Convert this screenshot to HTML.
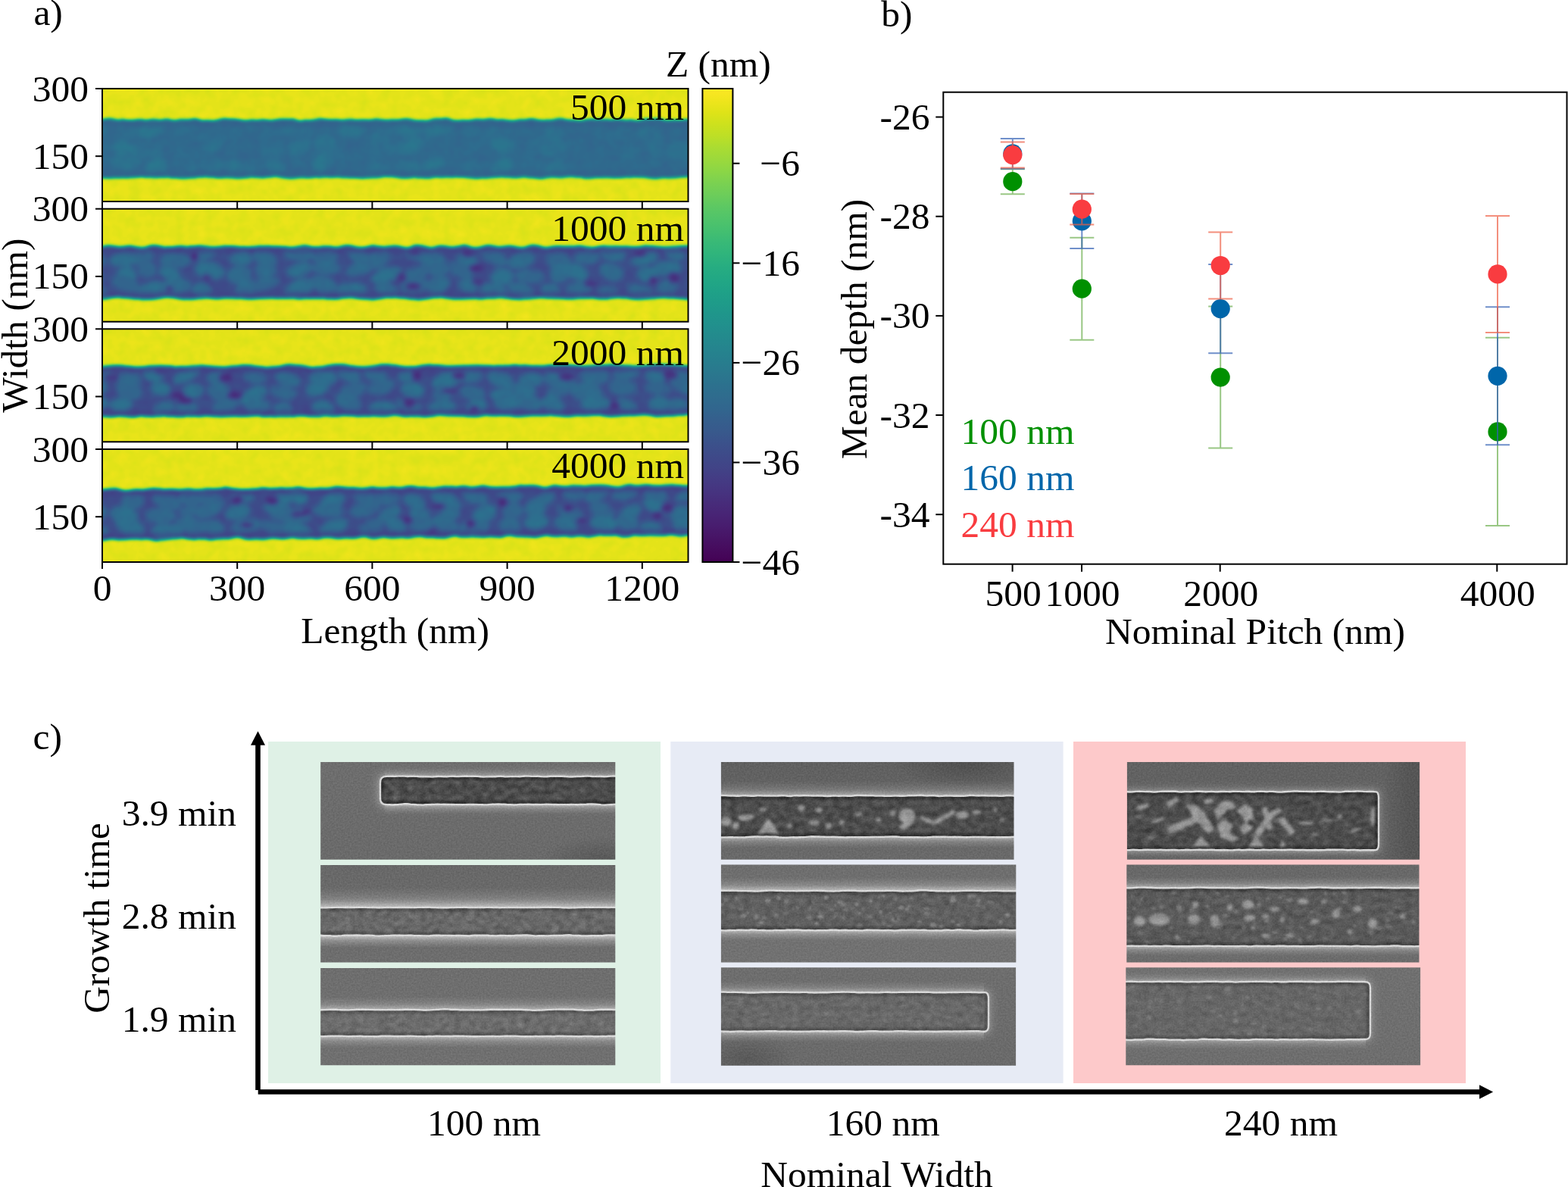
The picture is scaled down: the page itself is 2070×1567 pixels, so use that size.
<!DOCTYPE html>
<html><head><meta charset="utf-8"><title>Figure</title><style>
html,body{margin:0;padding:0;background:#fff;}
body{width:2070px;height:1567px;overflow:hidden;}
svg{display:block;}
text{font-family:"Liberation Serif","Times New Roman",serif;fill:#000;}
</style></head><body>
<svg width="2070" height="1567" viewBox="0 0 2070 1567">
<defs><filter id="virf" x="0" y="0" width="1" height="1" filterUnits="objectBoundingBox" color-interpolation-filters="sRGB">
<feTurbulence type="fractalNoise" baseFrequency="0.07" numOctaves="2" seed="11" result="n"/>
<feColorMatrix in="n" type="matrix" values="1 0 0 0 0 1 0 0 0 0 1 0 0 0 0 0 0 0 0 1" result="ng"/>
<feComposite in="SourceGraphic" in2="ng" operator="arithmetic" k1="0" k2="1" k3="0.045" k4="-0.0225" result="h"/>
<feComponentTransfer in="h"><feFuncR type="table" tableValues="0.267 0.273 0.277 0.280 0.282 0.283 0.283 0.281 0.279 0.275 0.271 0.265 0.259 0.252 0.245 0.237 0.228 0.220 0.212 0.205 0.198 0.191 0.184 0.177 0.171 0.165 0.159 0.153 0.148 0.142 0.136 0.131 0.125 0.122 0.120 0.120 0.122 0.128 0.137 0.150 0.166 0.186 0.208 0.233 0.260 0.289 0.320 0.352 0.395 0.431 0.468 0.506 0.546 0.586 0.627 0.668 0.710 0.752 0.794 0.835 0.876 0.916 0.955 0.993"/><feFuncG type="table" tableValues="0.005 0.026 0.050 0.073 0.095 0.116 0.136 0.156 0.175 0.195 0.214 0.233 0.252 0.270 0.288 0.305 0.327 0.343 0.360 0.376 0.392 0.407 0.422 0.438 0.453 0.467 0.482 0.497 0.512 0.526 0.541 0.556 0.574 0.589 0.604 0.618 0.633 0.648 0.662 0.677 0.691 0.705 0.719 0.732 0.745 0.758 0.771 0.783 0.797 0.808 0.819 0.829 0.838 0.847 0.855 0.862 0.869 0.875 0.881 0.886 0.891 0.896 0.901 0.906"/><feFuncB type="table" tableValues="0.329 0.353 0.376 0.397 0.417 0.436 0.453 0.469 0.483 0.496 0.507 0.517 0.525 0.532 0.537 0.542 0.547 0.549 0.552 0.554 0.555 0.556 0.557 0.558 0.558 0.558 0.558 0.558 0.557 0.556 0.554 0.552 0.549 0.546 0.541 0.536 0.530 0.523 0.516 0.507 0.497 0.485 0.473 0.459 0.444 0.428 0.411 0.393 0.368 0.346 0.324 0.300 0.276 0.250 0.223 0.196 0.169 0.143 0.120 0.103 0.095 0.101 0.118 0.144"/><feFuncA type="identity"/></feComponentTransfer>
</filter>
<filter id="bl2" x="-20%" y="-50%" width="140%" height="200%" color-interpolation-filters="sRGB"><feGaussianBlur stdDeviation="2.2"/></filter>
<filter id="bl3" x="-10%" y="-50%" width="120%" height="200%" color-interpolation-filters="sRGB"><feGaussianBlur stdDeviation="2.6"/></filter>
<filter id="bl4" x="-20%" y="-50%" width="140%" height="200%" color-interpolation-filters="sRGB"><feGaussianBlur stdDeviation="4"/></filter>
<filter id="bl18" x="-10%" y="-50%" width="120%" height="200%" color-interpolation-filters="sRGB"><feGaussianBlur stdDeviation="1.8"/></filter>
<filter id="bl07" x="-10%" y="-50%" width="120%" height="200%" color-interpolation-filters="sRGB"><feGaussianBlur stdDeviation="0.75"/></filter>
<filter id="bl05" x="-10%" y="-50%" width="120%" height="200%" color-interpolation-filters="sRGB"><feGaussianBlur stdDeviation="0.6"/></filter>
<filter id="bl1" x="-10%" y="-50%" width="120%" height="200%" color-interpolation-filters="sRGB"><feGaussianBlur stdDeviation="1.3"/></filter>
<clipPath id="cpa0"><rect x="135.0" y="117.0" width="773.5" height="149.0"/></clipPath>
<clipPath id="cpt0"><path d="M127.0 159.0 L132.0 158.1 L137.0 157.5 L142.0 156.5 L147.0 156.4 L152.0 157.7 L157.0 158.5 L162.0 157.6 L167.0 158.5 L172.0 158.7 L177.0 158.5 L182.0 157.8 L187.0 157.8 L192.0 158.8 L197.0 157.9 L202.0 157.4 L207.0 158.1 L212.0 158.4 L217.0 157.5 L222.0 157.3 L227.0 158.7 L232.0 158.9 L237.0 157.7 L242.0 157.7 L247.0 158.0 L252.0 157.5 L257.0 156.5 L262.0 157.8 L267.0 159.3 L272.0 159.1 L277.0 159.2 L282.0 159.6 L287.0 158.6 L292.0 156.9 L297.0 156.6 L302.0 157.0 L307.0 157.0 L312.0 157.5 L317.0 158.2 L322.0 159.1 L327.0 158.9 L332.0 158.3 L337.0 158.7 L342.0 158.6 L347.0 157.7 L352.0 158.2 L357.0 158.9 L362.0 158.4 L367.0 157.4 L372.0 156.9 L377.0 157.3 L382.0 157.3 L387.0 157.1 L392.0 158.7 L397.0 159.8 L402.0 158.8 L407.0 158.7 L412.0 158.6 L417.0 157.7 L422.0 156.6 L427.0 157.1 L432.0 157.7 L437.0 157.9 L442.0 157.7 L447.0 158.1 L452.0 158.5 L457.0 157.9 L462.0 157.4 L467.0 158.0 L472.0 158.6 L477.0 158.1 L482.0 158.1 L487.0 158.5 L492.0 157.7 L497.0 157.0 L502.0 157.8 L507.0 158.3 L512.0 158.6 L517.0 158.1 L522.0 158.3 L527.0 158.1 L532.0 157.1 L537.0 156.8 L542.0 157.4 L547.0 158.8 L552.0 159.0 L557.0 158.9 L562.0 159.6 L567.0 158.7 L572.0 157.0 L577.0 156.4 L582.0 156.8 L587.0 156.1 L592.0 156.4 L597.0 158.5 L602.0 159.2 L607.0 159.0 L612.0 158.8 L617.0 159.0 L622.0 158.6 L627.0 157.4 L632.0 157.6 L637.0 157.8 L642.0 157.2 L647.0 156.6 L652.0 157.2 L657.0 158.2 L662.0 157.8 L667.0 158.4 L672.0 159.0 L677.0 159.2 L682.0 158.7 L687.0 157.7 L692.0 158.3 L697.0 157.3 L702.0 156.6 L707.0 157.4 L712.0 158.5 L717.0 159.0 L722.0 158.6 L727.0 158.4 L732.0 157.8 L737.0 156.6 L742.0 156.4 L747.0 157.7 L752.0 158.6 L757.0 158.6 L762.0 159.2 L767.0 159.6 L772.0 158.3 L777.0 157.4 L782.0 157.2 L787.0 157.8 L792.0 157.1 L797.0 157.7 L802.0 157.8 L807.0 158.5 L812.0 157.6 L817.0 157.8 L822.0 158.1 L827.0 158.9 L832.0 158.0 L837.0 159.0 L842.0 159.4 L847.0 158.3 L852.0 156.8 L857.0 156.9 L862.0 157.1 L867.0 156.6 L872.0 157.0 L877.0 158.8 L882.0 159.1 L887.0 158.4 L892.0 158.6 L897.0 158.9 L902.0 158.0 L907.0 157.7 L912.0 158.0 L917.0 158.0 L917.0 234.6 L912.0 233.4 L907.0 233.3 L902.0 233.5 L897.0 234.1 L892.0 234.8 L887.0 234.7 L882.0 234.9 L877.0 234.5 L872.0 235.1 L867.0 235.7 L862.0 235.5 L857.0 235.1 L852.0 234.3 L847.0 234.1 L842.0 233.9 L837.0 233.4 L832.0 234.2 L827.0 234.0 L822.0 234.4 L817.0 234.8 L812.0 234.9 L807.0 234.7 L802.0 234.3 L797.0 234.5 L792.0 234.5 L787.0 234.6 L782.0 235.2 L777.0 235.6 L772.0 235.5 L767.0 234.1 L762.0 234.1 L757.0 233.3 L752.0 233.3 L747.0 233.8 L742.0 234.4 L737.0 234.2 L732.0 234.1 L727.0 234.0 L722.0 234.5 L717.0 235.7 L712.0 236.0 L707.0 235.3 L702.0 234.8 L697.0 234.4 L692.0 233.6 L687.0 234.3 L682.0 234.8 L677.0 234.4 L672.0 234.1 L667.0 233.9 L662.0 233.4 L657.0 233.9 L652.0 234.2 L647.0 234.6 L642.0 235.2 L637.0 235.0 L632.0 235.7 L627.0 235.6 L622.0 235.0 L617.0 234.4 L612.0 233.9 L607.0 234.1 L602.0 233.6 L597.0 234.1 L592.0 233.8 L587.0 234.1 L582.0 234.3 L577.0 233.7 L572.0 234.3 L567.0 235.3 L562.0 235.2 L557.0 234.7 L552.0 234.8 L547.0 234.1 L542.0 234.7 L537.0 235.2 L532.0 235.3 L527.0 234.8 L522.0 233.7 L517.0 233.2 L512.0 233.3 L507.0 233.1 L502.0 233.9 L497.0 234.5 L492.0 234.5 L487.0 234.9 L482.0 235.2 L477.0 235.4 L472.0 234.9 L467.0 234.8 L462.0 234.8 L457.0 234.3 L452.0 234.5 L447.0 233.8 L442.0 234.1 L437.0 234.2 L432.0 233.7 L427.0 233.7 L422.0 234.4 L417.0 234.0 L412.0 234.6 L407.0 234.9 L402.0 234.7 L397.0 234.6 L392.0 235.0 L387.0 235.6 L382.0 235.7 L377.0 235.1 L372.0 234.4 L367.0 233.2 L362.0 233.0 L357.0 233.8 L352.0 234.0 L347.0 234.7 L342.0 234.3 L337.0 234.2 L332.0 233.8 L327.0 234.7 L322.0 235.1 L317.0 235.6 L312.0 235.4 L307.0 235.0 L302.0 234.4 L297.0 234.6 L292.0 235.0 L287.0 234.9 L282.0 234.0 L277.0 234.1 L272.0 233.2 L267.0 233.8 L262.0 233.8 L257.0 234.8 L252.0 235.1 L247.0 235.3 L242.0 235.4 L237.0 235.6 L232.0 235.0 L227.0 234.9 L222.0 234.1 L217.0 234.3 L212.0 234.3 L207.0 234.5 L202.0 234.3 L197.0 234.0 L192.0 234.2 L187.0 233.5 L182.0 234.0 L177.0 234.3 L172.0 234.6 L167.0 234.9 L162.0 234.8 L157.0 235.0 L152.0 234.8 L147.0 235.2 L142.0 235.3 L137.0 234.9 L132.0 234.4 L127.0 233.8Z"/></clipPath>
<clipPath id="cpa1"><rect x="135.0" y="275.7" width="773.5" height="149.0"/></clipPath>
<clipPath id="cpt1"><path d="M127.0 327.5 L132.0 326.6 L137.0 325.3 L142.0 324.2 L147.0 324.6 L152.0 325.3 L157.0 325.9 L162.0 325.8 L167.0 325.0 L172.0 324.5 L177.0 325.6 L182.0 326.5 L187.0 327.0 L192.0 326.5 L197.0 324.8 L202.0 324.0 L207.0 324.2 L212.0 325.3 L217.0 326.4 L222.0 326.1 L227.0 325.9 L232.0 325.4 L237.0 325.1 L242.0 325.2 L247.0 325.9 L252.0 325.1 L257.0 325.0 L262.0 324.4 L267.0 324.7 L272.0 325.5 L277.0 326.0 L282.0 326.2 L287.0 326.1 L292.0 325.5 L297.0 324.8 L302.0 325.0 L307.0 325.0 L312.0 325.4 L317.0 325.9 L322.0 325.7 L327.0 326.2 L332.0 326.0 L337.0 325.8 L342.0 325.1 L347.0 325.0 L352.0 324.8 L357.0 325.0 L362.0 325.4 L367.0 325.4 L372.0 325.8 L377.0 325.8 L382.0 326.7 L387.0 326.5 L392.0 325.7 L397.0 324.9 L402.0 324.1 L407.0 324.7 L412.0 326.0 L417.0 326.3 L422.0 326.2 L427.0 325.3 L432.0 325.6 L437.0 325.4 L442.0 326.6 L447.0 326.4 L452.0 325.0 L457.0 323.9 L462.0 324.2 L467.0 325.3 L472.0 326.5 L477.0 326.8 L482.0 326.2 L487.0 325.3 L492.0 324.0 L497.0 325.1 L502.0 325.5 L507.0 326.0 L512.0 325.4 L517.0 325.1 L522.0 324.8 L527.0 325.3 L532.0 326.4 L537.0 327.3 L542.0 326.5 L547.0 324.1 L552.0 323.7 L557.0 324.4 L562.0 325.7 L567.0 327.0 L572.0 326.9 L577.0 325.3 L582.0 324.4 L587.0 325.1 L592.0 326.0 L597.0 326.6 L602.0 325.8 L607.0 324.9 L612.0 323.6 L617.0 324.6 L622.0 326.5 L627.0 327.3 L632.0 326.7 L637.0 325.4 L642.0 323.9 L647.0 323.9 L652.0 324.9 L657.0 326.1 L662.0 326.1 L667.0 325.3 L672.0 324.8 L677.0 325.1 L682.0 326.3 L687.0 326.9 L692.0 326.7 L697.0 325.2 L702.0 323.7 L707.0 324.0 L712.0 325.0 L717.0 326.5 L722.0 326.9 L727.0 325.9 L732.0 325.2 L737.0 324.9 L742.0 325.3 L747.0 325.6 L752.0 325.4 L757.0 325.4 L762.0 324.7 L767.0 324.7 L772.0 325.8 L777.0 326.4 L782.0 326.9 L787.0 326.3 L792.0 325.3 L797.0 324.6 L802.0 325.2 L807.0 325.7 L812.0 325.3 L817.0 325.5 L822.0 325.4 L827.0 325.5 L832.0 326.1 L837.0 325.9 L842.0 326.0 L847.0 325.5 L852.0 324.4 L857.0 324.9 L862.0 325.0 L867.0 325.7 L872.0 326.1 L877.0 326.4 L882.0 326.2 L887.0 325.7 L892.0 325.8 L897.0 325.0 L902.0 325.1 L907.0 324.7 L912.0 324.9 L917.0 325.4 L917.0 395.3 L912.0 395.2 L907.0 395.1 L902.0 394.3 L897.0 394.0 L892.0 393.4 L887.0 393.3 L882.0 393.3 L877.0 392.8 L872.0 393.1 L867.0 393.3 L862.0 393.7 L857.0 394.3 L852.0 394.6 L847.0 395.0 L842.0 395.2 L837.0 394.9 L832.0 394.2 L827.0 393.3 L822.0 393.3 L817.0 392.8 L812.0 393.2 L807.0 393.6 L802.0 394.5 L797.0 394.6 L792.0 394.5 L787.0 394.0 L782.0 393.2 L777.0 393.5 L772.0 393.4 L767.0 393.5 L762.0 393.8 L757.0 394.4 L752.0 394.4 L747.0 394.6 L742.0 394.0 L737.0 393.7 L732.0 393.7 L727.0 393.6 L722.0 393.6 L717.0 393.1 L712.0 393.1 L707.0 393.5 L702.0 394.1 L697.0 394.6 L692.0 394.4 L687.0 395.3 L682.0 394.9 L677.0 394.8 L672.0 394.1 L667.0 393.5 L662.0 392.8 L657.0 393.1 L652.0 393.6 L647.0 393.4 L642.0 393.7 L637.0 394.4 L632.0 394.4 L627.0 394.0 L622.0 394.3 L617.0 394.3 L612.0 394.4 L607.0 394.7 L602.0 394.7 L597.0 394.4 L592.0 393.7 L587.0 393.3 L582.0 392.2 L577.0 393.0 L572.0 392.9 L567.0 394.0 L562.0 394.7 L557.0 395.3 L552.0 395.7 L547.0 395.0 L542.0 395.0 L537.0 394.0 L532.0 393.5 L527.0 393.3 L522.0 392.6 L517.0 392.9 L512.0 392.7 L507.0 393.2 L502.0 394.3 L497.0 394.9 L492.0 395.6 L487.0 395.1 L482.0 394.8 L477.0 394.5 L472.0 394.1 L467.0 393.0 L462.0 392.6 L457.0 393.3 L452.0 393.3 L447.0 394.5 L442.0 394.8 L437.0 394.4 L432.0 394.5 L427.0 393.8 L422.0 394.0 L417.0 393.7 L412.0 394.0 L407.0 394.0 L402.0 394.0 L397.0 394.4 L392.0 394.4 L387.0 393.6 L382.0 394.1 L377.0 393.9 L372.0 393.7 L367.0 394.1 L362.0 393.7 L357.0 393.4 L352.0 393.8 L347.0 393.9 L342.0 394.2 L337.0 394.4 L332.0 394.8 L327.0 394.7 L322.0 394.2 L317.0 393.9 L312.0 393.9 L307.0 393.4 L302.0 393.6 L297.0 393.6 L292.0 394.0 L287.0 394.4 L282.0 394.2 L277.0 393.7 L272.0 393.2 L267.0 394.0 L262.0 394.0 L257.0 394.7 L252.0 395.0 L247.0 394.9 L242.0 395.2 L237.0 394.5 L232.0 393.4 L227.0 392.8 L222.0 392.2 L217.0 392.5 L212.0 393.4 L207.0 394.2 L202.0 394.9 L197.0 395.2 L192.0 395.2 L187.0 395.3 L182.0 394.6 L177.0 394.5 L172.0 393.4 L167.0 393.3 L162.0 392.9 L157.0 392.3 L152.0 392.5 L147.0 393.1 L142.0 394.0 L137.0 394.7 L132.0 395.6 L127.0 395.2Z"/></clipPath>
<clipPath id="cpa2"><rect x="135.0" y="434.3" width="773.5" height="149.0"/></clipPath>
<clipPath id="cpt2"><path d="M127.0 484.7 L132.0 484.1 L137.0 484.0 L142.0 483.2 L147.0 482.7 L152.0 482.4 L157.0 482.6 L162.0 482.8 L167.0 483.6 L172.0 483.8 L177.0 484.6 L182.0 484.7 L187.0 484.6 L192.0 483.9 L197.0 483.2 L202.0 483.0 L207.0 482.9 L212.0 482.7 L217.0 483.1 L222.0 483.2 L227.0 483.6 L232.0 484.4 L237.0 484.0 L242.0 484.0 L247.0 484.0 L252.0 483.6 L257.0 483.0 L262.0 482.7 L267.0 482.6 L272.0 482.9 L277.0 483.5 L282.0 483.9 L287.0 484.2 L292.0 484.4 L297.0 484.7 L302.0 484.0 L307.0 483.6 L312.0 483.2 L317.0 482.5 L322.0 482.0 L327.0 482.3 L332.0 482.5 L337.0 483.4 L342.0 483.9 L347.0 484.5 L352.0 485.2 L357.0 484.8 L362.0 484.2 L367.0 483.9 L372.0 483.1 L377.0 481.7 L382.0 481.2 L387.0 481.8 L392.0 482.2 L397.0 482.5 L402.0 483.3 L407.0 484.5 L412.0 485.2 L417.0 484.8 L422.0 484.6 L427.0 484.0 L432.0 482.8 L437.0 482.0 L442.0 481.2 L447.0 481.2 L452.0 481.2 L457.0 481.8 L462.0 482.9 L467.0 483.6 L472.0 484.2 L477.0 484.5 L482.0 484.6 L487.0 484.0 L492.0 483.5 L497.0 482.4 L502.0 481.6 L507.0 481.2 L512.0 481.3 L517.0 482.0 L522.0 482.2 L527.0 483.2 L532.0 484.0 L537.0 484.4 L542.0 484.2 L547.0 484.2 L552.0 483.5 L557.0 482.6 L562.0 481.9 L567.0 481.6 L572.0 482.0 L577.0 481.9 L582.0 482.6 L587.0 483.2 L592.0 483.5 L597.0 483.4 L602.0 483.1 L607.0 483.1 L612.0 482.8 L617.0 482.8 L622.0 482.6 L627.0 482.6 L632.0 482.5 L637.0 482.8 L642.0 482.7 L647.0 482.8 L652.0 483.2 L657.0 482.7 L662.0 483.1 L667.0 482.8 L672.0 482.8 L677.0 482.0 L682.0 482.1 L687.0 482.7 L692.0 482.2 L697.0 482.7 L702.0 483.0 L707.0 483.0 L712.0 483.3 L717.0 483.2 L722.0 482.5 L727.0 482.0 L732.0 482.4 L737.0 481.9 L742.0 481.7 L747.0 481.8 L752.0 481.9 L757.0 482.6 L762.0 482.7 L767.0 483.1 L772.0 483.4 L777.0 483.0 L782.0 483.1 L787.0 482.1 L792.0 482.3 L797.0 482.0 L802.0 482.0 L807.0 481.3 L812.0 481.8 L817.0 482.1 L822.0 482.5 L827.0 482.7 L832.0 482.8 L837.0 483.4 L842.0 483.3 L847.0 483.0 L852.0 482.9 L857.0 482.2 L862.0 481.5 L867.0 481.7 L872.0 481.1 L877.0 481.6 L882.0 481.8 L887.0 481.7 L892.0 482.1 L897.0 482.4 L902.0 482.7 L907.0 483.5 L912.0 482.8 L917.0 483.0 L917.0 547.6 L912.0 547.4 L907.0 546.8 L902.0 548.0 L897.0 548.1 L892.0 548.4 L887.0 548.9 L882.0 548.9 L877.0 549.3 L872.0 549.6 L867.0 550.1 L862.0 549.0 L857.0 548.1 L852.0 547.4 L847.0 547.6 L842.0 548.0 L837.0 548.6 L832.0 548.2 L827.0 548.4 L822.0 548.6 L817.0 549.2 L812.0 549.4 L807.0 550.0 L802.0 549.6 L797.0 548.9 L792.0 547.8 L787.0 547.9 L782.0 548.1 L777.0 548.4 L772.0 548.8 L767.0 548.7 L762.0 548.5 L757.0 549.1 L752.0 549.7 L747.0 549.8 L742.0 549.5 L737.0 549.1 L732.0 548.7 L727.0 548.0 L722.0 548.4 L717.0 548.5 L712.0 548.5 L707.0 548.6 L702.0 548.4 L697.0 548.9 L692.0 549.3 L687.0 549.8 L682.0 549.9 L677.0 549.4 L672.0 548.8 L667.0 548.7 L662.0 548.4 L657.0 548.7 L652.0 548.7 L647.0 548.5 L642.0 548.1 L637.0 548.7 L632.0 549.7 L627.0 550.0 L622.0 549.8 L617.0 549.8 L612.0 549.1 L607.0 549.1 L602.0 549.0 L597.0 548.7 L592.0 548.8 L587.0 548.2 L582.0 548.1 L577.0 548.0 L572.0 549.2 L567.0 549.7 L562.0 550.2 L557.0 549.9 L552.0 549.2 L547.0 549.4 L542.0 549.3 L537.0 549.9 L532.0 549.4 L527.0 548.4 L522.0 547.8 L517.0 548.2 L512.0 549.2 L507.0 549.6 L502.0 549.4 L497.0 549.2 L492.0 549.1 L487.0 549.5 L482.0 549.4 L477.0 549.6 L472.0 549.8 L467.0 549.1 L462.0 548.7 L457.0 548.4 L452.0 548.6 L447.0 549.2 L442.0 549.5 L437.0 549.6 L432.0 549.1 L427.0 549.1 L422.0 550.1 L417.0 550.1 L412.0 549.7 L407.0 549.7 L402.0 548.9 L397.0 549.0 L392.0 548.9 L387.0 550.0 L382.0 549.6 L377.0 550.1 L372.0 549.4 L367.0 549.9 L362.0 550.2 L357.0 549.8 L352.0 550.1 L347.0 549.9 L342.0 548.8 L337.0 548.7 L332.0 549.2 L327.0 549.4 L322.0 549.7 L317.0 549.8 L312.0 549.5 L307.0 549.5 L302.0 549.8 L297.0 550.1 L292.0 550.3 L287.0 549.7 L282.0 549.7 L277.0 549.3 L272.0 549.1 L267.0 549.4 L262.0 549.9 L257.0 549.5 L252.0 549.8 L247.0 549.3 L242.0 550.2 L237.0 550.3 L232.0 550.3 L227.0 549.8 L222.0 549.9 L217.0 549.1 L212.0 549.4 L207.0 549.6 L202.0 550.3 L197.0 550.1 L192.0 549.7 L187.0 549.1 L182.0 549.7 L177.0 550.7 L172.0 550.5 L167.0 550.0 L162.0 549.5 L157.0 549.2 L152.0 550.0 L147.0 550.4 L142.0 550.3 L137.0 549.8 L132.0 549.6 L127.0 549.9Z"/></clipPath>
<clipPath id="cpa3"><rect x="135.0" y="593.0" width="773.5" height="149.0"/></clipPath>
<clipPath id="cpt3"><path d="M127.0 646.0 L132.0 646.2 L137.0 646.2 L142.0 645.8 L147.0 645.3 L152.0 644.8 L157.0 645.9 L162.0 647.6 L167.0 648.1 L172.0 647.3 L177.0 646.6 L182.0 646.3 L187.0 646.8 L192.0 646.2 L197.0 645.4 L202.0 644.7 L207.0 645.1 L212.0 645.6 L217.0 646.0 L222.0 645.8 L227.0 645.8 L232.0 645.9 L237.0 646.5 L242.0 645.9 L247.0 645.4 L252.0 645.4 L257.0 646.4 L262.0 646.6 L267.0 646.2 L272.0 645.1 L277.0 645.0 L282.0 645.2 L287.0 645.1 L292.0 644.8 L297.0 643.3 L302.0 644.0 L307.0 645.0 L312.0 645.5 L317.0 646.0 L322.0 646.1 L327.0 646.1 L332.0 645.8 L337.0 645.6 L342.0 644.8 L347.0 644.0 L352.0 644.5 L357.0 645.0 L362.0 644.7 L367.0 644.5 L372.0 644.1 L377.0 644.8 L382.0 644.5 L387.0 644.3 L392.0 643.1 L397.0 643.6 L402.0 644.8 L407.0 645.5 L412.0 645.6 L417.0 645.1 L422.0 644.5 L427.0 644.7 L432.0 644.7 L437.0 643.9 L442.0 642.8 L447.0 642.8 L452.0 643.1 L457.0 643.8 L462.0 643.9 L467.0 643.8 L472.0 644.5 L477.0 645.0 L482.0 644.4 L487.0 643.9 L492.0 643.0 L497.0 644.0 L502.0 644.2 L507.0 644.2 L512.0 643.9 L517.0 642.9 L522.0 643.6 L527.0 644.1 L532.0 643.6 L537.0 642.3 L542.0 641.7 L547.0 642.2 L552.0 643.4 L557.0 643.4 L562.0 643.5 L567.0 644.3 L572.0 644.4 L577.0 643.7 L582.0 643.1 L587.0 642.3 L592.0 642.7 L597.0 642.6 L602.0 642.9 L607.0 642.3 L612.0 641.8 L617.0 642.4 L622.0 643.4 L627.0 643.1 L632.0 642.3 L637.0 641.3 L642.0 642.1 L647.0 642.9 L652.0 643.2 L657.0 643.5 L662.0 643.3 L667.0 643.1 L672.0 642.9 L677.0 642.6 L682.0 641.9 L687.0 640.8 L692.0 641.3 L697.0 641.1 L702.0 641.1 L707.0 641.2 L712.0 642.2 L717.0 643.5 L722.0 643.7 L727.0 642.1 L732.0 640.8 L737.0 641.6 L742.0 642.3 L747.0 642.6 L752.0 641.8 L757.0 641.0 L762.0 641.6 L767.0 641.6 L772.0 641.9 L777.0 641.4 L782.0 640.8 L787.0 640.8 L792.0 640.6 L797.0 640.7 L802.0 641.1 L807.0 642.2 L812.0 643.1 L817.0 643.2 L822.0 641.9 L827.0 640.4 L832.0 639.8 L837.0 640.9 L842.0 641.3 L847.0 640.7 L852.0 640.0 L857.0 640.2 L862.0 641.1 L867.0 641.2 L872.0 641.3 L877.0 640.8 L882.0 640.4 L887.0 640.1 L892.0 640.8 L897.0 640.7 L902.0 641.4 L907.0 641.4 L912.0 641.5 L917.0 640.3 L917.0 706.2 L912.0 706.4 L907.0 706.3 L902.0 707.2 L897.0 707.5 L892.0 706.5 L887.0 705.7 L882.0 705.9 L877.0 706.9 L872.0 707.1 L867.0 706.8 L862.0 706.8 L857.0 706.6 L852.0 707.0 L847.0 707.1 L842.0 706.7 L837.0 706.3 L832.0 707.9 L827.0 708.8 L822.0 708.7 L817.0 707.3 L812.0 706.3 L807.0 706.7 L802.0 706.7 L797.0 706.7 L792.0 706.0 L787.0 706.9 L782.0 707.9 L777.0 708.7 L772.0 707.9 L767.0 707.2 L762.0 707.4 L757.0 708.4 L752.0 708.4 L747.0 707.6 L742.0 707.4 L737.0 707.9 L732.0 708.0 L727.0 707.6 L722.0 706.6 L717.0 707.3 L712.0 708.4 L707.0 709.4 L702.0 709.0 L697.0 708.4 L692.0 708.4 L687.0 708.2 L682.0 708.2 L677.0 707.3 L672.0 706.8 L667.0 707.4 L662.0 709.3 L657.0 709.1 L652.0 708.8 L647.0 708.3 L642.0 708.9 L637.0 709.3 L632.0 708.7 L627.0 708.4 L622.0 708.2 L617.0 709.1 L612.0 708.9 L607.0 708.7 L602.0 707.3 L597.0 707.8 L592.0 709.0 L587.0 710.2 L582.0 710.0 L577.0 710.0 L572.0 709.3 L567.0 709.3 L562.0 709.2 L557.0 708.1 L552.0 708.0 L547.0 708.5 L542.0 709.8 L537.0 710.3 L532.0 709.2 L527.0 709.4 L522.0 710.0 L517.0 710.2 L512.0 709.7 L507.0 709.1 L502.0 709.6 L497.0 710.6 L492.0 710.7 L487.0 709.8 L482.0 708.3 L477.0 708.5 L472.0 709.7 L467.0 710.5 L462.0 710.3 L457.0 710.0 L452.0 710.4 L447.0 710.9 L442.0 710.6 L437.0 709.5 L432.0 709.2 L427.0 709.5 L422.0 710.9 L417.0 711.3 L412.0 710.2 L407.0 710.4 L402.0 711.1 L397.0 710.7 L392.0 710.4 L387.0 709.6 L382.0 710.1 L377.0 711.1 L372.0 711.3 L367.0 710.8 L362.0 710.2 L357.0 710.6 L352.0 711.5 L347.0 712.0 L342.0 711.7 L337.0 711.5 L332.0 712.0 L327.0 712.1 L322.0 710.9 L317.0 709.3 L312.0 708.8 L307.0 710.0 L302.0 711.2 L297.0 711.1 L292.0 711.2 L287.0 711.6 L282.0 712.2 L277.0 712.8 L272.0 711.5 L267.0 711.5 L262.0 711.2 L257.0 712.3 L252.0 711.7 L247.0 711.2 L242.0 710.0 L237.0 710.3 L232.0 711.1 L227.0 711.3 L222.0 711.9 L217.0 712.4 L212.0 713.1 L207.0 714.1 L202.0 713.0 L197.0 711.8 L192.0 711.2 L187.0 711.9 L182.0 711.6 L177.0 711.5 L172.0 711.4 L167.0 712.1 L162.0 712.3 L157.0 712.4 L152.0 712.0 L147.0 711.4 L142.0 712.3 L137.0 713.2 L132.0 713.4 L127.0 713.2Z"/></clipPath>
<linearGradient id="cbg" x1="0" y1="0" x2="0" y2="1"><stop offset="0.000" stop-color="#fde725"/><stop offset="0.025" stop-color="#efe51c"/><stop offset="0.050" stop-color="#dfe318"/><stop offset="0.075" stop-color="#cde11d"/><stop offset="0.100" stop-color="#bddf26"/><stop offset="0.125" stop-color="#aadc32"/><stop offset="0.150" stop-color="#9bd93c"/><stop offset="0.175" stop-color="#8bd646"/><stop offset="0.200" stop-color="#7ad151"/><stop offset="0.225" stop-color="#6ccd5a"/><stop offset="0.250" stop-color="#5cc863"/><stop offset="0.275" stop-color="#50c46a"/><stop offset="0.300" stop-color="#44bf70"/><stop offset="0.325" stop-color="#38b977"/><stop offset="0.350" stop-color="#2fb47c"/><stop offset="0.375" stop-color="#27ad81"/><stop offset="0.400" stop-color="#22a884"/><stop offset="0.425" stop-color="#1fa287"/><stop offset="0.450" stop-color="#1e9c89"/><stop offset="0.475" stop-color="#1f968b"/><stop offset="0.500" stop-color="#21908d"/><stop offset="0.525" stop-color="#238a8d"/><stop offset="0.550" stop-color="#25848e"/><stop offset="0.575" stop-color="#277e8e"/><stop offset="0.600" stop-color="#2a788e"/><stop offset="0.625" stop-color="#2c718e"/><stop offset="0.650" stop-color="#2f6c8e"/><stop offset="0.675" stop-color="#31668e"/><stop offset="0.700" stop-color="#355f8d"/><stop offset="0.725" stop-color="#38598c"/><stop offset="0.750" stop-color="#3b518b"/><stop offset="0.775" stop-color="#3e4a89"/><stop offset="0.800" stop-color="#414487"/><stop offset="0.825" stop-color="#443b84"/><stop offset="0.850" stop-color="#463480"/><stop offset="0.875" stop-color="#472c7a"/><stop offset="0.900" stop-color="#482475"/><stop offset="0.925" stop-color="#481c6e"/><stop offset="0.950" stop-color="#471365"/><stop offset="0.975" stop-color="#460a5d"/><stop offset="1.000" stop-color="#440154"/></linearGradient>
<filter id="mott0" x="0" y="0" width="1" height="1" color-interpolation-filters="sRGB">
<feGaussianBlur in="SourceGraphic" stdDeviation="1.2" result="b"/>
<feTurbulence type="fractalNoise" baseFrequency="0.11 0.14" numOctaves="1" seed="20" result="n"/>
<feColorMatrix in="n" type="matrix" values="1 0 0 0 0 1 0 0 0 0 1 0 0 0 0 0 0 0 0 1" result="ng"/>
<feComposite in="b" in2="ng" operator="arithmetic" k1="0" k2="1" k3="0.220" k4="-0.110"/>
</filter>
<filter id="mott1" x="0" y="0" width="1" height="1" color-interpolation-filters="sRGB">
<feGaussianBlur in="SourceGraphic" stdDeviation="1.2" result="b"/>
<feTurbulence type="fractalNoise" baseFrequency="0.11 0.14" numOctaves="1" seed="21" result="n"/>
<feColorMatrix in="n" type="matrix" values="1 0 0 0 0 1 0 0 0 0 1 0 0 0 0 0 0 0 0 1" result="ng"/>
<feComposite in="b" in2="ng" operator="arithmetic" k1="0" k2="1" k3="0.200" k4="-0.100"/>
</filter>
<filter id="mott2" x="0" y="0" width="1" height="1" color-interpolation-filters="sRGB">
<feGaussianBlur in="SourceGraphic" stdDeviation="1.2" result="b"/>
<feTurbulence type="fractalNoise" baseFrequency="0.11 0.14" numOctaves="1" seed="22" result="n"/>
<feColorMatrix in="n" type="matrix" values="1 0 0 0 0 1 0 0 0 0 1 0 0 0 0 0 0 0 0 1" result="ng"/>
<feComposite in="b" in2="ng" operator="arithmetic" k1="0" k2="1" k3="0.160" k4="-0.080"/>
</filter>
<filter id="mott3" x="0" y="0" width="1" height="1" color-interpolation-filters="sRGB">
<feGaussianBlur in="SourceGraphic" stdDeviation="1.2" result="b"/>
<feTurbulence type="fractalNoise" baseFrequency="0.11 0.14" numOctaves="1" seed="23" result="n"/>
<feColorMatrix in="n" type="matrix" values="1 0 0 0 0 1 0 0 0 0 1 0 0 0 0 0 0 0 0 1" result="ng"/>
<feComposite in="b" in2="ng" operator="arithmetic" k1="0" k2="1" k3="0.200" k4="-0.100"/>
</filter>
<filter id="mott4" x="0" y="0" width="1" height="1" color-interpolation-filters="sRGB">
<feGaussianBlur in="SourceGraphic" stdDeviation="1.2" result="b"/>
<feTurbulence type="fractalNoise" baseFrequency="0.11 0.14" numOctaves="1" seed="24" result="n"/>
<feColorMatrix in="n" type="matrix" values="1 0 0 0 0 1 0 0 0 0 1 0 0 0 0 0 0 0 0 1" result="ng"/>
<feComposite in="b" in2="ng" operator="arithmetic" k1="0" k2="1" k3="0.150" k4="-0.075"/>
</filter>
<filter id="mott5" x="0" y="0" width="1" height="1" color-interpolation-filters="sRGB">
<feGaussianBlur in="SourceGraphic" stdDeviation="1.2" result="b"/>
<feTurbulence type="fractalNoise" baseFrequency="0.11 0.14" numOctaves="1" seed="25" result="n"/>
<feColorMatrix in="n" type="matrix" values="1 0 0 0 0 1 0 0 0 0 1 0 0 0 0 0 0 0 0 1" result="ng"/>
<feComposite in="b" in2="ng" operator="arithmetic" k1="0" k2="1" k3="0.140" k4="-0.070"/>
</filter>
<filter id="mott6" x="0" y="0" width="1" height="1" color-interpolation-filters="sRGB">
<feGaussianBlur in="SourceGraphic" stdDeviation="1.2" result="b"/>
<feTurbulence type="fractalNoise" baseFrequency="0.11 0.14" numOctaves="1" seed="26" result="n"/>
<feColorMatrix in="n" type="matrix" values="1 0 0 0 0 1 0 0 0 0 1 0 0 0 0 0 0 0 0 1" result="ng"/>
<feComposite in="b" in2="ng" operator="arithmetic" k1="0" k2="1" k3="0.200" k4="-0.100"/>
</filter>
<filter id="mott7" x="0" y="0" width="1" height="1" color-interpolation-filters="sRGB">
<feGaussianBlur in="SourceGraphic" stdDeviation="1.2" result="b"/>
<feTurbulence type="fractalNoise" baseFrequency="0.11 0.14" numOctaves="1" seed="27" result="n"/>
<feColorMatrix in="n" type="matrix" values="1 0 0 0 0 1 0 0 0 0 1 0 0 0 0 0 0 0 0 1" result="ng"/>
<feComposite in="b" in2="ng" operator="arithmetic" k1="0" k2="1" k3="0.150" k4="-0.075"/>
</filter>
<filter id="mott8" x="0" y="0" width="1" height="1" color-interpolation-filters="sRGB">
<feGaussianBlur in="SourceGraphic" stdDeviation="1.2" result="b"/>
<feTurbulence type="fractalNoise" baseFrequency="0.11 0.14" numOctaves="1" seed="28" result="n"/>
<feColorMatrix in="n" type="matrix" values="1 0 0 0 0 1 0 0 0 0 1 0 0 0 0 0 0 0 0 1" result="ng"/>
<feComposite in="b" in2="ng" operator="arithmetic" k1="0" k2="1" k3="0.120" k4="-0.060"/>
</filter>
<radialGradient id="dks"><stop offset="0" stop-color="#000" stop-opacity="0.17"/><stop offset="1" stop-color="#000" stop-opacity="0"/></radialGradient>
<linearGradient id="dkr" x1="0" y1="0" x2="1" y2="0"><stop offset="0" stop-color="#000" stop-opacity="0"/><stop offset="0.6" stop-color="#000" stop-opacity="0.12"/><stop offset="1" stop-color="#000" stop-opacity="0.14"/></linearGradient>
<filter id="grain" x="0" y="0" width="1" height="1" color-interpolation-filters="sRGB">
<feTurbulence type="fractalNoise" baseFrequency="0.45" numOctaves="2" seed="5" result="n"/>
<feColorMatrix in="n" type="matrix" values="1 0 0 0 0 1 0 0 0 0 1 0 0 0 0 0 0 0 0 1" result="ng"/>
<feComposite in="SourceGraphic" in2="ng" operator="arithmetic" k1="0" k2="1" k3="0.11" k4="-0.055"/>
</filter>
<clipPath id="cps0"><rect x="423.2" y="1006.0" width="389.1" height="128.7"/></clipPath>
<linearGradient id="sbg0" x1="0" y1="0" x2="0" y2="1"><stop offset="0" stop-color="#6e6e6e"/><stop offset="1" stop-color="#6a6a6a"/></linearGradient>
<linearGradient id="hgt0" x1="0" y1="0" x2="0" y2="1"><stop offset="0" stop-color="#fff" stop-opacity="0"/><stop offset="0.6" stop-color="#fff" stop-opacity="0.063"/><stop offset="1" stop-color="#fff" stop-opacity="0.180"/></linearGradient>
<linearGradient id="hgb0" x1="0" y1="0" x2="0" y2="1"><stop offset="0" stop-color="#fff" stop-opacity="0.300"/><stop offset="0.4" stop-color="#fff" stop-opacity="0.120"/><stop offset="1" stop-color="#fff" stop-opacity="0"/></linearGradient>
<clipPath id="cst0"><path d="M510.0 1024.9 L514.0 1024.8 L518.0 1024.8 L522.0 1024.9 L526.0 1024.6 L530.0 1024.6 L534.0 1024.6 L538.0 1025.0 L542.0 1024.8 L546.0 1024.6 L550.0 1024.9 L554.0 1025.2 L558.0 1025.2 L562.0 1025.2 L566.0 1025.4 L570.0 1025.6 L574.0 1025.3 L578.0 1025.0 L582.0 1025.0 L586.0 1025.2 L590.0 1025.3 L594.0 1024.9 L598.0 1024.8 L602.0 1025.1 L606.0 1025.1 L610.0 1024.7 L614.0 1024.5 L618.0 1024.8 L622.0 1024.8 L626.0 1024.8 L630.0 1024.9 L634.0 1025.2 L638.0 1025.6 L642.0 1025.4 L646.0 1025.2 L650.0 1025.1 L654.0 1025.2 L658.0 1024.8 L662.0 1024.6 L666.0 1025.2 L670.0 1025.4 L674.0 1025.1 L678.0 1025.1 L682.0 1025.1 L686.0 1025.3 L690.0 1024.7 L694.0 1024.5 L698.0 1024.6 L702.0 1024.9 L706.0 1024.9 L710.0 1024.8 L714.0 1025.1 L718.0 1025.4 L722.0 1025.2 L726.0 1024.7 L730.0 1024.8 L734.0 1024.8 L738.0 1024.7 L742.0 1024.7 L746.0 1025.0 L750.0 1025.4 L754.0 1025.5 L758.0 1025.2 L762.0 1025.0 L766.0 1025.1 L770.0 1024.8 L774.0 1024.6 L778.0 1024.6 L782.0 1025.0 L786.0 1025.1 L790.0 1024.9 L794.0 1025.0 L798.0 1025.2 L802.0 1025.1 L806.0 1024.6 L810.0 1024.5 L814.0 1024.6 L818.0 1025.0 L822.0 1024.9 L826.3 1024.9 L826.3 1061.9 L822.0 1061.9 L818.0 1061.7 L814.0 1061.8 L810.0 1062.0 L806.0 1062.2 L802.0 1062.4 L798.0 1062.6 L794.0 1062.4 L790.0 1061.9 L786.0 1061.7 L782.0 1061.5 L778.0 1061.5 L774.0 1061.8 L770.0 1062.0 L766.0 1062.0 L762.0 1062.2 L758.0 1062.1 L754.0 1062.0 L750.0 1062.2 L746.0 1062.1 L742.0 1062.1 L738.0 1062.2 L734.0 1062.0 L730.0 1062.0 L726.0 1061.9 L722.0 1061.7 L718.0 1061.9 L714.0 1062.1 L710.0 1062.0 L706.0 1062.0 L702.0 1062.0 L698.0 1061.8 L694.0 1061.9 L690.0 1062.0 L686.0 1062.0 L682.0 1062.4 L678.0 1062.5 L674.0 1062.3 L670.0 1062.3 L666.0 1061.7 L662.0 1061.7 L658.0 1061.5 L654.0 1061.8 L650.0 1061.8 L646.0 1062.1 L642.0 1062.4 L638.0 1062.3 L634.0 1062.1 L630.0 1062.1 L626.0 1062.0 L622.0 1061.9 L618.0 1062.0 L614.0 1062.1 L610.0 1062.3 L606.0 1062.1 L602.0 1062.1 L598.0 1062.0 L594.0 1062.0 L590.0 1062.0 L586.0 1061.8 L582.0 1061.9 L578.0 1061.8 L574.0 1061.9 L570.0 1062.0 L566.0 1062.1 L562.0 1062.2 L558.0 1062.6 L554.0 1062.4 L550.0 1062.3 L546.0 1061.9 L542.0 1061.7 L538.0 1061.3 L534.0 1061.3 L530.0 1061.6 L526.0 1062.0 L522.0 1062.2 L518.0 1062.5 L514.0 1062.3 L510.0 1062.1 Q502.0 1062.0 502.0 1054.0 L502.0 1033.0 Q502.0 1025.0 510.0 1024.9Z"/></clipPath>
<clipPath id="cps1"><rect x="423.2" y="1142.0" width="389.1" height="128.4"/></clipPath>
<linearGradient id="sbg1" x1="0" y1="0" x2="0" y2="1"><stop offset="0" stop-color="#686868"/><stop offset="1" stop-color="#6e6e6e"/></linearGradient>
<linearGradient id="hgt1" x1="0" y1="0" x2="0" y2="1"><stop offset="0" stop-color="#fff" stop-opacity="0"/><stop offset="0.6" stop-color="#fff" stop-opacity="0.147"/><stop offset="1" stop-color="#fff" stop-opacity="0.420"/></linearGradient>
<linearGradient id="hgb1" x1="0" y1="0" x2="0" y2="1"><stop offset="0" stop-color="#fff" stop-opacity="0.450"/><stop offset="0.4" stop-color="#fff" stop-opacity="0.180"/><stop offset="1" stop-color="#fff" stop-opacity="0"/></linearGradient>
<clipPath id="cst1"><path d="M415.2 1198.4 L419.2 1198.4 L423.2 1198.4 L427.2 1198.4 L431.2 1198.2 L435.2 1198.1 L439.2 1198.1 L443.2 1197.9 L447.2 1197.9 L451.2 1197.9 L455.2 1198.0 L459.2 1197.8 L463.2 1198.0 L467.2 1198.0 L471.2 1197.8 L475.2 1197.8 L479.2 1197.9 L483.2 1197.9 L487.2 1198.1 L491.2 1197.9 L495.2 1198.0 L499.2 1198.3 L503.2 1198.2 L507.2 1198.1 L511.2 1198.0 L515.2 1198.0 L519.2 1198.1 L523.2 1198.0 L527.2 1198.0 L531.2 1197.9 L535.2 1198.0 L539.2 1198.0 L543.2 1198.1 L547.2 1198.1 L551.2 1197.9 L555.2 1197.9 L559.2 1197.8 L563.2 1197.8 L567.2 1197.7 L571.2 1198.1 L575.2 1198.1 L579.2 1198.3 L583.2 1198.3 L587.2 1198.3 L591.2 1198.2 L595.2 1198.1 L599.2 1198.1 L603.2 1197.8 L607.2 1197.9 L611.2 1197.8 L615.2 1197.8 L619.2 1198.0 L623.2 1198.1 L627.2 1198.1 L631.2 1198.0 L635.2 1197.9 L639.2 1198.0 L643.2 1197.9 L647.2 1197.9 L651.2 1198.0 L655.2 1197.9 L659.2 1198.2 L663.2 1198.1 L667.2 1198.1 L671.2 1198.0 L675.2 1198.1 L679.2 1198.1 L683.2 1198.0 L687.2 1197.9 L691.2 1198.0 L695.2 1198.1 L699.2 1198.0 L703.2 1198.0 L707.2 1198.0 L711.2 1198.0 L715.2 1197.9 L719.2 1197.8 L723.2 1197.8 L727.2 1197.7 L731.2 1197.8 L735.2 1197.9 L739.2 1197.9 L743.2 1198.2 L747.2 1198.2 L751.2 1198.5 L755.2 1198.4 L759.2 1198.2 L763.2 1198.1 L767.2 1198.0 L771.2 1197.9 L775.2 1197.8 L779.2 1197.7 L783.2 1197.8 L787.2 1197.9 L791.2 1197.9 L795.2 1197.8 L799.2 1197.8 L803.2 1198.0 L807.2 1197.8 L811.2 1197.9 L815.2 1197.9 L819.2 1198.2 L823.2 1198.1 L826.3 1198.1 L826.3 1235.2 L823.2 1235.2 L819.2 1234.7 L815.2 1234.6 L811.2 1234.5 L807.2 1234.4 L803.2 1234.5 L799.2 1234.8 L795.2 1235.2 L791.2 1235.3 L787.2 1235.2 L783.2 1235.3 L779.2 1235.3 L775.2 1235.5 L771.2 1235.4 L767.2 1235.3 L763.2 1235.0 L759.2 1234.9 L755.2 1234.6 L751.2 1234.2 L747.2 1234.4 L743.2 1234.8 L739.2 1234.9 L735.2 1235.0 L731.2 1234.9 L727.2 1235.1 L723.2 1235.4 L719.2 1235.3 L715.2 1235.1 L711.2 1235.3 L707.2 1235.6 L703.2 1235.1 L699.2 1234.6 L695.2 1234.5 L691.2 1234.5 L687.2 1234.7 L683.2 1234.7 L679.2 1235.0 L675.2 1235.2 L671.2 1235.2 L667.2 1235.1 L663.2 1235.0 L659.2 1235.0 L655.2 1235.4 L651.2 1235.3 L647.2 1235.2 L643.2 1234.8 L639.2 1234.8 L635.2 1234.8 L631.2 1234.8 L627.2 1234.7 L623.2 1235.0 L619.2 1235.5 L615.2 1235.2 L611.2 1235.1 L607.2 1235.0 L603.2 1235.0 L599.2 1235.1 L595.2 1235.0 L591.2 1234.9 L587.2 1234.9 L583.2 1235.0 L579.2 1234.7 L575.2 1234.6 L571.2 1234.9 L567.2 1235.3 L563.2 1235.4 L559.2 1235.4 L555.2 1235.2 L551.2 1235.3 L547.2 1235.1 L543.2 1234.8 L539.2 1234.8 L535.2 1234.9 L531.2 1235.0 L527.2 1234.8 L523.2 1234.6 L519.2 1234.7 L515.2 1235.0 L511.2 1235.1 L507.2 1235.3 L503.2 1235.4 L499.2 1235.6 L495.2 1235.4 L491.2 1234.9 L487.2 1234.8 L483.2 1234.7 L479.2 1234.9 L475.2 1234.7 L471.2 1234.5 L467.2 1234.7 L463.2 1234.8 L459.2 1234.7 L455.2 1234.7 L451.2 1235.1 L447.2 1235.4 L443.2 1235.8 L439.2 1235.6 L435.2 1235.1 L431.2 1235.1 L427.2 1235.2 L423.2 1234.8 L419.2 1234.7 L415.2 1234.7 L409.2 1234.7 L409.2 1198.4Z"/></clipPath>
<clipPath id="cps2"><rect x="423.2" y="1278.0" width="389.1" height="128.3"/></clipPath>
<linearGradient id="sbg2" x1="0" y1="0" x2="0" y2="1"><stop offset="0" stop-color="#6e6e6e"/><stop offset="1" stop-color="#707070"/></linearGradient>
<linearGradient id="hgt2" x1="0" y1="0" x2="0" y2="1"><stop offset="0" stop-color="#fff" stop-opacity="0"/><stop offset="0.6" stop-color="#fff" stop-opacity="0.105"/><stop offset="1" stop-color="#fff" stop-opacity="0.300"/></linearGradient>
<linearGradient id="hgb2" x1="0" y1="0" x2="0" y2="1"><stop offset="0" stop-color="#fff" stop-opacity="0.350"/><stop offset="0.4" stop-color="#fff" stop-opacity="0.140"/><stop offset="1" stop-color="#fff" stop-opacity="0"/></linearGradient>
<clipPath id="cst2"><path d="M415.2 1333.0 L419.2 1333.2 L423.2 1333.2 L427.2 1333.1 L431.2 1333.0 L435.2 1332.7 L439.2 1332.8 L443.2 1332.8 L447.2 1333.1 L451.2 1333.2 L455.2 1333.3 L459.2 1333.4 L463.2 1333.1 L467.2 1333.1 L471.2 1332.8 L475.2 1332.8 L479.2 1332.8 L483.2 1332.8 L487.2 1332.9 L491.2 1332.9 L495.2 1333.0 L499.2 1333.0 L503.2 1333.1 L507.2 1333.1 L511.2 1333.1 L515.2 1332.9 L519.2 1333.0 L523.2 1333.1 L527.2 1332.9 L531.2 1333.0 L535.2 1332.8 L539.2 1332.8 L543.2 1332.9 L547.2 1332.9 L551.2 1333.1 L555.2 1333.3 L559.2 1333.5 L563.2 1333.5 L567.2 1333.4 L571.2 1333.1 L575.2 1332.9 L579.2 1332.7 L583.2 1332.4 L587.2 1332.3 L591.2 1332.4 L595.2 1332.7 L599.2 1332.8 L603.2 1332.9 L607.2 1333.2 L611.2 1333.0 L615.2 1333.2 L619.2 1333.4 L623.2 1333.3 L627.2 1333.4 L631.2 1333.3 L635.2 1333.4 L639.2 1333.2 L643.2 1333.0 L647.2 1332.8 L651.2 1332.6 L655.2 1332.8 L659.2 1332.7 L663.2 1332.8 L667.2 1332.9 L671.2 1332.9 L675.2 1332.8 L679.2 1332.8 L683.2 1332.7 L687.2 1332.7 L691.2 1333.0 L695.2 1333.2 L699.2 1333.4 L703.2 1333.7 L707.2 1333.7 L711.2 1333.5 L715.2 1333.6 L719.2 1333.3 L723.2 1332.9 L727.2 1332.9 L731.2 1332.6 L735.2 1332.6 L739.2 1332.5 L743.2 1332.4 L747.2 1332.6 L751.2 1332.6 L755.2 1332.6 L759.2 1332.8 L763.2 1333.2 L767.2 1333.3 L771.2 1333.7 L775.2 1333.6 L779.2 1333.6 L783.2 1333.6 L787.2 1333.1 L791.2 1332.8 L795.2 1332.7 L799.2 1332.7 L803.2 1332.7 L807.2 1332.7 L811.2 1333.0 L815.2 1332.9 L819.2 1332.7 L823.2 1332.8 L826.3 1332.8 L826.3 1368.0 L823.2 1368.0 L819.2 1368.0 L815.2 1367.8 L811.2 1367.7 L807.2 1367.7 L803.2 1367.8 L799.2 1368.1 L795.2 1368.0 L791.2 1368.1 L787.2 1368.2 L783.2 1368.1 L779.2 1367.9 L775.2 1367.9 L771.2 1367.9 L767.2 1368.2 L763.2 1368.3 L759.2 1368.1 L755.2 1368.0 L751.2 1368.0 L747.2 1367.9 L743.2 1367.7 L739.2 1367.7 L735.2 1367.7 L731.2 1368.1 L727.2 1367.9 L723.2 1368.0 L719.2 1368.0 L715.2 1368.0 L711.2 1368.1 L707.2 1367.9 L703.2 1368.2 L699.2 1368.3 L695.2 1368.2 L691.2 1368.2 L687.2 1368.2 L683.2 1367.9 L679.2 1367.7 L675.2 1367.8 L671.2 1367.8 L667.2 1367.7 L663.2 1367.9 L659.2 1368.1 L655.2 1368.1 L651.2 1368.0 L647.2 1367.9 L643.2 1368.0 L639.2 1368.1 L635.2 1368.1 L631.2 1368.2 L627.2 1368.2 L623.2 1368.2 L619.2 1368.0 L615.2 1367.9 L611.2 1367.8 L607.2 1367.8 L603.2 1367.7 L599.2 1367.8 L595.2 1368.0 L591.2 1368.0 L587.2 1367.9 L583.2 1367.9 L579.2 1367.8 L575.2 1367.8 L571.2 1368.1 L567.2 1368.0 L563.2 1368.2 L559.2 1368.4 L555.2 1368.1 L551.2 1368.1 L547.2 1367.9 L543.2 1367.8 L539.2 1367.8 L535.2 1367.9 L531.2 1368.0 L527.2 1368.0 L523.2 1368.0 L519.2 1367.9 L515.2 1367.8 L511.2 1367.7 L507.2 1367.7 L503.2 1367.8 L499.2 1368.2 L495.2 1368.2 L491.2 1368.1 L487.2 1368.1 L483.2 1368.1 L479.2 1368.0 L475.2 1367.8 L471.2 1367.9 L467.2 1368.0 L463.2 1368.2 L459.2 1368.2 L455.2 1367.9 L451.2 1367.8 L447.2 1367.7 L443.2 1367.6 L439.2 1367.8 L435.2 1367.8 L431.2 1368.0 L427.2 1368.2 L423.2 1368.0 L419.2 1368.0 L415.2 1368.1 L409.2 1368.1 L409.2 1333.0Z"/></clipPath>
<clipPath id="cps3"><rect x="951.9" y="1006.0" width="386.6" height="128.7"/></clipPath>
<linearGradient id="sbg3" x1="0" y1="0" x2="0" y2="1"><stop offset="0" stop-color="#606060"/><stop offset="1" stop-color="#6a6a6a"/></linearGradient>
<linearGradient id="hgt3" x1="0" y1="0" x2="0" y2="1"><stop offset="0" stop-color="#fff" stop-opacity="0"/><stop offset="0.6" stop-color="#fff" stop-opacity="0.105"/><stop offset="1" stop-color="#fff" stop-opacity="0.300"/></linearGradient>
<linearGradient id="hgb3" x1="0" y1="0" x2="0" y2="1"><stop offset="0" stop-color="#fff" stop-opacity="0.320"/><stop offset="0.4" stop-color="#fff" stop-opacity="0.128"/><stop offset="1" stop-color="#fff" stop-opacity="0"/></linearGradient>
<clipPath id="cst3"><path d="M943.9 1050.4 L947.9 1050.1 L951.9 1050.0 L955.9 1050.1 L959.9 1050.4 L963.9 1050.5 L967.9 1050.5 L971.9 1050.7 L975.9 1050.7 L979.9 1050.4 L983.9 1050.3 L987.9 1050.6 L991.9 1050.7 L995.9 1050.7 L999.9 1050.4 L1003.9 1050.4 L1007.9 1050.6 L1011.9 1050.5 L1015.9 1050.5 L1019.9 1050.6 L1023.9 1050.6 L1027.9 1050.5 L1031.9 1050.2 L1035.9 1050.4 L1039.9 1050.8 L1043.9 1051.0 L1047.9 1050.4 L1051.9 1050.3 L1055.9 1050.5 L1059.9 1050.3 L1063.9 1050.2 L1067.9 1050.4 L1071.9 1050.5 L1075.9 1050.6 L1079.9 1050.5 L1083.9 1050.4 L1087.9 1050.7 L1091.9 1051.0 L1095.9 1050.7 L1099.9 1050.5 L1103.9 1050.6 L1107.9 1050.8 L1111.9 1050.6 L1115.9 1050.6 L1119.9 1050.7 L1123.9 1050.7 L1127.9 1050.3 L1131.9 1050.0 L1135.9 1050.0 L1139.9 1050.3 L1143.9 1050.3 L1147.9 1050.3 L1151.9 1050.3 L1155.9 1050.6 L1159.9 1050.6 L1163.9 1050.6 L1167.9 1050.8 L1171.9 1050.9 L1175.9 1050.9 L1179.9 1050.6 L1183.9 1050.6 L1187.9 1050.7 L1191.9 1050.8 L1195.9 1050.6 L1199.9 1050.2 L1203.9 1050.2 L1207.9 1050.3 L1211.9 1050.0 L1215.9 1049.8 L1219.9 1050.3 L1223.9 1050.5 L1227.9 1050.3 L1231.9 1050.3 L1235.9 1050.5 L1239.9 1051.0 L1243.9 1050.9 L1247.9 1050.5 L1251.9 1050.5 L1255.9 1050.6 L1259.9 1050.7 L1263.9 1050.6 L1267.9 1050.7 L1271.9 1050.9 L1275.9 1050.5 L1279.9 1050.0 L1283.9 1050.0 L1287.9 1050.4 L1291.9 1050.5 L1295.9 1050.4 L1299.9 1050.3 L1303.9 1050.6 L1307.9 1050.6 L1311.9 1050.4 L1315.9 1050.5 L1319.9 1050.9 L1323.9 1050.7 L1327.9 1050.3 L1331.9 1050.3 L1335.9 1050.4 L1339.9 1050.8 L1343.9 1050.6 L1347.9 1050.7 L1352.5 1050.7 L1352.5 1104.7 L1347.9 1104.7 L1343.9 1104.7 L1339.9 1104.8 L1335.9 1104.9 L1331.9 1105.2 L1327.9 1105.3 L1323.9 1105.3 L1319.9 1105.1 L1315.9 1105.2 L1311.9 1105.1 L1307.9 1105.1 L1303.9 1105.3 L1299.9 1105.0 L1295.9 1105.0 L1291.9 1104.9 L1287.9 1104.9 L1283.9 1104.9 L1279.9 1105.1 L1275.9 1105.3 L1271.9 1105.1 L1267.9 1105.0 L1263.9 1105.0 L1259.9 1104.7 L1255.9 1105.0 L1251.9 1104.9 L1247.9 1104.8 L1243.9 1104.8 L1239.9 1104.7 L1235.9 1104.8 L1231.9 1104.6 L1227.9 1105.1 L1223.9 1105.3 L1219.9 1105.4 L1215.9 1105.4 L1211.9 1105.2 L1207.9 1105.3 L1203.9 1105.1 L1199.9 1105.2 L1195.9 1105.3 L1191.9 1105.2 L1187.9 1104.9 L1183.9 1104.5 L1179.9 1104.5 L1175.9 1104.5 L1171.9 1104.6 L1167.9 1104.8 L1163.9 1104.9 L1159.9 1104.9 L1155.9 1104.9 L1151.9 1105.0 L1147.9 1105.1 L1143.9 1105.1 L1139.9 1105.3 L1135.9 1105.3 L1131.9 1105.1 L1127.9 1105.1 L1123.9 1105.1 L1119.9 1105.2 L1115.9 1105.4 L1111.9 1105.3 L1107.9 1105.2 L1103.9 1105.0 L1099.9 1104.8 L1095.9 1104.9 L1091.9 1104.9 L1087.9 1104.7 L1083.9 1104.6 L1079.9 1104.5 L1075.9 1104.5 L1071.9 1104.3 L1067.9 1104.6 L1063.9 1104.9 L1059.9 1105.1 L1055.9 1105.3 L1051.9 1105.5 L1047.9 1105.3 L1043.9 1105.4 L1039.9 1105.6 L1035.9 1105.6 L1031.9 1105.5 L1027.9 1105.2 L1023.9 1104.8 L1019.9 1104.6 L1015.9 1104.6 L1011.9 1104.5 L1007.9 1104.6 L1003.9 1104.6 L999.9 1104.5 L995.9 1104.5 L991.9 1104.7 L987.9 1104.9 L983.9 1105.2 L979.9 1105.4 L975.9 1105.4 L971.9 1105.4 L967.9 1105.3 L963.9 1105.1 L959.9 1105.4 L955.9 1105.4 L951.9 1105.4 L947.9 1105.3 L943.9 1105.0 L937.9 1105.0 L937.9 1050.4Z"/></clipPath>
<clipPath id="cps4"><rect x="951.9" y="1141.6" width="389.4" height="128.9"/></clipPath>
<linearGradient id="sbg4" x1="0" y1="0" x2="0" y2="1"><stop offset="0" stop-color="#6e6e6e"/><stop offset="1" stop-color="#727272"/></linearGradient>
<linearGradient id="hgt4" x1="0" y1="0" x2="0" y2="1"><stop offset="0" stop-color="#fff" stop-opacity="0"/><stop offset="0.6" stop-color="#fff" stop-opacity="0.140"/><stop offset="1" stop-color="#fff" stop-opacity="0.400"/></linearGradient>
<linearGradient id="hgb4" x1="0" y1="0" x2="0" y2="1"><stop offset="0" stop-color="#fff" stop-opacity="0.380"/><stop offset="0.4" stop-color="#fff" stop-opacity="0.152"/><stop offset="1" stop-color="#fff" stop-opacity="0"/></linearGradient>
<clipPath id="cst4"><path d="M943.9 1175.8 L947.9 1175.8 L951.9 1175.5 L955.9 1175.7 L959.9 1175.7 L963.9 1175.7 L967.9 1175.8 L971.9 1175.9 L975.9 1176.1 L979.9 1176.1 L983.9 1176.1 L987.9 1176.3 L991.9 1176.2 L995.9 1176.5 L999.9 1176.5 L1003.9 1176.3 L1007.9 1176.0 L1011.9 1175.8 L1015.9 1175.6 L1019.9 1175.6 L1023.9 1175.8 L1027.9 1175.8 L1031.9 1175.9 L1035.9 1176.1 L1039.9 1176.1 L1043.9 1176.1 L1047.9 1176.1 L1051.9 1176.2 L1055.9 1176.0 L1059.9 1175.9 L1063.9 1176.0 L1067.9 1176.0 L1071.9 1175.9 L1075.9 1175.8 L1079.9 1175.8 L1083.9 1176.0 L1087.9 1176.0 L1091.9 1176.4 L1095.9 1176.4 L1099.9 1176.5 L1103.9 1176.4 L1107.9 1176.2 L1111.9 1175.9 L1115.9 1175.7 L1119.9 1175.6 L1123.9 1175.8 L1127.9 1175.8 L1131.9 1176.1 L1135.9 1176.2 L1139.9 1176.2 L1143.9 1176.2 L1147.9 1175.9 L1151.9 1176.0 L1155.9 1176.0 L1159.9 1175.9 L1163.9 1176.0 L1167.9 1176.0 L1171.9 1175.8 L1175.9 1175.9 L1179.9 1175.9 L1183.9 1176.1 L1187.9 1176.3 L1191.9 1176.5 L1195.9 1176.4 L1199.9 1176.4 L1203.9 1176.2 L1207.9 1176.0 L1211.9 1175.5 L1215.9 1175.3 L1219.9 1175.3 L1223.9 1175.4 L1227.9 1175.7 L1231.9 1175.8 L1235.9 1176.2 L1239.9 1176.1 L1243.9 1176.3 L1247.9 1176.4 L1251.9 1176.5 L1255.9 1176.3 L1259.9 1176.4 L1263.9 1176.2 L1267.9 1176.1 L1271.9 1175.9 L1275.9 1175.7 L1279.9 1175.6 L1283.9 1175.7 L1287.9 1175.9 L1291.9 1175.9 L1295.9 1176.0 L1299.9 1176.2 L1303.9 1176.1 L1307.9 1176.1 L1311.9 1175.9 L1315.9 1175.9 L1319.9 1176.0 L1323.9 1176.2 L1327.9 1176.2 L1331.9 1176.2 L1335.9 1176.2 L1339.9 1176.3 L1343.9 1176.3 L1347.9 1176.1 L1351.9 1175.9 L1355.3 1175.9 L1355.3 1228.2 L1351.9 1228.2 L1347.9 1228.4 L1343.9 1228.0 L1339.9 1227.9 L1335.9 1228.2 L1331.9 1228.0 L1327.9 1227.6 L1323.9 1227.4 L1319.9 1227.6 L1315.9 1227.8 L1311.9 1227.9 L1307.9 1227.9 L1303.9 1228.3 L1299.9 1228.2 L1295.9 1228.0 L1291.9 1228.4 L1287.9 1228.6 L1283.9 1228.4 L1279.9 1228.0 L1275.9 1227.9 L1271.9 1227.9 L1267.9 1227.5 L1263.9 1227.4 L1259.9 1227.9 L1255.9 1228.1 L1251.9 1227.6 L1247.9 1227.8 L1243.9 1228.3 L1239.9 1228.4 L1235.9 1228.3 L1231.9 1228.4 L1227.9 1228.4 L1223.9 1228.1 L1219.9 1227.7 L1215.9 1227.9 L1211.9 1227.9 L1207.9 1227.6 L1203.9 1227.6 L1199.9 1227.7 L1195.9 1227.9 L1191.9 1227.8 L1187.9 1228.0 L1183.9 1228.5 L1179.9 1228.5 L1175.9 1228.1 L1171.9 1228.0 L1167.9 1228.2 L1163.9 1228.1 L1159.9 1227.9 L1155.9 1228.0 L1151.9 1228.0 L1147.9 1227.6 L1143.9 1227.7 L1139.9 1228.1 L1135.9 1228.4 L1131.9 1228.1 L1127.9 1227.9 L1123.9 1228.1 L1119.9 1228.2 L1115.9 1227.8 L1111.9 1228.0 L1107.9 1228.2 L1103.9 1227.8 L1099.9 1227.6 L1095.9 1227.8 L1091.9 1228.2 L1087.9 1228.1 L1083.9 1228.1 L1079.9 1228.2 L1075.9 1228.4 L1071.9 1228.1 L1067.9 1228.0 L1063.9 1228.3 L1059.9 1228.2 L1055.9 1227.8 L1051.9 1227.5 L1047.9 1227.7 L1043.9 1227.8 L1039.9 1227.5 L1035.9 1228.1 L1031.9 1228.2 L1027.9 1228.1 L1023.9 1227.9 L1019.9 1228.4 L1015.9 1228.5 L1011.9 1228.4 L1007.9 1228.0 L1003.9 1228.1 L999.9 1227.9 L995.9 1227.6 L991.9 1227.5 L987.9 1228.0 L983.9 1227.9 L979.9 1227.6 L975.9 1227.7 L971.9 1228.0 L967.9 1228.1 L963.9 1228.0 L959.9 1228.3 L955.9 1228.4 L951.9 1228.1 L947.9 1228.0 L943.9 1228.1 L937.9 1228.1 L937.9 1175.8Z"/></clipPath>
<clipPath id="cps5"><rect x="951.9" y="1277.3" width="389.2" height="129.4"/></clipPath>
<linearGradient id="sbg5" x1="0" y1="0" x2="0" y2="1"><stop offset="0" stop-color="#6e6e6e"/><stop offset="1" stop-color="#6a6a6a"/></linearGradient>
<linearGradient id="hgt5" x1="0" y1="0" x2="0" y2="1"><stop offset="0" stop-color="#fff" stop-opacity="0"/><stop offset="0.6" stop-color="#fff" stop-opacity="0.087"/><stop offset="1" stop-color="#fff" stop-opacity="0.250"/></linearGradient>
<linearGradient id="hgb5" x1="0" y1="0" x2="0" y2="1"><stop offset="0" stop-color="#fff" stop-opacity="0.300"/><stop offset="0.4" stop-color="#fff" stop-opacity="0.120"/><stop offset="1" stop-color="#fff" stop-opacity="0"/></linearGradient>
<clipPath id="cst5"><path d="M943.9 1310.0 L947.9 1309.9 L951.9 1309.6 L955.9 1309.5 L959.9 1309.8 L963.9 1309.9 L967.9 1309.8 L971.9 1309.9 L975.9 1310.1 L979.9 1310.0 L983.9 1310.3 L987.9 1310.5 L991.9 1310.4 L995.9 1310.5 L999.9 1310.4 L1003.9 1310.0 L1007.9 1309.8 L1011.9 1310.0 L1015.9 1309.8 L1019.9 1309.8 L1023.9 1309.7 L1027.9 1309.9 L1031.9 1309.8 L1035.9 1309.8 L1039.9 1309.9 L1043.9 1310.0 L1047.9 1310.0 L1051.9 1310.0 L1055.9 1310.0 L1059.9 1309.9 L1063.9 1309.9 L1067.9 1310.2 L1071.9 1310.3 L1075.9 1310.5 L1079.9 1310.4 L1083.9 1310.3 L1087.9 1310.3 L1091.9 1310.3 L1095.9 1310.0 L1099.9 1309.9 L1103.9 1309.8 L1107.9 1309.8 L1111.9 1309.5 L1115.9 1309.6 L1119.9 1309.6 L1123.9 1309.8 L1127.9 1309.8 L1131.9 1310.2 L1135.9 1310.2 L1139.9 1310.2 L1143.9 1310.1 L1147.9 1310.1 L1151.9 1310.3 L1155.9 1310.4 L1159.9 1310.4 L1163.9 1310.0 L1167.9 1309.9 L1171.9 1309.8 L1175.9 1310.0 L1179.9 1310.1 L1183.9 1310.1 L1187.9 1309.9 L1191.9 1309.8 L1195.9 1309.9 L1199.9 1309.7 L1203.9 1309.7 L1207.9 1309.8 L1211.9 1309.8 L1215.9 1309.8 L1219.9 1309.8 L1223.9 1309.8 L1227.9 1309.9 L1231.9 1310.2 L1235.9 1310.3 L1239.9 1310.3 L1243.9 1310.2 L1247.9 1310.3 L1251.9 1310.1 L1255.9 1310.0 L1259.9 1310.0 L1263.9 1310.0 L1267.9 1309.9 L1271.9 1309.9 L1275.9 1309.9 L1279.9 1309.7 L1283.9 1310.0 L1287.9 1309.9 L1291.9 1310.2 L1295.9 1310.2 L1299.9 1310.1 Q1305.0 1310.0 1305.0 1318.0 L1305.0 1353.5 Q1305.0 1361.5 1299.9 1361.8 L1299.9 1361.8 L1295.9 1361.6 L1291.9 1361.2 L1287.9 1361.3 L1283.9 1361.3 L1279.9 1361.2 L1275.9 1361.4 L1271.9 1361.4 L1267.9 1361.5 L1263.9 1361.5 L1259.9 1361.4 L1255.9 1361.6 L1251.9 1361.5 L1247.9 1361.5 L1243.9 1361.5 L1239.9 1361.7 L1235.9 1361.8 L1231.9 1361.7 L1227.9 1361.6 L1223.9 1361.5 L1219.9 1361.6 L1215.9 1361.4 L1211.9 1361.7 L1207.9 1361.7 L1203.9 1361.6 L1199.9 1361.5 L1195.9 1361.3 L1191.9 1361.3 L1187.9 1361.1 L1183.9 1361.1 L1179.9 1361.4 L1175.9 1361.6 L1171.9 1361.6 L1167.9 1361.8 L1163.9 1361.6 L1159.9 1361.5 L1155.9 1361.3 L1151.9 1361.2 L1147.9 1361.3 L1143.9 1361.4 L1139.9 1361.8 L1135.9 1361.7 L1131.9 1362.0 L1127.9 1361.8 L1123.9 1361.5 L1119.9 1361.4 L1115.9 1361.2 L1111.9 1361.1 L1107.9 1361.3 L1103.9 1361.5 L1099.9 1361.4 L1095.9 1361.4 L1091.9 1361.5 L1087.9 1361.3 L1083.9 1361.5 L1079.9 1361.3 L1075.9 1361.4 L1071.9 1361.5 L1067.9 1361.8 L1063.9 1361.6 L1059.9 1361.6 L1055.9 1361.8 L1051.9 1361.6 L1047.9 1361.7 L1043.9 1361.5 L1039.9 1361.6 L1035.9 1361.4 L1031.9 1361.6 L1027.9 1361.6 L1023.9 1361.3 L1019.9 1361.1 L1015.9 1361.2 L1011.9 1361.1 L1007.9 1361.4 L1003.9 1361.4 L999.9 1361.6 L995.9 1361.5 L991.9 1361.8 L987.9 1361.7 L983.9 1361.6 L979.9 1361.5 L975.9 1361.4 L971.9 1361.6 L967.9 1361.8 L963.9 1362.0 L959.9 1361.8 L955.9 1361.8 L951.9 1361.4 L947.9 1361.2 L943.9 1361.0 L937.9 1361.0 L937.9 1310.0Z"/></clipPath>
<clipPath id="cps6"><rect x="1487.9" y="1006.0" width="386.2" height="128.7"/></clipPath>
<linearGradient id="sbg6" x1="0" y1="0" x2="0" y2="1"><stop offset="0" stop-color="#626262"/><stop offset="1" stop-color="#626262"/></linearGradient>
<linearGradient id="hgt6" x1="0" y1="0" x2="0" y2="1"><stop offset="0" stop-color="#fff" stop-opacity="0"/><stop offset="0.6" stop-color="#fff" stop-opacity="0.052"/><stop offset="1" stop-color="#fff" stop-opacity="0.150"/></linearGradient>
<linearGradient id="hgb6" x1="0" y1="0" x2="0" y2="1"><stop offset="0" stop-color="#fff" stop-opacity="0.220"/><stop offset="0.4" stop-color="#fff" stop-opacity="0.088"/><stop offset="1" stop-color="#fff" stop-opacity="0"/></linearGradient>
<clipPath id="cst6"><path d="M1479.9 1045.1 L1483.9 1045.1 L1487.9 1045.2 L1491.9 1045.5 L1495.9 1045.2 L1499.9 1044.9 L1503.9 1044.7 L1507.9 1044.9 L1511.9 1045.1 L1515.9 1044.9 L1519.9 1045.2 L1523.9 1045.6 L1527.9 1045.2 L1531.9 1044.9 L1535.9 1044.6 L1539.9 1044.7 L1543.9 1044.8 L1547.9 1044.5 L1551.9 1044.8 L1555.9 1045.2 L1559.9 1045.5 L1563.9 1045.0 L1567.9 1045.1 L1571.9 1045.2 L1575.9 1045.0 L1579.9 1044.7 L1583.9 1044.8 L1587.9 1045.0 L1591.9 1045.2 L1595.9 1045.1 L1599.9 1044.9 L1603.9 1045.4 L1607.9 1045.2 L1611.9 1045.0 L1615.9 1044.9 L1619.9 1045.1 L1623.9 1045.2 L1627.9 1044.8 L1631.9 1044.9 L1635.9 1044.9 L1639.9 1045.1 L1643.9 1045.0 L1647.9 1044.8 L1651.9 1045.2 L1655.9 1045.3 L1659.9 1044.9 L1663.9 1044.7 L1667.9 1044.9 L1671.9 1045.2 L1675.9 1044.9 L1679.9 1044.9 L1683.9 1045.3 L1687.9 1045.6 L1691.9 1045.5 L1695.9 1045.2 L1699.9 1045.0 L1703.9 1044.9 L1707.9 1044.5 L1711.9 1044.5 L1715.9 1044.7 L1719.9 1044.9 L1723.9 1044.9 L1727.9 1045.0 L1731.9 1045.0 L1735.9 1045.1 L1739.9 1044.9 L1743.9 1044.7 L1747.9 1044.7 L1751.9 1045.1 L1755.9 1045.3 L1759.9 1045.2 L1763.9 1045.4 L1767.9 1045.6 L1771.9 1045.4 L1775.9 1044.8 L1779.9 1044.7 L1783.9 1044.9 L1787.9 1044.7 L1791.9 1044.5 L1795.9 1044.6 L1799.9 1044.9 L1803.9 1045.1 L1807.9 1044.9 L1811.9 1045.0 L1815.9 1045.4 Q1820.0 1045.0 1820.0 1053.0 L1820.0 1114.0 Q1820.0 1122.0 1815.9 1122.2 L1815.9 1122.2 L1811.9 1122.2 L1807.9 1122.2 L1803.9 1122.1 L1799.9 1122.3 L1795.9 1122.5 L1791.9 1122.2 L1787.9 1121.9 L1783.9 1121.9 L1779.9 1122.2 L1775.9 1121.9 L1771.9 1121.6 L1767.9 1121.6 L1763.9 1121.8 L1759.9 1121.7 L1755.9 1121.7 L1751.9 1121.8 L1747.9 1122.1 L1743.9 1122.2 L1739.9 1122.2 L1735.9 1122.0 L1731.9 1122.3 L1727.9 1122.3 L1723.9 1122.2 L1719.9 1121.9 L1715.9 1122.0 L1711.9 1122.0 L1707.9 1121.9 L1703.9 1121.7 L1699.9 1121.8 L1695.9 1122.0 L1691.9 1122.0 L1687.9 1121.9 L1683.9 1121.8 L1679.9 1121.9 L1675.9 1122.1 L1671.9 1121.9 L1667.9 1121.8 L1663.9 1122.1 L1659.9 1122.1 L1655.9 1122.0 L1651.9 1121.7 L1647.9 1121.8 L1643.9 1122.0 L1639.9 1122.2 L1635.9 1121.8 L1631.9 1121.9 L1627.9 1122.2 L1623.9 1122.4 L1619.9 1122.2 L1615.9 1122.0 L1611.9 1122.2 L1607.9 1122.2 L1603.9 1122.0 L1599.9 1121.6 L1595.9 1121.9 L1591.9 1122.0 L1587.9 1121.9 L1583.9 1121.7 L1579.9 1121.9 L1575.9 1121.9 L1571.9 1122.1 L1567.9 1121.8 L1563.9 1122.0 L1559.9 1122.1 L1555.9 1122.4 L1551.9 1122.0 L1547.9 1121.9 L1543.9 1122.0 L1539.9 1122.3 L1535.9 1122.0 L1531.9 1121.8 L1527.9 1121.9 L1523.9 1122.0 L1519.9 1121.9 L1515.9 1121.8 L1511.9 1121.8 L1507.9 1122.0 L1503.9 1122.1 L1499.9 1121.9 L1495.9 1121.7 L1491.9 1122.1 L1487.9 1122.1 L1483.9 1121.9 L1479.9 1121.6 L1473.9 1121.6 L1473.9 1045.1Z"/></clipPath>
<clipPath id="cps7"><rect x="1487.3" y="1141.6" width="386.2" height="128.9"/></clipPath>
<linearGradient id="sbg7" x1="0" y1="0" x2="0" y2="1"><stop offset="0" stop-color="#686868"/><stop offset="1" stop-color="#6c6c6c"/></linearGradient>
<linearGradient id="hgt7" x1="0" y1="0" x2="0" y2="1"><stop offset="0" stop-color="#fff" stop-opacity="0"/><stop offset="0.6" stop-color="#fff" stop-opacity="0.112"/><stop offset="1" stop-color="#fff" stop-opacity="0.320"/></linearGradient>
<linearGradient id="hgb7" x1="0" y1="0" x2="0" y2="1"><stop offset="0" stop-color="#fff" stop-opacity="0.320"/><stop offset="0.4" stop-color="#fff" stop-opacity="0.128"/><stop offset="1" stop-color="#fff" stop-opacity="0"/></linearGradient>
<clipPath id="cst7"><path d="M1479.3 1172.3 L1483.3 1172.2 L1487.3 1172.3 L1491.3 1172.3 L1495.3 1172.1 L1499.3 1171.7 L1503.3 1171.6 L1507.3 1171.6 L1511.3 1171.5 L1515.3 1171.7 L1519.3 1171.7 L1523.3 1172.0 L1527.3 1172.2 L1531.3 1172.2 L1535.3 1172.1 L1539.3 1172.2 L1543.3 1172.2 L1547.3 1172.1 L1551.3 1172.1 L1555.3 1172.2 L1559.3 1172.3 L1563.3 1172.3 L1567.3 1172.1 L1571.3 1172.1 L1575.3 1171.7 L1579.3 1171.6 L1583.3 1171.6 L1587.3 1171.6 L1591.3 1171.8 L1595.3 1172.0 L1599.3 1172.0 L1603.3 1172.0 L1607.3 1172.1 L1611.3 1172.1 L1615.3 1171.9 L1619.3 1172.1 L1623.3 1172.0 L1627.3 1172.2 L1631.3 1172.4 L1635.3 1172.4 L1639.3 1172.4 L1643.3 1172.2 L1647.3 1172.1 L1651.3 1171.8 L1655.3 1171.6 L1659.3 1171.4 L1663.3 1171.5 L1667.3 1171.6 L1671.3 1171.9 L1675.3 1172.0 L1679.3 1172.2 L1683.3 1172.3 L1687.3 1172.3 L1691.3 1172.2 L1695.3 1172.0 L1699.3 1171.9 L1703.3 1172.1 L1707.3 1172.1 L1711.3 1172.1 L1715.3 1172.4 L1719.3 1172.4 L1723.3 1172.2 L1727.3 1172.0 L1731.3 1171.8 L1735.3 1171.7 L1739.3 1171.5 L1743.3 1171.5 L1747.3 1171.7 L1751.3 1171.8 L1755.3 1172.0 L1759.3 1172.2 L1763.3 1172.3 L1767.3 1172.3 L1771.3 1172.2 L1775.3 1172.3 L1779.3 1172.0 L1783.3 1172.1 L1787.3 1172.0 L1791.3 1172.0 L1795.3 1172.2 L1799.3 1172.1 L1803.3 1171.9 L1807.3 1171.9 L1811.3 1171.7 L1815.3 1171.8 L1819.3 1171.6 L1823.3 1171.8 L1827.3 1172.0 L1831.3 1172.0 L1835.3 1172.1 L1839.3 1172.3 L1843.3 1172.3 L1847.3 1172.2 L1851.3 1172.0 L1855.3 1172.1 L1859.3 1172.0 L1863.3 1172.2 L1867.3 1172.3 L1871.3 1172.2 L1875.3 1172.1 L1879.3 1172.0 L1883.3 1171.7 L1887.5 1171.7 L1887.5 1249.3 L1883.3 1249.3 L1879.3 1249.1 L1875.3 1249.0 L1871.3 1249.1 L1867.3 1249.4 L1863.3 1249.3 L1859.3 1249.2 L1855.3 1249.1 L1851.3 1249.2 L1847.3 1248.8 L1843.3 1248.4 L1839.3 1248.5 L1835.3 1248.8 L1831.3 1249.0 L1827.3 1249.0 L1823.3 1249.0 L1819.3 1249.2 L1815.3 1249.4 L1811.3 1249.4 L1807.3 1249.3 L1803.3 1249.2 L1799.3 1249.3 L1795.3 1249.0 L1791.3 1248.6 L1787.3 1248.9 L1783.3 1249.4 L1779.3 1249.1 L1775.3 1248.9 L1771.3 1249.0 L1767.3 1249.0 L1763.3 1248.9 L1759.3 1248.9 L1755.3 1248.9 L1751.3 1248.9 L1747.3 1248.8 L1743.3 1248.6 L1739.3 1248.6 L1735.3 1249.1 L1731.3 1249.2 L1727.3 1249.1 L1723.3 1249.1 L1719.3 1249.2 L1715.3 1249.3 L1711.3 1249.0 L1707.3 1249.0 L1703.3 1249.1 L1699.3 1249.2 L1695.3 1248.8 L1691.3 1248.6 L1687.3 1248.8 L1683.3 1249.0 L1679.3 1249.1 L1675.3 1248.8 L1671.3 1249.0 L1667.3 1248.9 L1663.3 1249.0 L1659.3 1248.8 L1655.3 1249.0 L1651.3 1249.4 L1647.3 1249.3 L1643.3 1248.9 L1639.3 1248.9 L1635.3 1249.2 L1631.3 1249.3 L1627.3 1249.1 L1623.3 1249.1 L1619.3 1249.1 L1615.3 1249.1 L1611.3 1248.9 L1607.3 1248.9 L1603.3 1249.2 L1599.3 1248.9 L1595.3 1248.7 L1591.3 1248.6 L1587.3 1248.9 L1583.3 1249.0 L1579.3 1249.0 L1575.3 1248.9 L1571.3 1249.3 L1567.3 1249.2 L1563.3 1249.2 L1559.3 1249.1 L1555.3 1249.3 L1551.3 1249.2 L1547.3 1249.1 L1543.3 1248.6 L1539.3 1248.8 L1535.3 1249.0 L1531.3 1249.1 L1527.3 1249.0 L1523.3 1249.0 L1519.3 1249.1 L1515.3 1249.0 L1511.3 1248.8 L1507.3 1248.9 L1503.3 1249.0 L1499.3 1248.9 L1495.3 1248.7 L1491.3 1248.7 L1487.3 1248.9 L1483.3 1249.4 L1479.3 1249.3 L1473.3 1249.3 L1473.3 1172.3Z"/></clipPath>
<clipPath id="cps8"><rect x="1486.3" y="1277.3" width="388.8" height="129.0"/></clipPath>
<linearGradient id="sbg8" x1="0" y1="0" x2="0" y2="1"><stop offset="0" stop-color="#707070"/><stop offset="1" stop-color="#6e6e6e"/></linearGradient>
<linearGradient id="hgt8" x1="0" y1="0" x2="0" y2="1"><stop offset="0" stop-color="#fff" stop-opacity="0"/><stop offset="0.6" stop-color="#fff" stop-opacity="0.077"/><stop offset="1" stop-color="#fff" stop-opacity="0.220"/></linearGradient>
<linearGradient id="hgb8" x1="0" y1="0" x2="0" y2="1"><stop offset="0" stop-color="#fff" stop-opacity="0.260"/><stop offset="0.4" stop-color="#fff" stop-opacity="0.104"/><stop offset="1" stop-color="#fff" stop-opacity="0"/></linearGradient>
<clipPath id="cst8"><path d="M1478.3 1296.0 L1482.3 1296.1 L1486.3 1295.9 L1490.3 1295.8 L1494.3 1295.7 L1498.3 1295.9 L1502.3 1296.1 L1506.3 1296.1 L1510.3 1295.9 L1514.3 1295.9 L1518.3 1296.1 L1522.3 1296.0 L1526.3 1295.9 L1530.3 1295.8 L1534.3 1296.0 L1538.3 1295.9 L1542.3 1295.8 L1546.3 1295.9 L1550.3 1296.0 L1554.3 1295.9 L1558.3 1295.8 L1562.3 1296.1 L1566.3 1296.4 L1570.3 1296.3 L1574.3 1296.1 L1578.3 1296.1 L1582.3 1296.2 L1586.3 1296.0 L1590.3 1295.9 L1594.3 1295.8 L1598.3 1295.7 L1602.3 1295.7 L1606.3 1295.8 L1610.3 1296.1 L1614.3 1296.2 L1618.3 1296.0 L1622.3 1295.8 L1626.3 1296.1 L1630.3 1296.5 L1634.3 1296.4 L1638.3 1295.9 L1642.3 1296.1 L1646.3 1296.0 L1650.3 1295.9 L1654.3 1295.9 L1658.3 1295.8 L1662.3 1295.9 L1666.3 1295.8 L1670.3 1295.8 L1674.3 1296.0 L1678.3 1296.3 L1682.3 1295.9 L1686.3 1295.9 L1690.3 1296.2 L1694.3 1296.2 L1698.3 1296.2 L1702.3 1295.7 L1706.3 1295.9 L1710.3 1295.8 L1714.3 1295.7 L1718.3 1295.8 L1722.3 1296.0 L1726.3 1296.0 L1730.3 1295.8 L1734.3 1296.1 L1738.3 1296.2 L1742.3 1296.3 L1746.3 1296.0 L1750.3 1295.9 L1754.3 1296.1 L1758.3 1296.1 L1762.3 1296.1 L1766.3 1295.8 L1770.3 1295.9 L1774.3 1295.8 L1778.3 1295.8 L1782.3 1295.9 L1786.3 1296.0 L1790.3 1296.1 L1794.3 1296.0 L1798.3 1296.0 L1802.3 1296.2 Q1809.0 1296.0 1809.0 1304.0 L1809.0 1364.4 Q1809.0 1372.4 1802.3 1371.9 L1802.3 1371.9 L1798.3 1372.0 L1794.3 1372.2 L1790.3 1372.3 L1786.3 1372.2 L1782.3 1372.2 L1778.3 1372.2 L1774.3 1372.6 L1770.3 1372.5 L1766.3 1372.5 L1762.3 1372.5 L1758.3 1372.8 L1754.3 1372.8 L1750.3 1372.6 L1746.3 1372.4 L1742.3 1372.4 L1738.3 1372.5 L1734.3 1372.1 L1730.3 1371.9 L1726.3 1372.2 L1722.3 1372.3 L1718.3 1372.4 L1714.3 1372.5 L1710.3 1372.3 L1706.3 1372.5 L1702.3 1372.5 L1698.3 1372.3 L1694.3 1372.2 L1690.3 1372.3 L1686.3 1372.7 L1682.3 1372.6 L1678.3 1372.3 L1674.3 1372.3 L1670.3 1372.4 L1666.3 1372.3 L1662.3 1372.2 L1658.3 1371.9 L1654.3 1372.2 L1650.3 1372.7 L1646.3 1372.7 L1642.3 1372.6 L1638.3 1372.8 L1634.3 1372.9 L1630.3 1372.7 L1626.3 1372.5 L1622.3 1372.3 L1618.3 1372.5 L1614.3 1372.7 L1610.3 1372.3 L1606.3 1372.0 L1602.3 1372.1 L1598.3 1372.1 L1594.3 1372.0 L1590.3 1371.8 L1586.3 1371.8 L1582.3 1372.4 L1578.3 1372.6 L1574.3 1372.6 L1570.3 1372.6 L1566.3 1372.8 L1562.3 1373.2 L1558.3 1372.8 L1554.3 1372.6 L1550.3 1372.6 L1546.3 1372.8 L1542.3 1372.6 L1538.3 1372.1 L1534.3 1372.1 L1530.3 1372.2 L1526.3 1372.1 L1522.3 1371.8 L1518.3 1371.6 L1514.3 1371.8 L1510.3 1372.3 L1506.3 1372.5 L1502.3 1372.5 L1498.3 1372.5 L1494.3 1373.0 L1490.3 1372.9 L1486.3 1372.6 L1482.3 1372.6 L1478.3 1372.6 L1472.3 1372.6 L1472.3 1296.0Z"/></clipPath></defs>
<g clip-path="url(#cpa0)"><g filter="url(#virf)"><rect x="129.0" y="111.0" width="785.5" height="161.0" fill="#f5f5f5"/><g filter="url(#bl2)"><path d="M127.0 159.0 L132.0 158.1 L137.0 157.5 L142.0 156.5 L147.0 156.4 L152.0 157.7 L157.0 158.5 L162.0 157.6 L167.0 158.5 L172.0 158.7 L177.0 158.5 L182.0 157.8 L187.0 157.8 L192.0 158.8 L197.0 157.9 L202.0 157.4 L207.0 158.1 L212.0 158.4 L217.0 157.5 L222.0 157.3 L227.0 158.7 L232.0 158.9 L237.0 157.7 L242.0 157.7 L247.0 158.0 L252.0 157.5 L257.0 156.5 L262.0 157.8 L267.0 159.3 L272.0 159.1 L277.0 159.2 L282.0 159.6 L287.0 158.6 L292.0 156.9 L297.0 156.6 L302.0 157.0 L307.0 157.0 L312.0 157.5 L317.0 158.2 L322.0 159.1 L327.0 158.9 L332.0 158.3 L337.0 158.7 L342.0 158.6 L347.0 157.7 L352.0 158.2 L357.0 158.9 L362.0 158.4 L367.0 157.4 L372.0 156.9 L377.0 157.3 L382.0 157.3 L387.0 157.1 L392.0 158.7 L397.0 159.8 L402.0 158.8 L407.0 158.7 L412.0 158.6 L417.0 157.7 L422.0 156.6 L427.0 157.1 L432.0 157.7 L437.0 157.9 L442.0 157.7 L447.0 158.1 L452.0 158.5 L457.0 157.9 L462.0 157.4 L467.0 158.0 L472.0 158.6 L477.0 158.1 L482.0 158.1 L487.0 158.5 L492.0 157.7 L497.0 157.0 L502.0 157.8 L507.0 158.3 L512.0 158.6 L517.0 158.1 L522.0 158.3 L527.0 158.1 L532.0 157.1 L537.0 156.8 L542.0 157.4 L547.0 158.8 L552.0 159.0 L557.0 158.9 L562.0 159.6 L567.0 158.7 L572.0 157.0 L577.0 156.4 L582.0 156.8 L587.0 156.1 L592.0 156.4 L597.0 158.5 L602.0 159.2 L607.0 159.0 L612.0 158.8 L617.0 159.0 L622.0 158.6 L627.0 157.4 L632.0 157.6 L637.0 157.8 L642.0 157.2 L647.0 156.6 L652.0 157.2 L657.0 158.2 L662.0 157.8 L667.0 158.4 L672.0 159.0 L677.0 159.2 L682.0 158.7 L687.0 157.7 L692.0 158.3 L697.0 157.3 L702.0 156.6 L707.0 157.4 L712.0 158.5 L717.0 159.0 L722.0 158.6 L727.0 158.4 L732.0 157.8 L737.0 156.6 L742.0 156.4 L747.0 157.7 L752.0 158.6 L757.0 158.6 L762.0 159.2 L767.0 159.6 L772.0 158.3 L777.0 157.4 L782.0 157.2 L787.0 157.8 L792.0 157.1 L797.0 157.7 L802.0 157.8 L807.0 158.5 L812.0 157.6 L817.0 157.8 L822.0 158.1 L827.0 158.9 L832.0 158.0 L837.0 159.0 L842.0 159.4 L847.0 158.3 L852.0 156.8 L857.0 156.9 L862.0 157.1 L867.0 156.6 L872.0 157.0 L877.0 158.8 L882.0 159.1 L887.0 158.4 L892.0 158.6 L897.0 158.9 L902.0 158.0 L907.0 157.7 L912.0 158.0 L917.0 158.0 L917.0 234.6 L912.0 233.4 L907.0 233.3 L902.0 233.5 L897.0 234.1 L892.0 234.8 L887.0 234.7 L882.0 234.9 L877.0 234.5 L872.0 235.1 L867.0 235.7 L862.0 235.5 L857.0 235.1 L852.0 234.3 L847.0 234.1 L842.0 233.9 L837.0 233.4 L832.0 234.2 L827.0 234.0 L822.0 234.4 L817.0 234.8 L812.0 234.9 L807.0 234.7 L802.0 234.3 L797.0 234.5 L792.0 234.5 L787.0 234.6 L782.0 235.2 L777.0 235.6 L772.0 235.5 L767.0 234.1 L762.0 234.1 L757.0 233.3 L752.0 233.3 L747.0 233.8 L742.0 234.4 L737.0 234.2 L732.0 234.1 L727.0 234.0 L722.0 234.5 L717.0 235.7 L712.0 236.0 L707.0 235.3 L702.0 234.8 L697.0 234.4 L692.0 233.6 L687.0 234.3 L682.0 234.8 L677.0 234.4 L672.0 234.1 L667.0 233.9 L662.0 233.4 L657.0 233.9 L652.0 234.2 L647.0 234.6 L642.0 235.2 L637.0 235.0 L632.0 235.7 L627.0 235.6 L622.0 235.0 L617.0 234.4 L612.0 233.9 L607.0 234.1 L602.0 233.6 L597.0 234.1 L592.0 233.8 L587.0 234.1 L582.0 234.3 L577.0 233.7 L572.0 234.3 L567.0 235.3 L562.0 235.2 L557.0 234.7 L552.0 234.8 L547.0 234.1 L542.0 234.7 L537.0 235.2 L532.0 235.3 L527.0 234.8 L522.0 233.7 L517.0 233.2 L512.0 233.3 L507.0 233.1 L502.0 233.9 L497.0 234.5 L492.0 234.5 L487.0 234.9 L482.0 235.2 L477.0 235.4 L472.0 234.9 L467.0 234.8 L462.0 234.8 L457.0 234.3 L452.0 234.5 L447.0 233.8 L442.0 234.1 L437.0 234.2 L432.0 233.7 L427.0 233.7 L422.0 234.4 L417.0 234.0 L412.0 234.6 L407.0 234.9 L402.0 234.7 L397.0 234.6 L392.0 235.0 L387.0 235.6 L382.0 235.7 L377.0 235.1 L372.0 234.4 L367.0 233.2 L362.0 233.0 L357.0 233.8 L352.0 234.0 L347.0 234.7 L342.0 234.3 L337.0 234.2 L332.0 233.8 L327.0 234.7 L322.0 235.1 L317.0 235.6 L312.0 235.4 L307.0 235.0 L302.0 234.4 L297.0 234.6 L292.0 235.0 L287.0 234.9 L282.0 234.0 L277.0 234.1 L272.0 233.2 L267.0 233.8 L262.0 233.8 L257.0 234.8 L252.0 235.1 L247.0 235.3 L242.0 235.4 L237.0 235.6 L232.0 235.0 L227.0 234.9 L222.0 234.1 L217.0 234.3 L212.0 234.3 L207.0 234.5 L202.0 234.3 L197.0 234.0 L192.0 234.2 L187.0 233.5 L182.0 234.0 L177.0 234.3 L172.0 234.6 L167.0 234.9 L162.0 234.8 L157.0 235.0 L152.0 234.8 L147.0 235.2 L142.0 235.3 L137.0 234.9 L132.0 234.4 L127.0 233.8Z" fill="#575757"/><g clip-path="url(#cpt0)"><g filter="url(#bl3)"><ellipse cx="127" cy="171" rx="13" ry="9" transform="rotate(-5 127 171)" fill="#606060"/><ellipse cx="126" cy="192" rx="16" ry="9" transform="rotate(-15 126 192)" fill="#575757"/><ellipse cx="119" cy="224" rx="17" ry="10" transform="rotate(11 119 224)" fill="#5f5f5f"/><ellipse cx="167" cy="174" rx="21" ry="9" transform="rotate(-26 167 174)" fill="#5a5a5a"/><ellipse cx="166" cy="198" rx="19" ry="10" transform="rotate(15 166 198)" fill="#616161"/><ellipse cx="166" cy="214" rx="20" ry="12" transform="rotate(-3 166 214)" fill="#5f5f5f"/><ellipse cx="198" cy="170" rx="20" ry="11" transform="rotate(-16 198 170)" fill="#616161"/><ellipse cx="200" cy="200" rx="14" ry="10" transform="rotate(-16 200 200)" fill="#5b5b5b"/><ellipse cx="206" cy="221" rx="16" ry="11" transform="rotate(-25 206 221)" fill="#626262"/><ellipse cx="244" cy="172" rx="15" ry="8" transform="rotate(-23 244 172)" fill="#5d5d5d"/><ellipse cx="249" cy="201" rx="20" ry="9" transform="rotate(22 249 201)" fill="#585858"/><ellipse cx="248" cy="225" rx="16" ry="10" transform="rotate(-25 248 225)" fill="#5b5b5b"/><ellipse cx="287" cy="172" rx="21" ry="11" transform="rotate(-30 287 172)" fill="#585858"/><ellipse cx="280" cy="192" rx="14" ry="8" transform="rotate(-11 280 192)" fill="#5f5f5f"/><ellipse cx="284" cy="218" rx="17" ry="9" transform="rotate(4 284 218)" fill="#5c5c5c"/><ellipse cx="323" cy="169" rx="15" ry="9" transform="rotate(-11 323 169)" fill="#5a5a5a"/><ellipse cx="323" cy="199" rx="18" ry="8" transform="rotate(-19 323 199)" fill="#565656"/><ellipse cx="318" cy="223" rx="20" ry="9" transform="rotate(22 318 223)" fill="#606060"/><ellipse cx="365" cy="171" rx="18" ry="9" transform="rotate(11 365 171)" fill="#5a5a5a"/><ellipse cx="360" cy="201" rx="16" ry="8" transform="rotate(-14 360 201)" fill="#5d5d5d"/><ellipse cx="363" cy="220" rx="15" ry="9" transform="rotate(25 363 220)" fill="#5e5e5e"/><ellipse cx="391" cy="169" rx="14" ry="8" transform="rotate(1 391 169)" fill="#5d5d5d"/><ellipse cx="394" cy="195" rx="16" ry="9" transform="rotate(-24 394 195)" fill="#5f5f5f"/><ellipse cx="395" cy="219" rx="14" ry="10" transform="rotate(12 395 219)" fill="#585858"/><ellipse cx="426" cy="169" rx="14" ry="10" transform="rotate(20 426 169)" fill="#585858"/><ellipse cx="430" cy="190" rx="16" ry="12" transform="rotate(25 430 190)" fill="#5f5f5f"/><ellipse cx="425" cy="215" rx="14" ry="11" transform="rotate(-24 425 215)" fill="#616161"/><ellipse cx="464" cy="171" rx="16" ry="10" transform="rotate(-15 464 171)" fill="#626262"/><ellipse cx="467" cy="193" rx="17" ry="10" transform="rotate(27 467 193)" fill="#565656"/><ellipse cx="466" cy="220" rx="21" ry="11" transform="rotate(-10 466 220)" fill="#575757"/><ellipse cx="507" cy="178" rx="19" ry="11" transform="rotate(-26 507 178)" fill="#5c5c5c"/><ellipse cx="506" cy="200" rx="20" ry="11" transform="rotate(6 506 200)" fill="#5b5b5b"/><ellipse cx="492" cy="225" rx="20" ry="9" transform="rotate(-16 492 225)" fill="#5d5d5d"/><ellipse cx="539" cy="171" rx="17" ry="12" transform="rotate(17 539 171)" fill="#616161"/><ellipse cx="542" cy="193" rx="18" ry="10" transform="rotate(-28 542 193)" fill="#616161"/><ellipse cx="540" cy="221" rx="17" ry="10" transform="rotate(18 540 221)" fill="#5d5d5d"/><ellipse cx="577" cy="171" rx="20" ry="10" transform="rotate(-10 577 171)" fill="#616161"/><ellipse cx="581" cy="196" rx="21" ry="11" transform="rotate(-2 581 196)" fill="#575757"/><ellipse cx="573" cy="216" rx="15" ry="8" transform="rotate(-21 573 216)" fill="#626262"/><ellipse cx="623" cy="171" rx="15" ry="11" transform="rotate(-21 623 171)" fill="#5b5b5b"/><ellipse cx="618" cy="198" rx="13" ry="11" transform="rotate(3 618 198)" fill="#585858"/><ellipse cx="623" cy="223" rx="15" ry="11" transform="rotate(-6 623 223)" fill="#5b5b5b"/><ellipse cx="656" cy="173" rx="21" ry="11" transform="rotate(-26 656 173)" fill="#5a5a5a"/><ellipse cx="663" cy="191" rx="17" ry="10" transform="rotate(12 663 191)" fill="#616161"/><ellipse cx="663" cy="220" rx="17" ry="10" transform="rotate(-29 663 220)" fill="#626262"/><ellipse cx="695" cy="173" rx="17" ry="8" transform="rotate(9 695 173)" fill="#575757"/><ellipse cx="708" cy="192" rx="15" ry="10" transform="rotate(-19 708 192)" fill="#5b5b5b"/><ellipse cx="703" cy="221" rx="16" ry="10" transform="rotate(-9 703 221)" fill="#5a5a5a"/><ellipse cx="731" cy="177" rx="13" ry="10" transform="rotate(4 731 177)" fill="#5f5f5f"/><ellipse cx="731" cy="197" rx="19" ry="10" transform="rotate(-14 731 197)" fill="#5d5d5d"/><ellipse cx="733" cy="225" rx="16" ry="11" transform="rotate(-29 733 225)" fill="#606060"/><ellipse cx="784" cy="170" rx="17" ry="11" transform="rotate(-28 784 170)" fill="#585858"/><ellipse cx="777" cy="190" rx="17" ry="12" transform="rotate(18 777 190)" fill="#575757"/><ellipse cx="786" cy="213" rx="21" ry="10" transform="rotate(29 786 213)" fill="#585858"/><ellipse cx="824" cy="177" rx="18" ry="10" transform="rotate(-7 824 177)" fill="#595959"/><ellipse cx="832" cy="201" rx="19" ry="9" transform="rotate(-21 832 201)" fill="#5a5a5a"/><ellipse cx="828" cy="225" rx="18" ry="11" transform="rotate(-7 828 225)" fill="#595959"/><ellipse cx="859" cy="177" rx="17" ry="10" transform="rotate(18 859 177)" fill="#5c5c5c"/><ellipse cx="870" cy="198" rx="14" ry="12" transform="rotate(-0 870 198)" fill="#5b5b5b"/><ellipse cx="862" cy="217" rx="19" ry="10" transform="rotate(-22 862 217)" fill="#585858"/><ellipse cx="892" cy="179" rx="19" ry="11" transform="rotate(13 892 179)" fill="#565656"/><ellipse cx="895" cy="199" rx="19" ry="11" transform="rotate(-4 895 199)" fill="#5d5d5d"/><ellipse cx="901" cy="217" rx="16" ry="9" transform="rotate(-28 901 217)" fill="#585858"/><path d="M127.0 163.0L916.5 163.0" stroke="#4d4d4d" stroke-width="6" opacity="0.8"/><path d="M127.0 229.5L916.5 229.5" stroke="#4d4d4d" stroke-width="6" opacity="0.8"/></g></g></g></g></g>
<rect x="135.0" y="117.0" width="773.5" height="149.0" fill="none" stroke="#000" stroke-width="2"/>
<line x1="126" y1="117.0" x2="135.0" y2="117.0" stroke="#000" stroke-width="2"/>
<text x="117" y="133.5" text-anchor="end" font-size="49.5">300</text>
<line x1="126" y1="206.2" x2="135.0" y2="206.2" stroke="#000" stroke-width="2"/>
<text x="117" y="222.7" text-anchor="end" font-size="49.5">150</text>
<line x1="135.0" y1="266.0" x2="135.0" y2="275.0" stroke="#000" stroke-width="2"/>
<line x1="313.2" y1="266.0" x2="313.2" y2="275.0" stroke="#000" stroke-width="2"/>
<line x1="491.4" y1="266.0" x2="491.4" y2="275.0" stroke="#000" stroke-width="2"/>
<line x1="669.6" y1="266.0" x2="669.6" y2="275.0" stroke="#000" stroke-width="2"/>
<line x1="847.8" y1="266.0" x2="847.8" y2="275.0" stroke="#000" stroke-width="2"/>
<text x="903" y="157.5" text-anchor="end" font-size="49.5">500 nm</text>
<g clip-path="url(#cpa1)"><g filter="url(#virf)"><rect x="129.0" y="269.7" width="785.5" height="161.0" fill="#f5f5f5"/><g filter="url(#bl2)"><path d="M127.0 327.5 L132.0 326.6 L137.0 325.3 L142.0 324.2 L147.0 324.6 L152.0 325.3 L157.0 325.9 L162.0 325.8 L167.0 325.0 L172.0 324.5 L177.0 325.6 L182.0 326.5 L187.0 327.0 L192.0 326.5 L197.0 324.8 L202.0 324.0 L207.0 324.2 L212.0 325.3 L217.0 326.4 L222.0 326.1 L227.0 325.9 L232.0 325.4 L237.0 325.1 L242.0 325.2 L247.0 325.9 L252.0 325.1 L257.0 325.0 L262.0 324.4 L267.0 324.7 L272.0 325.5 L277.0 326.0 L282.0 326.2 L287.0 326.1 L292.0 325.5 L297.0 324.8 L302.0 325.0 L307.0 325.0 L312.0 325.4 L317.0 325.9 L322.0 325.7 L327.0 326.2 L332.0 326.0 L337.0 325.8 L342.0 325.1 L347.0 325.0 L352.0 324.8 L357.0 325.0 L362.0 325.4 L367.0 325.4 L372.0 325.8 L377.0 325.8 L382.0 326.7 L387.0 326.5 L392.0 325.7 L397.0 324.9 L402.0 324.1 L407.0 324.7 L412.0 326.0 L417.0 326.3 L422.0 326.2 L427.0 325.3 L432.0 325.6 L437.0 325.4 L442.0 326.6 L447.0 326.4 L452.0 325.0 L457.0 323.9 L462.0 324.2 L467.0 325.3 L472.0 326.5 L477.0 326.8 L482.0 326.2 L487.0 325.3 L492.0 324.0 L497.0 325.1 L502.0 325.5 L507.0 326.0 L512.0 325.4 L517.0 325.1 L522.0 324.8 L527.0 325.3 L532.0 326.4 L537.0 327.3 L542.0 326.5 L547.0 324.1 L552.0 323.7 L557.0 324.4 L562.0 325.7 L567.0 327.0 L572.0 326.9 L577.0 325.3 L582.0 324.4 L587.0 325.1 L592.0 326.0 L597.0 326.6 L602.0 325.8 L607.0 324.9 L612.0 323.6 L617.0 324.6 L622.0 326.5 L627.0 327.3 L632.0 326.7 L637.0 325.4 L642.0 323.9 L647.0 323.9 L652.0 324.9 L657.0 326.1 L662.0 326.1 L667.0 325.3 L672.0 324.8 L677.0 325.1 L682.0 326.3 L687.0 326.9 L692.0 326.7 L697.0 325.2 L702.0 323.7 L707.0 324.0 L712.0 325.0 L717.0 326.5 L722.0 326.9 L727.0 325.9 L732.0 325.2 L737.0 324.9 L742.0 325.3 L747.0 325.6 L752.0 325.4 L757.0 325.4 L762.0 324.7 L767.0 324.7 L772.0 325.8 L777.0 326.4 L782.0 326.9 L787.0 326.3 L792.0 325.3 L797.0 324.6 L802.0 325.2 L807.0 325.7 L812.0 325.3 L817.0 325.5 L822.0 325.4 L827.0 325.5 L832.0 326.1 L837.0 325.9 L842.0 326.0 L847.0 325.5 L852.0 324.4 L857.0 324.9 L862.0 325.0 L867.0 325.7 L872.0 326.1 L877.0 326.4 L882.0 326.2 L887.0 325.7 L892.0 325.8 L897.0 325.0 L902.0 325.1 L907.0 324.7 L912.0 324.9 L917.0 325.4 L917.0 395.3 L912.0 395.2 L907.0 395.1 L902.0 394.3 L897.0 394.0 L892.0 393.4 L887.0 393.3 L882.0 393.3 L877.0 392.8 L872.0 393.1 L867.0 393.3 L862.0 393.7 L857.0 394.3 L852.0 394.6 L847.0 395.0 L842.0 395.2 L837.0 394.9 L832.0 394.2 L827.0 393.3 L822.0 393.3 L817.0 392.8 L812.0 393.2 L807.0 393.6 L802.0 394.5 L797.0 394.6 L792.0 394.5 L787.0 394.0 L782.0 393.2 L777.0 393.5 L772.0 393.4 L767.0 393.5 L762.0 393.8 L757.0 394.4 L752.0 394.4 L747.0 394.6 L742.0 394.0 L737.0 393.7 L732.0 393.7 L727.0 393.6 L722.0 393.6 L717.0 393.1 L712.0 393.1 L707.0 393.5 L702.0 394.1 L697.0 394.6 L692.0 394.4 L687.0 395.3 L682.0 394.9 L677.0 394.8 L672.0 394.1 L667.0 393.5 L662.0 392.8 L657.0 393.1 L652.0 393.6 L647.0 393.4 L642.0 393.7 L637.0 394.4 L632.0 394.4 L627.0 394.0 L622.0 394.3 L617.0 394.3 L612.0 394.4 L607.0 394.7 L602.0 394.7 L597.0 394.4 L592.0 393.7 L587.0 393.3 L582.0 392.2 L577.0 393.0 L572.0 392.9 L567.0 394.0 L562.0 394.7 L557.0 395.3 L552.0 395.7 L547.0 395.0 L542.0 395.0 L537.0 394.0 L532.0 393.5 L527.0 393.3 L522.0 392.6 L517.0 392.9 L512.0 392.7 L507.0 393.2 L502.0 394.3 L497.0 394.9 L492.0 395.6 L487.0 395.1 L482.0 394.8 L477.0 394.5 L472.0 394.1 L467.0 393.0 L462.0 392.6 L457.0 393.3 L452.0 393.3 L447.0 394.5 L442.0 394.8 L437.0 394.4 L432.0 394.5 L427.0 393.8 L422.0 394.0 L417.0 393.7 L412.0 394.0 L407.0 394.0 L402.0 394.0 L397.0 394.4 L392.0 394.4 L387.0 393.6 L382.0 394.1 L377.0 393.9 L372.0 393.7 L367.0 394.1 L362.0 393.7 L357.0 393.4 L352.0 393.8 L347.0 393.9 L342.0 394.2 L337.0 394.4 L332.0 394.8 L327.0 394.7 L322.0 394.2 L317.0 393.9 L312.0 393.9 L307.0 393.4 L302.0 393.6 L297.0 393.6 L292.0 394.0 L287.0 394.4 L282.0 394.2 L277.0 393.7 L272.0 393.2 L267.0 394.0 L262.0 394.0 L257.0 394.7 L252.0 395.0 L247.0 394.9 L242.0 395.2 L237.0 394.5 L232.0 393.4 L227.0 392.8 L222.0 392.2 L217.0 392.5 L212.0 393.4 L207.0 394.2 L202.0 394.9 L197.0 395.2 L192.0 395.2 L187.0 395.3 L182.0 394.6 L177.0 394.5 L172.0 393.4 L167.0 393.3 L162.0 392.9 L157.0 392.3 L152.0 392.5 L147.0 393.1 L142.0 394.0 L137.0 394.7 L132.0 395.6 L127.0 395.2Z" fill="#3c3c3c"/><g clip-path="url(#cpt1)"><g filter="url(#bl3)"><ellipse cx="123" cy="343" rx="17" ry="10" transform="rotate(10 123 343)" fill="#555555"/><ellipse cx="121" cy="365" rx="15" ry="12" transform="rotate(-3 121 365)" fill="#535353"/><ellipse cx="126" cy="386" rx="20" ry="9" transform="rotate(21 126 386)" fill="#5a5a5a"/><ellipse cx="165" cy="343" rx="21" ry="9" transform="rotate(-3 165 343)" fill="#5b5b5b"/><ellipse cx="167" cy="363" rx="13" ry="12" transform="rotate(-13 167 363)" fill="#5c5c5c"/><ellipse cx="167" cy="376" rx="21" ry="10" transform="rotate(19 167 376)" fill="#525252"/><ellipse cx="189" cy="335" rx="14" ry="10" transform="rotate(25 189 335)" fill="#555555"/><ellipse cx="194" cy="355" rx="13" ry="11" transform="rotate(27 194 355)" fill="#535353"/><ellipse cx="200" cy="381" rx="18" ry="9" transform="rotate(-11 200 381)" fill="#5d5d5d"/><ellipse cx="231" cy="344" rx="21" ry="10" transform="rotate(-2 231 344)" fill="#555555"/><ellipse cx="224" cy="361" rx="15" ry="9" transform="rotate(27 224 361)" fill="#5c5c5c"/><ellipse cx="232" cy="378" rx="21" ry="10" transform="rotate(-6 232 378)" fill="#595959"/><ellipse cx="271" cy="335" rx="16" ry="9" transform="rotate(-22 271 335)" fill="#545454"/><ellipse cx="277" cy="357" rx="20" ry="11" transform="rotate(10 277 357)" fill="#5c5c5c"/><ellipse cx="266" cy="384" rx="13" ry="10" transform="rotate(3 266 384)" fill="#5c5c5c"/><ellipse cx="318" cy="342" rx="16" ry="9" transform="rotate(-1 318 342)" fill="#5a5a5a"/><ellipse cx="316" cy="363" rx="16" ry="12" transform="rotate(-5 316 363)" fill="#585858"/><ellipse cx="325" cy="381" rx="16" ry="10" transform="rotate(-28 325 381)" fill="#585858"/><ellipse cx="350" cy="341" rx="17" ry="10" transform="rotate(17 350 341)" fill="#565656"/><ellipse cx="351" cy="356" rx="15" ry="11" transform="rotate(-10 351 356)" fill="#565656"/><ellipse cx="348" cy="375" rx="21" ry="8" transform="rotate(-16 348 375)" fill="#555555"/><ellipse cx="395" cy="334" rx="21" ry="10" transform="rotate(1 395 334)" fill="#585858"/><ellipse cx="395" cy="356" rx="17" ry="9" transform="rotate(-16 395 356)" fill="#5b5b5b"/><ellipse cx="395" cy="381" rx="21" ry="12" transform="rotate(-29 395 381)" fill="#5a5a5a"/><ellipse cx="429" cy="340" rx="18" ry="9" transform="rotate(-1 429 340)" fill="#535353"/><ellipse cx="430" cy="354" rx="19" ry="9" transform="rotate(4 430 354)" fill="#565656"/><ellipse cx="428" cy="376" rx="18" ry="11" transform="rotate(26 428 376)" fill="#565656"/><ellipse cx="475" cy="340" rx="18" ry="8" transform="rotate(30 475 340)" fill="#585858"/><ellipse cx="477" cy="354" rx="21" ry="9" transform="rotate(-20 477 354)" fill="#575757"/><ellipse cx="465" cy="382" rx="20" ry="9" transform="rotate(1 465 382)" fill="#5b5b5b"/><ellipse cx="498" cy="343" rx="17" ry="12" transform="rotate(-24 498 343)" fill="#555555"/><ellipse cx="510" cy="363" rx="21" ry="9" transform="rotate(-18 510 363)" fill="#5d5d5d"/><ellipse cx="510" cy="382" rx="15" ry="9" transform="rotate(10 510 382)" fill="#585858"/><ellipse cx="550" cy="336" rx="16" ry="8" transform="rotate(19 550 336)" fill="#535353"/><ellipse cx="548" cy="363" rx="16" ry="10" transform="rotate(-27 548 363)" fill="#545454"/><ellipse cx="547" cy="376" rx="19" ry="12" transform="rotate(-12 547 376)" fill="#525252"/><ellipse cx="572" cy="345" rx="18" ry="11" transform="rotate(7 572 345)" fill="#565656"/><ellipse cx="577" cy="356" rx="15" ry="9" transform="rotate(-0 577 356)" fill="#555555"/><ellipse cx="579" cy="376" rx="15" ry="11" transform="rotate(-25 579 376)" fill="#595959"/><ellipse cx="617" cy="344" rx="15" ry="9" transform="rotate(19 617 344)" fill="#595959"/><ellipse cx="608" cy="357" rx="18" ry="9" transform="rotate(24 608 357)" fill="#525252"/><ellipse cx="618" cy="377" rx="14" ry="9" transform="rotate(13 618 377)" fill="#595959"/><ellipse cx="653" cy="340" rx="19" ry="9" transform="rotate(25 653 340)" fill="#555555"/><ellipse cx="663" cy="365" rx="15" ry="11" transform="rotate(-2 663 365)" fill="#5d5d5d"/><ellipse cx="653" cy="385" rx="19" ry="11" transform="rotate(12 653 385)" fill="#5a5a5a"/><ellipse cx="688" cy="344" rx="18" ry="10" transform="rotate(-18 688 344)" fill="#5a5a5a"/><ellipse cx="699" cy="365" rx="20" ry="9" transform="rotate(4 699 365)" fill="#545454"/><ellipse cx="690" cy="385" rx="21" ry="10" transform="rotate(27 690 385)" fill="#595959"/><ellipse cx="737" cy="344" rx="17" ry="11" transform="rotate(10 737 344)" fill="#525252"/><ellipse cx="740" cy="360" rx="15" ry="12" transform="rotate(-28 740 360)" fill="#5a5a5a"/><ellipse cx="727" cy="385" rx="13" ry="11" transform="rotate(23 727 385)" fill="#575757"/><ellipse cx="775" cy="340" rx="18" ry="9" transform="rotate(-5 775 340)" fill="#555555"/><ellipse cx="761" cy="359" rx="16" ry="10" transform="rotate(21 761 359)" fill="#5d5d5d"/><ellipse cx="764" cy="382" rx="17" ry="11" transform="rotate(-10 764 382)" fill="#565656"/><ellipse cx="809" cy="334" rx="17" ry="11" transform="rotate(11 809 334)" fill="#5a5a5a"/><ellipse cx="807" cy="359" rx="16" ry="11" transform="rotate(25 807 359)" fill="#585858"/><ellipse cx="803" cy="386" rx="13" ry="8" transform="rotate(1 803 386)" fill="#555555"/><ellipse cx="851" cy="342" rx="18" ry="8" transform="rotate(-14 851 342)" fill="#5d5d5d"/><ellipse cx="855" cy="362" rx="14" ry="10" transform="rotate(3 855 362)" fill="#5d5d5d"/><ellipse cx="847" cy="386" rx="20" ry="9" transform="rotate(19 847 386)" fill="#555555"/><ellipse cx="890" cy="333" rx="15" ry="9" transform="rotate(27 890 333)" fill="#5b5b5b"/><ellipse cx="881" cy="354" rx="19" ry="10" transform="rotate(-1 881 354)" fill="#5a5a5a"/><ellipse cx="881" cy="380" rx="15" ry="11" transform="rotate(-25 881 380)" fill="#545454"/><ellipse cx="845" cy="335" rx="9" ry="4" fill="#212121"/><ellipse cx="224" cy="381" rx="5" ry="3" fill="#212121"/><ellipse cx="257" cy="339" rx="5" ry="5" fill="#212121"/><ellipse cx="530" cy="366" rx="6" ry="6" fill="#212121"/><ellipse cx="273" cy="366" rx="6" ry="3" fill="#212121"/><ellipse cx="618" cy="334" rx="8" ry="5" fill="#212121"/><ellipse cx="546" cy="378" rx="10" ry="4" fill="#212121"/><ellipse cx="630" cy="373" rx="7" ry="3" fill="#212121"/><ellipse cx="780" cy="375" rx="10" ry="3" fill="#212121"/><ellipse cx="630" cy="354" rx="10" ry="5" fill="#212121"/><ellipse cx="547" cy="332" rx="9" ry="5" fill="#212121"/><ellipse cx="890" cy="366" rx="8" ry="6" fill="#212121"/><ellipse cx="890" cy="369" rx="6" ry="5" fill="#212121"/><ellipse cx="862" cy="370" rx="5" ry="5" fill="#212121"/><path d="M127.0 330.5L916.5 330.5" stroke="#323232" stroke-width="6" opacity="0.8"/><path d="M127.0 389.0L916.5 389.0" stroke="#323232" stroke-width="6" opacity="0.8"/></g></g></g></g></g>
<rect x="135.0" y="275.7" width="773.5" height="149.0" fill="none" stroke="#000" stroke-width="2"/>
<line x1="126" y1="275.7" x2="135.0" y2="275.7" stroke="#000" stroke-width="2"/>
<text x="117" y="292.2" text-anchor="end" font-size="49.5">300</text>
<line x1="126" y1="364.9" x2="135.0" y2="364.9" stroke="#000" stroke-width="2"/>
<text x="117" y="381.4" text-anchor="end" font-size="49.5">150</text>
<line x1="135.0" y1="424.7" x2="135.0" y2="433.7" stroke="#000" stroke-width="2"/>
<line x1="313.2" y1="424.7" x2="313.2" y2="433.7" stroke="#000" stroke-width="2"/>
<line x1="491.4" y1="424.7" x2="491.4" y2="433.7" stroke="#000" stroke-width="2"/>
<line x1="669.6" y1="424.7" x2="669.6" y2="433.7" stroke="#000" stroke-width="2"/>
<line x1="847.8" y1="424.7" x2="847.8" y2="433.7" stroke="#000" stroke-width="2"/>
<text x="903" y="318.0" text-anchor="end" font-size="49.5">1000 nm</text>
<g clip-path="url(#cpa2)"><g filter="url(#virf)"><rect x="129.0" y="428.3" width="785.5" height="161.0" fill="#f5f5f5"/><g filter="url(#bl2)"><path d="M127.0 484.7 L132.0 484.1 L137.0 484.0 L142.0 483.2 L147.0 482.7 L152.0 482.4 L157.0 482.6 L162.0 482.8 L167.0 483.6 L172.0 483.8 L177.0 484.6 L182.0 484.7 L187.0 484.6 L192.0 483.9 L197.0 483.2 L202.0 483.0 L207.0 482.9 L212.0 482.7 L217.0 483.1 L222.0 483.2 L227.0 483.6 L232.0 484.4 L237.0 484.0 L242.0 484.0 L247.0 484.0 L252.0 483.6 L257.0 483.0 L262.0 482.7 L267.0 482.6 L272.0 482.9 L277.0 483.5 L282.0 483.9 L287.0 484.2 L292.0 484.4 L297.0 484.7 L302.0 484.0 L307.0 483.6 L312.0 483.2 L317.0 482.5 L322.0 482.0 L327.0 482.3 L332.0 482.5 L337.0 483.4 L342.0 483.9 L347.0 484.5 L352.0 485.2 L357.0 484.8 L362.0 484.2 L367.0 483.9 L372.0 483.1 L377.0 481.7 L382.0 481.2 L387.0 481.8 L392.0 482.2 L397.0 482.5 L402.0 483.3 L407.0 484.5 L412.0 485.2 L417.0 484.8 L422.0 484.6 L427.0 484.0 L432.0 482.8 L437.0 482.0 L442.0 481.2 L447.0 481.2 L452.0 481.2 L457.0 481.8 L462.0 482.9 L467.0 483.6 L472.0 484.2 L477.0 484.5 L482.0 484.6 L487.0 484.0 L492.0 483.5 L497.0 482.4 L502.0 481.6 L507.0 481.2 L512.0 481.3 L517.0 482.0 L522.0 482.2 L527.0 483.2 L532.0 484.0 L537.0 484.4 L542.0 484.2 L547.0 484.2 L552.0 483.5 L557.0 482.6 L562.0 481.9 L567.0 481.6 L572.0 482.0 L577.0 481.9 L582.0 482.6 L587.0 483.2 L592.0 483.5 L597.0 483.4 L602.0 483.1 L607.0 483.1 L612.0 482.8 L617.0 482.8 L622.0 482.6 L627.0 482.6 L632.0 482.5 L637.0 482.8 L642.0 482.7 L647.0 482.8 L652.0 483.2 L657.0 482.7 L662.0 483.1 L667.0 482.8 L672.0 482.8 L677.0 482.0 L682.0 482.1 L687.0 482.7 L692.0 482.2 L697.0 482.7 L702.0 483.0 L707.0 483.0 L712.0 483.3 L717.0 483.2 L722.0 482.5 L727.0 482.0 L732.0 482.4 L737.0 481.9 L742.0 481.7 L747.0 481.8 L752.0 481.9 L757.0 482.6 L762.0 482.7 L767.0 483.1 L772.0 483.4 L777.0 483.0 L782.0 483.1 L787.0 482.1 L792.0 482.3 L797.0 482.0 L802.0 482.0 L807.0 481.3 L812.0 481.8 L817.0 482.1 L822.0 482.5 L827.0 482.7 L832.0 482.8 L837.0 483.4 L842.0 483.3 L847.0 483.0 L852.0 482.9 L857.0 482.2 L862.0 481.5 L867.0 481.7 L872.0 481.1 L877.0 481.6 L882.0 481.8 L887.0 481.7 L892.0 482.1 L897.0 482.4 L902.0 482.7 L907.0 483.5 L912.0 482.8 L917.0 483.0 L917.0 547.6 L912.0 547.4 L907.0 546.8 L902.0 548.0 L897.0 548.1 L892.0 548.4 L887.0 548.9 L882.0 548.9 L877.0 549.3 L872.0 549.6 L867.0 550.1 L862.0 549.0 L857.0 548.1 L852.0 547.4 L847.0 547.6 L842.0 548.0 L837.0 548.6 L832.0 548.2 L827.0 548.4 L822.0 548.6 L817.0 549.2 L812.0 549.4 L807.0 550.0 L802.0 549.6 L797.0 548.9 L792.0 547.8 L787.0 547.9 L782.0 548.1 L777.0 548.4 L772.0 548.8 L767.0 548.7 L762.0 548.5 L757.0 549.1 L752.0 549.7 L747.0 549.8 L742.0 549.5 L737.0 549.1 L732.0 548.7 L727.0 548.0 L722.0 548.4 L717.0 548.5 L712.0 548.5 L707.0 548.6 L702.0 548.4 L697.0 548.9 L692.0 549.3 L687.0 549.8 L682.0 549.9 L677.0 549.4 L672.0 548.8 L667.0 548.7 L662.0 548.4 L657.0 548.7 L652.0 548.7 L647.0 548.5 L642.0 548.1 L637.0 548.7 L632.0 549.7 L627.0 550.0 L622.0 549.8 L617.0 549.8 L612.0 549.1 L607.0 549.1 L602.0 549.0 L597.0 548.7 L592.0 548.8 L587.0 548.2 L582.0 548.1 L577.0 548.0 L572.0 549.2 L567.0 549.7 L562.0 550.2 L557.0 549.9 L552.0 549.2 L547.0 549.4 L542.0 549.3 L537.0 549.9 L532.0 549.4 L527.0 548.4 L522.0 547.8 L517.0 548.2 L512.0 549.2 L507.0 549.6 L502.0 549.4 L497.0 549.2 L492.0 549.1 L487.0 549.5 L482.0 549.4 L477.0 549.6 L472.0 549.8 L467.0 549.1 L462.0 548.7 L457.0 548.4 L452.0 548.6 L447.0 549.2 L442.0 549.5 L437.0 549.6 L432.0 549.1 L427.0 549.1 L422.0 550.1 L417.0 550.1 L412.0 549.7 L407.0 549.7 L402.0 548.9 L397.0 549.0 L392.0 548.9 L387.0 550.0 L382.0 549.6 L377.0 550.1 L372.0 549.4 L367.0 549.9 L362.0 550.2 L357.0 549.8 L352.0 550.1 L347.0 549.9 L342.0 548.8 L337.0 548.7 L332.0 549.2 L327.0 549.4 L322.0 549.7 L317.0 549.8 L312.0 549.5 L307.0 549.5 L302.0 549.8 L297.0 550.1 L292.0 550.3 L287.0 549.7 L282.0 549.7 L277.0 549.3 L272.0 549.1 L267.0 549.4 L262.0 549.9 L257.0 549.5 L252.0 549.8 L247.0 549.3 L242.0 550.2 L237.0 550.3 L232.0 550.3 L227.0 549.8 L222.0 549.9 L217.0 549.1 L212.0 549.4 L207.0 549.6 L202.0 550.3 L197.0 550.1 L192.0 549.7 L187.0 549.1 L182.0 549.7 L177.0 550.7 L172.0 550.5 L167.0 550.0 L162.0 549.5 L157.0 549.2 L152.0 550.0 L147.0 550.4 L142.0 550.3 L137.0 549.8 L132.0 549.6 L127.0 549.9Z" fill="#3b3b3b"/><g clip-path="url(#cpt2)"><g filter="url(#bl3)"><ellipse cx="132" cy="497" rx="17" ry="10" transform="rotate(-28 132 497)" fill="#545454"/><ellipse cx="123" cy="517" rx="19" ry="9" transform="rotate(-23 123 517)" fill="#5e5e5e"/><ellipse cx="128" cy="531" rx="15" ry="9" transform="rotate(11 128 531)" fill="#5e5e5e"/><ellipse cx="171" cy="502" rx="16" ry="11" transform="rotate(12 171 502)" fill="#555555"/><ellipse cx="170" cy="515" rx="18" ry="11" transform="rotate(16 170 515)" fill="#535353"/><ellipse cx="160" cy="534" rx="15" ry="9" transform="rotate(-4 160 534)" fill="#5e5e5e"/><ellipse cx="203" cy="494" rx="13" ry="10" transform="rotate(1 203 494)" fill="#5e5e5e"/><ellipse cx="212" cy="513" rx="13" ry="9" transform="rotate(12 212 513)" fill="#5e5e5e"/><ellipse cx="216" cy="540" rx="15" ry="9" transform="rotate(-22 216 540)" fill="#595959"/><ellipse cx="248" cy="494" rx="21" ry="8" transform="rotate(-28 248 494)" fill="#5d5d5d"/><ellipse cx="255" cy="516" rx="14" ry="10" transform="rotate(-6 255 516)" fill="#5b5b5b"/><ellipse cx="247" cy="539" rx="15" ry="9" transform="rotate(-3 247 539)" fill="#5b5b5b"/><ellipse cx="290" cy="499" rx="17" ry="9" transform="rotate(3 290 499)" fill="#565656"/><ellipse cx="291" cy="519" rx="18" ry="11" transform="rotate(22 291 519)" fill="#555555"/><ellipse cx="298" cy="535" rx="20" ry="10" transform="rotate(-26 298 535)" fill="#555555"/><ellipse cx="336" cy="498" rx="16" ry="8" transform="rotate(7 336 498)" fill="#525252"/><ellipse cx="335" cy="522" rx="19" ry="10" transform="rotate(-29 335 522)" fill="#5e5e5e"/><ellipse cx="340" cy="536" rx="17" ry="10" transform="rotate(0 340 536)" fill="#565656"/><ellipse cx="380" cy="501" rx="17" ry="9" transform="rotate(15 380 501)" fill="#585858"/><ellipse cx="374" cy="518" rx="18" ry="9" transform="rotate(13 374 518)" fill="#525252"/><ellipse cx="374" cy="542" rx="13" ry="11" transform="rotate(23 374 542)" fill="#595959"/><ellipse cx="427" cy="499" rx="18" ry="11" transform="rotate(-1 427 499)" fill="#5b5b5b"/><ellipse cx="419" cy="512" rx="16" ry="10" transform="rotate(-16 419 512)" fill="#5d5d5d"/><ellipse cx="427" cy="540" rx="16" ry="11" transform="rotate(23 427 540)" fill="#5e5e5e"/><ellipse cx="461" cy="495" rx="16" ry="9" transform="rotate(20 461 495)" fill="#575757"/><ellipse cx="467" cy="514" rx="18" ry="10" transform="rotate(-16 467 514)" fill="#535353"/><ellipse cx="460" cy="531" rx="18" ry="11" transform="rotate(26 460 531)" fill="#565656"/><ellipse cx="496" cy="495" rx="16" ry="9" transform="rotate(12 496 495)" fill="#565656"/><ellipse cx="503" cy="511" rx="18" ry="10" transform="rotate(-13 503 511)" fill="#535353"/><ellipse cx="505" cy="539" rx="19" ry="9" transform="rotate(2 505 539)" fill="#5d5d5d"/><ellipse cx="539" cy="494" rx="14" ry="9" transform="rotate(-25 539 494)" fill="#5b5b5b"/><ellipse cx="545" cy="515" rx="16" ry="10" transform="rotate(6 545 515)" fill="#5c5c5c"/><ellipse cx="541" cy="537" rx="18" ry="8" transform="rotate(23 541 537)" fill="#545454"/><ellipse cx="589" cy="502" rx="19" ry="11" transform="rotate(-20 589 502)" fill="#5d5d5d"/><ellipse cx="585" cy="519" rx="14" ry="11" transform="rotate(-26 585 519)" fill="#535353"/><ellipse cx="583" cy="538" rx="19" ry="10" transform="rotate(-7 583 538)" fill="#5a5a5a"/><ellipse cx="617" cy="495" rx="21" ry="10" transform="rotate(4 617 495)" fill="#575757"/><ellipse cx="624" cy="519" rx="17" ry="10" transform="rotate(15 624 519)" fill="#555555"/><ellipse cx="629" cy="537" rx="14" ry="9" transform="rotate(-19 629 537)" fill="#5a5a5a"/><ellipse cx="661" cy="501" rx="19" ry="10" transform="rotate(24 661 501)" fill="#595959"/><ellipse cx="667" cy="521" rx="21" ry="8" transform="rotate(1 667 521)" fill="#5d5d5d"/><ellipse cx="672" cy="531" rx="20" ry="10" transform="rotate(-7 672 531)" fill="#5b5b5b"/><ellipse cx="701" cy="501" rx="16" ry="9" transform="rotate(-3 701 501)" fill="#5b5b5b"/><ellipse cx="692" cy="515" rx="15" ry="11" transform="rotate(8 692 515)" fill="#5a5a5a"/><ellipse cx="700" cy="533" rx="16" ry="11" transform="rotate(11 700 533)" fill="#565656"/><ellipse cx="732" cy="502" rx="15" ry="9" transform="rotate(18 732 502)" fill="#585858"/><ellipse cx="742" cy="513" rx="21" ry="10" transform="rotate(-27 742 513)" fill="#545454"/><ellipse cx="730" cy="534" rx="16" ry="10" transform="rotate(28 730 534)" fill="#5c5c5c"/><ellipse cx="785" cy="497" rx="19" ry="12" transform="rotate(2 785 497)" fill="#565656"/><ellipse cx="774" cy="518" rx="21" ry="12" transform="rotate(5 774 518)" fill="#585858"/><ellipse cx="786" cy="533" rx="20" ry="9" transform="rotate(-5 786 533)" fill="#5c5c5c"/><ellipse cx="828" cy="491" rx="19" ry="9" transform="rotate(-10 828 491)" fill="#595959"/><ellipse cx="822" cy="511" rx="19" ry="11" transform="rotate(7 822 511)" fill="#545454"/><ellipse cx="828" cy="535" rx="15" ry="8" transform="rotate(24 828 535)" fill="#575757"/><ellipse cx="865" cy="498" rx="13" ry="9" transform="rotate(23 865 498)" fill="#5c5c5c"/><ellipse cx="869" cy="513" rx="17" ry="9" transform="rotate(3 869 513)" fill="#525252"/><ellipse cx="870" cy="534" rx="14" ry="11" transform="rotate(-5 870 534)" fill="#5d5d5d"/><ellipse cx="897" cy="496" rx="14" ry="11" transform="rotate(27 897 496)" fill="#525252"/><ellipse cx="903" cy="510" rx="20" ry="9" transform="rotate(27 903 510)" fill="#555555"/><ellipse cx="893" cy="536" rx="16" ry="10" transform="rotate(-10 893 536)" fill="#585858"/><ellipse cx="748" cy="498" rx="10" ry="4" fill="#1f1f1f"/><ellipse cx="812" cy="535" rx="6" ry="5" fill="#1f1f1f"/><ellipse cx="245" cy="529" rx="9" ry="5" fill="#1f1f1f"/><ellipse cx="147" cy="498" rx="10" ry="3" fill="#1f1f1f"/><ellipse cx="550" cy="495" rx="6" ry="6" fill="#1f1f1f"/><ellipse cx="593" cy="516" rx="10" ry="3" fill="#1f1f1f"/><ellipse cx="310" cy="522" rx="10" ry="5" fill="#1f1f1f"/><ellipse cx="885" cy="495" rx="9" ry="5" fill="#1f1f1f"/><ellipse cx="540" cy="532" rx="8" ry="6" fill="#1f1f1f"/><ellipse cx="211" cy="490" rx="6" ry="4" fill="#1f1f1f"/><ellipse cx="606" cy="496" rx="9" ry="4" fill="#1f1f1f"/><ellipse cx="235" cy="522" rx="9" ry="4" fill="#1f1f1f"/><ellipse cx="298" cy="499" rx="9" ry="6" fill="#1f1f1f"/><ellipse cx="626" cy="541" rx="6" ry="5" fill="#1f1f1f"/><path d="M127.0 488.7L916.5 487.1" stroke="#303030" stroke-width="6" opacity="0.8"/><path d="M127.0 545.0L916.5 543.4" stroke="#303030" stroke-width="6" opacity="0.8"/></g></g></g></g></g>
<rect x="135.0" y="434.3" width="773.5" height="149.0" fill="none" stroke="#000" stroke-width="2"/>
<line x1="126" y1="434.3" x2="135.0" y2="434.3" stroke="#000" stroke-width="2"/>
<text x="117" y="450.8" text-anchor="end" font-size="49.5">300</text>
<line x1="126" y1="523.5" x2="135.0" y2="523.5" stroke="#000" stroke-width="2"/>
<text x="117" y="540.0" text-anchor="end" font-size="49.5">150</text>
<line x1="135.0" y1="583.3" x2="135.0" y2="592.3" stroke="#000" stroke-width="2"/>
<line x1="313.2" y1="583.3" x2="313.2" y2="592.3" stroke="#000" stroke-width="2"/>
<line x1="491.4" y1="583.3" x2="491.4" y2="592.3" stroke="#000" stroke-width="2"/>
<line x1="669.6" y1="583.3" x2="669.6" y2="592.3" stroke="#000" stroke-width="2"/>
<line x1="847.8" y1="583.3" x2="847.8" y2="592.3" stroke="#000" stroke-width="2"/>
<text x="903" y="482.0" text-anchor="end" font-size="49.5">2000 nm</text>
<g clip-path="url(#cpa3)"><g filter="url(#virf)"><rect x="129.0" y="587.0" width="785.5" height="161.0" fill="#f5f5f5"/><g filter="url(#bl2)"><path d="M127.0 646.0 L132.0 646.2 L137.0 646.2 L142.0 645.8 L147.0 645.3 L152.0 644.8 L157.0 645.9 L162.0 647.6 L167.0 648.1 L172.0 647.3 L177.0 646.6 L182.0 646.3 L187.0 646.8 L192.0 646.2 L197.0 645.4 L202.0 644.7 L207.0 645.1 L212.0 645.6 L217.0 646.0 L222.0 645.8 L227.0 645.8 L232.0 645.9 L237.0 646.5 L242.0 645.9 L247.0 645.4 L252.0 645.4 L257.0 646.4 L262.0 646.6 L267.0 646.2 L272.0 645.1 L277.0 645.0 L282.0 645.2 L287.0 645.1 L292.0 644.8 L297.0 643.3 L302.0 644.0 L307.0 645.0 L312.0 645.5 L317.0 646.0 L322.0 646.1 L327.0 646.1 L332.0 645.8 L337.0 645.6 L342.0 644.8 L347.0 644.0 L352.0 644.5 L357.0 645.0 L362.0 644.7 L367.0 644.5 L372.0 644.1 L377.0 644.8 L382.0 644.5 L387.0 644.3 L392.0 643.1 L397.0 643.6 L402.0 644.8 L407.0 645.5 L412.0 645.6 L417.0 645.1 L422.0 644.5 L427.0 644.7 L432.0 644.7 L437.0 643.9 L442.0 642.8 L447.0 642.8 L452.0 643.1 L457.0 643.8 L462.0 643.9 L467.0 643.8 L472.0 644.5 L477.0 645.0 L482.0 644.4 L487.0 643.9 L492.0 643.0 L497.0 644.0 L502.0 644.2 L507.0 644.2 L512.0 643.9 L517.0 642.9 L522.0 643.6 L527.0 644.1 L532.0 643.6 L537.0 642.3 L542.0 641.7 L547.0 642.2 L552.0 643.4 L557.0 643.4 L562.0 643.5 L567.0 644.3 L572.0 644.4 L577.0 643.7 L582.0 643.1 L587.0 642.3 L592.0 642.7 L597.0 642.6 L602.0 642.9 L607.0 642.3 L612.0 641.8 L617.0 642.4 L622.0 643.4 L627.0 643.1 L632.0 642.3 L637.0 641.3 L642.0 642.1 L647.0 642.9 L652.0 643.2 L657.0 643.5 L662.0 643.3 L667.0 643.1 L672.0 642.9 L677.0 642.6 L682.0 641.9 L687.0 640.8 L692.0 641.3 L697.0 641.1 L702.0 641.1 L707.0 641.2 L712.0 642.2 L717.0 643.5 L722.0 643.7 L727.0 642.1 L732.0 640.8 L737.0 641.6 L742.0 642.3 L747.0 642.6 L752.0 641.8 L757.0 641.0 L762.0 641.6 L767.0 641.6 L772.0 641.9 L777.0 641.4 L782.0 640.8 L787.0 640.8 L792.0 640.6 L797.0 640.7 L802.0 641.1 L807.0 642.2 L812.0 643.1 L817.0 643.2 L822.0 641.9 L827.0 640.4 L832.0 639.8 L837.0 640.9 L842.0 641.3 L847.0 640.7 L852.0 640.0 L857.0 640.2 L862.0 641.1 L867.0 641.2 L872.0 641.3 L877.0 640.8 L882.0 640.4 L887.0 640.1 L892.0 640.8 L897.0 640.7 L902.0 641.4 L907.0 641.4 L912.0 641.5 L917.0 640.3 L917.0 706.2 L912.0 706.4 L907.0 706.3 L902.0 707.2 L897.0 707.5 L892.0 706.5 L887.0 705.7 L882.0 705.9 L877.0 706.9 L872.0 707.1 L867.0 706.8 L862.0 706.8 L857.0 706.6 L852.0 707.0 L847.0 707.1 L842.0 706.7 L837.0 706.3 L832.0 707.9 L827.0 708.8 L822.0 708.7 L817.0 707.3 L812.0 706.3 L807.0 706.7 L802.0 706.7 L797.0 706.7 L792.0 706.0 L787.0 706.9 L782.0 707.9 L777.0 708.7 L772.0 707.9 L767.0 707.2 L762.0 707.4 L757.0 708.4 L752.0 708.4 L747.0 707.6 L742.0 707.4 L737.0 707.9 L732.0 708.0 L727.0 707.6 L722.0 706.6 L717.0 707.3 L712.0 708.4 L707.0 709.4 L702.0 709.0 L697.0 708.4 L692.0 708.4 L687.0 708.2 L682.0 708.2 L677.0 707.3 L672.0 706.8 L667.0 707.4 L662.0 709.3 L657.0 709.1 L652.0 708.8 L647.0 708.3 L642.0 708.9 L637.0 709.3 L632.0 708.7 L627.0 708.4 L622.0 708.2 L617.0 709.1 L612.0 708.9 L607.0 708.7 L602.0 707.3 L597.0 707.8 L592.0 709.0 L587.0 710.2 L582.0 710.0 L577.0 710.0 L572.0 709.3 L567.0 709.3 L562.0 709.2 L557.0 708.1 L552.0 708.0 L547.0 708.5 L542.0 709.8 L537.0 710.3 L532.0 709.2 L527.0 709.4 L522.0 710.0 L517.0 710.2 L512.0 709.7 L507.0 709.1 L502.0 709.6 L497.0 710.6 L492.0 710.7 L487.0 709.8 L482.0 708.3 L477.0 708.5 L472.0 709.7 L467.0 710.5 L462.0 710.3 L457.0 710.0 L452.0 710.4 L447.0 710.9 L442.0 710.6 L437.0 709.5 L432.0 709.2 L427.0 709.5 L422.0 710.9 L417.0 711.3 L412.0 710.2 L407.0 710.4 L402.0 711.1 L397.0 710.7 L392.0 710.4 L387.0 709.6 L382.0 710.1 L377.0 711.1 L372.0 711.3 L367.0 710.8 L362.0 710.2 L357.0 710.6 L352.0 711.5 L347.0 712.0 L342.0 711.7 L337.0 711.5 L332.0 712.0 L327.0 712.1 L322.0 710.9 L317.0 709.3 L312.0 708.8 L307.0 710.0 L302.0 711.2 L297.0 711.1 L292.0 711.2 L287.0 711.6 L282.0 712.2 L277.0 712.8 L272.0 711.5 L267.0 711.5 L262.0 711.2 L257.0 712.3 L252.0 711.7 L247.0 711.2 L242.0 710.0 L237.0 710.3 L232.0 711.1 L227.0 711.3 L222.0 711.9 L217.0 712.4 L212.0 713.1 L207.0 714.1 L202.0 713.0 L197.0 711.8 L192.0 711.2 L187.0 711.9 L182.0 711.6 L177.0 711.5 L172.0 711.4 L167.0 712.1 L162.0 712.3 L157.0 712.4 L152.0 712.0 L147.0 711.4 L142.0 712.3 L137.0 713.2 L132.0 713.4 L127.0 713.2Z" fill="#3b3b3b"/><g clip-path="url(#cpt3)"><g filter="url(#bl3)"><ellipse cx="118" cy="665" rx="15" ry="12" transform="rotate(-14 118 665)" fill="#5e5e5e"/><ellipse cx="125" cy="678" rx="16" ry="11" transform="rotate(-15 125 678)" fill="#5c5c5c"/><ellipse cx="126" cy="702" rx="18" ry="8" transform="rotate(-0 126 702)" fill="#575757"/><ellipse cx="175" cy="661" rx="15" ry="12" transform="rotate(-10 175 661)" fill="#555555"/><ellipse cx="164" cy="680" rx="19" ry="11" transform="rotate(12 164 680)" fill="#5c5c5c"/><ellipse cx="172" cy="696" rx="21" ry="12" transform="rotate(30 172 696)" fill="#5b5b5b"/><ellipse cx="220" cy="662" rx="19" ry="11" transform="rotate(20 220 662)" fill="#535353"/><ellipse cx="212" cy="681" rx="20" ry="10" transform="rotate(3 212 681)" fill="#555555"/><ellipse cx="220" cy="703" rx="21" ry="12" transform="rotate(-1 220 703)" fill="#5c5c5c"/><ellipse cx="256" cy="653" rx="21" ry="11" transform="rotate(-20 256 653)" fill="#555555"/><ellipse cx="252" cy="673" rx="16" ry="8" transform="rotate(-15 252 673)" fill="#535353"/><ellipse cx="251" cy="693" rx="20" ry="11" transform="rotate(13 251 693)" fill="#555555"/><ellipse cx="278" cy="659" rx="20" ry="11" transform="rotate(28 278 659)" fill="#525252"/><ellipse cx="276" cy="675" rx="18" ry="8" transform="rotate(-17 276 675)" fill="#575757"/><ellipse cx="281" cy="696" rx="16" ry="9" transform="rotate(9 281 696)" fill="#585858"/><ellipse cx="320" cy="656" rx="16" ry="8" transform="rotate(0 320 656)" fill="#575757"/><ellipse cx="314" cy="676" rx="17" ry="10" transform="rotate(-15 314 676)" fill="#5a5a5a"/><ellipse cx="325" cy="694" rx="20" ry="9" transform="rotate(-10 325 694)" fill="#555555"/><ellipse cx="368" cy="663" rx="21" ry="10" transform="rotate(-27 368 663)" fill="#5c5c5c"/><ellipse cx="370" cy="675" rx="16" ry="11" transform="rotate(3 370 675)" fill="#585858"/><ellipse cx="362" cy="696" rx="20" ry="8" transform="rotate(9 362 696)" fill="#525252"/><ellipse cx="394" cy="655" rx="13" ry="10" transform="rotate(22 394 655)" fill="#5e5e5e"/><ellipse cx="391" cy="683" rx="20" ry="11" transform="rotate(-11 391 683)" fill="#545454"/><ellipse cx="393" cy="700" rx="19" ry="9" transform="rotate(14 393 700)" fill="#5e5e5e"/><ellipse cx="439" cy="662" rx="17" ry="11" transform="rotate(-26 439 662)" fill="#5d5d5d"/><ellipse cx="433" cy="674" rx="20" ry="9" transform="rotate(3 433 674)" fill="#565656"/><ellipse cx="441" cy="696" rx="20" ry="10" transform="rotate(-22 441 696)" fill="#5b5b5b"/><ellipse cx="482" cy="657" rx="14" ry="11" transform="rotate(16 482 657)" fill="#535353"/><ellipse cx="483" cy="671" rx="21" ry="11" transform="rotate(-19 483 671)" fill="#535353"/><ellipse cx="490" cy="696" rx="18" ry="10" transform="rotate(-25 490 696)" fill="#525252"/><ellipse cx="512" cy="656" rx="16" ry="11" transform="rotate(10 512 656)" fill="#525252"/><ellipse cx="514" cy="678" rx="16" ry="8" transform="rotate(-26 514 678)" fill="#5b5b5b"/><ellipse cx="523" cy="694" rx="14" ry="10" transform="rotate(29 523 694)" fill="#5a5a5a"/><ellipse cx="547" cy="662" rx="15" ry="10" transform="rotate(29 547 662)" fill="#595959"/><ellipse cx="555" cy="680" rx="14" ry="11" transform="rotate(16 555 680)" fill="#585858"/><ellipse cx="556" cy="692" rx="16" ry="10" transform="rotate(-11 556 692)" fill="#545454"/><ellipse cx="589" cy="661" rx="21" ry="11" transform="rotate(26 589 661)" fill="#5a5a5a"/><ellipse cx="595" cy="677" rx="13" ry="9" transform="rotate(7 595 677)" fill="#555555"/><ellipse cx="588" cy="691" rx="18" ry="10" transform="rotate(23 588 691)" fill="#585858"/><ellipse cx="627" cy="656" rx="18" ry="9" transform="rotate(18 627 656)" fill="#565656"/><ellipse cx="640" cy="678" rx="16" ry="11" transform="rotate(-25 640 678)" fill="#5d5d5d"/><ellipse cx="626" cy="697" rx="21" ry="12" transform="rotate(-9 626 697)" fill="#545454"/><ellipse cx="674" cy="652" rx="17" ry="10" transform="rotate(14 674 652)" fill="#555555"/><ellipse cx="677" cy="675" rx="15" ry="12" transform="rotate(-11 677 675)" fill="#525252"/><ellipse cx="673" cy="695" rx="15" ry="12" transform="rotate(18 673 695)" fill="#555555"/><ellipse cx="719" cy="659" rx="16" ry="8" transform="rotate(-29 719 659)" fill="#575757"/><ellipse cx="707" cy="670" rx="14" ry="12" transform="rotate(-15 707 670)" fill="#5b5b5b"/><ellipse cx="708" cy="689" rx="16" ry="10" transform="rotate(-7 708 689)" fill="#5d5d5d"/><ellipse cx="757" cy="651" rx="15" ry="9" transform="rotate(7 757 651)" fill="#565656"/><ellipse cx="754" cy="679" rx="18" ry="9" transform="rotate(24 754 679)" fill="#565656"/><ellipse cx="747" cy="693" rx="17" ry="9" transform="rotate(27 747 693)" fill="#5b5b5b"/><ellipse cx="789" cy="652" rx="19" ry="8" transform="rotate(-25 789 652)" fill="#585858"/><ellipse cx="794" cy="675" rx="17" ry="11" transform="rotate(25 794 675)" fill="#535353"/><ellipse cx="797" cy="691" rx="18" ry="10" transform="rotate(8 797 691)" fill="#5d5d5d"/><ellipse cx="825" cy="652" rx="17" ry="8" transform="rotate(-9 825 652)" fill="#565656"/><ellipse cx="833" cy="676" rx="14" ry="9" transform="rotate(-27 833 676)" fill="#5c5c5c"/><ellipse cx="828" cy="689" rx="15" ry="12" transform="rotate(24 828 689)" fill="#575757"/><ellipse cx="865" cy="654" rx="15" ry="11" transform="rotate(8 865 654)" fill="#545454"/><ellipse cx="866" cy="669" rx="18" ry="9" transform="rotate(26 866 669)" fill="#5d5d5d"/><ellipse cx="860" cy="699" rx="16" ry="10" transform="rotate(12 860 699)" fill="#595959"/><ellipse cx="911" cy="651" rx="20" ry="8" transform="rotate(-24 911 651)" fill="#585858"/><ellipse cx="899" cy="679" rx="15" ry="12" transform="rotate(-5 899 679)" fill="#5a5a5a"/><ellipse cx="904" cy="694" rx="15" ry="9" transform="rotate(9 904 694)" fill="#5a5a5a"/><ellipse cx="394" cy="679" rx="10" ry="3" fill="#1f1f1f"/><ellipse cx="768" cy="687" rx="8" ry="3" fill="#1f1f1f"/><ellipse cx="326" cy="693" rx="9" ry="3" fill="#1f1f1f"/><ellipse cx="579" cy="668" rx="10" ry="3" fill="#1f1f1f"/><ellipse cx="359" cy="661" rx="9" ry="5" fill="#1f1f1f"/><ellipse cx="881" cy="671" rx="8" ry="6" fill="#1f1f1f"/><ellipse cx="868" cy="680" rx="6" ry="5" fill="#1f1f1f"/><ellipse cx="621" cy="692" rx="6" ry="5" fill="#1f1f1f"/><ellipse cx="664" cy="663" rx="6" ry="6" fill="#1f1f1f"/><ellipse cx="405" cy="676" rx="6" ry="3" fill="#1f1f1f"/><ellipse cx="538" cy="686" rx="7" ry="4" fill="#1f1f1f"/><ellipse cx="750" cy="671" rx="7" ry="4" fill="#1f1f1f"/><ellipse cx="570" cy="703" rx="6" ry="4" fill="#1f1f1f"/><ellipse cx="313" cy="660" rx="7" ry="5" fill="#1f1f1f"/><path d="M127.0 651.6L916.5 645.4" stroke="#303030" stroke-width="6" opacity="0.8"/><path d="M127.0 707.6L916.5 701.4" stroke="#303030" stroke-width="6" opacity="0.8"/></g></g></g></g></g>
<rect x="135.0" y="593.0" width="773.5" height="149.0" fill="none" stroke="#000" stroke-width="2"/>
<line x1="126" y1="593.0" x2="135.0" y2="593.0" stroke="#000" stroke-width="2"/>
<text x="117" y="609.5" text-anchor="end" font-size="49.5">300</text>
<line x1="126" y1="682.2" x2="135.0" y2="682.2" stroke="#000" stroke-width="2"/>
<text x="117" y="698.7" text-anchor="end" font-size="49.5">150</text>
<line x1="135.0" y1="742.0" x2="135.0" y2="751.0" stroke="#000" stroke-width="2"/>
<line x1="313.2" y1="742.0" x2="313.2" y2="751.0" stroke="#000" stroke-width="2"/>
<line x1="491.4" y1="742.0" x2="491.4" y2="751.0" stroke="#000" stroke-width="2"/>
<line x1="669.6" y1="742.0" x2="669.6" y2="751.0" stroke="#000" stroke-width="2"/>
<line x1="847.8" y1="742.0" x2="847.8" y2="751.0" stroke="#000" stroke-width="2"/>
<text x="903" y="631.0" text-anchor="end" font-size="49.5">4000 nm</text>
<text x="135.0" y="792.5" text-anchor="middle" font-size="49.5">0</text>
<text x="313.2" y="792.5" text-anchor="middle" font-size="49.5">300</text>
<text x="491.4" y="792.5" text-anchor="middle" font-size="49.5">600</text>
<text x="669.6" y="792.5" text-anchor="middle" font-size="49.5">900</text>
<text x="847.8" y="792.5" text-anchor="middle" font-size="49.5">1200</text>
<text x="521.7" y="849" text-anchor="middle" font-size="49.5">Length (nm)</text>
<text transform="translate(36,429.7) rotate(-90)" text-anchor="middle" font-size="49.5">Width (nm)</text>
<text x="44.4" y="33.3" font-size="49.5">a)</text>
<rect x="927.4" y="117.0" width="40.0" height="625.0" fill="url(#cbg)" stroke="#000" stroke-width="2"/>
<line x1="967.4" y1="215.7" x2="976.4" y2="215.7" stroke="#000" stroke-width="2"/>
<text x="1056" y="232.2" text-anchor="end" font-size="49.5">−6</text>
<line x1="967.4" y1="347.3" x2="976.4" y2="347.3" stroke="#000" stroke-width="2"/>
<text x="1056" y="363.8" text-anchor="end" font-size="49.5">−16</text>
<line x1="967.4" y1="478.9" x2="976.4" y2="478.9" stroke="#000" stroke-width="2"/>
<text x="1056" y="495.4" text-anchor="end" font-size="49.5">−26</text>
<line x1="967.4" y1="610.5" x2="976.4" y2="610.5" stroke="#000" stroke-width="2"/>
<text x="1056" y="627.0" text-anchor="end" font-size="49.5">−36</text>
<line x1="967.4" y1="742.0" x2="976.4" y2="742.0" stroke="#000" stroke-width="2"/>
<text x="1056" y="758.5" text-anchor="end" font-size="49.5">−46</text>
<text x="879" y="101" font-size="49.5">Z (nm)</text>
<rect x="1245.3" y="121.7" width="823.2" height="623.0" fill="none" stroke="#000" stroke-width="2"/>
<line x1="1235.3" y1="154.5" x2="1245.3" y2="154.5" stroke="#000" stroke-width="2"/>
<text x="1227.5" y="171.0" text-anchor="end" font-size="49.5">-26</text>
<line x1="1235.3" y1="285.7" x2="1245.3" y2="285.7" stroke="#000" stroke-width="2"/>
<text x="1227.5" y="302.2" text-anchor="end" font-size="49.5">-28</text>
<line x1="1235.3" y1="416.9" x2="1245.3" y2="416.9" stroke="#000" stroke-width="2"/>
<text x="1227.5" y="433.4" text-anchor="end" font-size="49.5">-30</text>
<line x1="1235.3" y1="548.0" x2="1245.3" y2="548.0" stroke="#000" stroke-width="2"/>
<text x="1227.5" y="564.5" text-anchor="end" font-size="49.5">-32</text>
<line x1="1235.3" y1="679.2" x2="1245.3" y2="679.2" stroke="#000" stroke-width="2"/>
<text x="1227.5" y="695.7" text-anchor="end" font-size="49.5">-34</text>
<line x1="1336.6" y1="744.7" x2="1336.6" y2="754.7" stroke="#000" stroke-width="2"/>
<text x="1337.6" y="799.8" text-anchor="middle" font-size="49.5">500</text>
<line x1="1428.0" y1="744.7" x2="1428.0" y2="754.7" stroke="#000" stroke-width="2"/>
<text x="1429.0" y="799.8" text-anchor="middle" font-size="49.5">1000</text>
<line x1="1610.7" y1="744.7" x2="1610.7" y2="754.7" stroke="#000" stroke-width="2"/>
<text x="1611.7" y="799.8" text-anchor="middle" font-size="49.5">2000</text>
<line x1="1976.3" y1="744.7" x2="1976.3" y2="754.7" stroke="#000" stroke-width="2"/>
<text x="1977.3" y="799.8" text-anchor="middle" font-size="49.5">4000</text>
<text x="1657" y="849.7" text-anchor="middle" font-size="49.5">Nominal Pitch (nm)</text>
<text transform="translate(1144.2,434.5) rotate(-90)" text-anchor="middle" font-size="49.5">Mean depth (nm)</text>
<text x="1163.3" y="34.8" font-size="49.5">b)</text>
<path d="M1336.8 223.2V256.2M1320.8 223.2H1352.8M1320.8 256.2H1352.8" stroke="rgba(110,175,80,0.7)" stroke-width="2" fill="none"/>
<path d="M1428.3 313.7V448.7M1412.3 313.7H1444.3M1412.3 448.7H1444.3" stroke="rgba(110,175,80,0.7)" stroke-width="2" fill="none"/>
<path d="M1611.2 404.6V591.6M1595.2 404.6H1627.2M1595.2 591.6H1627.2" stroke="rgba(110,175,80,0.7)" stroke-width="2" fill="none"/>
<path d="M1977.0 445.7V694.1M1961.0 445.7H1993.0M1961.0 694.1H1993.0" stroke="rgba(110,175,80,0.7)" stroke-width="2" fill="none"/>
<circle cx="1336.8" cy="239.7" r="12.6" fill="#009000"/>
<circle cx="1428.3" cy="381.2" r="12.6" fill="#009000"/>
<circle cx="1611.2" cy="498.1" r="12.6" fill="#009000"/>
<circle cx="1977.0" cy="569.9" r="12.6" fill="#009000"/>
<path d="M1336.8 183.1V222.7M1320.8 183.1H1352.8M1320.8 222.7H1352.8" stroke="rgba(50,95,180,0.7)" stroke-width="2" fill="none"/>
<path d="M1428.3 255.6V328.0M1412.3 255.6H1444.3M1412.3 328.0H1444.3" stroke="rgba(50,95,180,0.7)" stroke-width="2" fill="none"/>
<path d="M1611.2 349.0V466.2M1595.2 349.0H1627.2M1595.2 466.2H1627.2" stroke="rgba(50,95,180,0.7)" stroke-width="2" fill="none"/>
<path d="M1977.0 405.3V587.3M1961.0 405.3H1993.0M1961.0 587.3H1993.0" stroke="rgba(50,95,180,0.7)" stroke-width="2" fill="none"/>
<circle cx="1336.8" cy="202.9" r="12.6" fill="#0066aa"/>
<circle cx="1428.3" cy="291.8" r="12.6" fill="#0066aa"/>
<circle cx="1611.2" cy="407.6" r="12.6" fill="#0066aa"/>
<circle cx="1977.0" cy="496.3" r="12.6" fill="#0066aa"/>
<path d="M1336.8 187.6V221.6M1320.8 187.6H1352.8M1320.8 221.6H1352.8" stroke="rgba(238,95,70,0.7)" stroke-width="2" fill="none"/>
<path d="M1428.3 256.0V296.4M1412.3 256.0H1444.3M1412.3 296.4H1444.3" stroke="rgba(238,95,70,0.7)" stroke-width="2" fill="none"/>
<path d="M1611.2 306.6V394.4M1595.2 306.6H1627.2M1595.2 394.4H1627.2" stroke="rgba(238,95,70,0.7)" stroke-width="2" fill="none"/>
<path d="M1977.0 284.9V438.9M1961.0 284.9H1993.0M1961.0 438.9H1993.0" stroke="rgba(238,95,70,0.7)" stroke-width="2" fill="none"/>
<circle cx="1336.8" cy="204.6" r="12.6" fill="#f93c40"/>
<circle cx="1428.3" cy="276.2" r="12.6" fill="#f93c40"/>
<circle cx="1611.2" cy="350.5" r="12.6" fill="#f93c40"/>
<circle cx="1977.0" cy="361.9" r="12.6" fill="#f93c40"/>
<text x="1268.5" y="586.0" font-size="49.5" style="fill:#009000">100 nm</text>
<text x="1268.5" y="647.3" font-size="49.5" style="fill:#0066aa">160 nm</text>
<text x="1268.5" y="708.5" font-size="49.5" style="fill:#f93c40">240 nm</text>
<text x="43.6" y="989" font-size="49.5">c)</text>
<rect x="354.0" y="979" width="518.0" height="451" fill="#dff1e6"/>
<rect x="885.3" y="979" width="518.3" height="451" fill="#e7ebf5"/>
<rect x="1417.0" y="979" width="518.0" height="451" fill="#fdc9ca"/>
<g clip-path="url(#cps0)"><g filter="url(#grain)"><rect x="421.2" y="1004.0" width="393.1" height="132.7" fill="url(#sbg0)"/><ellipse cx="795" cy="1134" rx="80" ry="30" fill="url(#dks)"/><path d="M510.0 1024.9 L514.0 1024.8 L518.0 1024.8 L522.0 1024.9 L526.0 1024.6 L530.0 1024.6 L534.0 1024.6 L538.0 1025.0 L542.0 1024.8 L546.0 1024.6 L550.0 1024.9 L554.0 1025.2 L558.0 1025.2 L562.0 1025.2 L566.0 1025.4 L570.0 1025.6 L574.0 1025.3 L578.0 1025.0 L582.0 1025.0 L586.0 1025.2 L590.0 1025.3 L594.0 1024.9 L598.0 1024.8 L602.0 1025.1 L606.0 1025.1 L610.0 1024.7 L614.0 1024.5 L618.0 1024.8 L622.0 1024.8 L626.0 1024.8 L630.0 1024.9 L634.0 1025.2 L638.0 1025.6 L642.0 1025.4 L646.0 1025.2 L650.0 1025.1 L654.0 1025.2 L658.0 1024.8 L662.0 1024.6 L666.0 1025.2 L670.0 1025.4 L674.0 1025.1 L678.0 1025.1 L682.0 1025.1 L686.0 1025.3 L690.0 1024.7 L694.0 1024.5 L698.0 1024.6 L702.0 1024.9 L706.0 1024.9 L710.0 1024.8 L714.0 1025.1 L718.0 1025.4 L722.0 1025.2 L726.0 1024.7 L730.0 1024.8 L734.0 1024.8 L738.0 1024.7 L742.0 1024.7 L746.0 1025.0 L750.0 1025.4 L754.0 1025.5 L758.0 1025.2 L762.0 1025.0 L766.0 1025.1 L770.0 1024.8 L774.0 1024.6 L778.0 1024.6 L782.0 1025.0 L786.0 1025.1 L790.0 1024.9 L794.0 1025.0 L798.0 1025.2 L802.0 1025.1 L806.0 1024.6 L810.0 1024.5 L814.0 1024.6 L818.0 1025.0 L822.0 1024.9 L826.3 1024.9 L826.3 1061.9 L822.0 1061.9 L818.0 1061.7 L814.0 1061.8 L810.0 1062.0 L806.0 1062.2 L802.0 1062.4 L798.0 1062.6 L794.0 1062.4 L790.0 1061.9 L786.0 1061.7 L782.0 1061.5 L778.0 1061.5 L774.0 1061.8 L770.0 1062.0 L766.0 1062.0 L762.0 1062.2 L758.0 1062.1 L754.0 1062.0 L750.0 1062.2 L746.0 1062.1 L742.0 1062.1 L738.0 1062.2 L734.0 1062.0 L730.0 1062.0 L726.0 1061.9 L722.0 1061.7 L718.0 1061.9 L714.0 1062.1 L710.0 1062.0 L706.0 1062.0 L702.0 1062.0 L698.0 1061.8 L694.0 1061.9 L690.0 1062.0 L686.0 1062.0 L682.0 1062.4 L678.0 1062.5 L674.0 1062.3 L670.0 1062.3 L666.0 1061.7 L662.0 1061.7 L658.0 1061.5 L654.0 1061.8 L650.0 1061.8 L646.0 1062.1 L642.0 1062.4 L638.0 1062.3 L634.0 1062.1 L630.0 1062.1 L626.0 1062.0 L622.0 1061.9 L618.0 1062.0 L614.0 1062.1 L610.0 1062.3 L606.0 1062.1 L602.0 1062.1 L598.0 1062.0 L594.0 1062.0 L590.0 1062.0 L586.0 1061.8 L582.0 1061.9 L578.0 1061.8 L574.0 1061.9 L570.0 1062.0 L566.0 1062.1 L562.0 1062.2 L558.0 1062.6 L554.0 1062.4 L550.0 1062.3 L546.0 1061.9 L542.0 1061.7 L538.0 1061.3 L534.0 1061.3 L530.0 1061.6 L526.0 1062.0 L522.0 1062.2 L518.0 1062.5 L514.0 1062.3 L510.0 1062.1 Q502.0 1062.0 502.0 1054.0 L502.0 1033.0 Q502.0 1025.0 510.0 1024.9Z" fill="none" stroke="#ffffff" stroke-opacity="0.10" stroke-width="18" filter="url(#bl4)"/><path d="M510.0 1024.9 L514.0 1024.8 L518.0 1024.8 L522.0 1024.9 L526.0 1024.6 L530.0 1024.6 L534.0 1024.6 L538.0 1025.0 L542.0 1024.8 L546.0 1024.6 L550.0 1024.9 L554.0 1025.2 L558.0 1025.2 L562.0 1025.2 L566.0 1025.4 L570.0 1025.6 L574.0 1025.3 L578.0 1025.0 L582.0 1025.0 L586.0 1025.2 L590.0 1025.3 L594.0 1024.9 L598.0 1024.8 L602.0 1025.1 L606.0 1025.1 L610.0 1024.7 L614.0 1024.5 L618.0 1024.8 L622.0 1024.8 L626.0 1024.8 L630.0 1024.9 L634.0 1025.2 L638.0 1025.6 L642.0 1025.4 L646.0 1025.2 L650.0 1025.1 L654.0 1025.2 L658.0 1024.8 L662.0 1024.6 L666.0 1025.2 L670.0 1025.4 L674.0 1025.1 L678.0 1025.1 L682.0 1025.1 L686.0 1025.3 L690.0 1024.7 L694.0 1024.5 L698.0 1024.6 L702.0 1024.9 L706.0 1024.9 L710.0 1024.8 L714.0 1025.1 L718.0 1025.4 L722.0 1025.2 L726.0 1024.7 L730.0 1024.8 L734.0 1024.8 L738.0 1024.7 L742.0 1024.7 L746.0 1025.0 L750.0 1025.4 L754.0 1025.5 L758.0 1025.2 L762.0 1025.0 L766.0 1025.1 L770.0 1024.8 L774.0 1024.6 L778.0 1024.6 L782.0 1025.0 L786.0 1025.1 L790.0 1024.9 L794.0 1025.0 L798.0 1025.2 L802.0 1025.1 L806.0 1024.6 L810.0 1024.5 L814.0 1024.6 L818.0 1025.0 L822.0 1024.9 L826.3 1024.9 L826.3 1061.9 L822.0 1061.9 L818.0 1061.7 L814.0 1061.8 L810.0 1062.0 L806.0 1062.2 L802.0 1062.4 L798.0 1062.6 L794.0 1062.4 L790.0 1061.9 L786.0 1061.7 L782.0 1061.5 L778.0 1061.5 L774.0 1061.8 L770.0 1062.0 L766.0 1062.0 L762.0 1062.2 L758.0 1062.1 L754.0 1062.0 L750.0 1062.2 L746.0 1062.1 L742.0 1062.1 L738.0 1062.2 L734.0 1062.0 L730.0 1062.0 L726.0 1061.9 L722.0 1061.7 L718.0 1061.9 L714.0 1062.1 L710.0 1062.0 L706.0 1062.0 L702.0 1062.0 L698.0 1061.8 L694.0 1061.9 L690.0 1062.0 L686.0 1062.0 L682.0 1062.4 L678.0 1062.5 L674.0 1062.3 L670.0 1062.3 L666.0 1061.7 L662.0 1061.7 L658.0 1061.5 L654.0 1061.8 L650.0 1061.8 L646.0 1062.1 L642.0 1062.4 L638.0 1062.3 L634.0 1062.1 L630.0 1062.1 L626.0 1062.0 L622.0 1061.9 L618.0 1062.0 L614.0 1062.1 L610.0 1062.3 L606.0 1062.1 L602.0 1062.1 L598.0 1062.0 L594.0 1062.0 L590.0 1062.0 L586.0 1061.8 L582.0 1061.9 L578.0 1061.8 L574.0 1061.9 L570.0 1062.0 L566.0 1062.1 L562.0 1062.2 L558.0 1062.6 L554.0 1062.4 L550.0 1062.3 L546.0 1061.9 L542.0 1061.7 L538.0 1061.3 L534.0 1061.3 L530.0 1061.6 L526.0 1062.0 L522.0 1062.2 L518.0 1062.5 L514.0 1062.3 L510.0 1062.1 Q502.0 1062.0 502.0 1054.0 L502.0 1033.0 Q502.0 1025.0 510.0 1024.9Z" fill="none" stroke="#ffffff" stroke-opacity="0.16" stroke-width="7" filter="url(#bl2)"/><rect x="508.0" y="1015.0" width="306.3" height="10.0" fill="url(#hgt0)"/><rect x="508.0" y="1062.0" width="306.3" height="12.0" fill="url(#hgb0)"/><g clip-path="url(#cst0)"><g filter="url(#mott0)"><rect x="413.2" y="1020.0" width="409.1" height="47.0" fill="#4c4c4c"/><ellipse cx="800" cy="1035" rx="3.6" ry="2.5" fill="#444444"/><ellipse cx="519" cy="1042" rx="4.2" ry="2.5" fill="#585858"/><ellipse cx="683" cy="1042" rx="3.1" ry="1.6" fill="#575757"/><ellipse cx="680" cy="1043" rx="2.8" ry="1.8" fill="#555555"/><ellipse cx="770" cy="1044" rx="4.4" ry="1.4" fill="#5a5a5a"/><ellipse cx="640" cy="1029" rx="3.9" ry="1.2" fill="#545454"/><ellipse cx="706" cy="1053" rx="1.9" ry="1.7" fill="#595959"/><ellipse cx="719" cy="1045" rx="3.0" ry="3.0" fill="#444444"/><ellipse cx="630" cy="1040" rx="3.3" ry="2.8" fill="#565656"/><ellipse cx="798" cy="1037" rx="3.6" ry="1.6" fill="#575757"/><ellipse cx="769" cy="1042" rx="1.8" ry="2.8" fill="#555555"/><ellipse cx="587" cy="1044" rx="3.4" ry="2.2" fill="#454545"/><ellipse cx="515" cy="1054" rx="2.3" ry="1.4" fill="#575757"/><ellipse cx="814" cy="1043" rx="3.6" ry="1.4" fill="#434343"/><ellipse cx="553" cy="1038" rx="4.4" ry="2.0" fill="#5a5a5a"/><ellipse cx="706" cy="1059" rx="3.9" ry="1.6" fill="#444444"/><ellipse cx="800" cy="1046" rx="3.6" ry="1.8" fill="#565656"/><ellipse cx="735" cy="1048" rx="4.0" ry="2.9" fill="#595959"/><ellipse cx="518" cy="1050" rx="1.9" ry="1.4" fill="#464646"/><ellipse cx="549" cy="1055" rx="1.7" ry="2.1" fill="#565656"/><ellipse cx="585" cy="1030" rx="3.4" ry="2.8" fill="#5a5a5a"/><ellipse cx="521" cy="1053" rx="3.0" ry="2.5" fill="#595959"/><ellipse cx="520" cy="1031" rx="3.5" ry="2.1" fill="#545454"/><ellipse cx="621" cy="1056" rx="3.1" ry="2.3" fill="#444444"/><ellipse cx="550" cy="1058" rx="1.8" ry="1.3" fill="#585858"/><ellipse cx="587" cy="1030" rx="3.7" ry="2.4" fill="#595959"/><ellipse cx="777" cy="1037" rx="4.1" ry="1.3" fill="#474747"/><ellipse cx="565" cy="1046" rx="3.1" ry="1.7" fill="#5b5b5b"/><ellipse cx="543" cy="1040" rx="4.4" ry="3.0" fill="#5a5a5a"/><ellipse cx="751" cy="1058" rx="2.0" ry="2.1" fill="#595959"/><ellipse cx="594" cy="1040" rx="2.1" ry="1.8" fill="#444444"/><ellipse cx="654" cy="1040" rx="4.2" ry="1.9" fill="#555555"/><ellipse cx="798" cy="1051" rx="2.2" ry="1.4" fill="#484848"/><ellipse cx="610" cy="1046" rx="2.4" ry="1.2" fill="#434343"/><ellipse cx="536" cy="1043" rx="3.0" ry="2.5" fill="#434343"/><ellipse cx="641" cy="1049" rx="3.3" ry="1.7" fill="#585858"/><ellipse cx="567" cy="1030" rx="2.8" ry="2.7" fill="#484848"/><ellipse cx="730" cy="1042" rx="3.9" ry="1.8" fill="#565656"/><ellipse cx="599" cy="1042" rx="4.5" ry="1.9" fill="#464646"/><ellipse cx="613" cy="1045" rx="2.3" ry="2.9" fill="#464646"/><ellipse cx="716" cy="1040" rx="4.3" ry="2.1" fill="#575757"/><ellipse cx="626" cy="1048" rx="3.1" ry="1.7" fill="#444444"/><ellipse cx="642" cy="1052" rx="3.6" ry="1.9" fill="#595959"/><ellipse cx="673" cy="1029" rx="2.9" ry="2.3" fill="#474747"/><ellipse cx="765" cy="1029" rx="4.3" ry="1.4" fill="#434343"/><ellipse cx="796" cy="1045" rx="2.1" ry="2.8" fill="#5c5c5c"/><ellipse cx="722" cy="1050" rx="2.6" ry="1.4" fill="#5a5a5a"/><ellipse cx="596" cy="1056" rx="4.0" ry="2.3" fill="#595959"/><ellipse cx="778" cy="1057" rx="2.8" ry="2.5" fill="#424242"/><ellipse cx="524" cy="1047" rx="3.9" ry="2.9" fill="#585858"/><ellipse cx="546" cy="1038" rx="2.6" ry="2.5" fill="#595959"/><ellipse cx="697" cy="1029" rx="4.2" ry="2.6" fill="#5b5b5b"/><ellipse cx="605" cy="1033" rx="4.2" ry="1.6" fill="#5a5a5a"/><ellipse cx="614" cy="1038" rx="3.7" ry="1.3" fill="#464646"/><ellipse cx="659" cy="1058" rx="2.9" ry="1.8" fill="#424242"/><ellipse cx="507" cy="1054" rx="3.0" ry="1.7" fill="#575757"/><ellipse cx="759" cy="1056" rx="1.9" ry="2.3" fill="#484848"/><ellipse cx="612" cy="1047" rx="2.6" ry="2.3" fill="#575757"/><ellipse cx="759" cy="1028" rx="2.7" ry="1.6" fill="#595959"/><ellipse cx="719" cy="1044" rx="2.3" ry="1.6" fill="#595959"/><ellipse cx="691" cy="1055" rx="4.0" ry="1.3" fill="#545454"/><ellipse cx="778" cy="1048" rx="4.4" ry="1.7" fill="#454545"/><ellipse cx="538" cy="1036" rx="3.1" ry="1.8" fill="#484848"/><ellipse cx="574" cy="1034" rx="4.3" ry="2.1" fill="#5a5a5a"/><ellipse cx="739" cy="1054" rx="3.3" ry="1.7" fill="#565656"/><ellipse cx="798" cy="1058" rx="1.5" ry="1.6" fill="#585858"/><ellipse cx="685" cy="1047" rx="4.1" ry="1.8" fill="#484848"/><ellipse cx="673" cy="1054" rx="1.8" ry="1.2" fill="#474747"/><ellipse cx="747" cy="1035" rx="3.5" ry="3.0" fill="#575757"/><ellipse cx="506" cy="1036" rx="4.2" ry="1.2" fill="#464646"/><g filter="url(#bl18)"></g><path d="M510.0 1024.9 L514.0 1024.8 L518.0 1024.8 L522.0 1024.9 L526.0 1024.6 L530.0 1024.6 L534.0 1024.6 L538.0 1025.0 L542.0 1024.8 L546.0 1024.6 L550.0 1024.9 L554.0 1025.2 L558.0 1025.2 L562.0 1025.2 L566.0 1025.4 L570.0 1025.6 L574.0 1025.3 L578.0 1025.0 L582.0 1025.0 L586.0 1025.2 L590.0 1025.3 L594.0 1024.9 L598.0 1024.8 L602.0 1025.1 L606.0 1025.1 L610.0 1024.7 L614.0 1024.5 L618.0 1024.8 L622.0 1024.8 L626.0 1024.8 L630.0 1024.9 L634.0 1025.2 L638.0 1025.6 L642.0 1025.4 L646.0 1025.2 L650.0 1025.1 L654.0 1025.2 L658.0 1024.8 L662.0 1024.6 L666.0 1025.2 L670.0 1025.4 L674.0 1025.1 L678.0 1025.1 L682.0 1025.1 L686.0 1025.3 L690.0 1024.7 L694.0 1024.5 L698.0 1024.6 L702.0 1024.9 L706.0 1024.9 L710.0 1024.8 L714.0 1025.1 L718.0 1025.4 L722.0 1025.2 L726.0 1024.7 L730.0 1024.8 L734.0 1024.8 L738.0 1024.7 L742.0 1024.7 L746.0 1025.0 L750.0 1025.4 L754.0 1025.5 L758.0 1025.2 L762.0 1025.0 L766.0 1025.1 L770.0 1024.8 L774.0 1024.6 L778.0 1024.6 L782.0 1025.0 L786.0 1025.1 L790.0 1024.9 L794.0 1025.0 L798.0 1025.2 L802.0 1025.1 L806.0 1024.6 L810.0 1024.5 L814.0 1024.6 L818.0 1025.0 L822.0 1024.9 L826.3 1024.9 L826.3 1061.9 L822.0 1061.9 L818.0 1061.7 L814.0 1061.8 L810.0 1062.0 L806.0 1062.2 L802.0 1062.4 L798.0 1062.6 L794.0 1062.4 L790.0 1061.9 L786.0 1061.7 L782.0 1061.5 L778.0 1061.5 L774.0 1061.8 L770.0 1062.0 L766.0 1062.0 L762.0 1062.2 L758.0 1062.1 L754.0 1062.0 L750.0 1062.2 L746.0 1062.1 L742.0 1062.1 L738.0 1062.2 L734.0 1062.0 L730.0 1062.0 L726.0 1061.9 L722.0 1061.7 L718.0 1061.9 L714.0 1062.1 L710.0 1062.0 L706.0 1062.0 L702.0 1062.0 L698.0 1061.8 L694.0 1061.9 L690.0 1062.0 L686.0 1062.0 L682.0 1062.4 L678.0 1062.5 L674.0 1062.3 L670.0 1062.3 L666.0 1061.7 L662.0 1061.7 L658.0 1061.5 L654.0 1061.8 L650.0 1061.8 L646.0 1062.1 L642.0 1062.4 L638.0 1062.3 L634.0 1062.1 L630.0 1062.1 L626.0 1062.0 L622.0 1061.9 L618.0 1062.0 L614.0 1062.1 L610.0 1062.3 L606.0 1062.1 L602.0 1062.1 L598.0 1062.0 L594.0 1062.0 L590.0 1062.0 L586.0 1061.8 L582.0 1061.9 L578.0 1061.8 L574.0 1061.9 L570.0 1062.0 L566.0 1062.1 L562.0 1062.2 L558.0 1062.6 L554.0 1062.4 L550.0 1062.3 L546.0 1061.9 L542.0 1061.7 L538.0 1061.3 L534.0 1061.3 L530.0 1061.6 L526.0 1062.0 L522.0 1062.2 L518.0 1062.5 L514.0 1062.3 L510.0 1062.1 Q502.0 1062.0 502.0 1054.0 L502.0 1033.0 Q502.0 1025.0 510.0 1024.9Z" fill="none" stroke="#2e2e2e" stroke-width="10" stroke-opacity="0.7"/></g></g><path d="M510.0 1024.9 L514.0 1024.8 L518.0 1024.8 L522.0 1024.9 L526.0 1024.6 L530.0 1024.6 L534.0 1024.6 L538.0 1025.0 L542.0 1024.8 L546.0 1024.6 L550.0 1024.9 L554.0 1025.2 L558.0 1025.2 L562.0 1025.2 L566.0 1025.4 L570.0 1025.6 L574.0 1025.3 L578.0 1025.0 L582.0 1025.0 L586.0 1025.2 L590.0 1025.3 L594.0 1024.9 L598.0 1024.8 L602.0 1025.1 L606.0 1025.1 L610.0 1024.7 L614.0 1024.5 L618.0 1024.8 L622.0 1024.8 L626.0 1024.8 L630.0 1024.9 L634.0 1025.2 L638.0 1025.6 L642.0 1025.4 L646.0 1025.2 L650.0 1025.1 L654.0 1025.2 L658.0 1024.8 L662.0 1024.6 L666.0 1025.2 L670.0 1025.4 L674.0 1025.1 L678.0 1025.1 L682.0 1025.1 L686.0 1025.3 L690.0 1024.7 L694.0 1024.5 L698.0 1024.6 L702.0 1024.9 L706.0 1024.9 L710.0 1024.8 L714.0 1025.1 L718.0 1025.4 L722.0 1025.2 L726.0 1024.7 L730.0 1024.8 L734.0 1024.8 L738.0 1024.7 L742.0 1024.7 L746.0 1025.0 L750.0 1025.4 L754.0 1025.5 L758.0 1025.2 L762.0 1025.0 L766.0 1025.1 L770.0 1024.8 L774.0 1024.6 L778.0 1024.6 L782.0 1025.0 L786.0 1025.1 L790.0 1024.9 L794.0 1025.0 L798.0 1025.2 L802.0 1025.1 L806.0 1024.6 L810.0 1024.5 L814.0 1024.6 L818.0 1025.0 L822.0 1024.9 L826.3 1024.9 L826.3 1061.9 L822.0 1061.9 L818.0 1061.7 L814.0 1061.8 L810.0 1062.0 L806.0 1062.2 L802.0 1062.4 L798.0 1062.6 L794.0 1062.4 L790.0 1061.9 L786.0 1061.7 L782.0 1061.5 L778.0 1061.5 L774.0 1061.8 L770.0 1062.0 L766.0 1062.0 L762.0 1062.2 L758.0 1062.1 L754.0 1062.0 L750.0 1062.2 L746.0 1062.1 L742.0 1062.1 L738.0 1062.2 L734.0 1062.0 L730.0 1062.0 L726.0 1061.9 L722.0 1061.7 L718.0 1061.9 L714.0 1062.1 L710.0 1062.0 L706.0 1062.0 L702.0 1062.0 L698.0 1061.8 L694.0 1061.9 L690.0 1062.0 L686.0 1062.0 L682.0 1062.4 L678.0 1062.5 L674.0 1062.3 L670.0 1062.3 L666.0 1061.7 L662.0 1061.7 L658.0 1061.5 L654.0 1061.8 L650.0 1061.8 L646.0 1062.1 L642.0 1062.4 L638.0 1062.3 L634.0 1062.1 L630.0 1062.1 L626.0 1062.0 L622.0 1061.9 L618.0 1062.0 L614.0 1062.1 L610.0 1062.3 L606.0 1062.1 L602.0 1062.1 L598.0 1062.0 L594.0 1062.0 L590.0 1062.0 L586.0 1061.8 L582.0 1061.9 L578.0 1061.8 L574.0 1061.9 L570.0 1062.0 L566.0 1062.1 L562.0 1062.2 L558.0 1062.6 L554.0 1062.4 L550.0 1062.3 L546.0 1061.9 L542.0 1061.7 L538.0 1061.3 L534.0 1061.3 L530.0 1061.6 L526.0 1062.0 L522.0 1062.2 L518.0 1062.5 L514.0 1062.3 L510.0 1062.1 Q502.0 1062.0 502.0 1054.0 L502.0 1033.0 Q502.0 1025.0 510.0 1024.9Z" fill="none" stroke="#d8d8d8" stroke-width="2.4" filter="url(#bl07)"/></g></g>
<g clip-path="url(#cps1)"><g filter="url(#grain)"><rect x="421.2" y="1140.0" width="393.1" height="132.4" fill="url(#sbg1)"/><path d="M415.2 1198.4 L419.2 1198.4 L423.2 1198.4 L427.2 1198.4 L431.2 1198.2 L435.2 1198.1 L439.2 1198.1 L443.2 1197.9 L447.2 1197.9 L451.2 1197.9 L455.2 1198.0 L459.2 1197.8 L463.2 1198.0 L467.2 1198.0 L471.2 1197.8 L475.2 1197.8 L479.2 1197.9 L483.2 1197.9 L487.2 1198.1 L491.2 1197.9 L495.2 1198.0 L499.2 1198.3 L503.2 1198.2 L507.2 1198.1 L511.2 1198.0 L515.2 1198.0 L519.2 1198.1 L523.2 1198.0 L527.2 1198.0 L531.2 1197.9 L535.2 1198.0 L539.2 1198.0 L543.2 1198.1 L547.2 1198.1 L551.2 1197.9 L555.2 1197.9 L559.2 1197.8 L563.2 1197.8 L567.2 1197.7 L571.2 1198.1 L575.2 1198.1 L579.2 1198.3 L583.2 1198.3 L587.2 1198.3 L591.2 1198.2 L595.2 1198.1 L599.2 1198.1 L603.2 1197.8 L607.2 1197.9 L611.2 1197.8 L615.2 1197.8 L619.2 1198.0 L623.2 1198.1 L627.2 1198.1 L631.2 1198.0 L635.2 1197.9 L639.2 1198.0 L643.2 1197.9 L647.2 1197.9 L651.2 1198.0 L655.2 1197.9 L659.2 1198.2 L663.2 1198.1 L667.2 1198.1 L671.2 1198.0 L675.2 1198.1 L679.2 1198.1 L683.2 1198.0 L687.2 1197.9 L691.2 1198.0 L695.2 1198.1 L699.2 1198.0 L703.2 1198.0 L707.2 1198.0 L711.2 1198.0 L715.2 1197.9 L719.2 1197.8 L723.2 1197.8 L727.2 1197.7 L731.2 1197.8 L735.2 1197.9 L739.2 1197.9 L743.2 1198.2 L747.2 1198.2 L751.2 1198.5 L755.2 1198.4 L759.2 1198.2 L763.2 1198.1 L767.2 1198.0 L771.2 1197.9 L775.2 1197.8 L779.2 1197.7 L783.2 1197.8 L787.2 1197.9 L791.2 1197.9 L795.2 1197.8 L799.2 1197.8 L803.2 1198.0 L807.2 1197.8 L811.2 1197.9 L815.2 1197.9 L819.2 1198.2 L823.2 1198.1 L826.3 1198.1 L826.3 1235.2 L823.2 1235.2 L819.2 1234.7 L815.2 1234.6 L811.2 1234.5 L807.2 1234.4 L803.2 1234.5 L799.2 1234.8 L795.2 1235.2 L791.2 1235.3 L787.2 1235.2 L783.2 1235.3 L779.2 1235.3 L775.2 1235.5 L771.2 1235.4 L767.2 1235.3 L763.2 1235.0 L759.2 1234.9 L755.2 1234.6 L751.2 1234.2 L747.2 1234.4 L743.2 1234.8 L739.2 1234.9 L735.2 1235.0 L731.2 1234.9 L727.2 1235.1 L723.2 1235.4 L719.2 1235.3 L715.2 1235.1 L711.2 1235.3 L707.2 1235.6 L703.2 1235.1 L699.2 1234.6 L695.2 1234.5 L691.2 1234.5 L687.2 1234.7 L683.2 1234.7 L679.2 1235.0 L675.2 1235.2 L671.2 1235.2 L667.2 1235.1 L663.2 1235.0 L659.2 1235.0 L655.2 1235.4 L651.2 1235.3 L647.2 1235.2 L643.2 1234.8 L639.2 1234.8 L635.2 1234.8 L631.2 1234.8 L627.2 1234.7 L623.2 1235.0 L619.2 1235.5 L615.2 1235.2 L611.2 1235.1 L607.2 1235.0 L603.2 1235.0 L599.2 1235.1 L595.2 1235.0 L591.2 1234.9 L587.2 1234.9 L583.2 1235.0 L579.2 1234.7 L575.2 1234.6 L571.2 1234.9 L567.2 1235.3 L563.2 1235.4 L559.2 1235.4 L555.2 1235.2 L551.2 1235.3 L547.2 1235.1 L543.2 1234.8 L539.2 1234.8 L535.2 1234.9 L531.2 1235.0 L527.2 1234.8 L523.2 1234.6 L519.2 1234.7 L515.2 1235.0 L511.2 1235.1 L507.2 1235.3 L503.2 1235.4 L499.2 1235.6 L495.2 1235.4 L491.2 1234.9 L487.2 1234.8 L483.2 1234.7 L479.2 1234.9 L475.2 1234.7 L471.2 1234.5 L467.2 1234.7 L463.2 1234.8 L459.2 1234.7 L455.2 1234.7 L451.2 1235.1 L447.2 1235.4 L443.2 1235.8 L439.2 1235.6 L435.2 1235.1 L431.2 1235.1 L427.2 1235.2 L423.2 1234.8 L419.2 1234.7 L415.2 1234.7 L409.2 1234.7 L409.2 1198.4Z" fill="none" stroke="#ffffff" stroke-opacity="0.10" stroke-width="18" filter="url(#bl4)"/><path d="M415.2 1198.4 L419.2 1198.4 L423.2 1198.4 L427.2 1198.4 L431.2 1198.2 L435.2 1198.1 L439.2 1198.1 L443.2 1197.9 L447.2 1197.9 L451.2 1197.9 L455.2 1198.0 L459.2 1197.8 L463.2 1198.0 L467.2 1198.0 L471.2 1197.8 L475.2 1197.8 L479.2 1197.9 L483.2 1197.9 L487.2 1198.1 L491.2 1197.9 L495.2 1198.0 L499.2 1198.3 L503.2 1198.2 L507.2 1198.1 L511.2 1198.0 L515.2 1198.0 L519.2 1198.1 L523.2 1198.0 L527.2 1198.0 L531.2 1197.9 L535.2 1198.0 L539.2 1198.0 L543.2 1198.1 L547.2 1198.1 L551.2 1197.9 L555.2 1197.9 L559.2 1197.8 L563.2 1197.8 L567.2 1197.7 L571.2 1198.1 L575.2 1198.1 L579.2 1198.3 L583.2 1198.3 L587.2 1198.3 L591.2 1198.2 L595.2 1198.1 L599.2 1198.1 L603.2 1197.8 L607.2 1197.9 L611.2 1197.8 L615.2 1197.8 L619.2 1198.0 L623.2 1198.1 L627.2 1198.1 L631.2 1198.0 L635.2 1197.9 L639.2 1198.0 L643.2 1197.9 L647.2 1197.9 L651.2 1198.0 L655.2 1197.9 L659.2 1198.2 L663.2 1198.1 L667.2 1198.1 L671.2 1198.0 L675.2 1198.1 L679.2 1198.1 L683.2 1198.0 L687.2 1197.9 L691.2 1198.0 L695.2 1198.1 L699.2 1198.0 L703.2 1198.0 L707.2 1198.0 L711.2 1198.0 L715.2 1197.9 L719.2 1197.8 L723.2 1197.8 L727.2 1197.7 L731.2 1197.8 L735.2 1197.9 L739.2 1197.9 L743.2 1198.2 L747.2 1198.2 L751.2 1198.5 L755.2 1198.4 L759.2 1198.2 L763.2 1198.1 L767.2 1198.0 L771.2 1197.9 L775.2 1197.8 L779.2 1197.7 L783.2 1197.8 L787.2 1197.9 L791.2 1197.9 L795.2 1197.8 L799.2 1197.8 L803.2 1198.0 L807.2 1197.8 L811.2 1197.9 L815.2 1197.9 L819.2 1198.2 L823.2 1198.1 L826.3 1198.1 L826.3 1235.2 L823.2 1235.2 L819.2 1234.7 L815.2 1234.6 L811.2 1234.5 L807.2 1234.4 L803.2 1234.5 L799.2 1234.8 L795.2 1235.2 L791.2 1235.3 L787.2 1235.2 L783.2 1235.3 L779.2 1235.3 L775.2 1235.5 L771.2 1235.4 L767.2 1235.3 L763.2 1235.0 L759.2 1234.9 L755.2 1234.6 L751.2 1234.2 L747.2 1234.4 L743.2 1234.8 L739.2 1234.9 L735.2 1235.0 L731.2 1234.9 L727.2 1235.1 L723.2 1235.4 L719.2 1235.3 L715.2 1235.1 L711.2 1235.3 L707.2 1235.6 L703.2 1235.1 L699.2 1234.6 L695.2 1234.5 L691.2 1234.5 L687.2 1234.7 L683.2 1234.7 L679.2 1235.0 L675.2 1235.2 L671.2 1235.2 L667.2 1235.1 L663.2 1235.0 L659.2 1235.0 L655.2 1235.4 L651.2 1235.3 L647.2 1235.2 L643.2 1234.8 L639.2 1234.8 L635.2 1234.8 L631.2 1234.8 L627.2 1234.7 L623.2 1235.0 L619.2 1235.5 L615.2 1235.2 L611.2 1235.1 L607.2 1235.0 L603.2 1235.0 L599.2 1235.1 L595.2 1235.0 L591.2 1234.9 L587.2 1234.9 L583.2 1235.0 L579.2 1234.7 L575.2 1234.6 L571.2 1234.9 L567.2 1235.3 L563.2 1235.4 L559.2 1235.4 L555.2 1235.2 L551.2 1235.3 L547.2 1235.1 L543.2 1234.8 L539.2 1234.8 L535.2 1234.9 L531.2 1235.0 L527.2 1234.8 L523.2 1234.6 L519.2 1234.7 L515.2 1235.0 L511.2 1235.1 L507.2 1235.3 L503.2 1235.4 L499.2 1235.6 L495.2 1235.4 L491.2 1234.9 L487.2 1234.8 L483.2 1234.7 L479.2 1234.9 L475.2 1234.7 L471.2 1234.5 L467.2 1234.7 L463.2 1234.8 L459.2 1234.7 L455.2 1234.7 L451.2 1235.1 L447.2 1235.4 L443.2 1235.8 L439.2 1235.6 L435.2 1235.1 L431.2 1235.1 L427.2 1235.2 L423.2 1234.8 L419.2 1234.7 L415.2 1234.7 L409.2 1234.7 L409.2 1198.4Z" fill="none" stroke="#ffffff" stroke-opacity="0.16" stroke-width="7" filter="url(#bl2)"/><rect x="421.2" y="1172.0" width="393.1" height="26.0" fill="url(#hgt1)"/><rect x="421.2" y="1235.0" width="393.1" height="16.0" fill="url(#hgb1)"/><g clip-path="url(#cst1)"><g filter="url(#mott1)"><rect x="413.2" y="1193.0" width="409.1" height="47.0" fill="#686868"/><ellipse cx="590" cy="1210" rx="3.8" ry="1.7" fill="#626262"/><ellipse cx="704" cy="1231" rx="2.7" ry="1.9" fill="#737373"/><ellipse cx="680" cy="1219" rx="1.8" ry="1.9" fill="#616161"/><ellipse cx="459" cy="1212" rx="4.0" ry="2.2" fill="#6f6f6f"/><ellipse cx="630" cy="1210" rx="4.3" ry="1.9" fill="#616161"/><ellipse cx="765" cy="1201" rx="3.4" ry="1.4" fill="#606060"/><ellipse cx="711" cy="1232" rx="2.6" ry="2.5" fill="#616161"/><ellipse cx="590" cy="1231" rx="3.7" ry="2.9" fill="#727272"/><ellipse cx="615" cy="1221" rx="3.6" ry="2.4" fill="#5f5f5f"/><ellipse cx="441" cy="1207" rx="3.1" ry="1.4" fill="#6f6f6f"/><ellipse cx="637" cy="1224" rx="1.7" ry="3.0" fill="#636363"/><ellipse cx="524" cy="1220" rx="2.6" ry="2.5" fill="#757575"/><ellipse cx="653" cy="1225" rx="3.2" ry="2.1" fill="#606060"/><ellipse cx="560" cy="1224" rx="2.8" ry="2.6" fill="#636363"/><ellipse cx="783" cy="1217" rx="2.9" ry="1.3" fill="#616161"/><ellipse cx="457" cy="1220" rx="1.6" ry="1.8" fill="#707070"/><ellipse cx="574" cy="1210" rx="4.4" ry="2.6" fill="#626262"/><ellipse cx="618" cy="1220" rx="3.2" ry="2.6" fill="#727272"/><ellipse cx="757" cy="1207" rx="4.1" ry="1.3" fill="#727272"/><ellipse cx="814" cy="1230" rx="4.0" ry="2.4" fill="#5f5f5f"/><ellipse cx="434" cy="1217" rx="3.5" ry="2.0" fill="#636363"/><ellipse cx="555" cy="1205" rx="2.3" ry="2.3" fill="#707070"/><ellipse cx="571" cy="1203" rx="3.1" ry="3.0" fill="#5e5e5e"/><ellipse cx="798" cy="1202" rx="2.9" ry="2.4" fill="#757575"/><ellipse cx="590" cy="1204" rx="3.9" ry="1.9" fill="#757575"/><ellipse cx="594" cy="1202" rx="3.6" ry="1.4" fill="#616161"/><ellipse cx="684" cy="1201" rx="1.6" ry="2.3" fill="#606060"/><ellipse cx="525" cy="1214" rx="3.7" ry="2.5" fill="#626262"/><ellipse cx="668" cy="1204" rx="2.0" ry="3.0" fill="#5f5f5f"/><ellipse cx="638" cy="1202" rx="1.9" ry="1.5" fill="#717171"/><ellipse cx="793" cy="1229" rx="2.7" ry="2.1" fill="#616161"/><ellipse cx="421" cy="1213" rx="4.0" ry="2.2" fill="#5f5f5f"/><ellipse cx="770" cy="1219" rx="2.2" ry="1.6" fill="#727272"/><ellipse cx="644" cy="1203" rx="2.6" ry="2.7" fill="#5f5f5f"/><ellipse cx="462" cy="1223" rx="3.8" ry="2.7" fill="#6f6f6f"/><ellipse cx="638" cy="1217" rx="2.5" ry="1.7" fill="#707070"/><ellipse cx="517" cy="1228" rx="4.0" ry="2.6" fill="#6f6f6f"/><ellipse cx="773" cy="1221" rx="3.9" ry="1.6" fill="#747474"/><ellipse cx="668" cy="1222" rx="1.8" ry="2.6" fill="#707070"/><ellipse cx="497" cy="1212" rx="2.3" ry="1.4" fill="#737373"/><ellipse cx="732" cy="1229" rx="4.4" ry="2.6" fill="#747474"/><ellipse cx="575" cy="1228" rx="4.5" ry="2.8" fill="#626262"/><ellipse cx="698" cy="1229" rx="4.0" ry="1.4" fill="#646464"/><ellipse cx="508" cy="1229" rx="1.5" ry="2.9" fill="#737373"/><ellipse cx="710" cy="1204" rx="4.2" ry="1.8" fill="#737373"/><ellipse cx="594" cy="1211" rx="3.2" ry="1.6" fill="#727272"/><ellipse cx="812" cy="1231" rx="2.5" ry="2.5" fill="#767676"/><ellipse cx="620" cy="1217" rx="1.7" ry="2.5" fill="#616161"/><ellipse cx="820" cy="1230" rx="4.3" ry="2.4" fill="#717171"/><ellipse cx="542" cy="1209" rx="1.6" ry="1.4" fill="#737373"/><ellipse cx="788" cy="1226" rx="2.5" ry="3.0" fill="#616161"/><ellipse cx="684" cy="1213" rx="4.4" ry="3.0" fill="#636363"/><ellipse cx="684" cy="1203" rx="2.2" ry="1.7" fill="#616161"/><ellipse cx="470" cy="1229" rx="2.1" ry="2.2" fill="#6f6f6f"/><ellipse cx="579" cy="1222" rx="3.7" ry="1.4" fill="#626262"/><ellipse cx="523" cy="1214" rx="3.9" ry="1.8" fill="#616161"/><ellipse cx="816" cy="1217" rx="3.2" ry="2.1" fill="#606060"/><ellipse cx="800" cy="1207" rx="4.0" ry="1.5" fill="#747474"/><ellipse cx="749" cy="1215" rx="2.9" ry="1.9" fill="#707070"/><ellipse cx="683" cy="1208" rx="2.3" ry="2.1" fill="#767676"/><ellipse cx="480" cy="1219" rx="2.1" ry="1.6" fill="#757575"/><ellipse cx="634" cy="1216" rx="4.1" ry="1.3" fill="#727272"/><ellipse cx="619" cy="1214" rx="4.0" ry="2.3" fill="#747474"/><ellipse cx="542" cy="1215" rx="3.1" ry="2.2" fill="#626262"/><ellipse cx="796" cy="1230" rx="2.4" ry="2.2" fill="#747474"/><ellipse cx="661" cy="1205" rx="3.7" ry="1.6" fill="#5e5e5e"/><ellipse cx="522" cy="1213" rx="3.2" ry="1.6" fill="#707070"/><ellipse cx="502" cy="1224" rx="2.2" ry="1.5" fill="#5f5f5f"/><ellipse cx="654" cy="1220" rx="3.4" ry="2.2" fill="#727272"/><ellipse cx="603" cy="1213" rx="2.2" ry="2.2" fill="#747474"/><ellipse cx="440" cy="1226" rx="3.0" ry="2.6" fill="#717171"/><ellipse cx="612" cy="1201" rx="2.9" ry="2.3" fill="#616161"/><ellipse cx="741" cy="1224" rx="2.4" ry="1.5" fill="#606060"/><ellipse cx="421" cy="1214" rx="2.7" ry="2.0" fill="#707070"/><ellipse cx="707" cy="1211" rx="2.1" ry="2.1" fill="#616161"/><ellipse cx="454" cy="1219" rx="4.5" ry="2.8" fill="#6f6f6f"/><ellipse cx="760" cy="1231" rx="2.8" ry="2.1" fill="#717171"/><ellipse cx="611" cy="1226" rx="1.6" ry="2.9" fill="#727272"/><ellipse cx="570" cy="1219" rx="2.6" ry="2.1" fill="#616161"/><ellipse cx="735" cy="1226" rx="2.6" ry="2.2" fill="#737373"/><ellipse cx="586" cy="1208" rx="1.7" ry="2.9" fill="#616161"/><ellipse cx="584" cy="1207" rx="2.6" ry="2.3" fill="#626262"/><ellipse cx="685" cy="1217" rx="3.0" ry="1.7" fill="#636363"/><ellipse cx="732" cy="1210" rx="4.3" ry="2.5" fill="#5f5f5f"/><ellipse cx="746" cy="1208" rx="4.1" ry="1.6" fill="#646464"/><ellipse cx="672" cy="1227" rx="3.6" ry="2.3" fill="#636363"/><ellipse cx="754" cy="1218" rx="2.1" ry="1.9" fill="#717171"/><ellipse cx="616" cy="1210" rx="2.7" ry="1.7" fill="#737373"/><ellipse cx="744" cy="1220" rx="1.8" ry="1.8" fill="#606060"/><ellipse cx="444" cy="1230" rx="1.6" ry="2.4" fill="#646464"/><g filter="url(#bl18)"></g><path d="M415.2 1198.4 L419.2 1198.4 L423.2 1198.4 L427.2 1198.4 L431.2 1198.2 L435.2 1198.1 L439.2 1198.1 L443.2 1197.9 L447.2 1197.9 L451.2 1197.9 L455.2 1198.0 L459.2 1197.8 L463.2 1198.0 L467.2 1198.0 L471.2 1197.8 L475.2 1197.8 L479.2 1197.9 L483.2 1197.9 L487.2 1198.1 L491.2 1197.9 L495.2 1198.0 L499.2 1198.3 L503.2 1198.2 L507.2 1198.1 L511.2 1198.0 L515.2 1198.0 L519.2 1198.1 L523.2 1198.0 L527.2 1198.0 L531.2 1197.9 L535.2 1198.0 L539.2 1198.0 L543.2 1198.1 L547.2 1198.1 L551.2 1197.9 L555.2 1197.9 L559.2 1197.8 L563.2 1197.8 L567.2 1197.7 L571.2 1198.1 L575.2 1198.1 L579.2 1198.3 L583.2 1198.3 L587.2 1198.3 L591.2 1198.2 L595.2 1198.1 L599.2 1198.1 L603.2 1197.8 L607.2 1197.9 L611.2 1197.8 L615.2 1197.8 L619.2 1198.0 L623.2 1198.1 L627.2 1198.1 L631.2 1198.0 L635.2 1197.9 L639.2 1198.0 L643.2 1197.9 L647.2 1197.9 L651.2 1198.0 L655.2 1197.9 L659.2 1198.2 L663.2 1198.1 L667.2 1198.1 L671.2 1198.0 L675.2 1198.1 L679.2 1198.1 L683.2 1198.0 L687.2 1197.9 L691.2 1198.0 L695.2 1198.1 L699.2 1198.0 L703.2 1198.0 L707.2 1198.0 L711.2 1198.0 L715.2 1197.9 L719.2 1197.8 L723.2 1197.8 L727.2 1197.7 L731.2 1197.8 L735.2 1197.9 L739.2 1197.9 L743.2 1198.2 L747.2 1198.2 L751.2 1198.5 L755.2 1198.4 L759.2 1198.2 L763.2 1198.1 L767.2 1198.0 L771.2 1197.9 L775.2 1197.8 L779.2 1197.7 L783.2 1197.8 L787.2 1197.9 L791.2 1197.9 L795.2 1197.8 L799.2 1197.8 L803.2 1198.0 L807.2 1197.8 L811.2 1197.9 L815.2 1197.9 L819.2 1198.2 L823.2 1198.1 L826.3 1198.1 L826.3 1235.2 L823.2 1235.2 L819.2 1234.7 L815.2 1234.6 L811.2 1234.5 L807.2 1234.4 L803.2 1234.5 L799.2 1234.8 L795.2 1235.2 L791.2 1235.3 L787.2 1235.2 L783.2 1235.3 L779.2 1235.3 L775.2 1235.5 L771.2 1235.4 L767.2 1235.3 L763.2 1235.0 L759.2 1234.9 L755.2 1234.6 L751.2 1234.2 L747.2 1234.4 L743.2 1234.8 L739.2 1234.9 L735.2 1235.0 L731.2 1234.9 L727.2 1235.1 L723.2 1235.4 L719.2 1235.3 L715.2 1235.1 L711.2 1235.3 L707.2 1235.6 L703.2 1235.1 L699.2 1234.6 L695.2 1234.5 L691.2 1234.5 L687.2 1234.7 L683.2 1234.7 L679.2 1235.0 L675.2 1235.2 L671.2 1235.2 L667.2 1235.1 L663.2 1235.0 L659.2 1235.0 L655.2 1235.4 L651.2 1235.3 L647.2 1235.2 L643.2 1234.8 L639.2 1234.8 L635.2 1234.8 L631.2 1234.8 L627.2 1234.7 L623.2 1235.0 L619.2 1235.5 L615.2 1235.2 L611.2 1235.1 L607.2 1235.0 L603.2 1235.0 L599.2 1235.1 L595.2 1235.0 L591.2 1234.9 L587.2 1234.9 L583.2 1235.0 L579.2 1234.7 L575.2 1234.6 L571.2 1234.9 L567.2 1235.3 L563.2 1235.4 L559.2 1235.4 L555.2 1235.2 L551.2 1235.3 L547.2 1235.1 L543.2 1234.8 L539.2 1234.8 L535.2 1234.9 L531.2 1235.0 L527.2 1234.8 L523.2 1234.6 L519.2 1234.7 L515.2 1235.0 L511.2 1235.1 L507.2 1235.3 L503.2 1235.4 L499.2 1235.6 L495.2 1235.4 L491.2 1234.9 L487.2 1234.8 L483.2 1234.7 L479.2 1234.9 L475.2 1234.7 L471.2 1234.5 L467.2 1234.7 L463.2 1234.8 L459.2 1234.7 L455.2 1234.7 L451.2 1235.1 L447.2 1235.4 L443.2 1235.8 L439.2 1235.6 L435.2 1235.1 L431.2 1235.1 L427.2 1235.2 L423.2 1234.8 L419.2 1234.7 L415.2 1234.7 L409.2 1234.7 L409.2 1198.4Z" fill="none" stroke="#4a4a4a" stroke-width="10" stroke-opacity="0.7"/></g></g><path d="M415.2 1198.4 L419.2 1198.4 L423.2 1198.4 L427.2 1198.4 L431.2 1198.2 L435.2 1198.1 L439.2 1198.1 L443.2 1197.9 L447.2 1197.9 L451.2 1197.9 L455.2 1198.0 L459.2 1197.8 L463.2 1198.0 L467.2 1198.0 L471.2 1197.8 L475.2 1197.8 L479.2 1197.9 L483.2 1197.9 L487.2 1198.1 L491.2 1197.9 L495.2 1198.0 L499.2 1198.3 L503.2 1198.2 L507.2 1198.1 L511.2 1198.0 L515.2 1198.0 L519.2 1198.1 L523.2 1198.0 L527.2 1198.0 L531.2 1197.9 L535.2 1198.0 L539.2 1198.0 L543.2 1198.1 L547.2 1198.1 L551.2 1197.9 L555.2 1197.9 L559.2 1197.8 L563.2 1197.8 L567.2 1197.7 L571.2 1198.1 L575.2 1198.1 L579.2 1198.3 L583.2 1198.3 L587.2 1198.3 L591.2 1198.2 L595.2 1198.1 L599.2 1198.1 L603.2 1197.8 L607.2 1197.9 L611.2 1197.8 L615.2 1197.8 L619.2 1198.0 L623.2 1198.1 L627.2 1198.1 L631.2 1198.0 L635.2 1197.9 L639.2 1198.0 L643.2 1197.9 L647.2 1197.9 L651.2 1198.0 L655.2 1197.9 L659.2 1198.2 L663.2 1198.1 L667.2 1198.1 L671.2 1198.0 L675.2 1198.1 L679.2 1198.1 L683.2 1198.0 L687.2 1197.9 L691.2 1198.0 L695.2 1198.1 L699.2 1198.0 L703.2 1198.0 L707.2 1198.0 L711.2 1198.0 L715.2 1197.9 L719.2 1197.8 L723.2 1197.8 L727.2 1197.7 L731.2 1197.8 L735.2 1197.9 L739.2 1197.9 L743.2 1198.2 L747.2 1198.2 L751.2 1198.5 L755.2 1198.4 L759.2 1198.2 L763.2 1198.1 L767.2 1198.0 L771.2 1197.9 L775.2 1197.8 L779.2 1197.7 L783.2 1197.8 L787.2 1197.9 L791.2 1197.9 L795.2 1197.8 L799.2 1197.8 L803.2 1198.0 L807.2 1197.8 L811.2 1197.9 L815.2 1197.9 L819.2 1198.2 L823.2 1198.1 L826.3 1198.1 L826.3 1235.2 L823.2 1235.2 L819.2 1234.7 L815.2 1234.6 L811.2 1234.5 L807.2 1234.4 L803.2 1234.5 L799.2 1234.8 L795.2 1235.2 L791.2 1235.3 L787.2 1235.2 L783.2 1235.3 L779.2 1235.3 L775.2 1235.5 L771.2 1235.4 L767.2 1235.3 L763.2 1235.0 L759.2 1234.9 L755.2 1234.6 L751.2 1234.2 L747.2 1234.4 L743.2 1234.8 L739.2 1234.9 L735.2 1235.0 L731.2 1234.9 L727.2 1235.1 L723.2 1235.4 L719.2 1235.3 L715.2 1235.1 L711.2 1235.3 L707.2 1235.6 L703.2 1235.1 L699.2 1234.6 L695.2 1234.5 L691.2 1234.5 L687.2 1234.7 L683.2 1234.7 L679.2 1235.0 L675.2 1235.2 L671.2 1235.2 L667.2 1235.1 L663.2 1235.0 L659.2 1235.0 L655.2 1235.4 L651.2 1235.3 L647.2 1235.2 L643.2 1234.8 L639.2 1234.8 L635.2 1234.8 L631.2 1234.8 L627.2 1234.7 L623.2 1235.0 L619.2 1235.5 L615.2 1235.2 L611.2 1235.1 L607.2 1235.0 L603.2 1235.0 L599.2 1235.1 L595.2 1235.0 L591.2 1234.9 L587.2 1234.9 L583.2 1235.0 L579.2 1234.7 L575.2 1234.6 L571.2 1234.9 L567.2 1235.3 L563.2 1235.4 L559.2 1235.4 L555.2 1235.2 L551.2 1235.3 L547.2 1235.1 L543.2 1234.8 L539.2 1234.8 L535.2 1234.9 L531.2 1235.0 L527.2 1234.8 L523.2 1234.6 L519.2 1234.7 L515.2 1235.0 L511.2 1235.1 L507.2 1235.3 L503.2 1235.4 L499.2 1235.6 L495.2 1235.4 L491.2 1234.9 L487.2 1234.8 L483.2 1234.7 L479.2 1234.9 L475.2 1234.7 L471.2 1234.5 L467.2 1234.7 L463.2 1234.8 L459.2 1234.7 L455.2 1234.7 L451.2 1235.1 L447.2 1235.4 L443.2 1235.8 L439.2 1235.6 L435.2 1235.1 L431.2 1235.1 L427.2 1235.2 L423.2 1234.8 L419.2 1234.7 L415.2 1234.7 L409.2 1234.7 L409.2 1198.4Z" fill="none" stroke="#d8d8d8" stroke-width="2.4" filter="url(#bl07)"/></g></g>
<g clip-path="url(#cps2)"><g filter="url(#grain)"><rect x="421.2" y="1276.0" width="393.1" height="132.3" fill="url(#sbg2)"/><path d="M415.2 1333.0 L419.2 1333.2 L423.2 1333.2 L427.2 1333.1 L431.2 1333.0 L435.2 1332.7 L439.2 1332.8 L443.2 1332.8 L447.2 1333.1 L451.2 1333.2 L455.2 1333.3 L459.2 1333.4 L463.2 1333.1 L467.2 1333.1 L471.2 1332.8 L475.2 1332.8 L479.2 1332.8 L483.2 1332.8 L487.2 1332.9 L491.2 1332.9 L495.2 1333.0 L499.2 1333.0 L503.2 1333.1 L507.2 1333.1 L511.2 1333.1 L515.2 1332.9 L519.2 1333.0 L523.2 1333.1 L527.2 1332.9 L531.2 1333.0 L535.2 1332.8 L539.2 1332.8 L543.2 1332.9 L547.2 1332.9 L551.2 1333.1 L555.2 1333.3 L559.2 1333.5 L563.2 1333.5 L567.2 1333.4 L571.2 1333.1 L575.2 1332.9 L579.2 1332.7 L583.2 1332.4 L587.2 1332.3 L591.2 1332.4 L595.2 1332.7 L599.2 1332.8 L603.2 1332.9 L607.2 1333.2 L611.2 1333.0 L615.2 1333.2 L619.2 1333.4 L623.2 1333.3 L627.2 1333.4 L631.2 1333.3 L635.2 1333.4 L639.2 1333.2 L643.2 1333.0 L647.2 1332.8 L651.2 1332.6 L655.2 1332.8 L659.2 1332.7 L663.2 1332.8 L667.2 1332.9 L671.2 1332.9 L675.2 1332.8 L679.2 1332.8 L683.2 1332.7 L687.2 1332.7 L691.2 1333.0 L695.2 1333.2 L699.2 1333.4 L703.2 1333.7 L707.2 1333.7 L711.2 1333.5 L715.2 1333.6 L719.2 1333.3 L723.2 1332.9 L727.2 1332.9 L731.2 1332.6 L735.2 1332.6 L739.2 1332.5 L743.2 1332.4 L747.2 1332.6 L751.2 1332.6 L755.2 1332.6 L759.2 1332.8 L763.2 1333.2 L767.2 1333.3 L771.2 1333.7 L775.2 1333.6 L779.2 1333.6 L783.2 1333.6 L787.2 1333.1 L791.2 1332.8 L795.2 1332.7 L799.2 1332.7 L803.2 1332.7 L807.2 1332.7 L811.2 1333.0 L815.2 1332.9 L819.2 1332.7 L823.2 1332.8 L826.3 1332.8 L826.3 1368.0 L823.2 1368.0 L819.2 1368.0 L815.2 1367.8 L811.2 1367.7 L807.2 1367.7 L803.2 1367.8 L799.2 1368.1 L795.2 1368.0 L791.2 1368.1 L787.2 1368.2 L783.2 1368.1 L779.2 1367.9 L775.2 1367.9 L771.2 1367.9 L767.2 1368.2 L763.2 1368.3 L759.2 1368.1 L755.2 1368.0 L751.2 1368.0 L747.2 1367.9 L743.2 1367.7 L739.2 1367.7 L735.2 1367.7 L731.2 1368.1 L727.2 1367.9 L723.2 1368.0 L719.2 1368.0 L715.2 1368.0 L711.2 1368.1 L707.2 1367.9 L703.2 1368.2 L699.2 1368.3 L695.2 1368.2 L691.2 1368.2 L687.2 1368.2 L683.2 1367.9 L679.2 1367.7 L675.2 1367.8 L671.2 1367.8 L667.2 1367.7 L663.2 1367.9 L659.2 1368.1 L655.2 1368.1 L651.2 1368.0 L647.2 1367.9 L643.2 1368.0 L639.2 1368.1 L635.2 1368.1 L631.2 1368.2 L627.2 1368.2 L623.2 1368.2 L619.2 1368.0 L615.2 1367.9 L611.2 1367.8 L607.2 1367.8 L603.2 1367.7 L599.2 1367.8 L595.2 1368.0 L591.2 1368.0 L587.2 1367.9 L583.2 1367.9 L579.2 1367.8 L575.2 1367.8 L571.2 1368.1 L567.2 1368.0 L563.2 1368.2 L559.2 1368.4 L555.2 1368.1 L551.2 1368.1 L547.2 1367.9 L543.2 1367.8 L539.2 1367.8 L535.2 1367.9 L531.2 1368.0 L527.2 1368.0 L523.2 1368.0 L519.2 1367.9 L515.2 1367.8 L511.2 1367.7 L507.2 1367.7 L503.2 1367.8 L499.2 1368.2 L495.2 1368.2 L491.2 1368.1 L487.2 1368.1 L483.2 1368.1 L479.2 1368.0 L475.2 1367.8 L471.2 1367.9 L467.2 1368.0 L463.2 1368.2 L459.2 1368.2 L455.2 1367.9 L451.2 1367.8 L447.2 1367.7 L443.2 1367.6 L439.2 1367.8 L435.2 1367.8 L431.2 1368.0 L427.2 1368.2 L423.2 1368.0 L419.2 1368.0 L415.2 1368.1 L409.2 1368.1 L409.2 1333.0Z" fill="none" stroke="#ffffff" stroke-opacity="0.08" stroke-width="18" filter="url(#bl4)"/><path d="M415.2 1333.0 L419.2 1333.2 L423.2 1333.2 L427.2 1333.1 L431.2 1333.0 L435.2 1332.7 L439.2 1332.8 L443.2 1332.8 L447.2 1333.1 L451.2 1333.2 L455.2 1333.3 L459.2 1333.4 L463.2 1333.1 L467.2 1333.1 L471.2 1332.8 L475.2 1332.8 L479.2 1332.8 L483.2 1332.8 L487.2 1332.9 L491.2 1332.9 L495.2 1333.0 L499.2 1333.0 L503.2 1333.1 L507.2 1333.1 L511.2 1333.1 L515.2 1332.9 L519.2 1333.0 L523.2 1333.1 L527.2 1332.9 L531.2 1333.0 L535.2 1332.8 L539.2 1332.8 L543.2 1332.9 L547.2 1332.9 L551.2 1333.1 L555.2 1333.3 L559.2 1333.5 L563.2 1333.5 L567.2 1333.4 L571.2 1333.1 L575.2 1332.9 L579.2 1332.7 L583.2 1332.4 L587.2 1332.3 L591.2 1332.4 L595.2 1332.7 L599.2 1332.8 L603.2 1332.9 L607.2 1333.2 L611.2 1333.0 L615.2 1333.2 L619.2 1333.4 L623.2 1333.3 L627.2 1333.4 L631.2 1333.3 L635.2 1333.4 L639.2 1333.2 L643.2 1333.0 L647.2 1332.8 L651.2 1332.6 L655.2 1332.8 L659.2 1332.7 L663.2 1332.8 L667.2 1332.9 L671.2 1332.9 L675.2 1332.8 L679.2 1332.8 L683.2 1332.7 L687.2 1332.7 L691.2 1333.0 L695.2 1333.2 L699.2 1333.4 L703.2 1333.7 L707.2 1333.7 L711.2 1333.5 L715.2 1333.6 L719.2 1333.3 L723.2 1332.9 L727.2 1332.9 L731.2 1332.6 L735.2 1332.6 L739.2 1332.5 L743.2 1332.4 L747.2 1332.6 L751.2 1332.6 L755.2 1332.6 L759.2 1332.8 L763.2 1333.2 L767.2 1333.3 L771.2 1333.7 L775.2 1333.6 L779.2 1333.6 L783.2 1333.6 L787.2 1333.1 L791.2 1332.8 L795.2 1332.7 L799.2 1332.7 L803.2 1332.7 L807.2 1332.7 L811.2 1333.0 L815.2 1332.9 L819.2 1332.7 L823.2 1332.8 L826.3 1332.8 L826.3 1368.0 L823.2 1368.0 L819.2 1368.0 L815.2 1367.8 L811.2 1367.7 L807.2 1367.7 L803.2 1367.8 L799.2 1368.1 L795.2 1368.0 L791.2 1368.1 L787.2 1368.2 L783.2 1368.1 L779.2 1367.9 L775.2 1367.9 L771.2 1367.9 L767.2 1368.2 L763.2 1368.3 L759.2 1368.1 L755.2 1368.0 L751.2 1368.0 L747.2 1367.9 L743.2 1367.7 L739.2 1367.7 L735.2 1367.7 L731.2 1368.1 L727.2 1367.9 L723.2 1368.0 L719.2 1368.0 L715.2 1368.0 L711.2 1368.1 L707.2 1367.9 L703.2 1368.2 L699.2 1368.3 L695.2 1368.2 L691.2 1368.2 L687.2 1368.2 L683.2 1367.9 L679.2 1367.7 L675.2 1367.8 L671.2 1367.8 L667.2 1367.7 L663.2 1367.9 L659.2 1368.1 L655.2 1368.1 L651.2 1368.0 L647.2 1367.9 L643.2 1368.0 L639.2 1368.1 L635.2 1368.1 L631.2 1368.2 L627.2 1368.2 L623.2 1368.2 L619.2 1368.0 L615.2 1367.9 L611.2 1367.8 L607.2 1367.8 L603.2 1367.7 L599.2 1367.8 L595.2 1368.0 L591.2 1368.0 L587.2 1367.9 L583.2 1367.9 L579.2 1367.8 L575.2 1367.8 L571.2 1368.1 L567.2 1368.0 L563.2 1368.2 L559.2 1368.4 L555.2 1368.1 L551.2 1368.1 L547.2 1367.9 L543.2 1367.8 L539.2 1367.8 L535.2 1367.9 L531.2 1368.0 L527.2 1368.0 L523.2 1368.0 L519.2 1367.9 L515.2 1367.8 L511.2 1367.7 L507.2 1367.7 L503.2 1367.8 L499.2 1368.2 L495.2 1368.2 L491.2 1368.1 L487.2 1368.1 L483.2 1368.1 L479.2 1368.0 L475.2 1367.8 L471.2 1367.9 L467.2 1368.0 L463.2 1368.2 L459.2 1368.2 L455.2 1367.9 L451.2 1367.8 L447.2 1367.7 L443.2 1367.6 L439.2 1367.8 L435.2 1367.8 L431.2 1368.0 L427.2 1368.2 L423.2 1368.0 L419.2 1368.0 L415.2 1368.1 L409.2 1368.1 L409.2 1333.0Z" fill="none" stroke="#ffffff" stroke-opacity="0.14" stroke-width="7" filter="url(#bl2)"/><rect x="421.2" y="1315.0" width="393.1" height="18.0" fill="url(#hgt2)"/><rect x="421.2" y="1368.0" width="393.1" height="15.0" fill="url(#hgb2)"/><g clip-path="url(#cst2)"><g filter="url(#mott2)"><rect x="413.2" y="1328.0" width="409.1" height="45.0" fill="#6c6c6c"/><ellipse cx="814" cy="1355" rx="4.3" ry="2.4" fill="#727272"/><ellipse cx="631" cy="1342" rx="3.8" ry="2.3" fill="#757575"/><ellipse cx="693" cy="1350" rx="2.0" ry="1.7" fill="#646464"/><ellipse cx="709" cy="1358" rx="4.0" ry="1.5" fill="#737373"/><ellipse cx="763" cy="1349" rx="2.4" ry="2.3" fill="#757575"/><ellipse cx="648" cy="1346" rx="2.3" ry="1.3" fill="#666666"/><ellipse cx="638" cy="1337" rx="2.2" ry="1.2" fill="#626262"/><ellipse cx="812" cy="1342" rx="3.4" ry="2.1" fill="#666666"/><ellipse cx="630" cy="1344" rx="2.3" ry="1.3" fill="#727272"/><ellipse cx="787" cy="1353" rx="3.4" ry="1.4" fill="#666666"/><ellipse cx="558" cy="1362" rx="3.2" ry="1.4" fill="#656565"/><ellipse cx="687" cy="1354" rx="3.3" ry="3.0" fill="#787878"/><ellipse cx="811" cy="1347" rx="4.0" ry="1.4" fill="#737373"/><ellipse cx="512" cy="1343" rx="3.5" ry="2.5" fill="#727272"/><ellipse cx="594" cy="1337" rx="1.7" ry="2.9" fill="#757575"/><ellipse cx="422" cy="1338" rx="2.2" ry="1.2" fill="#666666"/><ellipse cx="629" cy="1349" rx="4.4" ry="2.1" fill="#686868"/><ellipse cx="754" cy="1341" rx="4.0" ry="2.6" fill="#767676"/><ellipse cx="792" cy="1352" rx="3.8" ry="2.3" fill="#767676"/><ellipse cx="588" cy="1346" rx="2.8" ry="2.2" fill="#727272"/><ellipse cx="731" cy="1343" rx="3.9" ry="1.9" fill="#747474"/><ellipse cx="537" cy="1358" rx="1.9" ry="1.3" fill="#777777"/><ellipse cx="696" cy="1347" rx="4.1" ry="1.5" fill="#676767"/><ellipse cx="766" cy="1337" rx="3.1" ry="1.5" fill="#636363"/><ellipse cx="767" cy="1337" rx="3.1" ry="1.8" fill="#626262"/><ellipse cx="555" cy="1361" rx="1.6" ry="2.0" fill="#727272"/><ellipse cx="614" cy="1341" rx="3.7" ry="1.5" fill="#676767"/><ellipse cx="467" cy="1346" rx="1.8" ry="3.0" fill="#676767"/><ellipse cx="476" cy="1347" rx="4.0" ry="1.4" fill="#737373"/><ellipse cx="776" cy="1337" rx="2.7" ry="1.9" fill="#777777"/><ellipse cx="717" cy="1355" rx="4.5" ry="1.6" fill="#646464"/><ellipse cx="766" cy="1355" rx="2.4" ry="2.0" fill="#656565"/><ellipse cx="501" cy="1357" rx="3.6" ry="1.7" fill="#666666"/><ellipse cx="754" cy="1351" rx="2.2" ry="2.5" fill="#787878"/><ellipse cx="815" cy="1346" rx="3.9" ry="2.7" fill="#626262"/><ellipse cx="689" cy="1361" rx="3.1" ry="1.9" fill="#626262"/><ellipse cx="719" cy="1339" rx="2.9" ry="2.5" fill="#666666"/><ellipse cx="568" cy="1345" rx="4.1" ry="2.4" fill="#676767"/><ellipse cx="738" cy="1343" rx="4.3" ry="1.2" fill="#737373"/><ellipse cx="471" cy="1343" rx="1.6" ry="2.7" fill="#787878"/><ellipse cx="461" cy="1362" rx="4.4" ry="1.5" fill="#676767"/><ellipse cx="799" cy="1346" rx="2.5" ry="2.3" fill="#646464"/><ellipse cx="737" cy="1363" rx="3.0" ry="3.0" fill="#636363"/><ellipse cx="647" cy="1365" rx="4.1" ry="2.2" fill="#686868"/><ellipse cx="718" cy="1342" rx="3.7" ry="2.3" fill="#777777"/><ellipse cx="814" cy="1353" rx="3.7" ry="2.1" fill="#747474"/><ellipse cx="481" cy="1336" rx="1.8" ry="1.7" fill="#757575"/><ellipse cx="624" cy="1344" rx="3.1" ry="1.8" fill="#767676"/><ellipse cx="568" cy="1341" rx="2.3" ry="1.6" fill="#646464"/><ellipse cx="577" cy="1345" rx="3.9" ry="2.5" fill="#787878"/><ellipse cx="775" cy="1365" rx="3.7" ry="3.0" fill="#777777"/><ellipse cx="435" cy="1354" rx="3.9" ry="2.3" fill="#666666"/><ellipse cx="751" cy="1355" rx="4.3" ry="1.3" fill="#636363"/><ellipse cx="545" cy="1364" rx="2.5" ry="1.2" fill="#676767"/><ellipse cx="703" cy="1341" rx="1.8" ry="2.4" fill="#636363"/><ellipse cx="681" cy="1336" rx="3.1" ry="1.8" fill="#767676"/><ellipse cx="716" cy="1363" rx="2.4" ry="2.0" fill="#757575"/><ellipse cx="664" cy="1359" rx="3.9" ry="2.7" fill="#626262"/><ellipse cx="527" cy="1348" rx="4.2" ry="3.0" fill="#737373"/><ellipse cx="489" cy="1360" rx="1.7" ry="2.2" fill="#777777"/><ellipse cx="510" cy="1345" rx="2.0" ry="2.9" fill="#626262"/><ellipse cx="443" cy="1355" rx="2.9" ry="2.1" fill="#676767"/><ellipse cx="768" cy="1355" rx="4.4" ry="2.2" fill="#636363"/><ellipse cx="572" cy="1338" rx="3.3" ry="2.5" fill="#636363"/><ellipse cx="446" cy="1345" rx="1.8" ry="2.2" fill="#747474"/><ellipse cx="797" cy="1344" rx="3.1" ry="1.5" fill="#737373"/><ellipse cx="565" cy="1339" rx="3.5" ry="1.7" fill="#686868"/><ellipse cx="509" cy="1348" rx="3.3" ry="2.8" fill="#646464"/><ellipse cx="635" cy="1357" rx="1.9" ry="1.5" fill="#626262"/><ellipse cx="752" cy="1344" rx="2.4" ry="1.7" fill="#656565"/><ellipse cx="486" cy="1364" rx="3.3" ry="2.1" fill="#737373"/><ellipse cx="735" cy="1345" rx="1.5" ry="1.4" fill="#767676"/><ellipse cx="541" cy="1361" rx="2.7" ry="2.0" fill="#767676"/><ellipse cx="702" cy="1354" rx="2.4" ry="2.1" fill="#757575"/><ellipse cx="764" cy="1336" rx="2.8" ry="2.5" fill="#747474"/><ellipse cx="586" cy="1349" rx="3.1" ry="2.0" fill="#757575"/><ellipse cx="548" cy="1363" rx="2.5" ry="1.6" fill="#676767"/><ellipse cx="695" cy="1362" rx="4.4" ry="2.0" fill="#737373"/><ellipse cx="590" cy="1359" rx="2.7" ry="2.7" fill="#757575"/><ellipse cx="633" cy="1347" rx="4.0" ry="2.4" fill="#676767"/><ellipse cx="657" cy="1358" rx="2.8" ry="2.3" fill="#676767"/><ellipse cx="516" cy="1341" rx="4.4" ry="2.1" fill="#787878"/><ellipse cx="562" cy="1350" rx="1.8" ry="1.3" fill="#656565"/><ellipse cx="510" cy="1357" rx="3.8" ry="2.7" fill="#646464"/><ellipse cx="621" cy="1360" rx="1.6" ry="2.1" fill="#737373"/><ellipse cx="426" cy="1363" rx="3.4" ry="2.0" fill="#636363"/><ellipse cx="598" cy="1338" rx="3.4" ry="1.7" fill="#636363"/><ellipse cx="458" cy="1350" rx="2.1" ry="1.9" fill="#777777"/><ellipse cx="446" cy="1363" rx="3.3" ry="1.7" fill="#676767"/><ellipse cx="712" cy="1359" rx="3.7" ry="1.4" fill="#666666"/><g filter="url(#bl18)"></g><path d="M415.2 1333.0 L419.2 1333.2 L423.2 1333.2 L427.2 1333.1 L431.2 1333.0 L435.2 1332.7 L439.2 1332.8 L443.2 1332.8 L447.2 1333.1 L451.2 1333.2 L455.2 1333.3 L459.2 1333.4 L463.2 1333.1 L467.2 1333.1 L471.2 1332.8 L475.2 1332.8 L479.2 1332.8 L483.2 1332.8 L487.2 1332.9 L491.2 1332.9 L495.2 1333.0 L499.2 1333.0 L503.2 1333.1 L507.2 1333.1 L511.2 1333.1 L515.2 1332.9 L519.2 1333.0 L523.2 1333.1 L527.2 1332.9 L531.2 1333.0 L535.2 1332.8 L539.2 1332.8 L543.2 1332.9 L547.2 1332.9 L551.2 1333.1 L555.2 1333.3 L559.2 1333.5 L563.2 1333.5 L567.2 1333.4 L571.2 1333.1 L575.2 1332.9 L579.2 1332.7 L583.2 1332.4 L587.2 1332.3 L591.2 1332.4 L595.2 1332.7 L599.2 1332.8 L603.2 1332.9 L607.2 1333.2 L611.2 1333.0 L615.2 1333.2 L619.2 1333.4 L623.2 1333.3 L627.2 1333.4 L631.2 1333.3 L635.2 1333.4 L639.2 1333.2 L643.2 1333.0 L647.2 1332.8 L651.2 1332.6 L655.2 1332.8 L659.2 1332.7 L663.2 1332.8 L667.2 1332.9 L671.2 1332.9 L675.2 1332.8 L679.2 1332.8 L683.2 1332.7 L687.2 1332.7 L691.2 1333.0 L695.2 1333.2 L699.2 1333.4 L703.2 1333.7 L707.2 1333.7 L711.2 1333.5 L715.2 1333.6 L719.2 1333.3 L723.2 1332.9 L727.2 1332.9 L731.2 1332.6 L735.2 1332.6 L739.2 1332.5 L743.2 1332.4 L747.2 1332.6 L751.2 1332.6 L755.2 1332.6 L759.2 1332.8 L763.2 1333.2 L767.2 1333.3 L771.2 1333.7 L775.2 1333.6 L779.2 1333.6 L783.2 1333.6 L787.2 1333.1 L791.2 1332.8 L795.2 1332.7 L799.2 1332.7 L803.2 1332.7 L807.2 1332.7 L811.2 1333.0 L815.2 1332.9 L819.2 1332.7 L823.2 1332.8 L826.3 1332.8 L826.3 1368.0 L823.2 1368.0 L819.2 1368.0 L815.2 1367.8 L811.2 1367.7 L807.2 1367.7 L803.2 1367.8 L799.2 1368.1 L795.2 1368.0 L791.2 1368.1 L787.2 1368.2 L783.2 1368.1 L779.2 1367.9 L775.2 1367.9 L771.2 1367.9 L767.2 1368.2 L763.2 1368.3 L759.2 1368.1 L755.2 1368.0 L751.2 1368.0 L747.2 1367.9 L743.2 1367.7 L739.2 1367.7 L735.2 1367.7 L731.2 1368.1 L727.2 1367.9 L723.2 1368.0 L719.2 1368.0 L715.2 1368.0 L711.2 1368.1 L707.2 1367.9 L703.2 1368.2 L699.2 1368.3 L695.2 1368.2 L691.2 1368.2 L687.2 1368.2 L683.2 1367.9 L679.2 1367.7 L675.2 1367.8 L671.2 1367.8 L667.2 1367.7 L663.2 1367.9 L659.2 1368.1 L655.2 1368.1 L651.2 1368.0 L647.2 1367.9 L643.2 1368.0 L639.2 1368.1 L635.2 1368.1 L631.2 1368.2 L627.2 1368.2 L623.2 1368.2 L619.2 1368.0 L615.2 1367.9 L611.2 1367.8 L607.2 1367.8 L603.2 1367.7 L599.2 1367.8 L595.2 1368.0 L591.2 1368.0 L587.2 1367.9 L583.2 1367.9 L579.2 1367.8 L575.2 1367.8 L571.2 1368.1 L567.2 1368.0 L563.2 1368.2 L559.2 1368.4 L555.2 1368.1 L551.2 1368.1 L547.2 1367.9 L543.2 1367.8 L539.2 1367.8 L535.2 1367.9 L531.2 1368.0 L527.2 1368.0 L523.2 1368.0 L519.2 1367.9 L515.2 1367.8 L511.2 1367.7 L507.2 1367.7 L503.2 1367.8 L499.2 1368.2 L495.2 1368.2 L491.2 1368.1 L487.2 1368.1 L483.2 1368.1 L479.2 1368.0 L475.2 1367.8 L471.2 1367.9 L467.2 1368.0 L463.2 1368.2 L459.2 1368.2 L455.2 1367.9 L451.2 1367.8 L447.2 1367.7 L443.2 1367.6 L439.2 1367.8 L435.2 1367.8 L431.2 1368.0 L427.2 1368.2 L423.2 1368.0 L419.2 1368.0 L415.2 1368.1 L409.2 1368.1 L409.2 1333.0Z" fill="none" stroke="#4e4e4e" stroke-width="10" stroke-opacity="0.7"/></g></g><path d="M415.2 1333.0 L419.2 1333.2 L423.2 1333.2 L427.2 1333.1 L431.2 1333.0 L435.2 1332.7 L439.2 1332.8 L443.2 1332.8 L447.2 1333.1 L451.2 1333.2 L455.2 1333.3 L459.2 1333.4 L463.2 1333.1 L467.2 1333.1 L471.2 1332.8 L475.2 1332.8 L479.2 1332.8 L483.2 1332.8 L487.2 1332.9 L491.2 1332.9 L495.2 1333.0 L499.2 1333.0 L503.2 1333.1 L507.2 1333.1 L511.2 1333.1 L515.2 1332.9 L519.2 1333.0 L523.2 1333.1 L527.2 1332.9 L531.2 1333.0 L535.2 1332.8 L539.2 1332.8 L543.2 1332.9 L547.2 1332.9 L551.2 1333.1 L555.2 1333.3 L559.2 1333.5 L563.2 1333.5 L567.2 1333.4 L571.2 1333.1 L575.2 1332.9 L579.2 1332.7 L583.2 1332.4 L587.2 1332.3 L591.2 1332.4 L595.2 1332.7 L599.2 1332.8 L603.2 1332.9 L607.2 1333.2 L611.2 1333.0 L615.2 1333.2 L619.2 1333.4 L623.2 1333.3 L627.2 1333.4 L631.2 1333.3 L635.2 1333.4 L639.2 1333.2 L643.2 1333.0 L647.2 1332.8 L651.2 1332.6 L655.2 1332.8 L659.2 1332.7 L663.2 1332.8 L667.2 1332.9 L671.2 1332.9 L675.2 1332.8 L679.2 1332.8 L683.2 1332.7 L687.2 1332.7 L691.2 1333.0 L695.2 1333.2 L699.2 1333.4 L703.2 1333.7 L707.2 1333.7 L711.2 1333.5 L715.2 1333.6 L719.2 1333.3 L723.2 1332.9 L727.2 1332.9 L731.2 1332.6 L735.2 1332.6 L739.2 1332.5 L743.2 1332.4 L747.2 1332.6 L751.2 1332.6 L755.2 1332.6 L759.2 1332.8 L763.2 1333.2 L767.2 1333.3 L771.2 1333.7 L775.2 1333.6 L779.2 1333.6 L783.2 1333.6 L787.2 1333.1 L791.2 1332.8 L795.2 1332.7 L799.2 1332.7 L803.2 1332.7 L807.2 1332.7 L811.2 1333.0 L815.2 1332.9 L819.2 1332.7 L823.2 1332.8 L826.3 1332.8 L826.3 1368.0 L823.2 1368.0 L819.2 1368.0 L815.2 1367.8 L811.2 1367.7 L807.2 1367.7 L803.2 1367.8 L799.2 1368.1 L795.2 1368.0 L791.2 1368.1 L787.2 1368.2 L783.2 1368.1 L779.2 1367.9 L775.2 1367.9 L771.2 1367.9 L767.2 1368.2 L763.2 1368.3 L759.2 1368.1 L755.2 1368.0 L751.2 1368.0 L747.2 1367.9 L743.2 1367.7 L739.2 1367.7 L735.2 1367.7 L731.2 1368.1 L727.2 1367.9 L723.2 1368.0 L719.2 1368.0 L715.2 1368.0 L711.2 1368.1 L707.2 1367.9 L703.2 1368.2 L699.2 1368.3 L695.2 1368.2 L691.2 1368.2 L687.2 1368.2 L683.2 1367.9 L679.2 1367.7 L675.2 1367.8 L671.2 1367.8 L667.2 1367.7 L663.2 1367.9 L659.2 1368.1 L655.2 1368.1 L651.2 1368.0 L647.2 1367.9 L643.2 1368.0 L639.2 1368.1 L635.2 1368.1 L631.2 1368.2 L627.2 1368.2 L623.2 1368.2 L619.2 1368.0 L615.2 1367.9 L611.2 1367.8 L607.2 1367.8 L603.2 1367.7 L599.2 1367.8 L595.2 1368.0 L591.2 1368.0 L587.2 1367.9 L583.2 1367.9 L579.2 1367.8 L575.2 1367.8 L571.2 1368.1 L567.2 1368.0 L563.2 1368.2 L559.2 1368.4 L555.2 1368.1 L551.2 1368.1 L547.2 1367.9 L543.2 1367.8 L539.2 1367.8 L535.2 1367.9 L531.2 1368.0 L527.2 1368.0 L523.2 1368.0 L519.2 1367.9 L515.2 1367.8 L511.2 1367.7 L507.2 1367.7 L503.2 1367.8 L499.2 1368.2 L495.2 1368.2 L491.2 1368.1 L487.2 1368.1 L483.2 1368.1 L479.2 1368.0 L475.2 1367.8 L471.2 1367.9 L467.2 1368.0 L463.2 1368.2 L459.2 1368.2 L455.2 1367.9 L451.2 1367.8 L447.2 1367.7 L443.2 1367.6 L439.2 1367.8 L435.2 1367.8 L431.2 1368.0 L427.2 1368.2 L423.2 1368.0 L419.2 1368.0 L415.2 1368.1 L409.2 1368.1 L409.2 1333.0Z" fill="none" stroke="#d8d8d8" stroke-width="2.4" filter="url(#bl07)"/></g></g>
<g clip-path="url(#cps3)"><g filter="url(#grain)"><rect x="949.9" y="1004.0" width="390.6" height="132.7" fill="url(#sbg3)"/><ellipse cx="1275" cy="1010" rx="95" ry="30" fill="url(#dks)"/><path d="M943.9 1050.4 L947.9 1050.1 L951.9 1050.0 L955.9 1050.1 L959.9 1050.4 L963.9 1050.5 L967.9 1050.5 L971.9 1050.7 L975.9 1050.7 L979.9 1050.4 L983.9 1050.3 L987.9 1050.6 L991.9 1050.7 L995.9 1050.7 L999.9 1050.4 L1003.9 1050.4 L1007.9 1050.6 L1011.9 1050.5 L1015.9 1050.5 L1019.9 1050.6 L1023.9 1050.6 L1027.9 1050.5 L1031.9 1050.2 L1035.9 1050.4 L1039.9 1050.8 L1043.9 1051.0 L1047.9 1050.4 L1051.9 1050.3 L1055.9 1050.5 L1059.9 1050.3 L1063.9 1050.2 L1067.9 1050.4 L1071.9 1050.5 L1075.9 1050.6 L1079.9 1050.5 L1083.9 1050.4 L1087.9 1050.7 L1091.9 1051.0 L1095.9 1050.7 L1099.9 1050.5 L1103.9 1050.6 L1107.9 1050.8 L1111.9 1050.6 L1115.9 1050.6 L1119.9 1050.7 L1123.9 1050.7 L1127.9 1050.3 L1131.9 1050.0 L1135.9 1050.0 L1139.9 1050.3 L1143.9 1050.3 L1147.9 1050.3 L1151.9 1050.3 L1155.9 1050.6 L1159.9 1050.6 L1163.9 1050.6 L1167.9 1050.8 L1171.9 1050.9 L1175.9 1050.9 L1179.9 1050.6 L1183.9 1050.6 L1187.9 1050.7 L1191.9 1050.8 L1195.9 1050.6 L1199.9 1050.2 L1203.9 1050.2 L1207.9 1050.3 L1211.9 1050.0 L1215.9 1049.8 L1219.9 1050.3 L1223.9 1050.5 L1227.9 1050.3 L1231.9 1050.3 L1235.9 1050.5 L1239.9 1051.0 L1243.9 1050.9 L1247.9 1050.5 L1251.9 1050.5 L1255.9 1050.6 L1259.9 1050.7 L1263.9 1050.6 L1267.9 1050.7 L1271.9 1050.9 L1275.9 1050.5 L1279.9 1050.0 L1283.9 1050.0 L1287.9 1050.4 L1291.9 1050.5 L1295.9 1050.4 L1299.9 1050.3 L1303.9 1050.6 L1307.9 1050.6 L1311.9 1050.4 L1315.9 1050.5 L1319.9 1050.9 L1323.9 1050.7 L1327.9 1050.3 L1331.9 1050.3 L1335.9 1050.4 L1339.9 1050.8 L1343.9 1050.6 L1347.9 1050.7 L1352.5 1050.7 L1352.5 1104.7 L1347.9 1104.7 L1343.9 1104.7 L1339.9 1104.8 L1335.9 1104.9 L1331.9 1105.2 L1327.9 1105.3 L1323.9 1105.3 L1319.9 1105.1 L1315.9 1105.2 L1311.9 1105.1 L1307.9 1105.1 L1303.9 1105.3 L1299.9 1105.0 L1295.9 1105.0 L1291.9 1104.9 L1287.9 1104.9 L1283.9 1104.9 L1279.9 1105.1 L1275.9 1105.3 L1271.9 1105.1 L1267.9 1105.0 L1263.9 1105.0 L1259.9 1104.7 L1255.9 1105.0 L1251.9 1104.9 L1247.9 1104.8 L1243.9 1104.8 L1239.9 1104.7 L1235.9 1104.8 L1231.9 1104.6 L1227.9 1105.1 L1223.9 1105.3 L1219.9 1105.4 L1215.9 1105.4 L1211.9 1105.2 L1207.9 1105.3 L1203.9 1105.1 L1199.9 1105.2 L1195.9 1105.3 L1191.9 1105.2 L1187.9 1104.9 L1183.9 1104.5 L1179.9 1104.5 L1175.9 1104.5 L1171.9 1104.6 L1167.9 1104.8 L1163.9 1104.9 L1159.9 1104.9 L1155.9 1104.9 L1151.9 1105.0 L1147.9 1105.1 L1143.9 1105.1 L1139.9 1105.3 L1135.9 1105.3 L1131.9 1105.1 L1127.9 1105.1 L1123.9 1105.1 L1119.9 1105.2 L1115.9 1105.4 L1111.9 1105.3 L1107.9 1105.2 L1103.9 1105.0 L1099.9 1104.8 L1095.9 1104.9 L1091.9 1104.9 L1087.9 1104.7 L1083.9 1104.6 L1079.9 1104.5 L1075.9 1104.5 L1071.9 1104.3 L1067.9 1104.6 L1063.9 1104.9 L1059.9 1105.1 L1055.9 1105.3 L1051.9 1105.5 L1047.9 1105.3 L1043.9 1105.4 L1039.9 1105.6 L1035.9 1105.6 L1031.9 1105.5 L1027.9 1105.2 L1023.9 1104.8 L1019.9 1104.6 L1015.9 1104.6 L1011.9 1104.5 L1007.9 1104.6 L1003.9 1104.6 L999.9 1104.5 L995.9 1104.5 L991.9 1104.7 L987.9 1104.9 L983.9 1105.2 L979.9 1105.4 L975.9 1105.4 L971.9 1105.4 L967.9 1105.3 L963.9 1105.1 L959.9 1105.4 L955.9 1105.4 L951.9 1105.4 L947.9 1105.3 L943.9 1105.0 L937.9 1105.0 L937.9 1050.4Z" fill="none" stroke="#ffffff" stroke-opacity="0.08" stroke-width="18" filter="url(#bl4)"/><path d="M943.9 1050.4 L947.9 1050.1 L951.9 1050.0 L955.9 1050.1 L959.9 1050.4 L963.9 1050.5 L967.9 1050.5 L971.9 1050.7 L975.9 1050.7 L979.9 1050.4 L983.9 1050.3 L987.9 1050.6 L991.9 1050.7 L995.9 1050.7 L999.9 1050.4 L1003.9 1050.4 L1007.9 1050.6 L1011.9 1050.5 L1015.9 1050.5 L1019.9 1050.6 L1023.9 1050.6 L1027.9 1050.5 L1031.9 1050.2 L1035.9 1050.4 L1039.9 1050.8 L1043.9 1051.0 L1047.9 1050.4 L1051.9 1050.3 L1055.9 1050.5 L1059.9 1050.3 L1063.9 1050.2 L1067.9 1050.4 L1071.9 1050.5 L1075.9 1050.6 L1079.9 1050.5 L1083.9 1050.4 L1087.9 1050.7 L1091.9 1051.0 L1095.9 1050.7 L1099.9 1050.5 L1103.9 1050.6 L1107.9 1050.8 L1111.9 1050.6 L1115.9 1050.6 L1119.9 1050.7 L1123.9 1050.7 L1127.9 1050.3 L1131.9 1050.0 L1135.9 1050.0 L1139.9 1050.3 L1143.9 1050.3 L1147.9 1050.3 L1151.9 1050.3 L1155.9 1050.6 L1159.9 1050.6 L1163.9 1050.6 L1167.9 1050.8 L1171.9 1050.9 L1175.9 1050.9 L1179.9 1050.6 L1183.9 1050.6 L1187.9 1050.7 L1191.9 1050.8 L1195.9 1050.6 L1199.9 1050.2 L1203.9 1050.2 L1207.9 1050.3 L1211.9 1050.0 L1215.9 1049.8 L1219.9 1050.3 L1223.9 1050.5 L1227.9 1050.3 L1231.9 1050.3 L1235.9 1050.5 L1239.9 1051.0 L1243.9 1050.9 L1247.9 1050.5 L1251.9 1050.5 L1255.9 1050.6 L1259.9 1050.7 L1263.9 1050.6 L1267.9 1050.7 L1271.9 1050.9 L1275.9 1050.5 L1279.9 1050.0 L1283.9 1050.0 L1287.9 1050.4 L1291.9 1050.5 L1295.9 1050.4 L1299.9 1050.3 L1303.9 1050.6 L1307.9 1050.6 L1311.9 1050.4 L1315.9 1050.5 L1319.9 1050.9 L1323.9 1050.7 L1327.9 1050.3 L1331.9 1050.3 L1335.9 1050.4 L1339.9 1050.8 L1343.9 1050.6 L1347.9 1050.7 L1352.5 1050.7 L1352.5 1104.7 L1347.9 1104.7 L1343.9 1104.7 L1339.9 1104.8 L1335.9 1104.9 L1331.9 1105.2 L1327.9 1105.3 L1323.9 1105.3 L1319.9 1105.1 L1315.9 1105.2 L1311.9 1105.1 L1307.9 1105.1 L1303.9 1105.3 L1299.9 1105.0 L1295.9 1105.0 L1291.9 1104.9 L1287.9 1104.9 L1283.9 1104.9 L1279.9 1105.1 L1275.9 1105.3 L1271.9 1105.1 L1267.9 1105.0 L1263.9 1105.0 L1259.9 1104.7 L1255.9 1105.0 L1251.9 1104.9 L1247.9 1104.8 L1243.9 1104.8 L1239.9 1104.7 L1235.9 1104.8 L1231.9 1104.6 L1227.9 1105.1 L1223.9 1105.3 L1219.9 1105.4 L1215.9 1105.4 L1211.9 1105.2 L1207.9 1105.3 L1203.9 1105.1 L1199.9 1105.2 L1195.9 1105.3 L1191.9 1105.2 L1187.9 1104.9 L1183.9 1104.5 L1179.9 1104.5 L1175.9 1104.5 L1171.9 1104.6 L1167.9 1104.8 L1163.9 1104.9 L1159.9 1104.9 L1155.9 1104.9 L1151.9 1105.0 L1147.9 1105.1 L1143.9 1105.1 L1139.9 1105.3 L1135.9 1105.3 L1131.9 1105.1 L1127.9 1105.1 L1123.9 1105.1 L1119.9 1105.2 L1115.9 1105.4 L1111.9 1105.3 L1107.9 1105.2 L1103.9 1105.0 L1099.9 1104.8 L1095.9 1104.9 L1091.9 1104.9 L1087.9 1104.7 L1083.9 1104.6 L1079.9 1104.5 L1075.9 1104.5 L1071.9 1104.3 L1067.9 1104.6 L1063.9 1104.9 L1059.9 1105.1 L1055.9 1105.3 L1051.9 1105.5 L1047.9 1105.3 L1043.9 1105.4 L1039.9 1105.6 L1035.9 1105.6 L1031.9 1105.5 L1027.9 1105.2 L1023.9 1104.8 L1019.9 1104.6 L1015.9 1104.6 L1011.9 1104.5 L1007.9 1104.6 L1003.9 1104.6 L999.9 1104.5 L995.9 1104.5 L991.9 1104.7 L987.9 1104.9 L983.9 1105.2 L979.9 1105.4 L975.9 1105.4 L971.9 1105.4 L967.9 1105.3 L963.9 1105.1 L959.9 1105.4 L955.9 1105.4 L951.9 1105.4 L947.9 1105.3 L943.9 1105.0 L937.9 1105.0 L937.9 1050.4Z" fill="none" stroke="#ffffff" stroke-opacity="0.14" stroke-width="7" filter="url(#bl2)"/><rect x="949.9" y="1030.5" width="390.6" height="20.0" fill="url(#hgt3)"/><rect x="949.9" y="1105.0" width="390.6" height="14.0" fill="url(#hgb3)"/><g clip-path="url(#cst3)"><g filter="url(#mott3)"><rect x="941.9" y="1045.5" width="406.6" height="64.5" fill="#4c4c4c"/><ellipse cx="961" cy="1085" rx="2.1" ry="1.9" fill="#545454"/><ellipse cx="977" cy="1066" rx="2.6" ry="1.4" fill="#595959"/><ellipse cx="1242" cy="1068" rx="4.1" ry="1.3" fill="#484848"/><ellipse cx="1265" cy="1076" rx="3.7" ry="2.6" fill="#434343"/><ellipse cx="1322" cy="1100" rx="3.2" ry="2.5" fill="#555555"/><ellipse cx="1303" cy="1065" rx="2.7" ry="1.7" fill="#5a5a5a"/><ellipse cx="1069" cy="1086" rx="4.0" ry="1.3" fill="#555555"/><ellipse cx="1031" cy="1100" rx="1.7" ry="2.4" fill="#575757"/><ellipse cx="1240" cy="1101" rx="3.4" ry="2.5" fill="#585858"/><ellipse cx="1112" cy="1076" rx="4.4" ry="2.9" fill="#444444"/><ellipse cx="1320" cy="1095" rx="4.4" ry="2.6" fill="#585858"/><ellipse cx="961" cy="1063" rx="3.8" ry="1.7" fill="#555555"/><ellipse cx="994" cy="1077" rx="3.9" ry="1.3" fill="#484848"/><ellipse cx="1108" cy="1093" rx="3.4" ry="1.7" fill="#424242"/><ellipse cx="1009" cy="1086" rx="2.7" ry="1.2" fill="#5a5a5a"/><ellipse cx="1318" cy="1072" rx="3.2" ry="2.8" fill="#484848"/><ellipse cx="1169" cy="1078" rx="2.1" ry="1.5" fill="#434343"/><ellipse cx="953" cy="1096" rx="4.1" ry="2.1" fill="#555555"/><ellipse cx="1258" cy="1056" rx="3.4" ry="1.4" fill="#444444"/><ellipse cx="1164" cy="1059" rx="3.5" ry="1.6" fill="#555555"/><ellipse cx="976" cy="1096" rx="2.3" ry="2.1" fill="#474747"/><ellipse cx="1231" cy="1090" rx="2.4" ry="1.5" fill="#565656"/><ellipse cx="1331" cy="1064" rx="1.7" ry="1.7" fill="#585858"/><ellipse cx="1003" cy="1097" rx="4.3" ry="2.9" fill="#454545"/><ellipse cx="1001" cy="1079" rx="2.0" ry="1.7" fill="#444444"/><ellipse cx="952" cy="1073" rx="2.8" ry="1.6" fill="#565656"/><ellipse cx="1259" cy="1095" rx="2.7" ry="1.4" fill="#585858"/><ellipse cx="1316" cy="1079" rx="2.8" ry="1.5" fill="#424242"/><ellipse cx="1113" cy="1070" rx="2.6" ry="2.4" fill="#484848"/><ellipse cx="1154" cy="1058" rx="3.9" ry="1.4" fill="#585858"/><ellipse cx="955" cy="1099" rx="3.6" ry="1.9" fill="#595959"/><ellipse cx="1053" cy="1063" rx="3.3" ry="1.3" fill="#555555"/><ellipse cx="1306" cy="1079" rx="4.4" ry="1.9" fill="#535353"/><ellipse cx="1225" cy="1060" rx="3.7" ry="3.0" fill="#585858"/><ellipse cx="1250" cy="1072" rx="2.8" ry="2.6" fill="#454545"/><ellipse cx="1142" cy="1059" rx="1.8" ry="2.1" fill="#434343"/><ellipse cx="1136" cy="1071" rx="2.1" ry="2.9" fill="#585858"/><ellipse cx="1186" cy="1082" rx="2.1" ry="2.1" fill="#474747"/><ellipse cx="1234" cy="1075" rx="2.2" ry="1.4" fill="#434343"/><ellipse cx="955" cy="1067" rx="4.1" ry="2.9" fill="#595959"/><ellipse cx="1120" cy="1089" rx="3.3" ry="2.8" fill="#555555"/><ellipse cx="1299" cy="1079" rx="3.0" ry="1.6" fill="#474747"/><ellipse cx="1168" cy="1077" rx="1.8" ry="2.9" fill="#555555"/><ellipse cx="1026" cy="1091" rx="2.2" ry="1.3" fill="#585858"/><ellipse cx="1076" cy="1097" rx="3.3" ry="2.4" fill="#585858"/><ellipse cx="977" cy="1062" rx="3.5" ry="2.1" fill="#565656"/><ellipse cx="1319" cy="1087" rx="1.5" ry="2.5" fill="#585858"/><ellipse cx="1010" cy="1066" rx="2.0" ry="2.0" fill="#474747"/><ellipse cx="1051" cy="1089" rx="2.2" ry="2.0" fill="#434343"/><ellipse cx="1159" cy="1098" rx="3.3" ry="1.6" fill="#5a5a5a"/><ellipse cx="955" cy="1066" rx="2.4" ry="2.3" fill="#434343"/><ellipse cx="966" cy="1060" rx="1.7" ry="1.8" fill="#444444"/><ellipse cx="1103" cy="1065" rx="2.1" ry="1.3" fill="#474747"/><ellipse cx="1129" cy="1102" rx="3.4" ry="2.8" fill="#585858"/><ellipse cx="1162" cy="1076" rx="2.6" ry="2.0" fill="#454545"/><ellipse cx="1069" cy="1101" rx="1.6" ry="2.6" fill="#5a5a5a"/><ellipse cx="1229" cy="1083" rx="1.7" ry="2.6" fill="#484848"/><ellipse cx="1266" cy="1069" rx="4.0" ry="1.4" fill="#454545"/><ellipse cx="1100" cy="1073" rx="3.2" ry="1.8" fill="#555555"/><ellipse cx="1192" cy="1057" rx="2.1" ry="1.6" fill="#424242"/><g filter="url(#bl18)"><polygon points="998.0,1103.3 1014.9,1079.8 1029.9,1103.3" fill="#969696"/><ellipse cx="984.8" cy="1078.8" rx="11.0" ry="4.0" transform="rotate(-5 984.8 1078.8)" fill="#969696"/><ellipse cx="958.5" cy="1084.5" rx="7.5" ry="6.5" fill="#969696"/><ellipse cx="971.7" cy="1090.0" rx="4.7" ry="4.7" fill="#969696"/><ellipse cx="1058.0" cy="1066.6" rx="4.7" ry="3.8" fill="#969696"/><ellipse cx="1080.7" cy="1069.4" rx="4.7" ry="3.4" fill="#969696"/><ellipse cx="1075.0" cy="1086.4" rx="6.6" ry="3.4" fill="#969696"/><ellipse cx="1007.4" cy="1068.5" rx="5.6" ry="2.3" fill="#969696"/><ellipse cx="1197.2" cy="1077.0" rx="11.0" ry="9.4" fill="#969696"/><polygon points="1186.0,1092.0 1200.0,1080.0 1208.0,1086.0 1192.0,1096.0" fill="#969696"/><polygon points="1216.0,1077.0 1233.0,1084.0 1258.0,1069.0 1261.0,1074.0 1233.0,1090.0 1215.0,1082.0" fill="#969696"/><ellipse cx="1270.5" cy="1076.0" rx="8.5" ry="5.6" fill="#969696"/><ellipse cx="1178.4" cy="1073.2" rx="4.0" ry="4.0" fill="#969696"/><ellipse cx="1159.6" cy="1082.6" rx="3.8" ry="2.8" fill="#969696"/><ellipse cx="1133.3" cy="1075.0" rx="4.7" ry="2.3" fill="#969696"/><ellipse cx="1093.8" cy="1090.0" rx="3.8" ry="3.8" fill="#969696"/><ellipse cx="1289.3" cy="1072.3" rx="5.6" ry="2.8" fill="#969696"/><ellipse cx="1313.7" cy="1068.5" rx="2.8" ry="2.8" fill="#969696"/><ellipse cx="1323.0" cy="1082.6" rx="2.3" ry="2.3" fill="#969696"/><ellipse cx="1043.0" cy="1090.0" rx="2.8" ry="2.8" fill="#969696"/><ellipse cx="1110.7" cy="1085.4" rx="2.8" ry="2.8" fill="#969696"/></g><path d="M943.9 1050.4 L947.9 1050.1 L951.9 1050.0 L955.9 1050.1 L959.9 1050.4 L963.9 1050.5 L967.9 1050.5 L971.9 1050.7 L975.9 1050.7 L979.9 1050.4 L983.9 1050.3 L987.9 1050.6 L991.9 1050.7 L995.9 1050.7 L999.9 1050.4 L1003.9 1050.4 L1007.9 1050.6 L1011.9 1050.5 L1015.9 1050.5 L1019.9 1050.6 L1023.9 1050.6 L1027.9 1050.5 L1031.9 1050.2 L1035.9 1050.4 L1039.9 1050.8 L1043.9 1051.0 L1047.9 1050.4 L1051.9 1050.3 L1055.9 1050.5 L1059.9 1050.3 L1063.9 1050.2 L1067.9 1050.4 L1071.9 1050.5 L1075.9 1050.6 L1079.9 1050.5 L1083.9 1050.4 L1087.9 1050.7 L1091.9 1051.0 L1095.9 1050.7 L1099.9 1050.5 L1103.9 1050.6 L1107.9 1050.8 L1111.9 1050.6 L1115.9 1050.6 L1119.9 1050.7 L1123.9 1050.7 L1127.9 1050.3 L1131.9 1050.0 L1135.9 1050.0 L1139.9 1050.3 L1143.9 1050.3 L1147.9 1050.3 L1151.9 1050.3 L1155.9 1050.6 L1159.9 1050.6 L1163.9 1050.6 L1167.9 1050.8 L1171.9 1050.9 L1175.9 1050.9 L1179.9 1050.6 L1183.9 1050.6 L1187.9 1050.7 L1191.9 1050.8 L1195.9 1050.6 L1199.9 1050.2 L1203.9 1050.2 L1207.9 1050.3 L1211.9 1050.0 L1215.9 1049.8 L1219.9 1050.3 L1223.9 1050.5 L1227.9 1050.3 L1231.9 1050.3 L1235.9 1050.5 L1239.9 1051.0 L1243.9 1050.9 L1247.9 1050.5 L1251.9 1050.5 L1255.9 1050.6 L1259.9 1050.7 L1263.9 1050.6 L1267.9 1050.7 L1271.9 1050.9 L1275.9 1050.5 L1279.9 1050.0 L1283.9 1050.0 L1287.9 1050.4 L1291.9 1050.5 L1295.9 1050.4 L1299.9 1050.3 L1303.9 1050.6 L1307.9 1050.6 L1311.9 1050.4 L1315.9 1050.5 L1319.9 1050.9 L1323.9 1050.7 L1327.9 1050.3 L1331.9 1050.3 L1335.9 1050.4 L1339.9 1050.8 L1343.9 1050.6 L1347.9 1050.7 L1352.5 1050.7 L1352.5 1104.7 L1347.9 1104.7 L1343.9 1104.7 L1339.9 1104.8 L1335.9 1104.9 L1331.9 1105.2 L1327.9 1105.3 L1323.9 1105.3 L1319.9 1105.1 L1315.9 1105.2 L1311.9 1105.1 L1307.9 1105.1 L1303.9 1105.3 L1299.9 1105.0 L1295.9 1105.0 L1291.9 1104.9 L1287.9 1104.9 L1283.9 1104.9 L1279.9 1105.1 L1275.9 1105.3 L1271.9 1105.1 L1267.9 1105.0 L1263.9 1105.0 L1259.9 1104.7 L1255.9 1105.0 L1251.9 1104.9 L1247.9 1104.8 L1243.9 1104.8 L1239.9 1104.7 L1235.9 1104.8 L1231.9 1104.6 L1227.9 1105.1 L1223.9 1105.3 L1219.9 1105.4 L1215.9 1105.4 L1211.9 1105.2 L1207.9 1105.3 L1203.9 1105.1 L1199.9 1105.2 L1195.9 1105.3 L1191.9 1105.2 L1187.9 1104.9 L1183.9 1104.5 L1179.9 1104.5 L1175.9 1104.5 L1171.9 1104.6 L1167.9 1104.8 L1163.9 1104.9 L1159.9 1104.9 L1155.9 1104.9 L1151.9 1105.0 L1147.9 1105.1 L1143.9 1105.1 L1139.9 1105.3 L1135.9 1105.3 L1131.9 1105.1 L1127.9 1105.1 L1123.9 1105.1 L1119.9 1105.2 L1115.9 1105.4 L1111.9 1105.3 L1107.9 1105.2 L1103.9 1105.0 L1099.9 1104.8 L1095.9 1104.9 L1091.9 1104.9 L1087.9 1104.7 L1083.9 1104.6 L1079.9 1104.5 L1075.9 1104.5 L1071.9 1104.3 L1067.9 1104.6 L1063.9 1104.9 L1059.9 1105.1 L1055.9 1105.3 L1051.9 1105.5 L1047.9 1105.3 L1043.9 1105.4 L1039.9 1105.6 L1035.9 1105.6 L1031.9 1105.5 L1027.9 1105.2 L1023.9 1104.8 L1019.9 1104.6 L1015.9 1104.6 L1011.9 1104.5 L1007.9 1104.6 L1003.9 1104.6 L999.9 1104.5 L995.9 1104.5 L991.9 1104.7 L987.9 1104.9 L983.9 1105.2 L979.9 1105.4 L975.9 1105.4 L971.9 1105.4 L967.9 1105.3 L963.9 1105.1 L959.9 1105.4 L955.9 1105.4 L951.9 1105.4 L947.9 1105.3 L943.9 1105.0 L937.9 1105.0 L937.9 1050.4Z" fill="none" stroke="#2e2e2e" stroke-width="10" stroke-opacity="0.7"/></g></g><path d="M943.9 1050.4 L947.9 1050.1 L951.9 1050.0 L955.9 1050.1 L959.9 1050.4 L963.9 1050.5 L967.9 1050.5 L971.9 1050.7 L975.9 1050.7 L979.9 1050.4 L983.9 1050.3 L987.9 1050.6 L991.9 1050.7 L995.9 1050.7 L999.9 1050.4 L1003.9 1050.4 L1007.9 1050.6 L1011.9 1050.5 L1015.9 1050.5 L1019.9 1050.6 L1023.9 1050.6 L1027.9 1050.5 L1031.9 1050.2 L1035.9 1050.4 L1039.9 1050.8 L1043.9 1051.0 L1047.9 1050.4 L1051.9 1050.3 L1055.9 1050.5 L1059.9 1050.3 L1063.9 1050.2 L1067.9 1050.4 L1071.9 1050.5 L1075.9 1050.6 L1079.9 1050.5 L1083.9 1050.4 L1087.9 1050.7 L1091.9 1051.0 L1095.9 1050.7 L1099.9 1050.5 L1103.9 1050.6 L1107.9 1050.8 L1111.9 1050.6 L1115.9 1050.6 L1119.9 1050.7 L1123.9 1050.7 L1127.9 1050.3 L1131.9 1050.0 L1135.9 1050.0 L1139.9 1050.3 L1143.9 1050.3 L1147.9 1050.3 L1151.9 1050.3 L1155.9 1050.6 L1159.9 1050.6 L1163.9 1050.6 L1167.9 1050.8 L1171.9 1050.9 L1175.9 1050.9 L1179.9 1050.6 L1183.9 1050.6 L1187.9 1050.7 L1191.9 1050.8 L1195.9 1050.6 L1199.9 1050.2 L1203.9 1050.2 L1207.9 1050.3 L1211.9 1050.0 L1215.9 1049.8 L1219.9 1050.3 L1223.9 1050.5 L1227.9 1050.3 L1231.9 1050.3 L1235.9 1050.5 L1239.9 1051.0 L1243.9 1050.9 L1247.9 1050.5 L1251.9 1050.5 L1255.9 1050.6 L1259.9 1050.7 L1263.9 1050.6 L1267.9 1050.7 L1271.9 1050.9 L1275.9 1050.5 L1279.9 1050.0 L1283.9 1050.0 L1287.9 1050.4 L1291.9 1050.5 L1295.9 1050.4 L1299.9 1050.3 L1303.9 1050.6 L1307.9 1050.6 L1311.9 1050.4 L1315.9 1050.5 L1319.9 1050.9 L1323.9 1050.7 L1327.9 1050.3 L1331.9 1050.3 L1335.9 1050.4 L1339.9 1050.8 L1343.9 1050.6 L1347.9 1050.7 L1352.5 1050.7 L1352.5 1104.7 L1347.9 1104.7 L1343.9 1104.7 L1339.9 1104.8 L1335.9 1104.9 L1331.9 1105.2 L1327.9 1105.3 L1323.9 1105.3 L1319.9 1105.1 L1315.9 1105.2 L1311.9 1105.1 L1307.9 1105.1 L1303.9 1105.3 L1299.9 1105.0 L1295.9 1105.0 L1291.9 1104.9 L1287.9 1104.9 L1283.9 1104.9 L1279.9 1105.1 L1275.9 1105.3 L1271.9 1105.1 L1267.9 1105.0 L1263.9 1105.0 L1259.9 1104.7 L1255.9 1105.0 L1251.9 1104.9 L1247.9 1104.8 L1243.9 1104.8 L1239.9 1104.7 L1235.9 1104.8 L1231.9 1104.6 L1227.9 1105.1 L1223.9 1105.3 L1219.9 1105.4 L1215.9 1105.4 L1211.9 1105.2 L1207.9 1105.3 L1203.9 1105.1 L1199.9 1105.2 L1195.9 1105.3 L1191.9 1105.2 L1187.9 1104.9 L1183.9 1104.5 L1179.9 1104.5 L1175.9 1104.5 L1171.9 1104.6 L1167.9 1104.8 L1163.9 1104.9 L1159.9 1104.9 L1155.9 1104.9 L1151.9 1105.0 L1147.9 1105.1 L1143.9 1105.1 L1139.9 1105.3 L1135.9 1105.3 L1131.9 1105.1 L1127.9 1105.1 L1123.9 1105.1 L1119.9 1105.2 L1115.9 1105.4 L1111.9 1105.3 L1107.9 1105.2 L1103.9 1105.0 L1099.9 1104.8 L1095.9 1104.9 L1091.9 1104.9 L1087.9 1104.7 L1083.9 1104.6 L1079.9 1104.5 L1075.9 1104.5 L1071.9 1104.3 L1067.9 1104.6 L1063.9 1104.9 L1059.9 1105.1 L1055.9 1105.3 L1051.9 1105.5 L1047.9 1105.3 L1043.9 1105.4 L1039.9 1105.6 L1035.9 1105.6 L1031.9 1105.5 L1027.9 1105.2 L1023.9 1104.8 L1019.9 1104.6 L1015.9 1104.6 L1011.9 1104.5 L1007.9 1104.6 L1003.9 1104.6 L999.9 1104.5 L995.9 1104.5 L991.9 1104.7 L987.9 1104.9 L983.9 1105.2 L979.9 1105.4 L975.9 1105.4 L971.9 1105.4 L967.9 1105.3 L963.9 1105.1 L959.9 1105.4 L955.9 1105.4 L951.9 1105.4 L947.9 1105.3 L943.9 1105.0 L937.9 1105.0 L937.9 1050.4Z" fill="none" stroke="#d8d8d8" stroke-width="2.4" filter="url(#bl07)"/></g></g>
<g clip-path="url(#cps4)"><g filter="url(#grain)"><rect x="949.9" y="1139.6" width="393.4" height="132.9" fill="url(#sbg4)"/><path d="M943.9 1175.8 L947.9 1175.8 L951.9 1175.5 L955.9 1175.7 L959.9 1175.7 L963.9 1175.7 L967.9 1175.8 L971.9 1175.9 L975.9 1176.1 L979.9 1176.1 L983.9 1176.1 L987.9 1176.3 L991.9 1176.2 L995.9 1176.5 L999.9 1176.5 L1003.9 1176.3 L1007.9 1176.0 L1011.9 1175.8 L1015.9 1175.6 L1019.9 1175.6 L1023.9 1175.8 L1027.9 1175.8 L1031.9 1175.9 L1035.9 1176.1 L1039.9 1176.1 L1043.9 1176.1 L1047.9 1176.1 L1051.9 1176.2 L1055.9 1176.0 L1059.9 1175.9 L1063.9 1176.0 L1067.9 1176.0 L1071.9 1175.9 L1075.9 1175.8 L1079.9 1175.8 L1083.9 1176.0 L1087.9 1176.0 L1091.9 1176.4 L1095.9 1176.4 L1099.9 1176.5 L1103.9 1176.4 L1107.9 1176.2 L1111.9 1175.9 L1115.9 1175.7 L1119.9 1175.6 L1123.9 1175.8 L1127.9 1175.8 L1131.9 1176.1 L1135.9 1176.2 L1139.9 1176.2 L1143.9 1176.2 L1147.9 1175.9 L1151.9 1176.0 L1155.9 1176.0 L1159.9 1175.9 L1163.9 1176.0 L1167.9 1176.0 L1171.9 1175.8 L1175.9 1175.9 L1179.9 1175.9 L1183.9 1176.1 L1187.9 1176.3 L1191.9 1176.5 L1195.9 1176.4 L1199.9 1176.4 L1203.9 1176.2 L1207.9 1176.0 L1211.9 1175.5 L1215.9 1175.3 L1219.9 1175.3 L1223.9 1175.4 L1227.9 1175.7 L1231.9 1175.8 L1235.9 1176.2 L1239.9 1176.1 L1243.9 1176.3 L1247.9 1176.4 L1251.9 1176.5 L1255.9 1176.3 L1259.9 1176.4 L1263.9 1176.2 L1267.9 1176.1 L1271.9 1175.9 L1275.9 1175.7 L1279.9 1175.6 L1283.9 1175.7 L1287.9 1175.9 L1291.9 1175.9 L1295.9 1176.0 L1299.9 1176.2 L1303.9 1176.1 L1307.9 1176.1 L1311.9 1175.9 L1315.9 1175.9 L1319.9 1176.0 L1323.9 1176.2 L1327.9 1176.2 L1331.9 1176.2 L1335.9 1176.2 L1339.9 1176.3 L1343.9 1176.3 L1347.9 1176.1 L1351.9 1175.9 L1355.3 1175.9 L1355.3 1228.2 L1351.9 1228.2 L1347.9 1228.4 L1343.9 1228.0 L1339.9 1227.9 L1335.9 1228.2 L1331.9 1228.0 L1327.9 1227.6 L1323.9 1227.4 L1319.9 1227.6 L1315.9 1227.8 L1311.9 1227.9 L1307.9 1227.9 L1303.9 1228.3 L1299.9 1228.2 L1295.9 1228.0 L1291.9 1228.4 L1287.9 1228.6 L1283.9 1228.4 L1279.9 1228.0 L1275.9 1227.9 L1271.9 1227.9 L1267.9 1227.5 L1263.9 1227.4 L1259.9 1227.9 L1255.9 1228.1 L1251.9 1227.6 L1247.9 1227.8 L1243.9 1228.3 L1239.9 1228.4 L1235.9 1228.3 L1231.9 1228.4 L1227.9 1228.4 L1223.9 1228.1 L1219.9 1227.7 L1215.9 1227.9 L1211.9 1227.9 L1207.9 1227.6 L1203.9 1227.6 L1199.9 1227.7 L1195.9 1227.9 L1191.9 1227.8 L1187.9 1228.0 L1183.9 1228.5 L1179.9 1228.5 L1175.9 1228.1 L1171.9 1228.0 L1167.9 1228.2 L1163.9 1228.1 L1159.9 1227.9 L1155.9 1228.0 L1151.9 1228.0 L1147.9 1227.6 L1143.9 1227.7 L1139.9 1228.1 L1135.9 1228.4 L1131.9 1228.1 L1127.9 1227.9 L1123.9 1228.1 L1119.9 1228.2 L1115.9 1227.8 L1111.9 1228.0 L1107.9 1228.2 L1103.9 1227.8 L1099.9 1227.6 L1095.9 1227.8 L1091.9 1228.2 L1087.9 1228.1 L1083.9 1228.1 L1079.9 1228.2 L1075.9 1228.4 L1071.9 1228.1 L1067.9 1228.0 L1063.9 1228.3 L1059.9 1228.2 L1055.9 1227.8 L1051.9 1227.5 L1047.9 1227.7 L1043.9 1227.8 L1039.9 1227.5 L1035.9 1228.1 L1031.9 1228.2 L1027.9 1228.1 L1023.9 1227.9 L1019.9 1228.4 L1015.9 1228.5 L1011.9 1228.4 L1007.9 1228.0 L1003.9 1228.1 L999.9 1227.9 L995.9 1227.6 L991.9 1227.5 L987.9 1228.0 L983.9 1227.9 L979.9 1227.6 L975.9 1227.7 L971.9 1228.0 L967.9 1228.1 L963.9 1228.0 L959.9 1228.3 L955.9 1228.4 L951.9 1228.1 L947.9 1228.0 L943.9 1228.1 L937.9 1228.1 L937.9 1175.8Z" fill="none" stroke="#ffffff" stroke-opacity="0.08" stroke-width="18" filter="url(#bl4)"/><path d="M943.9 1175.8 L947.9 1175.8 L951.9 1175.5 L955.9 1175.7 L959.9 1175.7 L963.9 1175.7 L967.9 1175.8 L971.9 1175.9 L975.9 1176.1 L979.9 1176.1 L983.9 1176.1 L987.9 1176.3 L991.9 1176.2 L995.9 1176.5 L999.9 1176.5 L1003.9 1176.3 L1007.9 1176.0 L1011.9 1175.8 L1015.9 1175.6 L1019.9 1175.6 L1023.9 1175.8 L1027.9 1175.8 L1031.9 1175.9 L1035.9 1176.1 L1039.9 1176.1 L1043.9 1176.1 L1047.9 1176.1 L1051.9 1176.2 L1055.9 1176.0 L1059.9 1175.9 L1063.9 1176.0 L1067.9 1176.0 L1071.9 1175.9 L1075.9 1175.8 L1079.9 1175.8 L1083.9 1176.0 L1087.9 1176.0 L1091.9 1176.4 L1095.9 1176.4 L1099.9 1176.5 L1103.9 1176.4 L1107.9 1176.2 L1111.9 1175.9 L1115.9 1175.7 L1119.9 1175.6 L1123.9 1175.8 L1127.9 1175.8 L1131.9 1176.1 L1135.9 1176.2 L1139.9 1176.2 L1143.9 1176.2 L1147.9 1175.9 L1151.9 1176.0 L1155.9 1176.0 L1159.9 1175.9 L1163.9 1176.0 L1167.9 1176.0 L1171.9 1175.8 L1175.9 1175.9 L1179.9 1175.9 L1183.9 1176.1 L1187.9 1176.3 L1191.9 1176.5 L1195.9 1176.4 L1199.9 1176.4 L1203.9 1176.2 L1207.9 1176.0 L1211.9 1175.5 L1215.9 1175.3 L1219.9 1175.3 L1223.9 1175.4 L1227.9 1175.7 L1231.9 1175.8 L1235.9 1176.2 L1239.9 1176.1 L1243.9 1176.3 L1247.9 1176.4 L1251.9 1176.5 L1255.9 1176.3 L1259.9 1176.4 L1263.9 1176.2 L1267.9 1176.1 L1271.9 1175.9 L1275.9 1175.7 L1279.9 1175.6 L1283.9 1175.7 L1287.9 1175.9 L1291.9 1175.9 L1295.9 1176.0 L1299.9 1176.2 L1303.9 1176.1 L1307.9 1176.1 L1311.9 1175.9 L1315.9 1175.9 L1319.9 1176.0 L1323.9 1176.2 L1327.9 1176.2 L1331.9 1176.2 L1335.9 1176.2 L1339.9 1176.3 L1343.9 1176.3 L1347.9 1176.1 L1351.9 1175.9 L1355.3 1175.9 L1355.3 1228.2 L1351.9 1228.2 L1347.9 1228.4 L1343.9 1228.0 L1339.9 1227.9 L1335.9 1228.2 L1331.9 1228.0 L1327.9 1227.6 L1323.9 1227.4 L1319.9 1227.6 L1315.9 1227.8 L1311.9 1227.9 L1307.9 1227.9 L1303.9 1228.3 L1299.9 1228.2 L1295.9 1228.0 L1291.9 1228.4 L1287.9 1228.6 L1283.9 1228.4 L1279.9 1228.0 L1275.9 1227.9 L1271.9 1227.9 L1267.9 1227.5 L1263.9 1227.4 L1259.9 1227.9 L1255.9 1228.1 L1251.9 1227.6 L1247.9 1227.8 L1243.9 1228.3 L1239.9 1228.4 L1235.9 1228.3 L1231.9 1228.4 L1227.9 1228.4 L1223.9 1228.1 L1219.9 1227.7 L1215.9 1227.9 L1211.9 1227.9 L1207.9 1227.6 L1203.9 1227.6 L1199.9 1227.7 L1195.9 1227.9 L1191.9 1227.8 L1187.9 1228.0 L1183.9 1228.5 L1179.9 1228.5 L1175.9 1228.1 L1171.9 1228.0 L1167.9 1228.2 L1163.9 1228.1 L1159.9 1227.9 L1155.9 1228.0 L1151.9 1228.0 L1147.9 1227.6 L1143.9 1227.7 L1139.9 1228.1 L1135.9 1228.4 L1131.9 1228.1 L1127.9 1227.9 L1123.9 1228.1 L1119.9 1228.2 L1115.9 1227.8 L1111.9 1228.0 L1107.9 1228.2 L1103.9 1227.8 L1099.9 1227.6 L1095.9 1227.8 L1091.9 1228.2 L1087.9 1228.1 L1083.9 1228.1 L1079.9 1228.2 L1075.9 1228.4 L1071.9 1228.1 L1067.9 1228.0 L1063.9 1228.3 L1059.9 1228.2 L1055.9 1227.8 L1051.9 1227.5 L1047.9 1227.7 L1043.9 1227.8 L1039.9 1227.5 L1035.9 1228.1 L1031.9 1228.2 L1027.9 1228.1 L1023.9 1227.9 L1019.9 1228.4 L1015.9 1228.5 L1011.9 1228.4 L1007.9 1228.0 L1003.9 1228.1 L999.9 1227.9 L995.9 1227.6 L991.9 1227.5 L987.9 1228.0 L983.9 1227.9 L979.9 1227.6 L975.9 1227.7 L971.9 1228.0 L967.9 1228.1 L963.9 1228.0 L959.9 1228.3 L955.9 1228.4 L951.9 1228.1 L947.9 1228.0 L943.9 1228.1 L937.9 1228.1 L937.9 1175.8Z" fill="none" stroke="#ffffff" stroke-opacity="0.14" stroke-width="7" filter="url(#bl2)"/><rect x="949.9" y="1158.0" width="393.4" height="18.0" fill="url(#hgt4)"/><rect x="949.9" y="1228.0" width="393.4" height="13.0" fill="url(#hgb4)"/><g clip-path="url(#cst4)"><g filter="url(#mott4)"><rect x="941.9" y="1171.0" width="409.4" height="62.0" fill="#606060"/><ellipse cx="1232" cy="1221" rx="4.2" ry="3.0" fill="#7c7c7c"/><ellipse cx="1280" cy="1182" rx="3.0" ry="2.1" fill="#888888"/><ellipse cx="1098" cy="1201" rx="3.0" ry="1.4" fill="#838383"/><ellipse cx="1308" cy="1191" rx="4.1" ry="1.3" fill="#808080"/><ellipse cx="1278" cy="1209" rx="1.9" ry="1.2" fill="#787878"/><ellipse cx="1175" cy="1205" rx="2.4" ry="1.2" fill="#7a7a7a"/><ellipse cx="1050" cy="1207" rx="2.6" ry="2.1" fill="#5a5a5a"/><ellipse cx="1131" cy="1194" rx="2.5" ry="2.0" fill="#848484"/><ellipse cx="1349" cy="1218" rx="2.5" ry="2.7" fill="#858585"/><ellipse cx="1025" cy="1208" rx="2.6" ry="2.4" fill="#777777"/><ellipse cx="952" cy="1194" rx="3.5" ry="1.7" fill="#7b7b7b"/><ellipse cx="1014" cy="1189" rx="4.3" ry="1.4" fill="#858585"/><ellipse cx="1258" cy="1217" rx="2.8" ry="1.9" fill="#838383"/><ellipse cx="1322" cy="1196" rx="2.9" ry="2.8" fill="#585858"/><ellipse cx="998" cy="1217" rx="4.2" ry="2.5" fill="#575757"/><ellipse cx="950" cy="1199" rx="1.9" ry="2.9" fill="#585858"/><ellipse cx="1335" cy="1200" rx="3.6" ry="1.7" fill="#5a5a5a"/><ellipse cx="1285" cy="1182" rx="3.1" ry="2.3" fill="#818181"/><ellipse cx="1217" cy="1190" rx="2.6" ry="2.9" fill="#5c5c5c"/><ellipse cx="1128" cy="1221" rx="3.3" ry="1.8" fill="#5b5b5b"/><ellipse cx="1160" cy="1185" rx="2.1" ry="1.4" fill="#828282"/><ellipse cx="1167" cy="1219" rx="3.7" ry="2.5" fill="#777777"/><ellipse cx="1114" cy="1211" rx="2.2" ry="2.2" fill="#757575"/><ellipse cx="1229" cy="1213" rx="2.4" ry="2.3" fill="#585858"/><ellipse cx="1091" cy="1185" rx="3.3" ry="2.5" fill="#878787"/><ellipse cx="1005" cy="1218" rx="3.4" ry="1.7" fill="#848484"/><ellipse cx="1342" cy="1188" rx="4.5" ry="1.7" fill="#7f7f7f"/><ellipse cx="1175" cy="1190" rx="3.7" ry="1.6" fill="#585858"/><ellipse cx="1166" cy="1182" rx="2.4" ry="2.2" fill="#7c7c7c"/><ellipse cx="999" cy="1210" rx="3.2" ry="2.9" fill="#848484"/><ellipse cx="1271" cy="1189" rx="2.4" ry="2.8" fill="#5c5c5c"/><ellipse cx="1125" cy="1199" rx="2.8" ry="1.5" fill="#7a7a7a"/><ellipse cx="1265" cy="1221" rx="2.6" ry="1.6" fill="#888888"/><ellipse cx="1303" cy="1183" rx="3.6" ry="2.9" fill="#5b5b5b"/><ellipse cx="1080" cy="1206" rx="4.4" ry="2.4" fill="#575757"/><ellipse cx="1069" cy="1211" rx="2.3" ry="2.0" fill="#5c5c5c"/><ellipse cx="1038" cy="1190" rx="3.1" ry="2.7" fill="#797979"/><ellipse cx="1128" cy="1225" rx="4.1" ry="2.2" fill="#5b5b5b"/><ellipse cx="1258" cy="1185" rx="2.9" ry="3.0" fill="#818181"/><ellipse cx="1181" cy="1214" rx="4.0" ry="2.8" fill="#848484"/><ellipse cx="1214" cy="1217" rx="2.7" ry="1.3" fill="#878787"/><ellipse cx="1149" cy="1210" rx="3.7" ry="1.4" fill="#7e7e7e"/><ellipse cx="1051" cy="1180" rx="3.8" ry="2.1" fill="#5c5c5c"/><ellipse cx="1218" cy="1185" rx="2.1" ry="2.1" fill="#5b5b5b"/><ellipse cx="979" cy="1182" rx="3.4" ry="2.0" fill="#5c5c5c"/><ellipse cx="1096" cy="1186" rx="2.3" ry="2.2" fill="#595959"/><ellipse cx="1052" cy="1199" rx="2.0" ry="2.6" fill="#818181"/><ellipse cx="1043" cy="1199" rx="3.1" ry="2.3" fill="#595959"/><ellipse cx="1299" cy="1189" rx="2.6" ry="1.7" fill="#565656"/><ellipse cx="1182" cy="1187" rx="3.0" ry="2.4" fill="#797979"/><ellipse cx="1136" cy="1214" rx="2.4" ry="2.8" fill="#5a5a5a"/><ellipse cx="950" cy="1207" rx="3.4" ry="2.8" fill="#585858"/><ellipse cx="997" cy="1212" rx="1.6" ry="2.2" fill="#818181"/><ellipse cx="1258" cy="1189" rx="4.0" ry="2.9" fill="#838383"/><ellipse cx="1208" cy="1220" rx="2.5" ry="1.8" fill="#575757"/><ellipse cx="1131" cy="1218" rx="4.2" ry="1.5" fill="#565656"/><ellipse cx="1174" cy="1223" rx="3.6" ry="1.8" fill="#858585"/><ellipse cx="1140" cy="1200" rx="1.9" ry="2.4" fill="#757575"/><ellipse cx="1279" cy="1193" rx="4.3" ry="1.2" fill="#5a5a5a"/><ellipse cx="1305" cy="1184" rx="3.5" ry="2.9" fill="#5b5b5b"/><ellipse cx="993" cy="1180" rx="2.6" ry="1.4" fill="#5b5b5b"/><ellipse cx="958" cy="1215" rx="3.4" ry="1.4" fill="#5b5b5b"/><ellipse cx="1205" cy="1193" rx="2.3" ry="2.8" fill="#595959"/><ellipse cx="1280" cy="1184" rx="2.7" ry="1.9" fill="#868686"/><ellipse cx="1103" cy="1195" rx="1.5" ry="1.4" fill="#888888"/><ellipse cx="1022" cy="1218" rx="4.2" ry="3.0" fill="#5a5a5a"/><ellipse cx="1068" cy="1211" rx="4.4" ry="2.4" fill="#787878"/><ellipse cx="969" cy="1203" rx="1.8" ry="2.5" fill="#585858"/><ellipse cx="1028" cy="1186" rx="2.4" ry="2.8" fill="#838383"/><ellipse cx="1191" cy="1212" rx="1.8" ry="2.8" fill="#5a5a5a"/><ellipse cx="1097" cy="1186" rx="2.6" ry="2.0" fill="#5a5a5a"/><ellipse cx="1251" cy="1193" rx="3.9" ry="2.7" fill="#575757"/><ellipse cx="1102" cy="1211" rx="2.2" ry="2.8" fill="#747474"/><ellipse cx="1223" cy="1199" rx="4.2" ry="1.6" fill="#808080"/><ellipse cx="1126" cy="1181" rx="3.4" ry="1.7" fill="#575757"/><ellipse cx="1135" cy="1221" rx="4.0" ry="1.4" fill="#7d7d7d"/><ellipse cx="1073" cy="1191" rx="1.9" ry="2.2" fill="#838383"/><ellipse cx="951" cy="1222" rx="2.6" ry="1.7" fill="#595959"/><ellipse cx="1120" cy="1187" rx="3.3" ry="2.1" fill="#5a5a5a"/><ellipse cx="952" cy="1189" rx="4.1" ry="1.9" fill="#5b5b5b"/><ellipse cx="1224" cy="1206" rx="3.8" ry="2.2" fill="#787878"/><ellipse cx="1163" cy="1204" rx="2.4" ry="2.6" fill="#848484"/><ellipse cx="1338" cy="1191" rx="3.6" ry="1.3" fill="#565656"/><ellipse cx="1019" cy="1211" rx="3.4" ry="2.7" fill="#575757"/><ellipse cx="1133" cy="1224" rx="2.9" ry="2.8" fill="#747474"/><ellipse cx="1309" cy="1182" rx="1.7" ry="2.6" fill="#585858"/><ellipse cx="1009" cy="1213" rx="3.7" ry="2.8" fill="#7e7e7e"/><ellipse cx="1292" cy="1189" rx="2.7" ry="2.8" fill="#848484"/><ellipse cx="1186" cy="1203" rx="3.5" ry="1.5" fill="#5a5a5a"/><ellipse cx="1047" cy="1200" rx="1.6" ry="1.4" fill="#787878"/><ellipse cx="1184" cy="1213" rx="3.5" ry="2.2" fill="#747474"/><ellipse cx="1138" cy="1184" rx="4.2" ry="2.3" fill="#595959"/><ellipse cx="1330" cy="1208" rx="3.1" ry="2.8" fill="#848484"/><ellipse cx="1021" cy="1188" rx="3.4" ry="1.4" fill="#585858"/><ellipse cx="1038" cy="1206" rx="3.8" ry="2.0" fill="#757575"/><ellipse cx="1230" cy="1184" rx="3.4" ry="2.1" fill="#5b5b5b"/><ellipse cx="950" cy="1213" rx="2.2" ry="1.4" fill="#5c5c5c"/><ellipse cx="1069" cy="1201" rx="2.3" ry="1.4" fill="#757575"/><ellipse cx="1039" cy="1212" rx="2.0" ry="1.6" fill="#585858"/><ellipse cx="1090" cy="1191" rx="2.1" ry="1.8" fill="#595959"/><ellipse cx="978" cy="1200" rx="3.5" ry="1.2" fill="#7b7b7b"/><ellipse cx="1340" cy="1215" rx="3.8" ry="1.6" fill="#575757"/><ellipse cx="1092" cy="1212" rx="3.7" ry="1.5" fill="#5c5c5c"/><ellipse cx="1077" cy="1215" rx="4.4" ry="2.3" fill="#595959"/><ellipse cx="1299" cy="1197" rx="1.7" ry="2.9" fill="#767676"/><ellipse cx="1150" cy="1190" rx="2.0" ry="2.3" fill="#888888"/><ellipse cx="954" cy="1204" rx="1.8" ry="2.3" fill="#7d7d7d"/><ellipse cx="1070" cy="1192" rx="3.4" ry="2.0" fill="#595959"/><ellipse cx="1047" cy="1207" rx="2.8" ry="2.6" fill="#5b5b5b"/><ellipse cx="1197" cy="1207" rx="3.9" ry="2.1" fill="#585858"/><ellipse cx="1105" cy="1201" rx="3.1" ry="2.4" fill="#595959"/><ellipse cx="949" cy="1188" rx="1.5" ry="2.9" fill="#888888"/><ellipse cx="1113" cy="1194" rx="4.2" ry="2.9" fill="#777777"/><ellipse cx="1053" cy="1223" rx="3.6" ry="3.0" fill="#7a7a7a"/><ellipse cx="1041" cy="1209" rx="3.2" ry="2.9" fill="#5c5c5c"/><ellipse cx="1256" cy="1221" rx="2.2" ry="2.9" fill="#595959"/><ellipse cx="1182" cy="1213" rx="2.0" ry="3.0" fill="#595959"/><ellipse cx="1001" cy="1221" rx="1.9" ry="1.5" fill="#595959"/><ellipse cx="1145" cy="1184" rx="2.2" ry="1.4" fill="#5a5a5a"/><ellipse cx="1245" cy="1202" rx="4.2" ry="2.7" fill="#595959"/><ellipse cx="1136" cy="1180" rx="4.5" ry="1.4" fill="#888888"/><ellipse cx="1109" cy="1184" rx="2.0" ry="1.7" fill="#5a5a5a"/><ellipse cx="1125" cy="1211" rx="1.7" ry="2.9" fill="#7b7b7b"/><ellipse cx="1338" cy="1187" rx="2.9" ry="2.0" fill="#565656"/><ellipse cx="1208" cy="1216" rx="2.3" ry="2.3" fill="#5a5a5a"/><ellipse cx="1340" cy="1223" rx="4.5" ry="2.3" fill="#747474"/><ellipse cx="1082" cy="1206" rx="1.7" ry="2.1" fill="#818181"/><ellipse cx="1346" cy="1186" rx="1.9" ry="2.7" fill="#7a7a7a"/><ellipse cx="981" cy="1209" rx="4.2" ry="2.4" fill="#808080"/><ellipse cx="1134" cy="1211" rx="2.4" ry="2.3" fill="#575757"/><ellipse cx="1212" cy="1224" rx="2.6" ry="2.2" fill="#7a7a7a"/><ellipse cx="1162" cy="1217" rx="2.0" ry="1.7" fill="#575757"/><ellipse cx="1050" cy="1200" rx="2.7" ry="1.9" fill="#5b5b5b"/><ellipse cx="1083" cy="1210" rx="4.0" ry="2.1" fill="#848484"/><ellipse cx="1104" cy="1213" rx="1.6" ry="2.8" fill="#575757"/><ellipse cx="987" cy="1205" rx="1.7" ry="1.8" fill="#858585"/><ellipse cx="1000" cy="1223" rx="3.0" ry="2.8" fill="#7b7b7b"/><ellipse cx="1025" cy="1204" rx="4.2" ry="1.3" fill="#565656"/><ellipse cx="1221" cy="1180" rx="3.4" ry="1.6" fill="#767676"/><ellipse cx="972" cy="1186" rx="2.5" ry="2.3" fill="#7a7a7a"/><ellipse cx="1319" cy="1184" rx="4.3" ry="2.7" fill="#5b5b5b"/><ellipse cx="1130" cy="1216" rx="3.0" ry="1.3" fill="#5a5a5a"/><ellipse cx="1203" cy="1186" rx="2.3" ry="1.6" fill="#858585"/><ellipse cx="1282" cy="1191" rx="2.7" ry="1.5" fill="#5b5b5b"/><ellipse cx="1234" cy="1181" rx="3.4" ry="1.9" fill="#595959"/><ellipse cx="1190" cy="1198" rx="4.0" ry="2.6" fill="#828282"/><ellipse cx="954" cy="1224" rx="3.9" ry="2.9" fill="#585858"/><ellipse cx="1246" cy="1185" rx="4.1" ry="1.8" fill="#595959"/><ellipse cx="1337" cy="1205" rx="3.2" ry="3.0" fill="#575757"/><ellipse cx="1108" cy="1191" rx="3.8" ry="2.7" fill="#7d7d7d"/><ellipse cx="956" cy="1203" rx="3.8" ry="2.4" fill="#5a5a5a"/><ellipse cx="1246" cy="1181" rx="2.5" ry="1.4" fill="#7a7a7a"/><ellipse cx="1042" cy="1225" rx="1.9" ry="1.8" fill="#5a5a5a"/><ellipse cx="1200" cy="1197" rx="2.1" ry="2.2" fill="#838383"/><ellipse cx="1078" cy="1219" rx="2.3" ry="2.0" fill="#888888"/><ellipse cx="1184" cy="1203" rx="2.0" ry="1.2" fill="#575757"/><ellipse cx="1019" cy="1198" rx="2.2" ry="1.8" fill="#575757"/><ellipse cx="1197" cy="1200" rx="2.7" ry="1.6" fill="#868686"/><ellipse cx="1135" cy="1206" rx="1.6" ry="2.3" fill="#828282"/><ellipse cx="958" cy="1188" rx="2.8" ry="2.9" fill="#797979"/><ellipse cx="1292" cy="1195" rx="3.9" ry="2.5" fill="#797979"/><ellipse cx="1243" cy="1224" rx="3.2" ry="2.8" fill="#838383"/><ellipse cx="1155" cy="1223" rx="1.9" ry="2.1" fill="#5b5b5b"/><ellipse cx="1260" cy="1193" rx="1.6" ry="2.5" fill="#575757"/><ellipse cx="1126" cy="1210" rx="3.0" ry="2.2" fill="#5a5a5a"/><ellipse cx="1116" cy="1201" rx="3.8" ry="1.2" fill="#878787"/><ellipse cx="1009" cy="1215" rx="3.4" ry="1.9" fill="#5c5c5c"/><ellipse cx="1321" cy="1217" rx="2.5" ry="2.9" fill="#797979"/><ellipse cx="1070" cy="1198" rx="1.6" ry="1.4" fill="#848484"/><ellipse cx="1163" cy="1199" rx="2.9" ry="1.6" fill="#565656"/><g filter="url(#bl18)"></g><path d="M943.9 1175.8 L947.9 1175.8 L951.9 1175.5 L955.9 1175.7 L959.9 1175.7 L963.9 1175.7 L967.9 1175.8 L971.9 1175.9 L975.9 1176.1 L979.9 1176.1 L983.9 1176.1 L987.9 1176.3 L991.9 1176.2 L995.9 1176.5 L999.9 1176.5 L1003.9 1176.3 L1007.9 1176.0 L1011.9 1175.8 L1015.9 1175.6 L1019.9 1175.6 L1023.9 1175.8 L1027.9 1175.8 L1031.9 1175.9 L1035.9 1176.1 L1039.9 1176.1 L1043.9 1176.1 L1047.9 1176.1 L1051.9 1176.2 L1055.9 1176.0 L1059.9 1175.9 L1063.9 1176.0 L1067.9 1176.0 L1071.9 1175.9 L1075.9 1175.8 L1079.9 1175.8 L1083.9 1176.0 L1087.9 1176.0 L1091.9 1176.4 L1095.9 1176.4 L1099.9 1176.5 L1103.9 1176.4 L1107.9 1176.2 L1111.9 1175.9 L1115.9 1175.7 L1119.9 1175.6 L1123.9 1175.8 L1127.9 1175.8 L1131.9 1176.1 L1135.9 1176.2 L1139.9 1176.2 L1143.9 1176.2 L1147.9 1175.9 L1151.9 1176.0 L1155.9 1176.0 L1159.9 1175.9 L1163.9 1176.0 L1167.9 1176.0 L1171.9 1175.8 L1175.9 1175.9 L1179.9 1175.9 L1183.9 1176.1 L1187.9 1176.3 L1191.9 1176.5 L1195.9 1176.4 L1199.9 1176.4 L1203.9 1176.2 L1207.9 1176.0 L1211.9 1175.5 L1215.9 1175.3 L1219.9 1175.3 L1223.9 1175.4 L1227.9 1175.7 L1231.9 1175.8 L1235.9 1176.2 L1239.9 1176.1 L1243.9 1176.3 L1247.9 1176.4 L1251.9 1176.5 L1255.9 1176.3 L1259.9 1176.4 L1263.9 1176.2 L1267.9 1176.1 L1271.9 1175.9 L1275.9 1175.7 L1279.9 1175.6 L1283.9 1175.7 L1287.9 1175.9 L1291.9 1175.9 L1295.9 1176.0 L1299.9 1176.2 L1303.9 1176.1 L1307.9 1176.1 L1311.9 1175.9 L1315.9 1175.9 L1319.9 1176.0 L1323.9 1176.2 L1327.9 1176.2 L1331.9 1176.2 L1335.9 1176.2 L1339.9 1176.3 L1343.9 1176.3 L1347.9 1176.1 L1351.9 1175.9 L1355.3 1175.9 L1355.3 1228.2 L1351.9 1228.2 L1347.9 1228.4 L1343.9 1228.0 L1339.9 1227.9 L1335.9 1228.2 L1331.9 1228.0 L1327.9 1227.6 L1323.9 1227.4 L1319.9 1227.6 L1315.9 1227.8 L1311.9 1227.9 L1307.9 1227.9 L1303.9 1228.3 L1299.9 1228.2 L1295.9 1228.0 L1291.9 1228.4 L1287.9 1228.6 L1283.9 1228.4 L1279.9 1228.0 L1275.9 1227.9 L1271.9 1227.9 L1267.9 1227.5 L1263.9 1227.4 L1259.9 1227.9 L1255.9 1228.1 L1251.9 1227.6 L1247.9 1227.8 L1243.9 1228.3 L1239.9 1228.4 L1235.9 1228.3 L1231.9 1228.4 L1227.9 1228.4 L1223.9 1228.1 L1219.9 1227.7 L1215.9 1227.9 L1211.9 1227.9 L1207.9 1227.6 L1203.9 1227.6 L1199.9 1227.7 L1195.9 1227.9 L1191.9 1227.8 L1187.9 1228.0 L1183.9 1228.5 L1179.9 1228.5 L1175.9 1228.1 L1171.9 1228.0 L1167.9 1228.2 L1163.9 1228.1 L1159.9 1227.9 L1155.9 1228.0 L1151.9 1228.0 L1147.9 1227.6 L1143.9 1227.7 L1139.9 1228.1 L1135.9 1228.4 L1131.9 1228.1 L1127.9 1227.9 L1123.9 1228.1 L1119.9 1228.2 L1115.9 1227.8 L1111.9 1228.0 L1107.9 1228.2 L1103.9 1227.8 L1099.9 1227.6 L1095.9 1227.8 L1091.9 1228.2 L1087.9 1228.1 L1083.9 1228.1 L1079.9 1228.2 L1075.9 1228.4 L1071.9 1228.1 L1067.9 1228.0 L1063.9 1228.3 L1059.9 1228.2 L1055.9 1227.8 L1051.9 1227.5 L1047.9 1227.7 L1043.9 1227.8 L1039.9 1227.5 L1035.9 1228.1 L1031.9 1228.2 L1027.9 1228.1 L1023.9 1227.9 L1019.9 1228.4 L1015.9 1228.5 L1011.9 1228.4 L1007.9 1228.0 L1003.9 1228.1 L999.9 1227.9 L995.9 1227.6 L991.9 1227.5 L987.9 1228.0 L983.9 1227.9 L979.9 1227.6 L975.9 1227.7 L971.9 1228.0 L967.9 1228.1 L963.9 1228.0 L959.9 1228.3 L955.9 1228.4 L951.9 1228.1 L947.9 1228.0 L943.9 1228.1 L937.9 1228.1 L937.9 1175.8Z" fill="none" stroke="#424242" stroke-width="10" stroke-opacity="0.7"/></g></g><path d="M943.9 1175.8 L947.9 1175.8 L951.9 1175.5 L955.9 1175.7 L959.9 1175.7 L963.9 1175.7 L967.9 1175.8 L971.9 1175.9 L975.9 1176.1 L979.9 1176.1 L983.9 1176.1 L987.9 1176.3 L991.9 1176.2 L995.9 1176.5 L999.9 1176.5 L1003.9 1176.3 L1007.9 1176.0 L1011.9 1175.8 L1015.9 1175.6 L1019.9 1175.6 L1023.9 1175.8 L1027.9 1175.8 L1031.9 1175.9 L1035.9 1176.1 L1039.9 1176.1 L1043.9 1176.1 L1047.9 1176.1 L1051.9 1176.2 L1055.9 1176.0 L1059.9 1175.9 L1063.9 1176.0 L1067.9 1176.0 L1071.9 1175.9 L1075.9 1175.8 L1079.9 1175.8 L1083.9 1176.0 L1087.9 1176.0 L1091.9 1176.4 L1095.9 1176.4 L1099.9 1176.5 L1103.9 1176.4 L1107.9 1176.2 L1111.9 1175.9 L1115.9 1175.7 L1119.9 1175.6 L1123.9 1175.8 L1127.9 1175.8 L1131.9 1176.1 L1135.9 1176.2 L1139.9 1176.2 L1143.9 1176.2 L1147.9 1175.9 L1151.9 1176.0 L1155.9 1176.0 L1159.9 1175.9 L1163.9 1176.0 L1167.9 1176.0 L1171.9 1175.8 L1175.9 1175.9 L1179.9 1175.9 L1183.9 1176.1 L1187.9 1176.3 L1191.9 1176.5 L1195.9 1176.4 L1199.9 1176.4 L1203.9 1176.2 L1207.9 1176.0 L1211.9 1175.5 L1215.9 1175.3 L1219.9 1175.3 L1223.9 1175.4 L1227.9 1175.7 L1231.9 1175.8 L1235.9 1176.2 L1239.9 1176.1 L1243.9 1176.3 L1247.9 1176.4 L1251.9 1176.5 L1255.9 1176.3 L1259.9 1176.4 L1263.9 1176.2 L1267.9 1176.1 L1271.9 1175.9 L1275.9 1175.7 L1279.9 1175.6 L1283.9 1175.7 L1287.9 1175.9 L1291.9 1175.9 L1295.9 1176.0 L1299.9 1176.2 L1303.9 1176.1 L1307.9 1176.1 L1311.9 1175.9 L1315.9 1175.9 L1319.9 1176.0 L1323.9 1176.2 L1327.9 1176.2 L1331.9 1176.2 L1335.9 1176.2 L1339.9 1176.3 L1343.9 1176.3 L1347.9 1176.1 L1351.9 1175.9 L1355.3 1175.9 L1355.3 1228.2 L1351.9 1228.2 L1347.9 1228.4 L1343.9 1228.0 L1339.9 1227.9 L1335.9 1228.2 L1331.9 1228.0 L1327.9 1227.6 L1323.9 1227.4 L1319.9 1227.6 L1315.9 1227.8 L1311.9 1227.9 L1307.9 1227.9 L1303.9 1228.3 L1299.9 1228.2 L1295.9 1228.0 L1291.9 1228.4 L1287.9 1228.6 L1283.9 1228.4 L1279.9 1228.0 L1275.9 1227.9 L1271.9 1227.9 L1267.9 1227.5 L1263.9 1227.4 L1259.9 1227.9 L1255.9 1228.1 L1251.9 1227.6 L1247.9 1227.8 L1243.9 1228.3 L1239.9 1228.4 L1235.9 1228.3 L1231.9 1228.4 L1227.9 1228.4 L1223.9 1228.1 L1219.9 1227.7 L1215.9 1227.9 L1211.9 1227.9 L1207.9 1227.6 L1203.9 1227.6 L1199.9 1227.7 L1195.9 1227.9 L1191.9 1227.8 L1187.9 1228.0 L1183.9 1228.5 L1179.9 1228.5 L1175.9 1228.1 L1171.9 1228.0 L1167.9 1228.2 L1163.9 1228.1 L1159.9 1227.9 L1155.9 1228.0 L1151.9 1228.0 L1147.9 1227.6 L1143.9 1227.7 L1139.9 1228.1 L1135.9 1228.4 L1131.9 1228.1 L1127.9 1227.9 L1123.9 1228.1 L1119.9 1228.2 L1115.9 1227.8 L1111.9 1228.0 L1107.9 1228.2 L1103.9 1227.8 L1099.9 1227.6 L1095.9 1227.8 L1091.9 1228.2 L1087.9 1228.1 L1083.9 1228.1 L1079.9 1228.2 L1075.9 1228.4 L1071.9 1228.1 L1067.9 1228.0 L1063.9 1228.3 L1059.9 1228.2 L1055.9 1227.8 L1051.9 1227.5 L1047.9 1227.7 L1043.9 1227.8 L1039.9 1227.5 L1035.9 1228.1 L1031.9 1228.2 L1027.9 1228.1 L1023.9 1227.9 L1019.9 1228.4 L1015.9 1228.5 L1011.9 1228.4 L1007.9 1228.0 L1003.9 1228.1 L999.9 1227.9 L995.9 1227.6 L991.9 1227.5 L987.9 1228.0 L983.9 1227.9 L979.9 1227.6 L975.9 1227.7 L971.9 1228.0 L967.9 1228.1 L963.9 1228.0 L959.9 1228.3 L955.9 1228.4 L951.9 1228.1 L947.9 1228.0 L943.9 1228.1 L937.9 1228.1 L937.9 1175.8Z" fill="none" stroke="#d8d8d8" stroke-width="2.4" filter="url(#bl07)"/></g></g>
<g clip-path="url(#cps5)"><g filter="url(#grain)"><rect x="949.9" y="1275.3" width="393.2" height="133.4" fill="url(#sbg5)"/><ellipse cx="985" cy="1398" rx="65" ry="32" fill="url(#dks)"/><path d="M943.9 1310.0 L947.9 1309.9 L951.9 1309.6 L955.9 1309.5 L959.9 1309.8 L963.9 1309.9 L967.9 1309.8 L971.9 1309.9 L975.9 1310.1 L979.9 1310.0 L983.9 1310.3 L987.9 1310.5 L991.9 1310.4 L995.9 1310.5 L999.9 1310.4 L1003.9 1310.0 L1007.9 1309.8 L1011.9 1310.0 L1015.9 1309.8 L1019.9 1309.8 L1023.9 1309.7 L1027.9 1309.9 L1031.9 1309.8 L1035.9 1309.8 L1039.9 1309.9 L1043.9 1310.0 L1047.9 1310.0 L1051.9 1310.0 L1055.9 1310.0 L1059.9 1309.9 L1063.9 1309.9 L1067.9 1310.2 L1071.9 1310.3 L1075.9 1310.5 L1079.9 1310.4 L1083.9 1310.3 L1087.9 1310.3 L1091.9 1310.3 L1095.9 1310.0 L1099.9 1309.9 L1103.9 1309.8 L1107.9 1309.8 L1111.9 1309.5 L1115.9 1309.6 L1119.9 1309.6 L1123.9 1309.8 L1127.9 1309.8 L1131.9 1310.2 L1135.9 1310.2 L1139.9 1310.2 L1143.9 1310.1 L1147.9 1310.1 L1151.9 1310.3 L1155.9 1310.4 L1159.9 1310.4 L1163.9 1310.0 L1167.9 1309.9 L1171.9 1309.8 L1175.9 1310.0 L1179.9 1310.1 L1183.9 1310.1 L1187.9 1309.9 L1191.9 1309.8 L1195.9 1309.9 L1199.9 1309.7 L1203.9 1309.7 L1207.9 1309.8 L1211.9 1309.8 L1215.9 1309.8 L1219.9 1309.8 L1223.9 1309.8 L1227.9 1309.9 L1231.9 1310.2 L1235.9 1310.3 L1239.9 1310.3 L1243.9 1310.2 L1247.9 1310.3 L1251.9 1310.1 L1255.9 1310.0 L1259.9 1310.0 L1263.9 1310.0 L1267.9 1309.9 L1271.9 1309.9 L1275.9 1309.9 L1279.9 1309.7 L1283.9 1310.0 L1287.9 1309.9 L1291.9 1310.2 L1295.9 1310.2 L1299.9 1310.1 Q1305.0 1310.0 1305.0 1318.0 L1305.0 1353.5 Q1305.0 1361.5 1299.9 1361.8 L1299.9 1361.8 L1295.9 1361.6 L1291.9 1361.2 L1287.9 1361.3 L1283.9 1361.3 L1279.9 1361.2 L1275.9 1361.4 L1271.9 1361.4 L1267.9 1361.5 L1263.9 1361.5 L1259.9 1361.4 L1255.9 1361.6 L1251.9 1361.5 L1247.9 1361.5 L1243.9 1361.5 L1239.9 1361.7 L1235.9 1361.8 L1231.9 1361.7 L1227.9 1361.6 L1223.9 1361.5 L1219.9 1361.6 L1215.9 1361.4 L1211.9 1361.7 L1207.9 1361.7 L1203.9 1361.6 L1199.9 1361.5 L1195.9 1361.3 L1191.9 1361.3 L1187.9 1361.1 L1183.9 1361.1 L1179.9 1361.4 L1175.9 1361.6 L1171.9 1361.6 L1167.9 1361.8 L1163.9 1361.6 L1159.9 1361.5 L1155.9 1361.3 L1151.9 1361.2 L1147.9 1361.3 L1143.9 1361.4 L1139.9 1361.8 L1135.9 1361.7 L1131.9 1362.0 L1127.9 1361.8 L1123.9 1361.5 L1119.9 1361.4 L1115.9 1361.2 L1111.9 1361.1 L1107.9 1361.3 L1103.9 1361.5 L1099.9 1361.4 L1095.9 1361.4 L1091.9 1361.5 L1087.9 1361.3 L1083.9 1361.5 L1079.9 1361.3 L1075.9 1361.4 L1071.9 1361.5 L1067.9 1361.8 L1063.9 1361.6 L1059.9 1361.6 L1055.9 1361.8 L1051.9 1361.6 L1047.9 1361.7 L1043.9 1361.5 L1039.9 1361.6 L1035.9 1361.4 L1031.9 1361.6 L1027.9 1361.6 L1023.9 1361.3 L1019.9 1361.1 L1015.9 1361.2 L1011.9 1361.1 L1007.9 1361.4 L1003.9 1361.4 L999.9 1361.6 L995.9 1361.5 L991.9 1361.8 L987.9 1361.7 L983.9 1361.6 L979.9 1361.5 L975.9 1361.4 L971.9 1361.6 L967.9 1361.8 L963.9 1362.0 L959.9 1361.8 L955.9 1361.8 L951.9 1361.4 L947.9 1361.2 L943.9 1361.0 L937.9 1361.0 L937.9 1310.0Z" fill="none" stroke="#ffffff" stroke-opacity="0.08" stroke-width="18" filter="url(#bl4)"/><path d="M943.9 1310.0 L947.9 1309.9 L951.9 1309.6 L955.9 1309.5 L959.9 1309.8 L963.9 1309.9 L967.9 1309.8 L971.9 1309.9 L975.9 1310.1 L979.9 1310.0 L983.9 1310.3 L987.9 1310.5 L991.9 1310.4 L995.9 1310.5 L999.9 1310.4 L1003.9 1310.0 L1007.9 1309.8 L1011.9 1310.0 L1015.9 1309.8 L1019.9 1309.8 L1023.9 1309.7 L1027.9 1309.9 L1031.9 1309.8 L1035.9 1309.8 L1039.9 1309.9 L1043.9 1310.0 L1047.9 1310.0 L1051.9 1310.0 L1055.9 1310.0 L1059.9 1309.9 L1063.9 1309.9 L1067.9 1310.2 L1071.9 1310.3 L1075.9 1310.5 L1079.9 1310.4 L1083.9 1310.3 L1087.9 1310.3 L1091.9 1310.3 L1095.9 1310.0 L1099.9 1309.9 L1103.9 1309.8 L1107.9 1309.8 L1111.9 1309.5 L1115.9 1309.6 L1119.9 1309.6 L1123.9 1309.8 L1127.9 1309.8 L1131.9 1310.2 L1135.9 1310.2 L1139.9 1310.2 L1143.9 1310.1 L1147.9 1310.1 L1151.9 1310.3 L1155.9 1310.4 L1159.9 1310.4 L1163.9 1310.0 L1167.9 1309.9 L1171.9 1309.8 L1175.9 1310.0 L1179.9 1310.1 L1183.9 1310.1 L1187.9 1309.9 L1191.9 1309.8 L1195.9 1309.9 L1199.9 1309.7 L1203.9 1309.7 L1207.9 1309.8 L1211.9 1309.8 L1215.9 1309.8 L1219.9 1309.8 L1223.9 1309.8 L1227.9 1309.9 L1231.9 1310.2 L1235.9 1310.3 L1239.9 1310.3 L1243.9 1310.2 L1247.9 1310.3 L1251.9 1310.1 L1255.9 1310.0 L1259.9 1310.0 L1263.9 1310.0 L1267.9 1309.9 L1271.9 1309.9 L1275.9 1309.9 L1279.9 1309.7 L1283.9 1310.0 L1287.9 1309.9 L1291.9 1310.2 L1295.9 1310.2 L1299.9 1310.1 Q1305.0 1310.0 1305.0 1318.0 L1305.0 1353.5 Q1305.0 1361.5 1299.9 1361.8 L1299.9 1361.8 L1295.9 1361.6 L1291.9 1361.2 L1287.9 1361.3 L1283.9 1361.3 L1279.9 1361.2 L1275.9 1361.4 L1271.9 1361.4 L1267.9 1361.5 L1263.9 1361.5 L1259.9 1361.4 L1255.9 1361.6 L1251.9 1361.5 L1247.9 1361.5 L1243.9 1361.5 L1239.9 1361.7 L1235.9 1361.8 L1231.9 1361.7 L1227.9 1361.6 L1223.9 1361.5 L1219.9 1361.6 L1215.9 1361.4 L1211.9 1361.7 L1207.9 1361.7 L1203.9 1361.6 L1199.9 1361.5 L1195.9 1361.3 L1191.9 1361.3 L1187.9 1361.1 L1183.9 1361.1 L1179.9 1361.4 L1175.9 1361.6 L1171.9 1361.6 L1167.9 1361.8 L1163.9 1361.6 L1159.9 1361.5 L1155.9 1361.3 L1151.9 1361.2 L1147.9 1361.3 L1143.9 1361.4 L1139.9 1361.8 L1135.9 1361.7 L1131.9 1362.0 L1127.9 1361.8 L1123.9 1361.5 L1119.9 1361.4 L1115.9 1361.2 L1111.9 1361.1 L1107.9 1361.3 L1103.9 1361.5 L1099.9 1361.4 L1095.9 1361.4 L1091.9 1361.5 L1087.9 1361.3 L1083.9 1361.5 L1079.9 1361.3 L1075.9 1361.4 L1071.9 1361.5 L1067.9 1361.8 L1063.9 1361.6 L1059.9 1361.6 L1055.9 1361.8 L1051.9 1361.6 L1047.9 1361.7 L1043.9 1361.5 L1039.9 1361.6 L1035.9 1361.4 L1031.9 1361.6 L1027.9 1361.6 L1023.9 1361.3 L1019.9 1361.1 L1015.9 1361.2 L1011.9 1361.1 L1007.9 1361.4 L1003.9 1361.4 L999.9 1361.6 L995.9 1361.5 L991.9 1361.8 L987.9 1361.7 L983.9 1361.6 L979.9 1361.5 L975.9 1361.4 L971.9 1361.6 L967.9 1361.8 L963.9 1362.0 L959.9 1361.8 L955.9 1361.8 L951.9 1361.4 L947.9 1361.2 L943.9 1361.0 L937.9 1361.0 L937.9 1310.0Z" fill="none" stroke="#ffffff" stroke-opacity="0.14" stroke-width="7" filter="url(#bl2)"/><rect x="949.9" y="1295.0" width="349.1" height="15.0" fill="url(#hgt5)"/><rect x="949.9" y="1361.5" width="349.1" height="14.0" fill="url(#hgb5)"/><g clip-path="url(#cst5)"><g filter="url(#mott5)"><rect x="941.9" y="1305.0" width="409.2" height="61.5" fill="#686868"/><ellipse cx="1191" cy="1329" rx="1.9" ry="1.5" fill="#737373"/><ellipse cx="1280" cy="1315" rx="4.3" ry="2.2" fill="#626262"/><ellipse cx="1253" cy="1343" rx="2.9" ry="1.4" fill="#767676"/><ellipse cx="1266" cy="1338" rx="3.4" ry="1.3" fill="#636363"/><ellipse cx="1034" cy="1355" rx="3.9" ry="1.7" fill="#757575"/><ellipse cx="1182" cy="1341" rx="3.2" ry="2.9" fill="#626262"/><ellipse cx="1069" cy="1317" rx="4.1" ry="2.8" fill="#636363"/><ellipse cx="1183" cy="1341" rx="2.7" ry="2.9" fill="#636363"/><ellipse cx="1192" cy="1318" rx="2.9" ry="2.6" fill="#747474"/><ellipse cx="1034" cy="1330" rx="3.5" ry="1.3" fill="#737373"/><ellipse cx="1208" cy="1347" rx="2.5" ry="2.9" fill="#626262"/><ellipse cx="1055" cy="1318" rx="4.5" ry="2.8" fill="#626262"/><ellipse cx="1268" cy="1345" rx="2.7" ry="1.6" fill="#737373"/><ellipse cx="1131" cy="1329" rx="4.1" ry="2.5" fill="#636363"/><ellipse cx="1281" cy="1323" rx="3.7" ry="1.4" fill="#636363"/><ellipse cx="950" cy="1349" rx="2.9" ry="2.5" fill="#757575"/><ellipse cx="1013" cy="1314" rx="2.6" ry="1.6" fill="#616161"/><ellipse cx="965" cy="1329" rx="3.2" ry="2.9" fill="#606060"/><ellipse cx="961" cy="1352" rx="1.6" ry="2.7" fill="#767676"/><ellipse cx="1099" cy="1334" rx="4.0" ry="1.9" fill="#727272"/><ellipse cx="1285" cy="1354" rx="3.9" ry="1.8" fill="#757575"/><ellipse cx="978" cy="1339" rx="3.4" ry="2.4" fill="#616161"/><ellipse cx="1136" cy="1350" rx="1.6" ry="2.2" fill="#636363"/><ellipse cx="1020" cy="1351" rx="4.5" ry="2.0" fill="#747474"/><ellipse cx="1124" cy="1321" rx="3.1" ry="2.3" fill="#747474"/><ellipse cx="1011" cy="1341" rx="4.3" ry="2.0" fill="#757575"/><ellipse cx="1115" cy="1326" rx="4.0" ry="2.8" fill="#727272"/><ellipse cx="1198" cy="1346" rx="4.1" ry="2.9" fill="#707070"/><ellipse cx="1072" cy="1322" rx="2.8" ry="1.9" fill="#717171"/><ellipse cx="976" cy="1347" rx="3.9" ry="2.6" fill="#616161"/><ellipse cx="1148" cy="1330" rx="1.6" ry="1.8" fill="#606060"/><ellipse cx="992" cy="1315" rx="3.6" ry="1.5" fill="#636363"/><ellipse cx="1297" cy="1341" rx="1.6" ry="2.3" fill="#5f5f5f"/><ellipse cx="1049" cy="1356" rx="3.0" ry="2.0" fill="#717171"/><ellipse cx="1279" cy="1323" rx="1.6" ry="2.8" fill="#646464"/><ellipse cx="1016" cy="1331" rx="2.2" ry="1.3" fill="#727272"/><ellipse cx="1071" cy="1353" rx="2.0" ry="1.5" fill="#737373"/><ellipse cx="1246" cy="1317" rx="3.7" ry="2.1" fill="#5e5e5e"/><ellipse cx="1296" cy="1355" rx="1.6" ry="2.5" fill="#707070"/><ellipse cx="945" cy="1326" rx="3.1" ry="2.9" fill="#5e5e5e"/><ellipse cx="1145" cy="1341" rx="3.5" ry="1.5" fill="#727272"/><ellipse cx="1181" cy="1349" rx="3.6" ry="1.8" fill="#646464"/><ellipse cx="1169" cy="1347" rx="1.9" ry="2.3" fill="#767676"/><ellipse cx="1239" cy="1352" rx="3.2" ry="2.4" fill="#6f6f6f"/><ellipse cx="978" cy="1319" rx="3.1" ry="1.5" fill="#747474"/><ellipse cx="988" cy="1357" rx="3.9" ry="2.3" fill="#737373"/><ellipse cx="1289" cy="1321" rx="4.2" ry="1.9" fill="#626262"/><ellipse cx="1018" cy="1323" rx="3.1" ry="1.5" fill="#707070"/><ellipse cx="1240" cy="1323" rx="3.6" ry="1.2" fill="#717171"/><ellipse cx="1084" cy="1337" rx="2.4" ry="1.5" fill="#636363"/><ellipse cx="1108" cy="1351" rx="3.0" ry="1.4" fill="#636363"/><ellipse cx="1083" cy="1327" rx="4.2" ry="2.9" fill="#636363"/><ellipse cx="1096" cy="1324" rx="4.0" ry="1.9" fill="#636363"/><ellipse cx="1205" cy="1313" rx="1.7" ry="1.8" fill="#606060"/><ellipse cx="960" cy="1321" rx="3.1" ry="1.8" fill="#626262"/><ellipse cx="1089" cy="1329" rx="1.6" ry="1.7" fill="#5f5f5f"/><ellipse cx="1012" cy="1342" rx="4.2" ry="1.5" fill="#5e5e5e"/><ellipse cx="1234" cy="1349" rx="3.5" ry="2.8" fill="#717171"/><ellipse cx="1294" cy="1320" rx="2.5" ry="2.5" fill="#636363"/><ellipse cx="1273" cy="1326" rx="3.7" ry="2.6" fill="#626262"/><ellipse cx="1226" cy="1329" rx="1.7" ry="2.6" fill="#626262"/><ellipse cx="1156" cy="1333" rx="1.9" ry="1.8" fill="#626262"/><ellipse cx="993" cy="1326" rx="3.9" ry="2.9" fill="#626262"/><ellipse cx="1008" cy="1347" rx="4.0" ry="1.9" fill="#747474"/><ellipse cx="1148" cy="1337" rx="3.6" ry="2.5" fill="#606060"/><ellipse cx="1142" cy="1344" rx="2.4" ry="2.3" fill="#636363"/><ellipse cx="1295" cy="1347" rx="1.8" ry="2.3" fill="#636363"/><ellipse cx="1144" cy="1358" rx="2.6" ry="2.6" fill="#616161"/><ellipse cx="1083" cy="1347" rx="1.5" ry="2.3" fill="#626262"/><ellipse cx="1189" cy="1328" rx="3.3" ry="2.9" fill="#757575"/><ellipse cx="1299" cy="1325" rx="3.0" ry="2.5" fill="#707070"/><ellipse cx="1279" cy="1322" rx="2.6" ry="1.3" fill="#6f6f6f"/><ellipse cx="1288" cy="1355" rx="3.3" ry="1.4" fill="#767676"/><ellipse cx="1188" cy="1324" rx="4.0" ry="2.4" fill="#616161"/><ellipse cx="1112" cy="1339" rx="4.3" ry="1.7" fill="#5f5f5f"/><ellipse cx="1018" cy="1335" rx="1.6" ry="2.2" fill="#616161"/><ellipse cx="1091" cy="1338" rx="3.6" ry="2.2" fill="#757575"/><ellipse cx="1227" cy="1341" rx="3.8" ry="2.5" fill="#757575"/><ellipse cx="998" cy="1322" rx="2.3" ry="1.8" fill="#707070"/><ellipse cx="1220" cy="1328" rx="3.1" ry="2.7" fill="#636363"/><g filter="url(#bl18)"></g><path d="M943.9 1310.0 L947.9 1309.9 L951.9 1309.6 L955.9 1309.5 L959.9 1309.8 L963.9 1309.9 L967.9 1309.8 L971.9 1309.9 L975.9 1310.1 L979.9 1310.0 L983.9 1310.3 L987.9 1310.5 L991.9 1310.4 L995.9 1310.5 L999.9 1310.4 L1003.9 1310.0 L1007.9 1309.8 L1011.9 1310.0 L1015.9 1309.8 L1019.9 1309.8 L1023.9 1309.7 L1027.9 1309.9 L1031.9 1309.8 L1035.9 1309.8 L1039.9 1309.9 L1043.9 1310.0 L1047.9 1310.0 L1051.9 1310.0 L1055.9 1310.0 L1059.9 1309.9 L1063.9 1309.9 L1067.9 1310.2 L1071.9 1310.3 L1075.9 1310.5 L1079.9 1310.4 L1083.9 1310.3 L1087.9 1310.3 L1091.9 1310.3 L1095.9 1310.0 L1099.9 1309.9 L1103.9 1309.8 L1107.9 1309.8 L1111.9 1309.5 L1115.9 1309.6 L1119.9 1309.6 L1123.9 1309.8 L1127.9 1309.8 L1131.9 1310.2 L1135.9 1310.2 L1139.9 1310.2 L1143.9 1310.1 L1147.9 1310.1 L1151.9 1310.3 L1155.9 1310.4 L1159.9 1310.4 L1163.9 1310.0 L1167.9 1309.9 L1171.9 1309.8 L1175.9 1310.0 L1179.9 1310.1 L1183.9 1310.1 L1187.9 1309.9 L1191.9 1309.8 L1195.9 1309.9 L1199.9 1309.7 L1203.9 1309.7 L1207.9 1309.8 L1211.9 1309.8 L1215.9 1309.8 L1219.9 1309.8 L1223.9 1309.8 L1227.9 1309.9 L1231.9 1310.2 L1235.9 1310.3 L1239.9 1310.3 L1243.9 1310.2 L1247.9 1310.3 L1251.9 1310.1 L1255.9 1310.0 L1259.9 1310.0 L1263.9 1310.0 L1267.9 1309.9 L1271.9 1309.9 L1275.9 1309.9 L1279.9 1309.7 L1283.9 1310.0 L1287.9 1309.9 L1291.9 1310.2 L1295.9 1310.2 L1299.9 1310.1 Q1305.0 1310.0 1305.0 1318.0 L1305.0 1353.5 Q1305.0 1361.5 1299.9 1361.8 L1299.9 1361.8 L1295.9 1361.6 L1291.9 1361.2 L1287.9 1361.3 L1283.9 1361.3 L1279.9 1361.2 L1275.9 1361.4 L1271.9 1361.4 L1267.9 1361.5 L1263.9 1361.5 L1259.9 1361.4 L1255.9 1361.6 L1251.9 1361.5 L1247.9 1361.5 L1243.9 1361.5 L1239.9 1361.7 L1235.9 1361.8 L1231.9 1361.7 L1227.9 1361.6 L1223.9 1361.5 L1219.9 1361.6 L1215.9 1361.4 L1211.9 1361.7 L1207.9 1361.7 L1203.9 1361.6 L1199.9 1361.5 L1195.9 1361.3 L1191.9 1361.3 L1187.9 1361.1 L1183.9 1361.1 L1179.9 1361.4 L1175.9 1361.6 L1171.9 1361.6 L1167.9 1361.8 L1163.9 1361.6 L1159.9 1361.5 L1155.9 1361.3 L1151.9 1361.2 L1147.9 1361.3 L1143.9 1361.4 L1139.9 1361.8 L1135.9 1361.7 L1131.9 1362.0 L1127.9 1361.8 L1123.9 1361.5 L1119.9 1361.4 L1115.9 1361.2 L1111.9 1361.1 L1107.9 1361.3 L1103.9 1361.5 L1099.9 1361.4 L1095.9 1361.4 L1091.9 1361.5 L1087.9 1361.3 L1083.9 1361.5 L1079.9 1361.3 L1075.9 1361.4 L1071.9 1361.5 L1067.9 1361.8 L1063.9 1361.6 L1059.9 1361.6 L1055.9 1361.8 L1051.9 1361.6 L1047.9 1361.7 L1043.9 1361.5 L1039.9 1361.6 L1035.9 1361.4 L1031.9 1361.6 L1027.9 1361.6 L1023.9 1361.3 L1019.9 1361.1 L1015.9 1361.2 L1011.9 1361.1 L1007.9 1361.4 L1003.9 1361.4 L999.9 1361.6 L995.9 1361.5 L991.9 1361.8 L987.9 1361.7 L983.9 1361.6 L979.9 1361.5 L975.9 1361.4 L971.9 1361.6 L967.9 1361.8 L963.9 1362.0 L959.9 1361.8 L955.9 1361.8 L951.9 1361.4 L947.9 1361.2 L943.9 1361.0 L937.9 1361.0 L937.9 1310.0Z" fill="none" stroke="#4a4a4a" stroke-width="10" stroke-opacity="0.7"/></g></g><path d="M943.9 1310.0 L947.9 1309.9 L951.9 1309.6 L955.9 1309.5 L959.9 1309.8 L963.9 1309.9 L967.9 1309.8 L971.9 1309.9 L975.9 1310.1 L979.9 1310.0 L983.9 1310.3 L987.9 1310.5 L991.9 1310.4 L995.9 1310.5 L999.9 1310.4 L1003.9 1310.0 L1007.9 1309.8 L1011.9 1310.0 L1015.9 1309.8 L1019.9 1309.8 L1023.9 1309.7 L1027.9 1309.9 L1031.9 1309.8 L1035.9 1309.8 L1039.9 1309.9 L1043.9 1310.0 L1047.9 1310.0 L1051.9 1310.0 L1055.9 1310.0 L1059.9 1309.9 L1063.9 1309.9 L1067.9 1310.2 L1071.9 1310.3 L1075.9 1310.5 L1079.9 1310.4 L1083.9 1310.3 L1087.9 1310.3 L1091.9 1310.3 L1095.9 1310.0 L1099.9 1309.9 L1103.9 1309.8 L1107.9 1309.8 L1111.9 1309.5 L1115.9 1309.6 L1119.9 1309.6 L1123.9 1309.8 L1127.9 1309.8 L1131.9 1310.2 L1135.9 1310.2 L1139.9 1310.2 L1143.9 1310.1 L1147.9 1310.1 L1151.9 1310.3 L1155.9 1310.4 L1159.9 1310.4 L1163.9 1310.0 L1167.9 1309.9 L1171.9 1309.8 L1175.9 1310.0 L1179.9 1310.1 L1183.9 1310.1 L1187.9 1309.9 L1191.9 1309.8 L1195.9 1309.9 L1199.9 1309.7 L1203.9 1309.7 L1207.9 1309.8 L1211.9 1309.8 L1215.9 1309.8 L1219.9 1309.8 L1223.9 1309.8 L1227.9 1309.9 L1231.9 1310.2 L1235.9 1310.3 L1239.9 1310.3 L1243.9 1310.2 L1247.9 1310.3 L1251.9 1310.1 L1255.9 1310.0 L1259.9 1310.0 L1263.9 1310.0 L1267.9 1309.9 L1271.9 1309.9 L1275.9 1309.9 L1279.9 1309.7 L1283.9 1310.0 L1287.9 1309.9 L1291.9 1310.2 L1295.9 1310.2 L1299.9 1310.1 Q1305.0 1310.0 1305.0 1318.0 L1305.0 1353.5 Q1305.0 1361.5 1299.9 1361.8 L1299.9 1361.8 L1295.9 1361.6 L1291.9 1361.2 L1287.9 1361.3 L1283.9 1361.3 L1279.9 1361.2 L1275.9 1361.4 L1271.9 1361.4 L1267.9 1361.5 L1263.9 1361.5 L1259.9 1361.4 L1255.9 1361.6 L1251.9 1361.5 L1247.9 1361.5 L1243.9 1361.5 L1239.9 1361.7 L1235.9 1361.8 L1231.9 1361.7 L1227.9 1361.6 L1223.9 1361.5 L1219.9 1361.6 L1215.9 1361.4 L1211.9 1361.7 L1207.9 1361.7 L1203.9 1361.6 L1199.9 1361.5 L1195.9 1361.3 L1191.9 1361.3 L1187.9 1361.1 L1183.9 1361.1 L1179.9 1361.4 L1175.9 1361.6 L1171.9 1361.6 L1167.9 1361.8 L1163.9 1361.6 L1159.9 1361.5 L1155.9 1361.3 L1151.9 1361.2 L1147.9 1361.3 L1143.9 1361.4 L1139.9 1361.8 L1135.9 1361.7 L1131.9 1362.0 L1127.9 1361.8 L1123.9 1361.5 L1119.9 1361.4 L1115.9 1361.2 L1111.9 1361.1 L1107.9 1361.3 L1103.9 1361.5 L1099.9 1361.4 L1095.9 1361.4 L1091.9 1361.5 L1087.9 1361.3 L1083.9 1361.5 L1079.9 1361.3 L1075.9 1361.4 L1071.9 1361.5 L1067.9 1361.8 L1063.9 1361.6 L1059.9 1361.6 L1055.9 1361.8 L1051.9 1361.6 L1047.9 1361.7 L1043.9 1361.5 L1039.9 1361.6 L1035.9 1361.4 L1031.9 1361.6 L1027.9 1361.6 L1023.9 1361.3 L1019.9 1361.1 L1015.9 1361.2 L1011.9 1361.1 L1007.9 1361.4 L1003.9 1361.4 L999.9 1361.6 L995.9 1361.5 L991.9 1361.8 L987.9 1361.7 L983.9 1361.6 L979.9 1361.5 L975.9 1361.4 L971.9 1361.6 L967.9 1361.8 L963.9 1362.0 L959.9 1361.8 L955.9 1361.8 L951.9 1361.4 L947.9 1361.2 L943.9 1361.0 L937.9 1361.0 L937.9 1310.0Z" fill="none" stroke="#d8d8d8" stroke-width="2.4" filter="url(#bl07)"/></g></g>
<g clip-path="url(#cps6)"><g filter="url(#grain)"><rect x="1485.9" y="1004.0" width="390.2" height="132.7" fill="url(#sbg6)"/><rect x="1826" y="1000" width="52" height="140" fill="url(#dkr)"/><path d="M1479.9 1045.1 L1483.9 1045.1 L1487.9 1045.2 L1491.9 1045.5 L1495.9 1045.2 L1499.9 1044.9 L1503.9 1044.7 L1507.9 1044.9 L1511.9 1045.1 L1515.9 1044.9 L1519.9 1045.2 L1523.9 1045.6 L1527.9 1045.2 L1531.9 1044.9 L1535.9 1044.6 L1539.9 1044.7 L1543.9 1044.8 L1547.9 1044.5 L1551.9 1044.8 L1555.9 1045.2 L1559.9 1045.5 L1563.9 1045.0 L1567.9 1045.1 L1571.9 1045.2 L1575.9 1045.0 L1579.9 1044.7 L1583.9 1044.8 L1587.9 1045.0 L1591.9 1045.2 L1595.9 1045.1 L1599.9 1044.9 L1603.9 1045.4 L1607.9 1045.2 L1611.9 1045.0 L1615.9 1044.9 L1619.9 1045.1 L1623.9 1045.2 L1627.9 1044.8 L1631.9 1044.9 L1635.9 1044.9 L1639.9 1045.1 L1643.9 1045.0 L1647.9 1044.8 L1651.9 1045.2 L1655.9 1045.3 L1659.9 1044.9 L1663.9 1044.7 L1667.9 1044.9 L1671.9 1045.2 L1675.9 1044.9 L1679.9 1044.9 L1683.9 1045.3 L1687.9 1045.6 L1691.9 1045.5 L1695.9 1045.2 L1699.9 1045.0 L1703.9 1044.9 L1707.9 1044.5 L1711.9 1044.5 L1715.9 1044.7 L1719.9 1044.9 L1723.9 1044.9 L1727.9 1045.0 L1731.9 1045.0 L1735.9 1045.1 L1739.9 1044.9 L1743.9 1044.7 L1747.9 1044.7 L1751.9 1045.1 L1755.9 1045.3 L1759.9 1045.2 L1763.9 1045.4 L1767.9 1045.6 L1771.9 1045.4 L1775.9 1044.8 L1779.9 1044.7 L1783.9 1044.9 L1787.9 1044.7 L1791.9 1044.5 L1795.9 1044.6 L1799.9 1044.9 L1803.9 1045.1 L1807.9 1044.9 L1811.9 1045.0 L1815.9 1045.4 Q1820.0 1045.0 1820.0 1053.0 L1820.0 1114.0 Q1820.0 1122.0 1815.9 1122.2 L1815.9 1122.2 L1811.9 1122.2 L1807.9 1122.2 L1803.9 1122.1 L1799.9 1122.3 L1795.9 1122.5 L1791.9 1122.2 L1787.9 1121.9 L1783.9 1121.9 L1779.9 1122.2 L1775.9 1121.9 L1771.9 1121.6 L1767.9 1121.6 L1763.9 1121.8 L1759.9 1121.7 L1755.9 1121.7 L1751.9 1121.8 L1747.9 1122.1 L1743.9 1122.2 L1739.9 1122.2 L1735.9 1122.0 L1731.9 1122.3 L1727.9 1122.3 L1723.9 1122.2 L1719.9 1121.9 L1715.9 1122.0 L1711.9 1122.0 L1707.9 1121.9 L1703.9 1121.7 L1699.9 1121.8 L1695.9 1122.0 L1691.9 1122.0 L1687.9 1121.9 L1683.9 1121.8 L1679.9 1121.9 L1675.9 1122.1 L1671.9 1121.9 L1667.9 1121.8 L1663.9 1122.1 L1659.9 1122.1 L1655.9 1122.0 L1651.9 1121.7 L1647.9 1121.8 L1643.9 1122.0 L1639.9 1122.2 L1635.9 1121.8 L1631.9 1121.9 L1627.9 1122.2 L1623.9 1122.4 L1619.9 1122.2 L1615.9 1122.0 L1611.9 1122.2 L1607.9 1122.2 L1603.9 1122.0 L1599.9 1121.6 L1595.9 1121.9 L1591.9 1122.0 L1587.9 1121.9 L1583.9 1121.7 L1579.9 1121.9 L1575.9 1121.9 L1571.9 1122.1 L1567.9 1121.8 L1563.9 1122.0 L1559.9 1122.1 L1555.9 1122.4 L1551.9 1122.0 L1547.9 1121.9 L1543.9 1122.0 L1539.9 1122.3 L1535.9 1122.0 L1531.9 1121.8 L1527.9 1121.9 L1523.9 1122.0 L1519.9 1121.9 L1515.9 1121.8 L1511.9 1121.8 L1507.9 1122.0 L1503.9 1122.1 L1499.9 1121.9 L1495.9 1121.7 L1491.9 1122.1 L1487.9 1122.1 L1483.9 1121.9 L1479.9 1121.6 L1473.9 1121.6 L1473.9 1045.1Z" fill="none" stroke="#ffffff" stroke-opacity="0.07" stroke-width="18" filter="url(#bl4)"/><path d="M1479.9 1045.1 L1483.9 1045.1 L1487.9 1045.2 L1491.9 1045.5 L1495.9 1045.2 L1499.9 1044.9 L1503.9 1044.7 L1507.9 1044.9 L1511.9 1045.1 L1515.9 1044.9 L1519.9 1045.2 L1523.9 1045.6 L1527.9 1045.2 L1531.9 1044.9 L1535.9 1044.6 L1539.9 1044.7 L1543.9 1044.8 L1547.9 1044.5 L1551.9 1044.8 L1555.9 1045.2 L1559.9 1045.5 L1563.9 1045.0 L1567.9 1045.1 L1571.9 1045.2 L1575.9 1045.0 L1579.9 1044.7 L1583.9 1044.8 L1587.9 1045.0 L1591.9 1045.2 L1595.9 1045.1 L1599.9 1044.9 L1603.9 1045.4 L1607.9 1045.2 L1611.9 1045.0 L1615.9 1044.9 L1619.9 1045.1 L1623.9 1045.2 L1627.9 1044.8 L1631.9 1044.9 L1635.9 1044.9 L1639.9 1045.1 L1643.9 1045.0 L1647.9 1044.8 L1651.9 1045.2 L1655.9 1045.3 L1659.9 1044.9 L1663.9 1044.7 L1667.9 1044.9 L1671.9 1045.2 L1675.9 1044.9 L1679.9 1044.9 L1683.9 1045.3 L1687.9 1045.6 L1691.9 1045.5 L1695.9 1045.2 L1699.9 1045.0 L1703.9 1044.9 L1707.9 1044.5 L1711.9 1044.5 L1715.9 1044.7 L1719.9 1044.9 L1723.9 1044.9 L1727.9 1045.0 L1731.9 1045.0 L1735.9 1045.1 L1739.9 1044.9 L1743.9 1044.7 L1747.9 1044.7 L1751.9 1045.1 L1755.9 1045.3 L1759.9 1045.2 L1763.9 1045.4 L1767.9 1045.6 L1771.9 1045.4 L1775.9 1044.8 L1779.9 1044.7 L1783.9 1044.9 L1787.9 1044.7 L1791.9 1044.5 L1795.9 1044.6 L1799.9 1044.9 L1803.9 1045.1 L1807.9 1044.9 L1811.9 1045.0 L1815.9 1045.4 Q1820.0 1045.0 1820.0 1053.0 L1820.0 1114.0 Q1820.0 1122.0 1815.9 1122.2 L1815.9 1122.2 L1811.9 1122.2 L1807.9 1122.2 L1803.9 1122.1 L1799.9 1122.3 L1795.9 1122.5 L1791.9 1122.2 L1787.9 1121.9 L1783.9 1121.9 L1779.9 1122.2 L1775.9 1121.9 L1771.9 1121.6 L1767.9 1121.6 L1763.9 1121.8 L1759.9 1121.7 L1755.9 1121.7 L1751.9 1121.8 L1747.9 1122.1 L1743.9 1122.2 L1739.9 1122.2 L1735.9 1122.0 L1731.9 1122.3 L1727.9 1122.3 L1723.9 1122.2 L1719.9 1121.9 L1715.9 1122.0 L1711.9 1122.0 L1707.9 1121.9 L1703.9 1121.7 L1699.9 1121.8 L1695.9 1122.0 L1691.9 1122.0 L1687.9 1121.9 L1683.9 1121.8 L1679.9 1121.9 L1675.9 1122.1 L1671.9 1121.9 L1667.9 1121.8 L1663.9 1122.1 L1659.9 1122.1 L1655.9 1122.0 L1651.9 1121.7 L1647.9 1121.8 L1643.9 1122.0 L1639.9 1122.2 L1635.9 1121.8 L1631.9 1121.9 L1627.9 1122.2 L1623.9 1122.4 L1619.9 1122.2 L1615.9 1122.0 L1611.9 1122.2 L1607.9 1122.2 L1603.9 1122.0 L1599.9 1121.6 L1595.9 1121.9 L1591.9 1122.0 L1587.9 1121.9 L1583.9 1121.7 L1579.9 1121.9 L1575.9 1121.9 L1571.9 1122.1 L1567.9 1121.8 L1563.9 1122.0 L1559.9 1122.1 L1555.9 1122.4 L1551.9 1122.0 L1547.9 1121.9 L1543.9 1122.0 L1539.9 1122.3 L1535.9 1122.0 L1531.9 1121.8 L1527.9 1121.9 L1523.9 1122.0 L1519.9 1121.9 L1515.9 1121.8 L1511.9 1121.8 L1507.9 1122.0 L1503.9 1122.1 L1499.9 1121.9 L1495.9 1121.7 L1491.9 1122.1 L1487.9 1122.1 L1483.9 1121.9 L1479.9 1121.6 L1473.9 1121.6 L1473.9 1045.1Z" fill="none" stroke="#ffffff" stroke-opacity="0.12" stroke-width="7" filter="url(#bl2)"/><rect x="1485.9" y="1036.0" width="328.1" height="9.0" fill="url(#hgt6)"/><rect x="1485.9" y="1122.0" width="328.1" height="9.0" fill="url(#hgb6)"/><g clip-path="url(#cst6)"><g filter="url(#mott6)"><rect x="1477.9" y="1040.0" width="406.2" height="87.0" fill="#4c4c4c"/><ellipse cx="1480" cy="1119" rx="3.6" ry="1.7" fill="#484848"/><ellipse cx="1594" cy="1072" rx="2.0" ry="1.4" fill="#555555"/><ellipse cx="1788" cy="1095" rx="4.2" ry="2.5" fill="#575757"/><ellipse cx="1744" cy="1086" rx="3.7" ry="2.9" fill="#595959"/><ellipse cx="1511" cy="1093" rx="2.4" ry="2.2" fill="#585858"/><ellipse cx="1645" cy="1067" rx="2.7" ry="2.6" fill="#484848"/><ellipse cx="1493" cy="1064" rx="2.5" ry="2.7" fill="#555555"/><ellipse cx="1580" cy="1107" rx="4.3" ry="2.0" fill="#424242"/><ellipse cx="1701" cy="1053" rx="2.0" ry="2.1" fill="#595959"/><ellipse cx="1511" cy="1107" rx="1.7" ry="1.3" fill="#474747"/><ellipse cx="1754" cy="1084" rx="3.6" ry="2.3" fill="#474747"/><ellipse cx="1549" cy="1101" rx="3.7" ry="2.3" fill="#555555"/><ellipse cx="1617" cy="1076" rx="3.1" ry="2.5" fill="#464646"/><ellipse cx="1739" cy="1075" rx="2.1" ry="2.7" fill="#5a5a5a"/><ellipse cx="1517" cy="1097" rx="4.4" ry="2.9" fill="#424242"/><ellipse cx="1813" cy="1109" rx="1.8" ry="1.9" fill="#474747"/><ellipse cx="1610" cy="1108" rx="4.1" ry="2.5" fill="#464646"/><ellipse cx="1773" cy="1103" rx="4.1" ry="2.3" fill="#595959"/><ellipse cx="1507" cy="1068" rx="1.9" ry="2.4" fill="#5b5b5b"/><ellipse cx="1589" cy="1073" rx="2.2" ry="3.0" fill="#555555"/><ellipse cx="1726" cy="1059" rx="4.5" ry="2.1" fill="#444444"/><ellipse cx="1714" cy="1089" rx="3.7" ry="1.7" fill="#444444"/><ellipse cx="1548" cy="1104" rx="4.3" ry="1.5" fill="#545454"/><ellipse cx="1615" cy="1107" rx="2.0" ry="2.6" fill="#444444"/><ellipse cx="1653" cy="1110" rx="3.4" ry="2.5" fill="#444444"/><ellipse cx="1654" cy="1102" rx="2.6" ry="1.4" fill="#595959"/><ellipse cx="1536" cy="1095" rx="2.3" ry="2.6" fill="#595959"/><ellipse cx="1749" cy="1072" rx="4.0" ry="2.9" fill="#444444"/><ellipse cx="1756" cy="1078" rx="2.1" ry="2.7" fill="#434343"/><ellipse cx="1502" cy="1055" rx="4.0" ry="1.5" fill="#454545"/><ellipse cx="1705" cy="1092" rx="2.4" ry="2.2" fill="#444444"/><ellipse cx="1642" cy="1118" rx="1.9" ry="1.9" fill="#464646"/><ellipse cx="1564" cy="1075" rx="3.7" ry="1.7" fill="#575757"/><ellipse cx="1635" cy="1076" rx="3.3" ry="2.5" fill="#464646"/><ellipse cx="1538" cy="1074" rx="3.6" ry="2.5" fill="#5b5b5b"/><ellipse cx="1537" cy="1066" rx="1.8" ry="2.3" fill="#5b5b5b"/><ellipse cx="1685" cy="1084" rx="3.8" ry="2.8" fill="#5b5b5b"/><ellipse cx="1492" cy="1048" rx="2.9" ry="2.0" fill="#565656"/><ellipse cx="1675" cy="1099" rx="3.9" ry="1.3" fill="#424242"/><ellipse cx="1495" cy="1067" rx="2.6" ry="1.3" fill="#424242"/><ellipse cx="1572" cy="1050" rx="3.9" ry="2.6" fill="#565656"/><ellipse cx="1745" cy="1073" rx="4.2" ry="1.8" fill="#5a5a5a"/><ellipse cx="1732" cy="1085" rx="2.2" ry="2.2" fill="#585858"/><ellipse cx="1561" cy="1093" rx="1.6" ry="2.2" fill="#565656"/><ellipse cx="1522" cy="1057" rx="1.8" ry="2.4" fill="#444444"/><ellipse cx="1613" cy="1051" rx="3.0" ry="2.8" fill="#444444"/><ellipse cx="1728" cy="1087" rx="2.9" ry="2.7" fill="#5a5a5a"/><ellipse cx="1542" cy="1096" rx="2.9" ry="2.5" fill="#484848"/><ellipse cx="1657" cy="1110" rx="3.7" ry="1.4" fill="#5a5a5a"/><ellipse cx="1799" cy="1080" rx="2.8" ry="2.7" fill="#424242"/><ellipse cx="1480" cy="1083" rx="4.1" ry="2.4" fill="#555555"/><ellipse cx="1520" cy="1094" rx="3.1" ry="3.0" fill="#424242"/><ellipse cx="1712" cy="1083" rx="3.0" ry="1.6" fill="#555555"/><ellipse cx="1764" cy="1083" rx="2.0" ry="1.8" fill="#585858"/><ellipse cx="1546" cy="1064" rx="2.3" ry="2.0" fill="#484848"/><ellipse cx="1677" cy="1082" rx="1.8" ry="1.3" fill="#474747"/><ellipse cx="1616" cy="1082" rx="3.8" ry="2.8" fill="#5a5a5a"/><ellipse cx="1799" cy="1100" rx="3.0" ry="2.6" fill="#434343"/><ellipse cx="1557" cy="1119" rx="4.3" ry="1.9" fill="#484848"/><ellipse cx="1816" cy="1064" rx="2.7" ry="2.9" fill="#555555"/><g filter="url(#bl18)"><polygon points="1566.1,1064.0 1577.4,1061.4 1588.7,1072.7 1602.6,1092.7 1595.7,1101.4 1580.9,1085.7" fill="#969696"/><polygon points="1540.0,1092.7 1557.4,1084.9 1576.5,1077.0 1585.2,1069.2 1592.2,1073.6 1579.1,1085.7 1561.7,1093.6 1543.5,1100.5" fill="#969696"/><polygon points="1571.3,1120.5 1585.2,1104.0 1600.9,1120.5" fill="#969696"/><polygon points="1602.6,1070.1 1613.9,1057.0 1627.0,1058.8 1631.3,1066.6 1618.3,1072.7 1607.8,1081.4" fill="#969696"/><polygon points="1606.1,1087.5 1618.3,1082.3 1627.0,1089.2 1623.5,1100.5 1635.7,1106.6 1627.0,1111.8 1611.3,1104.9" fill="#969696"/><polygon points="1631.3,1070.1 1644.3,1061.4 1653.0,1066.6 1655.7,1085.7 1651.3,1096.2 1642.6,1101.4 1635.7,1092.7 1644.3,1085.7 1640.0,1077.0" fill="#969696"/><polygon points="1655.7,1099.7 1675.7,1072.7 1687.8,1065.7 1693.0,1070.1 1679.1,1080.5 1663.5,1104.9" fill="#969696"/><polygon points="1665.2,1066.6 1672.2,1064.9 1680.9,1092.7 1673.9,1096.2" fill="#969696"/><polygon points="1686.1,1081.4 1694.8,1078.8 1710.4,1097.9 1703.5,1103.1" fill="#969696"/><polygon points="1646.1,1120.5 1658.3,1101.4 1670.4,1120.5" fill="#969696"/><polygon points="1687.8,1120.5 1693.0,1110.1 1700.9,1120.5" fill="#969696"/><polygon points="1540.0,1059.7 1553.0,1051.8 1556.5,1057.0 1543.5,1066.6" fill="#969696"/><polygon points="1588.7,1056.2 1600.9,1054.4 1602.6,1059.7 1590.4,1061.4" fill="#969696"/><ellipse cx="1508.5" cy="1064.9" rx="9.0" ry="3.0" transform="rotate(-15 1508.5 1064.9)" fill="#969696"/><ellipse cx="1528.4" cy="1083.1" rx="10.0" ry="2.0" transform="rotate(-20 1528.4 1083.1)" fill="#969696"/><ellipse cx="1503.6" cy="1078.1" rx="5.0" ry="1.7" fill="#969696"/><ellipse cx="1520.0" cy="1106.3" rx="5.0" ry="1.7" fill="#969696"/><ellipse cx="1812.6" cy="1078.1" rx="3.3" ry="13.0" fill="#969696"/><ellipse cx="1724.0" cy="1086.4" rx="10.0" ry="2.0" fill="#969696"/><ellipse cx="1752.0" cy="1083.0" rx="8.3" ry="1.7" fill="#969696"/><ellipse cx="1788.6" cy="1096.3" rx="8.3" ry="1.7" transform="rotate(-20 1788.6 1096.3)" fill="#969696"/><ellipse cx="1768.7" cy="1078.1" rx="2.5" ry="2.5" fill="#969696"/><ellipse cx="1735.5" cy="1101.3" rx="5.0" ry="1.3" fill="#969696"/><ellipse cx="1600.9" cy="1080.5" rx="5.0" ry="5.0" fill="#424242"/><ellipse cx="1622.6" cy="1072.7" rx="4.5" ry="4.0" fill="#424242"/><ellipse cx="1651.3" cy="1085.7" rx="4.0" ry="4.0" fill="#424242"/></g><path d="M1479.9 1045.1 L1483.9 1045.1 L1487.9 1045.2 L1491.9 1045.5 L1495.9 1045.2 L1499.9 1044.9 L1503.9 1044.7 L1507.9 1044.9 L1511.9 1045.1 L1515.9 1044.9 L1519.9 1045.2 L1523.9 1045.6 L1527.9 1045.2 L1531.9 1044.9 L1535.9 1044.6 L1539.9 1044.7 L1543.9 1044.8 L1547.9 1044.5 L1551.9 1044.8 L1555.9 1045.2 L1559.9 1045.5 L1563.9 1045.0 L1567.9 1045.1 L1571.9 1045.2 L1575.9 1045.0 L1579.9 1044.7 L1583.9 1044.8 L1587.9 1045.0 L1591.9 1045.2 L1595.9 1045.1 L1599.9 1044.9 L1603.9 1045.4 L1607.9 1045.2 L1611.9 1045.0 L1615.9 1044.9 L1619.9 1045.1 L1623.9 1045.2 L1627.9 1044.8 L1631.9 1044.9 L1635.9 1044.9 L1639.9 1045.1 L1643.9 1045.0 L1647.9 1044.8 L1651.9 1045.2 L1655.9 1045.3 L1659.9 1044.9 L1663.9 1044.7 L1667.9 1044.9 L1671.9 1045.2 L1675.9 1044.9 L1679.9 1044.9 L1683.9 1045.3 L1687.9 1045.6 L1691.9 1045.5 L1695.9 1045.2 L1699.9 1045.0 L1703.9 1044.9 L1707.9 1044.5 L1711.9 1044.5 L1715.9 1044.7 L1719.9 1044.9 L1723.9 1044.9 L1727.9 1045.0 L1731.9 1045.0 L1735.9 1045.1 L1739.9 1044.9 L1743.9 1044.7 L1747.9 1044.7 L1751.9 1045.1 L1755.9 1045.3 L1759.9 1045.2 L1763.9 1045.4 L1767.9 1045.6 L1771.9 1045.4 L1775.9 1044.8 L1779.9 1044.7 L1783.9 1044.9 L1787.9 1044.7 L1791.9 1044.5 L1795.9 1044.6 L1799.9 1044.9 L1803.9 1045.1 L1807.9 1044.9 L1811.9 1045.0 L1815.9 1045.4 Q1820.0 1045.0 1820.0 1053.0 L1820.0 1114.0 Q1820.0 1122.0 1815.9 1122.2 L1815.9 1122.2 L1811.9 1122.2 L1807.9 1122.2 L1803.9 1122.1 L1799.9 1122.3 L1795.9 1122.5 L1791.9 1122.2 L1787.9 1121.9 L1783.9 1121.9 L1779.9 1122.2 L1775.9 1121.9 L1771.9 1121.6 L1767.9 1121.6 L1763.9 1121.8 L1759.9 1121.7 L1755.9 1121.7 L1751.9 1121.8 L1747.9 1122.1 L1743.9 1122.2 L1739.9 1122.2 L1735.9 1122.0 L1731.9 1122.3 L1727.9 1122.3 L1723.9 1122.2 L1719.9 1121.9 L1715.9 1122.0 L1711.9 1122.0 L1707.9 1121.9 L1703.9 1121.7 L1699.9 1121.8 L1695.9 1122.0 L1691.9 1122.0 L1687.9 1121.9 L1683.9 1121.8 L1679.9 1121.9 L1675.9 1122.1 L1671.9 1121.9 L1667.9 1121.8 L1663.9 1122.1 L1659.9 1122.1 L1655.9 1122.0 L1651.9 1121.7 L1647.9 1121.8 L1643.9 1122.0 L1639.9 1122.2 L1635.9 1121.8 L1631.9 1121.9 L1627.9 1122.2 L1623.9 1122.4 L1619.9 1122.2 L1615.9 1122.0 L1611.9 1122.2 L1607.9 1122.2 L1603.9 1122.0 L1599.9 1121.6 L1595.9 1121.9 L1591.9 1122.0 L1587.9 1121.9 L1583.9 1121.7 L1579.9 1121.9 L1575.9 1121.9 L1571.9 1122.1 L1567.9 1121.8 L1563.9 1122.0 L1559.9 1122.1 L1555.9 1122.4 L1551.9 1122.0 L1547.9 1121.9 L1543.9 1122.0 L1539.9 1122.3 L1535.9 1122.0 L1531.9 1121.8 L1527.9 1121.9 L1523.9 1122.0 L1519.9 1121.9 L1515.9 1121.8 L1511.9 1121.8 L1507.9 1122.0 L1503.9 1122.1 L1499.9 1121.9 L1495.9 1121.7 L1491.9 1122.1 L1487.9 1122.1 L1483.9 1121.9 L1479.9 1121.6 L1473.9 1121.6 L1473.9 1045.1Z" fill="none" stroke="#2e2e2e" stroke-width="10" stroke-opacity="0.7"/></g></g><path d="M1479.9 1045.1 L1483.9 1045.1 L1487.9 1045.2 L1491.9 1045.5 L1495.9 1045.2 L1499.9 1044.9 L1503.9 1044.7 L1507.9 1044.9 L1511.9 1045.1 L1515.9 1044.9 L1519.9 1045.2 L1523.9 1045.6 L1527.9 1045.2 L1531.9 1044.9 L1535.9 1044.6 L1539.9 1044.7 L1543.9 1044.8 L1547.9 1044.5 L1551.9 1044.8 L1555.9 1045.2 L1559.9 1045.5 L1563.9 1045.0 L1567.9 1045.1 L1571.9 1045.2 L1575.9 1045.0 L1579.9 1044.7 L1583.9 1044.8 L1587.9 1045.0 L1591.9 1045.2 L1595.9 1045.1 L1599.9 1044.9 L1603.9 1045.4 L1607.9 1045.2 L1611.9 1045.0 L1615.9 1044.9 L1619.9 1045.1 L1623.9 1045.2 L1627.9 1044.8 L1631.9 1044.9 L1635.9 1044.9 L1639.9 1045.1 L1643.9 1045.0 L1647.9 1044.8 L1651.9 1045.2 L1655.9 1045.3 L1659.9 1044.9 L1663.9 1044.7 L1667.9 1044.9 L1671.9 1045.2 L1675.9 1044.9 L1679.9 1044.9 L1683.9 1045.3 L1687.9 1045.6 L1691.9 1045.5 L1695.9 1045.2 L1699.9 1045.0 L1703.9 1044.9 L1707.9 1044.5 L1711.9 1044.5 L1715.9 1044.7 L1719.9 1044.9 L1723.9 1044.9 L1727.9 1045.0 L1731.9 1045.0 L1735.9 1045.1 L1739.9 1044.9 L1743.9 1044.7 L1747.9 1044.7 L1751.9 1045.1 L1755.9 1045.3 L1759.9 1045.2 L1763.9 1045.4 L1767.9 1045.6 L1771.9 1045.4 L1775.9 1044.8 L1779.9 1044.7 L1783.9 1044.9 L1787.9 1044.7 L1791.9 1044.5 L1795.9 1044.6 L1799.9 1044.9 L1803.9 1045.1 L1807.9 1044.9 L1811.9 1045.0 L1815.9 1045.4 Q1820.0 1045.0 1820.0 1053.0 L1820.0 1114.0 Q1820.0 1122.0 1815.9 1122.2 L1815.9 1122.2 L1811.9 1122.2 L1807.9 1122.2 L1803.9 1122.1 L1799.9 1122.3 L1795.9 1122.5 L1791.9 1122.2 L1787.9 1121.9 L1783.9 1121.9 L1779.9 1122.2 L1775.9 1121.9 L1771.9 1121.6 L1767.9 1121.6 L1763.9 1121.8 L1759.9 1121.7 L1755.9 1121.7 L1751.9 1121.8 L1747.9 1122.1 L1743.9 1122.2 L1739.9 1122.2 L1735.9 1122.0 L1731.9 1122.3 L1727.9 1122.3 L1723.9 1122.2 L1719.9 1121.9 L1715.9 1122.0 L1711.9 1122.0 L1707.9 1121.9 L1703.9 1121.7 L1699.9 1121.8 L1695.9 1122.0 L1691.9 1122.0 L1687.9 1121.9 L1683.9 1121.8 L1679.9 1121.9 L1675.9 1122.1 L1671.9 1121.9 L1667.9 1121.8 L1663.9 1122.1 L1659.9 1122.1 L1655.9 1122.0 L1651.9 1121.7 L1647.9 1121.8 L1643.9 1122.0 L1639.9 1122.2 L1635.9 1121.8 L1631.9 1121.9 L1627.9 1122.2 L1623.9 1122.4 L1619.9 1122.2 L1615.9 1122.0 L1611.9 1122.2 L1607.9 1122.2 L1603.9 1122.0 L1599.9 1121.6 L1595.9 1121.9 L1591.9 1122.0 L1587.9 1121.9 L1583.9 1121.7 L1579.9 1121.9 L1575.9 1121.9 L1571.9 1122.1 L1567.9 1121.8 L1563.9 1122.0 L1559.9 1122.1 L1555.9 1122.4 L1551.9 1122.0 L1547.9 1121.9 L1543.9 1122.0 L1539.9 1122.3 L1535.9 1122.0 L1531.9 1121.8 L1527.9 1121.9 L1523.9 1122.0 L1519.9 1121.9 L1515.9 1121.8 L1511.9 1121.8 L1507.9 1122.0 L1503.9 1122.1 L1499.9 1121.9 L1495.9 1121.7 L1491.9 1122.1 L1487.9 1122.1 L1483.9 1121.9 L1479.9 1121.6 L1473.9 1121.6 L1473.9 1045.1Z" fill="none" stroke="#d8d8d8" stroke-width="2.4" filter="url(#bl07)"/></g></g>
<g clip-path="url(#cps7)"><g filter="url(#grain)"><rect x="1485.3" y="1139.6" width="390.2" height="132.9" fill="url(#sbg7)"/><path d="M1479.3 1172.3 L1483.3 1172.2 L1487.3 1172.3 L1491.3 1172.3 L1495.3 1172.1 L1499.3 1171.7 L1503.3 1171.6 L1507.3 1171.6 L1511.3 1171.5 L1515.3 1171.7 L1519.3 1171.7 L1523.3 1172.0 L1527.3 1172.2 L1531.3 1172.2 L1535.3 1172.1 L1539.3 1172.2 L1543.3 1172.2 L1547.3 1172.1 L1551.3 1172.1 L1555.3 1172.2 L1559.3 1172.3 L1563.3 1172.3 L1567.3 1172.1 L1571.3 1172.1 L1575.3 1171.7 L1579.3 1171.6 L1583.3 1171.6 L1587.3 1171.6 L1591.3 1171.8 L1595.3 1172.0 L1599.3 1172.0 L1603.3 1172.0 L1607.3 1172.1 L1611.3 1172.1 L1615.3 1171.9 L1619.3 1172.1 L1623.3 1172.0 L1627.3 1172.2 L1631.3 1172.4 L1635.3 1172.4 L1639.3 1172.4 L1643.3 1172.2 L1647.3 1172.1 L1651.3 1171.8 L1655.3 1171.6 L1659.3 1171.4 L1663.3 1171.5 L1667.3 1171.6 L1671.3 1171.9 L1675.3 1172.0 L1679.3 1172.2 L1683.3 1172.3 L1687.3 1172.3 L1691.3 1172.2 L1695.3 1172.0 L1699.3 1171.9 L1703.3 1172.1 L1707.3 1172.1 L1711.3 1172.1 L1715.3 1172.4 L1719.3 1172.4 L1723.3 1172.2 L1727.3 1172.0 L1731.3 1171.8 L1735.3 1171.7 L1739.3 1171.5 L1743.3 1171.5 L1747.3 1171.7 L1751.3 1171.8 L1755.3 1172.0 L1759.3 1172.2 L1763.3 1172.3 L1767.3 1172.3 L1771.3 1172.2 L1775.3 1172.3 L1779.3 1172.0 L1783.3 1172.1 L1787.3 1172.0 L1791.3 1172.0 L1795.3 1172.2 L1799.3 1172.1 L1803.3 1171.9 L1807.3 1171.9 L1811.3 1171.7 L1815.3 1171.8 L1819.3 1171.6 L1823.3 1171.8 L1827.3 1172.0 L1831.3 1172.0 L1835.3 1172.1 L1839.3 1172.3 L1843.3 1172.3 L1847.3 1172.2 L1851.3 1172.0 L1855.3 1172.1 L1859.3 1172.0 L1863.3 1172.2 L1867.3 1172.3 L1871.3 1172.2 L1875.3 1172.1 L1879.3 1172.0 L1883.3 1171.7 L1887.5 1171.7 L1887.5 1249.3 L1883.3 1249.3 L1879.3 1249.1 L1875.3 1249.0 L1871.3 1249.1 L1867.3 1249.4 L1863.3 1249.3 L1859.3 1249.2 L1855.3 1249.1 L1851.3 1249.2 L1847.3 1248.8 L1843.3 1248.4 L1839.3 1248.5 L1835.3 1248.8 L1831.3 1249.0 L1827.3 1249.0 L1823.3 1249.0 L1819.3 1249.2 L1815.3 1249.4 L1811.3 1249.4 L1807.3 1249.3 L1803.3 1249.2 L1799.3 1249.3 L1795.3 1249.0 L1791.3 1248.6 L1787.3 1248.9 L1783.3 1249.4 L1779.3 1249.1 L1775.3 1248.9 L1771.3 1249.0 L1767.3 1249.0 L1763.3 1248.9 L1759.3 1248.9 L1755.3 1248.9 L1751.3 1248.9 L1747.3 1248.8 L1743.3 1248.6 L1739.3 1248.6 L1735.3 1249.1 L1731.3 1249.2 L1727.3 1249.1 L1723.3 1249.1 L1719.3 1249.2 L1715.3 1249.3 L1711.3 1249.0 L1707.3 1249.0 L1703.3 1249.1 L1699.3 1249.2 L1695.3 1248.8 L1691.3 1248.6 L1687.3 1248.8 L1683.3 1249.0 L1679.3 1249.1 L1675.3 1248.8 L1671.3 1249.0 L1667.3 1248.9 L1663.3 1249.0 L1659.3 1248.8 L1655.3 1249.0 L1651.3 1249.4 L1647.3 1249.3 L1643.3 1248.9 L1639.3 1248.9 L1635.3 1249.2 L1631.3 1249.3 L1627.3 1249.1 L1623.3 1249.1 L1619.3 1249.1 L1615.3 1249.1 L1611.3 1248.9 L1607.3 1248.9 L1603.3 1249.2 L1599.3 1248.9 L1595.3 1248.7 L1591.3 1248.6 L1587.3 1248.9 L1583.3 1249.0 L1579.3 1249.0 L1575.3 1248.9 L1571.3 1249.3 L1567.3 1249.2 L1563.3 1249.2 L1559.3 1249.1 L1555.3 1249.3 L1551.3 1249.2 L1547.3 1249.1 L1543.3 1248.6 L1539.3 1248.8 L1535.3 1249.0 L1531.3 1249.1 L1527.3 1249.0 L1523.3 1249.0 L1519.3 1249.1 L1515.3 1249.0 L1511.3 1248.8 L1507.3 1248.9 L1503.3 1249.0 L1499.3 1248.9 L1495.3 1248.7 L1491.3 1248.7 L1487.3 1248.9 L1483.3 1249.4 L1479.3 1249.3 L1473.3 1249.3 L1473.3 1172.3Z" fill="none" stroke="#ffffff" stroke-opacity="0.08" stroke-width="18" filter="url(#bl4)"/><path d="M1479.3 1172.3 L1483.3 1172.2 L1487.3 1172.3 L1491.3 1172.3 L1495.3 1172.1 L1499.3 1171.7 L1503.3 1171.6 L1507.3 1171.6 L1511.3 1171.5 L1515.3 1171.7 L1519.3 1171.7 L1523.3 1172.0 L1527.3 1172.2 L1531.3 1172.2 L1535.3 1172.1 L1539.3 1172.2 L1543.3 1172.2 L1547.3 1172.1 L1551.3 1172.1 L1555.3 1172.2 L1559.3 1172.3 L1563.3 1172.3 L1567.3 1172.1 L1571.3 1172.1 L1575.3 1171.7 L1579.3 1171.6 L1583.3 1171.6 L1587.3 1171.6 L1591.3 1171.8 L1595.3 1172.0 L1599.3 1172.0 L1603.3 1172.0 L1607.3 1172.1 L1611.3 1172.1 L1615.3 1171.9 L1619.3 1172.1 L1623.3 1172.0 L1627.3 1172.2 L1631.3 1172.4 L1635.3 1172.4 L1639.3 1172.4 L1643.3 1172.2 L1647.3 1172.1 L1651.3 1171.8 L1655.3 1171.6 L1659.3 1171.4 L1663.3 1171.5 L1667.3 1171.6 L1671.3 1171.9 L1675.3 1172.0 L1679.3 1172.2 L1683.3 1172.3 L1687.3 1172.3 L1691.3 1172.2 L1695.3 1172.0 L1699.3 1171.9 L1703.3 1172.1 L1707.3 1172.1 L1711.3 1172.1 L1715.3 1172.4 L1719.3 1172.4 L1723.3 1172.2 L1727.3 1172.0 L1731.3 1171.8 L1735.3 1171.7 L1739.3 1171.5 L1743.3 1171.5 L1747.3 1171.7 L1751.3 1171.8 L1755.3 1172.0 L1759.3 1172.2 L1763.3 1172.3 L1767.3 1172.3 L1771.3 1172.2 L1775.3 1172.3 L1779.3 1172.0 L1783.3 1172.1 L1787.3 1172.0 L1791.3 1172.0 L1795.3 1172.2 L1799.3 1172.1 L1803.3 1171.9 L1807.3 1171.9 L1811.3 1171.7 L1815.3 1171.8 L1819.3 1171.6 L1823.3 1171.8 L1827.3 1172.0 L1831.3 1172.0 L1835.3 1172.1 L1839.3 1172.3 L1843.3 1172.3 L1847.3 1172.2 L1851.3 1172.0 L1855.3 1172.1 L1859.3 1172.0 L1863.3 1172.2 L1867.3 1172.3 L1871.3 1172.2 L1875.3 1172.1 L1879.3 1172.0 L1883.3 1171.7 L1887.5 1171.7 L1887.5 1249.3 L1883.3 1249.3 L1879.3 1249.1 L1875.3 1249.0 L1871.3 1249.1 L1867.3 1249.4 L1863.3 1249.3 L1859.3 1249.2 L1855.3 1249.1 L1851.3 1249.2 L1847.3 1248.8 L1843.3 1248.4 L1839.3 1248.5 L1835.3 1248.8 L1831.3 1249.0 L1827.3 1249.0 L1823.3 1249.0 L1819.3 1249.2 L1815.3 1249.4 L1811.3 1249.4 L1807.3 1249.3 L1803.3 1249.2 L1799.3 1249.3 L1795.3 1249.0 L1791.3 1248.6 L1787.3 1248.9 L1783.3 1249.4 L1779.3 1249.1 L1775.3 1248.9 L1771.3 1249.0 L1767.3 1249.0 L1763.3 1248.9 L1759.3 1248.9 L1755.3 1248.9 L1751.3 1248.9 L1747.3 1248.8 L1743.3 1248.6 L1739.3 1248.6 L1735.3 1249.1 L1731.3 1249.2 L1727.3 1249.1 L1723.3 1249.1 L1719.3 1249.2 L1715.3 1249.3 L1711.3 1249.0 L1707.3 1249.0 L1703.3 1249.1 L1699.3 1249.2 L1695.3 1248.8 L1691.3 1248.6 L1687.3 1248.8 L1683.3 1249.0 L1679.3 1249.1 L1675.3 1248.8 L1671.3 1249.0 L1667.3 1248.9 L1663.3 1249.0 L1659.3 1248.8 L1655.3 1249.0 L1651.3 1249.4 L1647.3 1249.3 L1643.3 1248.9 L1639.3 1248.9 L1635.3 1249.2 L1631.3 1249.3 L1627.3 1249.1 L1623.3 1249.1 L1619.3 1249.1 L1615.3 1249.1 L1611.3 1248.9 L1607.3 1248.9 L1603.3 1249.2 L1599.3 1248.9 L1595.3 1248.7 L1591.3 1248.6 L1587.3 1248.9 L1583.3 1249.0 L1579.3 1249.0 L1575.3 1248.9 L1571.3 1249.3 L1567.3 1249.2 L1563.3 1249.2 L1559.3 1249.1 L1555.3 1249.3 L1551.3 1249.2 L1547.3 1249.1 L1543.3 1248.6 L1539.3 1248.8 L1535.3 1249.0 L1531.3 1249.1 L1527.3 1249.0 L1523.3 1249.0 L1519.3 1249.1 L1515.3 1249.0 L1511.3 1248.8 L1507.3 1248.9 L1503.3 1249.0 L1499.3 1248.9 L1495.3 1248.7 L1491.3 1248.7 L1487.3 1248.9 L1483.3 1249.4 L1479.3 1249.3 L1473.3 1249.3 L1473.3 1172.3Z" fill="none" stroke="#ffffff" stroke-opacity="0.14" stroke-width="7" filter="url(#bl2)"/><rect x="1485.3" y="1158.0" width="390.2" height="14.0" fill="url(#hgt7)"/><rect x="1485.3" y="1249.0" width="390.2" height="12.0" fill="url(#hgb7)"/><g clip-path="url(#cst7)"><g filter="url(#mott7)"><rect x="1477.3" y="1167.0" width="406.2" height="87.0" fill="#5a5a5a"/><ellipse cx="1761" cy="1179" rx="2.9" ry="2.5" fill="#6d6d6d"/><ellipse cx="1548" cy="1209" rx="2.2" ry="1.3" fill="#747474"/><ellipse cx="1646" cy="1243" rx="3.3" ry="2.2" fill="#6a6a6a"/><ellipse cx="1573" cy="1211" rx="4.1" ry="2.3" fill="#737373"/><ellipse cx="1810" cy="1231" rx="4.4" ry="2.9" fill="#6c6c6c"/><ellipse cx="1775" cy="1191" rx="3.9" ry="1.6" fill="#747474"/><ellipse cx="1844" cy="1198" rx="4.3" ry="1.6" fill="#727272"/><ellipse cx="1628" cy="1238" rx="2.2" ry="2.5" fill="#6a6a6a"/><ellipse cx="1570" cy="1187" rx="3.0" ry="2.2" fill="#535353"/><ellipse cx="1492" cy="1242" rx="2.0" ry="2.2" fill="#6b6b6b"/><ellipse cx="1656" cy="1219" rx="3.2" ry="2.3" fill="#717171"/><ellipse cx="1620" cy="1183" rx="3.6" ry="1.8" fill="#787878"/><ellipse cx="1610" cy="1239" rx="1.6" ry="1.4" fill="#6b6b6b"/><ellipse cx="1631" cy="1211" rx="1.6" ry="2.9" fill="#555555"/><ellipse cx="1614" cy="1225" rx="4.0" ry="2.2" fill="#535353"/><ellipse cx="1832" cy="1215" rx="2.7" ry="2.0" fill="#757575"/><ellipse cx="1504" cy="1180" rx="3.0" ry="1.4" fill="#515151"/><ellipse cx="1750" cy="1179" rx="1.6" ry="3.0" fill="#767676"/><ellipse cx="1608" cy="1180" rx="2.3" ry="1.9" fill="#727272"/><ellipse cx="1833" cy="1241" rx="4.2" ry="1.6" fill="#555555"/><ellipse cx="1633" cy="1216" rx="2.9" ry="1.6" fill="#545454"/><ellipse cx="1574" cy="1199" rx="4.0" ry="2.0" fill="#696969"/><ellipse cx="1528" cy="1238" rx="4.1" ry="2.8" fill="#505050"/><ellipse cx="1844" cy="1204" rx="4.0" ry="2.4" fill="#535353"/><ellipse cx="1748" cy="1191" rx="4.1" ry="2.6" fill="#535353"/><ellipse cx="1559" cy="1202" rx="2.0" ry="2.3" fill="#747474"/><ellipse cx="1820" cy="1230" rx="3.1" ry="2.4" fill="#525252"/><ellipse cx="1534" cy="1219" rx="3.1" ry="2.4" fill="#737373"/><ellipse cx="1732" cy="1204" rx="3.0" ry="1.7" fill="#767676"/><ellipse cx="1725" cy="1217" rx="2.3" ry="1.7" fill="#525252"/><ellipse cx="1853" cy="1187" rx="3.5" ry="2.4" fill="#525252"/><ellipse cx="1515" cy="1244" rx="4.1" ry="1.7" fill="#757575"/><ellipse cx="1589" cy="1238" rx="4.4" ry="1.6" fill="#545454"/><ellipse cx="1774" cy="1178" rx="3.2" ry="2.9" fill="#787878"/><ellipse cx="1663" cy="1230" rx="3.8" ry="1.4" fill="#555555"/><ellipse cx="1795" cy="1234" rx="4.4" ry="2.7" fill="#565656"/><ellipse cx="1704" cy="1234" rx="3.6" ry="2.8" fill="#727272"/><ellipse cx="1843" cy="1200" rx="3.9" ry="1.3" fill="#525252"/><ellipse cx="1733" cy="1219" rx="3.6" ry="2.6" fill="#767676"/><ellipse cx="1870" cy="1190" rx="2.4" ry="2.4" fill="#515151"/><ellipse cx="1828" cy="1232" rx="3.8" ry="2.5" fill="#555555"/><ellipse cx="1661" cy="1185" rx="2.7" ry="1.6" fill="#717171"/><ellipse cx="1654" cy="1225" rx="2.9" ry="2.9" fill="#777777"/><ellipse cx="1645" cy="1197" rx="3.9" ry="1.4" fill="#6a6a6a"/><ellipse cx="1737" cy="1195" rx="2.5" ry="2.0" fill="#535353"/><ellipse cx="1617" cy="1209" rx="3.8" ry="3.0" fill="#707070"/><ellipse cx="1491" cy="1238" rx="2.2" ry="1.2" fill="#525252"/><ellipse cx="1662" cy="1217" rx="3.1" ry="1.4" fill="#6a6a6a"/><ellipse cx="1550" cy="1179" rx="3.9" ry="1.3" fill="#747474"/><ellipse cx="1654" cy="1197" rx="1.6" ry="2.8" fill="#6f6f6f"/><ellipse cx="1611" cy="1220" rx="3.7" ry="2.5" fill="#767676"/><ellipse cx="1546" cy="1225" rx="2.0" ry="1.8" fill="#757575"/><ellipse cx="1703" cy="1207" rx="4.1" ry="2.9" fill="#515151"/><ellipse cx="1573" cy="1202" rx="3.0" ry="2.4" fill="#6c6c6c"/><ellipse cx="1722" cy="1241" rx="3.0" ry="2.5" fill="#525252"/><ellipse cx="1690" cy="1185" rx="2.1" ry="2.3" fill="#747474"/><ellipse cx="1594" cy="1196" rx="2.6" ry="2.0" fill="#6e6e6e"/><ellipse cx="1769" cy="1199" rx="2.2" ry="2.0" fill="#747474"/><ellipse cx="1750" cy="1239" rx="3.5" ry="1.2" fill="#737373"/><ellipse cx="1745" cy="1191" rx="2.0" ry="1.9" fill="#6f6f6f"/><ellipse cx="1721" cy="1210" rx="3.6" ry="1.8" fill="#525252"/><ellipse cx="1519" cy="1180" rx="2.6" ry="1.9" fill="#565656"/><ellipse cx="1489" cy="1232" rx="3.4" ry="2.5" fill="#515151"/><ellipse cx="1866" cy="1217" rx="2.8" ry="2.5" fill="#777777"/><ellipse cx="1746" cy="1197" rx="2.7" ry="1.8" fill="#535353"/><ellipse cx="1533" cy="1198" rx="2.7" ry="2.4" fill="#6e6e6e"/><ellipse cx="1521" cy="1222" rx="3.5" ry="2.2" fill="#515151"/><ellipse cx="1570" cy="1243" rx="3.0" ry="2.0" fill="#6e6e6e"/><ellipse cx="1781" cy="1208" rx="1.6" ry="2.1" fill="#6b6b6b"/><ellipse cx="1719" cy="1224" rx="3.4" ry="1.3" fill="#6d6d6d"/><ellipse cx="1834" cy="1224" rx="4.3" ry="1.4" fill="#6e6e6e"/><ellipse cx="1581" cy="1181" rx="2.2" ry="2.7" fill="#515151"/><ellipse cx="1711" cy="1239" rx="1.8" ry="2.4" fill="#6a6a6a"/><ellipse cx="1766" cy="1196" rx="2.5" ry="1.4" fill="#505050"/><ellipse cx="1820" cy="1225" rx="4.3" ry="2.5" fill="#717171"/><ellipse cx="1857" cy="1190" rx="3.1" ry="1.5" fill="#545454"/><ellipse cx="1876" cy="1238" rx="2.2" ry="1.4" fill="#6e6e6e"/><ellipse cx="1866" cy="1176" rx="3.7" ry="1.6" fill="#565656"/><ellipse cx="1561" cy="1213" rx="4.1" ry="1.3" fill="#525252"/><ellipse cx="1682" cy="1231" rx="3.9" ry="1.5" fill="#757575"/><ellipse cx="1591" cy="1200" rx="4.1" ry="2.3" fill="#535353"/><ellipse cx="1534" cy="1209" rx="4.0" ry="2.0" fill="#757575"/><ellipse cx="1699" cy="1196" rx="1.7" ry="2.1" fill="#6d6d6d"/><ellipse cx="1700" cy="1188" rx="1.7" ry="2.1" fill="#737373"/><ellipse cx="1642" cy="1224" rx="3.4" ry="2.8" fill="#6c6c6c"/><ellipse cx="1501" cy="1242" rx="2.5" ry="2.4" fill="#565656"/><ellipse cx="1716" cy="1245" rx="2.7" ry="2.6" fill="#777777"/><ellipse cx="1662" cy="1194" rx="2.8" ry="2.9" fill="#787878"/><ellipse cx="1716" cy="1240" rx="3.1" ry="3.0" fill="#757575"/><ellipse cx="1528" cy="1236" rx="3.6" ry="2.1" fill="#535353"/><ellipse cx="1877" cy="1218" rx="3.5" ry="2.8" fill="#525252"/><ellipse cx="1666" cy="1243" rx="2.7" ry="1.5" fill="#6d6d6d"/><ellipse cx="1506" cy="1232" rx="4.1" ry="2.9" fill="#6e6e6e"/><ellipse cx="1873" cy="1183" rx="4.4" ry="2.6" fill="#565656"/><ellipse cx="1851" cy="1241" rx="2.8" ry="2.9" fill="#565656"/><ellipse cx="1491" cy="1242" rx="4.1" ry="2.6" fill="#747474"/><ellipse cx="1781" cy="1216" rx="2.3" ry="2.0" fill="#515151"/><ellipse cx="1490" cy="1212" rx="3.5" ry="2.0" fill="#6b6b6b"/><ellipse cx="1808" cy="1235" rx="3.1" ry="1.6" fill="#545454"/><ellipse cx="1611" cy="1243" rx="3.0" ry="2.2" fill="#535353"/><ellipse cx="1575" cy="1242" rx="4.0" ry="2.8" fill="#525252"/><ellipse cx="1508" cy="1187" rx="2.7" ry="2.1" fill="#787878"/><ellipse cx="1648" cy="1197" rx="2.6" ry="2.0" fill="#6d6d6d"/><ellipse cx="1752" cy="1217" rx="2.5" ry="3.0" fill="#525252"/><ellipse cx="1674" cy="1186" rx="3.6" ry="1.3" fill="#777777"/><ellipse cx="1559" cy="1233" rx="2.7" ry="2.7" fill="#565656"/><ellipse cx="1709" cy="1193" rx="2.5" ry="1.3" fill="#525252"/><ellipse cx="1489" cy="1217" rx="1.9" ry="2.0" fill="#545454"/><ellipse cx="1852" cy="1211" rx="4.5" ry="1.5" fill="#707070"/><ellipse cx="1835" cy="1206" rx="4.1" ry="1.5" fill="#707070"/><ellipse cx="1856" cy="1203" rx="3.1" ry="1.8" fill="#565656"/><ellipse cx="1511" cy="1187" rx="2.6" ry="1.5" fill="#515151"/><ellipse cx="1636" cy="1224" rx="3.7" ry="2.0" fill="#515151"/><ellipse cx="1523" cy="1199" rx="3.0" ry="1.5" fill="#757575"/><ellipse cx="1497" cy="1199" rx="2.4" ry="2.4" fill="#737373"/><ellipse cx="1500" cy="1176" rx="1.9" ry="2.2" fill="#6f6f6f"/><ellipse cx="1696" cy="1240" rx="3.1" ry="2.4" fill="#757575"/><ellipse cx="1556" cy="1198" rx="3.6" ry="2.5" fill="#787878"/><ellipse cx="1496" cy="1183" rx="3.2" ry="1.6" fill="#6d6d6d"/><ellipse cx="1482" cy="1240" rx="2.6" ry="1.7" fill="#6e6e6e"/><ellipse cx="1703" cy="1188" rx="3.8" ry="2.9" fill="#767676"/><ellipse cx="1728" cy="1236" rx="3.5" ry="1.7" fill="#707070"/><ellipse cx="1777" cy="1219" rx="3.9" ry="3.0" fill="#545454"/><ellipse cx="1486" cy="1185" rx="2.8" ry="2.3" fill="#515151"/><ellipse cx="1528" cy="1216" rx="2.4" ry="1.4" fill="#6b6b6b"/><ellipse cx="1549" cy="1234" rx="4.0" ry="2.6" fill="#555555"/><ellipse cx="1670" cy="1235" rx="4.2" ry="2.8" fill="#757575"/><ellipse cx="1688" cy="1237" rx="3.2" ry="1.6" fill="#6c6c6c"/><ellipse cx="1854" cy="1207" rx="2.6" ry="1.4" fill="#737373"/><ellipse cx="1852" cy="1227" rx="4.5" ry="1.7" fill="#555555"/><ellipse cx="1856" cy="1205" rx="3.6" ry="2.0" fill="#6c6c6c"/><ellipse cx="1483" cy="1208" rx="3.7" ry="2.7" fill="#757575"/><ellipse cx="1611" cy="1225" rx="3.0" ry="1.3" fill="#6b6b6b"/><ellipse cx="1826" cy="1218" rx="1.8" ry="2.2" fill="#535353"/><ellipse cx="1631" cy="1203" rx="4.0" ry="2.9" fill="#727272"/><ellipse cx="1788" cy="1222" rx="2.3" ry="2.0" fill="#747474"/><ellipse cx="1575" cy="1186" rx="3.7" ry="2.3" fill="#515151"/><ellipse cx="1559" cy="1202" rx="3.8" ry="2.1" fill="#6d6d6d"/><ellipse cx="1672" cy="1216" rx="3.4" ry="1.9" fill="#787878"/><ellipse cx="1626" cy="1208" rx="2.4" ry="2.9" fill="#535353"/><g filter="url(#bl18)"><ellipse cx="1504.7" cy="1215.9" rx="8.0" ry="7.0" fill="#969696"/><ellipse cx="1530.5" cy="1213.9" rx="14.0" ry="8.0" fill="#969696"/><ellipse cx="1576.0" cy="1213.9" rx="8.0" ry="7.0" fill="#969696"/><ellipse cx="1603.7" cy="1215.9" rx="6.0" ry="8.0" fill="#969696"/><ellipse cx="1647.3" cy="1194.1" rx="8.0" ry="6.0" fill="#969696"/><ellipse cx="1649.3" cy="1211.9" rx="8.0" ry="4.0" fill="#969696"/><ellipse cx="1720.6" cy="1190.1" rx="7.0" ry="4.0" fill="#969696"/><ellipse cx="1764.2" cy="1206.0" rx="5.0" ry="6.0" fill="#969696"/><ellipse cx="1811.7" cy="1219.8" rx="6.0" ry="7.0" fill="#969696"/><ellipse cx="1791.9" cy="1200.0" rx="6.0" ry="4.0" fill="#969696"/><ellipse cx="1683.0" cy="1200.0" rx="6.0" ry="3.0" fill="#969696"/><ellipse cx="1671.0" cy="1210.0" rx="5.0" ry="3.0" fill="#969696"/><ellipse cx="1692.9" cy="1213.9" rx="3.0" ry="3.0" fill="#969696"/><ellipse cx="1578.0" cy="1194.0" rx="4.0" ry="4.0" fill="#969696"/><ellipse cx="1623.5" cy="1198.0" rx="4.0" ry="4.0" fill="#969696"/><ellipse cx="1736.4" cy="1215.9" rx="6.0" ry="3.0" fill="#969696"/><ellipse cx="1702.8" cy="1235.7" rx="6.0" ry="2.4" fill="#969696"/><ellipse cx="1673.0" cy="1235.7" rx="5.0" ry="2.4" fill="#969696"/><ellipse cx="1554.2" cy="1237.7" rx="3.0" ry="3.0" fill="#969696"/><ellipse cx="1748.3" cy="1190.1" rx="3.0" ry="3.0" fill="#969696"/><ellipse cx="1782.0" cy="1229.8" rx="3.0" ry="3.0" fill="#969696"/><ellipse cx="1851.3" cy="1210.0" rx="3.0" ry="3.0" fill="#969696"/></g><path d="M1479.3 1172.3 L1483.3 1172.2 L1487.3 1172.3 L1491.3 1172.3 L1495.3 1172.1 L1499.3 1171.7 L1503.3 1171.6 L1507.3 1171.6 L1511.3 1171.5 L1515.3 1171.7 L1519.3 1171.7 L1523.3 1172.0 L1527.3 1172.2 L1531.3 1172.2 L1535.3 1172.1 L1539.3 1172.2 L1543.3 1172.2 L1547.3 1172.1 L1551.3 1172.1 L1555.3 1172.2 L1559.3 1172.3 L1563.3 1172.3 L1567.3 1172.1 L1571.3 1172.1 L1575.3 1171.7 L1579.3 1171.6 L1583.3 1171.6 L1587.3 1171.6 L1591.3 1171.8 L1595.3 1172.0 L1599.3 1172.0 L1603.3 1172.0 L1607.3 1172.1 L1611.3 1172.1 L1615.3 1171.9 L1619.3 1172.1 L1623.3 1172.0 L1627.3 1172.2 L1631.3 1172.4 L1635.3 1172.4 L1639.3 1172.4 L1643.3 1172.2 L1647.3 1172.1 L1651.3 1171.8 L1655.3 1171.6 L1659.3 1171.4 L1663.3 1171.5 L1667.3 1171.6 L1671.3 1171.9 L1675.3 1172.0 L1679.3 1172.2 L1683.3 1172.3 L1687.3 1172.3 L1691.3 1172.2 L1695.3 1172.0 L1699.3 1171.9 L1703.3 1172.1 L1707.3 1172.1 L1711.3 1172.1 L1715.3 1172.4 L1719.3 1172.4 L1723.3 1172.2 L1727.3 1172.0 L1731.3 1171.8 L1735.3 1171.7 L1739.3 1171.5 L1743.3 1171.5 L1747.3 1171.7 L1751.3 1171.8 L1755.3 1172.0 L1759.3 1172.2 L1763.3 1172.3 L1767.3 1172.3 L1771.3 1172.2 L1775.3 1172.3 L1779.3 1172.0 L1783.3 1172.1 L1787.3 1172.0 L1791.3 1172.0 L1795.3 1172.2 L1799.3 1172.1 L1803.3 1171.9 L1807.3 1171.9 L1811.3 1171.7 L1815.3 1171.8 L1819.3 1171.6 L1823.3 1171.8 L1827.3 1172.0 L1831.3 1172.0 L1835.3 1172.1 L1839.3 1172.3 L1843.3 1172.3 L1847.3 1172.2 L1851.3 1172.0 L1855.3 1172.1 L1859.3 1172.0 L1863.3 1172.2 L1867.3 1172.3 L1871.3 1172.2 L1875.3 1172.1 L1879.3 1172.0 L1883.3 1171.7 L1887.5 1171.7 L1887.5 1249.3 L1883.3 1249.3 L1879.3 1249.1 L1875.3 1249.0 L1871.3 1249.1 L1867.3 1249.4 L1863.3 1249.3 L1859.3 1249.2 L1855.3 1249.1 L1851.3 1249.2 L1847.3 1248.8 L1843.3 1248.4 L1839.3 1248.5 L1835.3 1248.8 L1831.3 1249.0 L1827.3 1249.0 L1823.3 1249.0 L1819.3 1249.2 L1815.3 1249.4 L1811.3 1249.4 L1807.3 1249.3 L1803.3 1249.2 L1799.3 1249.3 L1795.3 1249.0 L1791.3 1248.6 L1787.3 1248.9 L1783.3 1249.4 L1779.3 1249.1 L1775.3 1248.9 L1771.3 1249.0 L1767.3 1249.0 L1763.3 1248.9 L1759.3 1248.9 L1755.3 1248.9 L1751.3 1248.9 L1747.3 1248.8 L1743.3 1248.6 L1739.3 1248.6 L1735.3 1249.1 L1731.3 1249.2 L1727.3 1249.1 L1723.3 1249.1 L1719.3 1249.2 L1715.3 1249.3 L1711.3 1249.0 L1707.3 1249.0 L1703.3 1249.1 L1699.3 1249.2 L1695.3 1248.8 L1691.3 1248.6 L1687.3 1248.8 L1683.3 1249.0 L1679.3 1249.1 L1675.3 1248.8 L1671.3 1249.0 L1667.3 1248.9 L1663.3 1249.0 L1659.3 1248.8 L1655.3 1249.0 L1651.3 1249.4 L1647.3 1249.3 L1643.3 1248.9 L1639.3 1248.9 L1635.3 1249.2 L1631.3 1249.3 L1627.3 1249.1 L1623.3 1249.1 L1619.3 1249.1 L1615.3 1249.1 L1611.3 1248.9 L1607.3 1248.9 L1603.3 1249.2 L1599.3 1248.9 L1595.3 1248.7 L1591.3 1248.6 L1587.3 1248.9 L1583.3 1249.0 L1579.3 1249.0 L1575.3 1248.9 L1571.3 1249.3 L1567.3 1249.2 L1563.3 1249.2 L1559.3 1249.1 L1555.3 1249.3 L1551.3 1249.2 L1547.3 1249.1 L1543.3 1248.6 L1539.3 1248.8 L1535.3 1249.0 L1531.3 1249.1 L1527.3 1249.0 L1523.3 1249.0 L1519.3 1249.1 L1515.3 1249.0 L1511.3 1248.8 L1507.3 1248.9 L1503.3 1249.0 L1499.3 1248.9 L1495.3 1248.7 L1491.3 1248.7 L1487.3 1248.9 L1483.3 1249.4 L1479.3 1249.3 L1473.3 1249.3 L1473.3 1172.3Z" fill="none" stroke="#3c3c3c" stroke-width="10" stroke-opacity="0.7"/></g></g><path d="M1479.3 1172.3 L1483.3 1172.2 L1487.3 1172.3 L1491.3 1172.3 L1495.3 1172.1 L1499.3 1171.7 L1503.3 1171.6 L1507.3 1171.6 L1511.3 1171.5 L1515.3 1171.7 L1519.3 1171.7 L1523.3 1172.0 L1527.3 1172.2 L1531.3 1172.2 L1535.3 1172.1 L1539.3 1172.2 L1543.3 1172.2 L1547.3 1172.1 L1551.3 1172.1 L1555.3 1172.2 L1559.3 1172.3 L1563.3 1172.3 L1567.3 1172.1 L1571.3 1172.1 L1575.3 1171.7 L1579.3 1171.6 L1583.3 1171.6 L1587.3 1171.6 L1591.3 1171.8 L1595.3 1172.0 L1599.3 1172.0 L1603.3 1172.0 L1607.3 1172.1 L1611.3 1172.1 L1615.3 1171.9 L1619.3 1172.1 L1623.3 1172.0 L1627.3 1172.2 L1631.3 1172.4 L1635.3 1172.4 L1639.3 1172.4 L1643.3 1172.2 L1647.3 1172.1 L1651.3 1171.8 L1655.3 1171.6 L1659.3 1171.4 L1663.3 1171.5 L1667.3 1171.6 L1671.3 1171.9 L1675.3 1172.0 L1679.3 1172.2 L1683.3 1172.3 L1687.3 1172.3 L1691.3 1172.2 L1695.3 1172.0 L1699.3 1171.9 L1703.3 1172.1 L1707.3 1172.1 L1711.3 1172.1 L1715.3 1172.4 L1719.3 1172.4 L1723.3 1172.2 L1727.3 1172.0 L1731.3 1171.8 L1735.3 1171.7 L1739.3 1171.5 L1743.3 1171.5 L1747.3 1171.7 L1751.3 1171.8 L1755.3 1172.0 L1759.3 1172.2 L1763.3 1172.3 L1767.3 1172.3 L1771.3 1172.2 L1775.3 1172.3 L1779.3 1172.0 L1783.3 1172.1 L1787.3 1172.0 L1791.3 1172.0 L1795.3 1172.2 L1799.3 1172.1 L1803.3 1171.9 L1807.3 1171.9 L1811.3 1171.7 L1815.3 1171.8 L1819.3 1171.6 L1823.3 1171.8 L1827.3 1172.0 L1831.3 1172.0 L1835.3 1172.1 L1839.3 1172.3 L1843.3 1172.3 L1847.3 1172.2 L1851.3 1172.0 L1855.3 1172.1 L1859.3 1172.0 L1863.3 1172.2 L1867.3 1172.3 L1871.3 1172.2 L1875.3 1172.1 L1879.3 1172.0 L1883.3 1171.7 L1887.5 1171.7 L1887.5 1249.3 L1883.3 1249.3 L1879.3 1249.1 L1875.3 1249.0 L1871.3 1249.1 L1867.3 1249.4 L1863.3 1249.3 L1859.3 1249.2 L1855.3 1249.1 L1851.3 1249.2 L1847.3 1248.8 L1843.3 1248.4 L1839.3 1248.5 L1835.3 1248.8 L1831.3 1249.0 L1827.3 1249.0 L1823.3 1249.0 L1819.3 1249.2 L1815.3 1249.4 L1811.3 1249.4 L1807.3 1249.3 L1803.3 1249.2 L1799.3 1249.3 L1795.3 1249.0 L1791.3 1248.6 L1787.3 1248.9 L1783.3 1249.4 L1779.3 1249.1 L1775.3 1248.9 L1771.3 1249.0 L1767.3 1249.0 L1763.3 1248.9 L1759.3 1248.9 L1755.3 1248.9 L1751.3 1248.9 L1747.3 1248.8 L1743.3 1248.6 L1739.3 1248.6 L1735.3 1249.1 L1731.3 1249.2 L1727.3 1249.1 L1723.3 1249.1 L1719.3 1249.2 L1715.3 1249.3 L1711.3 1249.0 L1707.3 1249.0 L1703.3 1249.1 L1699.3 1249.2 L1695.3 1248.8 L1691.3 1248.6 L1687.3 1248.8 L1683.3 1249.0 L1679.3 1249.1 L1675.3 1248.8 L1671.3 1249.0 L1667.3 1248.9 L1663.3 1249.0 L1659.3 1248.8 L1655.3 1249.0 L1651.3 1249.4 L1647.3 1249.3 L1643.3 1248.9 L1639.3 1248.9 L1635.3 1249.2 L1631.3 1249.3 L1627.3 1249.1 L1623.3 1249.1 L1619.3 1249.1 L1615.3 1249.1 L1611.3 1248.9 L1607.3 1248.9 L1603.3 1249.2 L1599.3 1248.9 L1595.3 1248.7 L1591.3 1248.6 L1587.3 1248.9 L1583.3 1249.0 L1579.3 1249.0 L1575.3 1248.9 L1571.3 1249.3 L1567.3 1249.2 L1563.3 1249.2 L1559.3 1249.1 L1555.3 1249.3 L1551.3 1249.2 L1547.3 1249.1 L1543.3 1248.6 L1539.3 1248.8 L1535.3 1249.0 L1531.3 1249.1 L1527.3 1249.0 L1523.3 1249.0 L1519.3 1249.1 L1515.3 1249.0 L1511.3 1248.8 L1507.3 1248.9 L1503.3 1249.0 L1499.3 1248.9 L1495.3 1248.7 L1491.3 1248.7 L1487.3 1248.9 L1483.3 1249.4 L1479.3 1249.3 L1473.3 1249.3 L1473.3 1172.3Z" fill="none" stroke="#d8d8d8" stroke-width="2.4" filter="url(#bl07)"/></g></g>
<g clip-path="url(#cps8)"><g filter="url(#grain)"><rect x="1484.3" y="1275.3" width="392.8" height="133.0" fill="url(#sbg8)"/><path d="M1478.3 1296.0 L1482.3 1296.1 L1486.3 1295.9 L1490.3 1295.8 L1494.3 1295.7 L1498.3 1295.9 L1502.3 1296.1 L1506.3 1296.1 L1510.3 1295.9 L1514.3 1295.9 L1518.3 1296.1 L1522.3 1296.0 L1526.3 1295.9 L1530.3 1295.8 L1534.3 1296.0 L1538.3 1295.9 L1542.3 1295.8 L1546.3 1295.9 L1550.3 1296.0 L1554.3 1295.9 L1558.3 1295.8 L1562.3 1296.1 L1566.3 1296.4 L1570.3 1296.3 L1574.3 1296.1 L1578.3 1296.1 L1582.3 1296.2 L1586.3 1296.0 L1590.3 1295.9 L1594.3 1295.8 L1598.3 1295.7 L1602.3 1295.7 L1606.3 1295.8 L1610.3 1296.1 L1614.3 1296.2 L1618.3 1296.0 L1622.3 1295.8 L1626.3 1296.1 L1630.3 1296.5 L1634.3 1296.4 L1638.3 1295.9 L1642.3 1296.1 L1646.3 1296.0 L1650.3 1295.9 L1654.3 1295.9 L1658.3 1295.8 L1662.3 1295.9 L1666.3 1295.8 L1670.3 1295.8 L1674.3 1296.0 L1678.3 1296.3 L1682.3 1295.9 L1686.3 1295.9 L1690.3 1296.2 L1694.3 1296.2 L1698.3 1296.2 L1702.3 1295.7 L1706.3 1295.9 L1710.3 1295.8 L1714.3 1295.7 L1718.3 1295.8 L1722.3 1296.0 L1726.3 1296.0 L1730.3 1295.8 L1734.3 1296.1 L1738.3 1296.2 L1742.3 1296.3 L1746.3 1296.0 L1750.3 1295.9 L1754.3 1296.1 L1758.3 1296.1 L1762.3 1296.1 L1766.3 1295.8 L1770.3 1295.9 L1774.3 1295.8 L1778.3 1295.8 L1782.3 1295.9 L1786.3 1296.0 L1790.3 1296.1 L1794.3 1296.0 L1798.3 1296.0 L1802.3 1296.2 Q1809.0 1296.0 1809.0 1304.0 L1809.0 1364.4 Q1809.0 1372.4 1802.3 1371.9 L1802.3 1371.9 L1798.3 1372.0 L1794.3 1372.2 L1790.3 1372.3 L1786.3 1372.2 L1782.3 1372.2 L1778.3 1372.2 L1774.3 1372.6 L1770.3 1372.5 L1766.3 1372.5 L1762.3 1372.5 L1758.3 1372.8 L1754.3 1372.8 L1750.3 1372.6 L1746.3 1372.4 L1742.3 1372.4 L1738.3 1372.5 L1734.3 1372.1 L1730.3 1371.9 L1726.3 1372.2 L1722.3 1372.3 L1718.3 1372.4 L1714.3 1372.5 L1710.3 1372.3 L1706.3 1372.5 L1702.3 1372.5 L1698.3 1372.3 L1694.3 1372.2 L1690.3 1372.3 L1686.3 1372.7 L1682.3 1372.6 L1678.3 1372.3 L1674.3 1372.3 L1670.3 1372.4 L1666.3 1372.3 L1662.3 1372.2 L1658.3 1371.9 L1654.3 1372.2 L1650.3 1372.7 L1646.3 1372.7 L1642.3 1372.6 L1638.3 1372.8 L1634.3 1372.9 L1630.3 1372.7 L1626.3 1372.5 L1622.3 1372.3 L1618.3 1372.5 L1614.3 1372.7 L1610.3 1372.3 L1606.3 1372.0 L1602.3 1372.1 L1598.3 1372.1 L1594.3 1372.0 L1590.3 1371.8 L1586.3 1371.8 L1582.3 1372.4 L1578.3 1372.6 L1574.3 1372.6 L1570.3 1372.6 L1566.3 1372.8 L1562.3 1373.2 L1558.3 1372.8 L1554.3 1372.6 L1550.3 1372.6 L1546.3 1372.8 L1542.3 1372.6 L1538.3 1372.1 L1534.3 1372.1 L1530.3 1372.2 L1526.3 1372.1 L1522.3 1371.8 L1518.3 1371.6 L1514.3 1371.8 L1510.3 1372.3 L1506.3 1372.5 L1502.3 1372.5 L1498.3 1372.5 L1494.3 1373.0 L1490.3 1372.9 L1486.3 1372.6 L1482.3 1372.6 L1478.3 1372.6 L1472.3 1372.6 L1472.3 1296.0Z" fill="none" stroke="#ffffff" stroke-opacity="0.07" stroke-width="18" filter="url(#bl4)"/><path d="M1478.3 1296.0 L1482.3 1296.1 L1486.3 1295.9 L1490.3 1295.8 L1494.3 1295.7 L1498.3 1295.9 L1502.3 1296.1 L1506.3 1296.1 L1510.3 1295.9 L1514.3 1295.9 L1518.3 1296.1 L1522.3 1296.0 L1526.3 1295.9 L1530.3 1295.8 L1534.3 1296.0 L1538.3 1295.9 L1542.3 1295.8 L1546.3 1295.9 L1550.3 1296.0 L1554.3 1295.9 L1558.3 1295.8 L1562.3 1296.1 L1566.3 1296.4 L1570.3 1296.3 L1574.3 1296.1 L1578.3 1296.1 L1582.3 1296.2 L1586.3 1296.0 L1590.3 1295.9 L1594.3 1295.8 L1598.3 1295.7 L1602.3 1295.7 L1606.3 1295.8 L1610.3 1296.1 L1614.3 1296.2 L1618.3 1296.0 L1622.3 1295.8 L1626.3 1296.1 L1630.3 1296.5 L1634.3 1296.4 L1638.3 1295.9 L1642.3 1296.1 L1646.3 1296.0 L1650.3 1295.9 L1654.3 1295.9 L1658.3 1295.8 L1662.3 1295.9 L1666.3 1295.8 L1670.3 1295.8 L1674.3 1296.0 L1678.3 1296.3 L1682.3 1295.9 L1686.3 1295.9 L1690.3 1296.2 L1694.3 1296.2 L1698.3 1296.2 L1702.3 1295.7 L1706.3 1295.9 L1710.3 1295.8 L1714.3 1295.7 L1718.3 1295.8 L1722.3 1296.0 L1726.3 1296.0 L1730.3 1295.8 L1734.3 1296.1 L1738.3 1296.2 L1742.3 1296.3 L1746.3 1296.0 L1750.3 1295.9 L1754.3 1296.1 L1758.3 1296.1 L1762.3 1296.1 L1766.3 1295.8 L1770.3 1295.9 L1774.3 1295.8 L1778.3 1295.8 L1782.3 1295.9 L1786.3 1296.0 L1790.3 1296.1 L1794.3 1296.0 L1798.3 1296.0 L1802.3 1296.2 Q1809.0 1296.0 1809.0 1304.0 L1809.0 1364.4 Q1809.0 1372.4 1802.3 1371.9 L1802.3 1371.9 L1798.3 1372.0 L1794.3 1372.2 L1790.3 1372.3 L1786.3 1372.2 L1782.3 1372.2 L1778.3 1372.2 L1774.3 1372.6 L1770.3 1372.5 L1766.3 1372.5 L1762.3 1372.5 L1758.3 1372.8 L1754.3 1372.8 L1750.3 1372.6 L1746.3 1372.4 L1742.3 1372.4 L1738.3 1372.5 L1734.3 1372.1 L1730.3 1371.9 L1726.3 1372.2 L1722.3 1372.3 L1718.3 1372.4 L1714.3 1372.5 L1710.3 1372.3 L1706.3 1372.5 L1702.3 1372.5 L1698.3 1372.3 L1694.3 1372.2 L1690.3 1372.3 L1686.3 1372.7 L1682.3 1372.6 L1678.3 1372.3 L1674.3 1372.3 L1670.3 1372.4 L1666.3 1372.3 L1662.3 1372.2 L1658.3 1371.9 L1654.3 1372.2 L1650.3 1372.7 L1646.3 1372.7 L1642.3 1372.6 L1638.3 1372.8 L1634.3 1372.9 L1630.3 1372.7 L1626.3 1372.5 L1622.3 1372.3 L1618.3 1372.5 L1614.3 1372.7 L1610.3 1372.3 L1606.3 1372.0 L1602.3 1372.1 L1598.3 1372.1 L1594.3 1372.0 L1590.3 1371.8 L1586.3 1371.8 L1582.3 1372.4 L1578.3 1372.6 L1574.3 1372.6 L1570.3 1372.6 L1566.3 1372.8 L1562.3 1373.2 L1558.3 1372.8 L1554.3 1372.6 L1550.3 1372.6 L1546.3 1372.8 L1542.3 1372.6 L1538.3 1372.1 L1534.3 1372.1 L1530.3 1372.2 L1526.3 1372.1 L1522.3 1371.8 L1518.3 1371.6 L1514.3 1371.8 L1510.3 1372.3 L1506.3 1372.5 L1502.3 1372.5 L1498.3 1372.5 L1494.3 1373.0 L1490.3 1372.9 L1486.3 1372.6 L1482.3 1372.6 L1478.3 1372.6 L1472.3 1372.6 L1472.3 1296.0Z" fill="none" stroke="#ffffff" stroke-opacity="0.12" stroke-width="7" filter="url(#bl2)"/><rect x="1484.3" y="1285.0" width="318.7" height="11.0" fill="url(#hgt8)"/><rect x="1484.3" y="1372.4" width="318.7" height="12.0" fill="url(#hgb8)"/><g clip-path="url(#cst8)"><g filter="url(#mott8)"><rect x="1476.3" y="1291.0" width="408.8" height="86.4" fill="#666666"/><ellipse cx="1692" cy="1358" rx="4.4" ry="2.4" fill="#707070"/><ellipse cx="1715" cy="1367" rx="1.9" ry="1.8" fill="#5c5c5c"/><ellipse cx="1554" cy="1367" rx="2.7" ry="1.5" fill="#747474"/><ellipse cx="1541" cy="1364" rx="2.4" ry="1.7" fill="#5e5e5e"/><ellipse cx="1764" cy="1352" rx="2.2" ry="1.9" fill="#5d5d5d"/><ellipse cx="1518" cy="1322" rx="2.9" ry="2.8" fill="#727272"/><ellipse cx="1647" cy="1317" rx="1.9" ry="2.6" fill="#777777"/><ellipse cx="1752" cy="1354" rx="2.1" ry="1.9" fill="#626262"/><ellipse cx="1601" cy="1335" rx="4.4" ry="1.3" fill="#777777"/><ellipse cx="1530" cy="1334" rx="1.8" ry="1.9" fill="#5f5f5f"/><ellipse cx="1674" cy="1322" rx="3.2" ry="1.7" fill="#5f5f5f"/><ellipse cx="1754" cy="1312" rx="4.4" ry="1.8" fill="#5e5e5e"/><ellipse cx="1636" cy="1316" rx="3.0" ry="1.3" fill="#5e5e5e"/><ellipse cx="1764" cy="1365" rx="2.2" ry="2.3" fill="#606060"/><ellipse cx="1510" cy="1359" rx="3.3" ry="2.1" fill="#616161"/><ellipse cx="1791" cy="1311" rx="2.3" ry="1.4" fill="#616161"/><ellipse cx="1711" cy="1318" rx="2.4" ry="2.6" fill="#626262"/><ellipse cx="1740" cy="1307" rx="2.0" ry="2.9" fill="#747474"/><ellipse cx="1763" cy="1314" rx="3.1" ry="1.3" fill="#767676"/><ellipse cx="1803" cy="1354" rx="2.2" ry="2.4" fill="#5f5f5f"/><ellipse cx="1631" cy="1337" rx="2.7" ry="2.7" fill="#797979"/><ellipse cx="1661" cy="1367" rx="4.4" ry="2.9" fill="#727272"/><ellipse cx="1755" cy="1331" rx="3.9" ry="2.9" fill="#747474"/><ellipse cx="1731" cy="1358" rx="4.0" ry="2.2" fill="#787878"/><ellipse cx="1803" cy="1312" rx="2.9" ry="2.2" fill="#787878"/><ellipse cx="1713" cy="1330" rx="3.1" ry="2.1" fill="#797979"/><ellipse cx="1781" cy="1340" rx="3.8" ry="2.1" fill="#747474"/><ellipse cx="1518" cy="1345" rx="3.0" ry="1.5" fill="#777777"/><ellipse cx="1535" cy="1341" rx="2.2" ry="2.2" fill="#5e5e5e"/><ellipse cx="1762" cy="1312" rx="1.7" ry="2.2" fill="#787878"/><ellipse cx="1617" cy="1331" rx="2.3" ry="2.5" fill="#606060"/><ellipse cx="1737" cy="1313" rx="2.4" ry="1.9" fill="#777777"/><ellipse cx="1671" cy="1365" rx="2.4" ry="2.1" fill="#717171"/><ellipse cx="1640" cy="1326" rx="1.8" ry="2.8" fill="#737373"/><ellipse cx="1590" cy="1339" rx="4.1" ry="1.4" fill="#5c5c5c"/><ellipse cx="1705" cy="1357" rx="4.2" ry="1.3" fill="#767676"/><ellipse cx="1768" cy="1322" rx="1.7" ry="2.4" fill="#5d5d5d"/><ellipse cx="1782" cy="1365" rx="3.8" ry="1.2" fill="#747474"/><ellipse cx="1533" cy="1358" rx="3.1" ry="1.4" fill="#717171"/><ellipse cx="1501" cy="1301" rx="3.8" ry="1.6" fill="#797979"/><ellipse cx="1678" cy="1313" rx="2.3" ry="1.9" fill="#5d5d5d"/><ellipse cx="1629" cy="1363" rx="4.1" ry="1.5" fill="#747474"/><ellipse cx="1631" cy="1348" rx="3.7" ry="2.5" fill="#7a7a7a"/><ellipse cx="1559" cy="1360" rx="3.2" ry="1.9" fill="#787878"/><ellipse cx="1687" cy="1337" rx="1.8" ry="2.1" fill="#737373"/><ellipse cx="1586" cy="1340" rx="3.9" ry="2.4" fill="#626262"/><ellipse cx="1703" cy="1314" rx="1.5" ry="1.6" fill="#717171"/><ellipse cx="1596" cy="1317" rx="4.2" ry="2.6" fill="#747474"/><ellipse cx="1657" cy="1312" rx="3.9" ry="2.8" fill="#606060"/><ellipse cx="1716" cy="1369" rx="2.9" ry="2.0" fill="#767676"/><ellipse cx="1504" cy="1311" rx="1.9" ry="2.7" fill="#606060"/><ellipse cx="1676" cy="1361" rx="4.2" ry="2.6" fill="#5e5e5e"/><ellipse cx="1612" cy="1306" rx="4.4" ry="2.7" fill="#5f5f5f"/><ellipse cx="1662" cy="1318" rx="2.3" ry="2.1" fill="#606060"/><ellipse cx="1578" cy="1303" rx="4.1" ry="1.6" fill="#797979"/><ellipse cx="1496" cy="1302" rx="2.8" ry="1.8" fill="#787878"/><ellipse cx="1685" cy="1344" rx="3.3" ry="1.6" fill="#5e5e5e"/><ellipse cx="1669" cy="1355" rx="2.6" ry="2.3" fill="#717171"/><ellipse cx="1687" cy="1327" rx="2.1" ry="1.6" fill="#727272"/><ellipse cx="1540" cy="1312" rx="3.8" ry="2.8" fill="#606060"/><ellipse cx="1652" cy="1314" rx="4.2" ry="1.8" fill="#757575"/><ellipse cx="1730" cy="1304" rx="3.0" ry="1.8" fill="#7a7a7a"/><ellipse cx="1738" cy="1364" rx="3.9" ry="1.3" fill="#5d5d5d"/><ellipse cx="1489" cy="1307" rx="3.0" ry="1.7" fill="#767676"/><ellipse cx="1650" cy="1365" rx="4.0" ry="1.9" fill="#7a7a7a"/><ellipse cx="1714" cy="1369" rx="4.1" ry="2.0" fill="#616161"/><ellipse cx="1618" cy="1332" rx="3.9" ry="2.9" fill="#626262"/><ellipse cx="1725" cy="1326" rx="3.2" ry="2.1" fill="#717171"/><ellipse cx="1620" cy="1305" rx="4.4" ry="2.9" fill="#797979"/><ellipse cx="1732" cy="1327" rx="3.8" ry="2.2" fill="#626262"/><ellipse cx="1526" cy="1320" rx="4.2" ry="2.6" fill="#616161"/><ellipse cx="1740" cy="1332" rx="4.0" ry="1.8" fill="#777777"/><ellipse cx="1621" cy="1339" rx="3.0" ry="2.9" fill="#737373"/><ellipse cx="1710" cy="1328" rx="4.1" ry="1.4" fill="#5f5f5f"/><ellipse cx="1500" cy="1322" rx="2.5" ry="2.0" fill="#767676"/><ellipse cx="1517" cy="1329" rx="2.5" ry="2.2" fill="#797979"/><ellipse cx="1699" cy="1348" rx="4.4" ry="1.9" fill="#606060"/><ellipse cx="1556" cy="1368" rx="3.4" ry="2.0" fill="#616161"/><ellipse cx="1610" cy="1312" rx="3.4" ry="1.6" fill="#5d5d5d"/><ellipse cx="1532" cy="1305" rx="2.2" ry="2.2" fill="#5f5f5f"/><ellipse cx="1654" cy="1351" rx="4.3" ry="2.3" fill="#767676"/><ellipse cx="1651" cy="1314" rx="2.4" ry="1.6" fill="#616161"/><ellipse cx="1504" cy="1315" rx="2.4" ry="2.8" fill="#5d5d5d"/><ellipse cx="1655" cy="1322" rx="2.3" ry="1.2" fill="#747474"/><ellipse cx="1664" cy="1311" rx="2.0" ry="1.6" fill="#616161"/><ellipse cx="1533" cy="1321" rx="3.0" ry="3.0" fill="#747474"/><ellipse cx="1611" cy="1341" rx="3.4" ry="2.8" fill="#787878"/><ellipse cx="1762" cy="1314" rx="2.1" ry="1.3" fill="#5c5c5c"/><ellipse cx="1489" cy="1342" rx="3.8" ry="2.6" fill="#606060"/><ellipse cx="1665" cy="1313" rx="1.7" ry="1.3" fill="#606060"/><ellipse cx="1752" cy="1344" rx="2.9" ry="2.0" fill="#5d5d5d"/><ellipse cx="1689" cy="1369" rx="3.1" ry="2.5" fill="#747474"/><ellipse cx="1792" cy="1335" rx="4.5" ry="2.3" fill="#787878"/><ellipse cx="1784" cy="1299" rx="2.9" ry="2.6" fill="#626262"/><ellipse cx="1556" cy="1323" rx="3.2" ry="2.9" fill="#737373"/><ellipse cx="1652" cy="1345" rx="1.6" ry="2.2" fill="#616161"/><ellipse cx="1752" cy="1347" rx="2.3" ry="2.9" fill="#5e5e5e"/><ellipse cx="1499" cy="1354" rx="3.2" ry="1.5" fill="#7a7a7a"/><ellipse cx="1527" cy="1319" rx="2.9" ry="2.3" fill="#767676"/><ellipse cx="1487" cy="1335" rx="3.0" ry="2.0" fill="#5f5f5f"/><ellipse cx="1543" cy="1304" rx="1.6" ry="2.0" fill="#767676"/><ellipse cx="1796" cy="1369" rx="1.6" ry="2.6" fill="#5d5d5d"/><ellipse cx="1712" cy="1369" rx="1.9" ry="2.9" fill="#727272"/><ellipse cx="1694" cy="1330" rx="4.3" ry="1.6" fill="#5c5c5c"/><ellipse cx="1517" cy="1342" rx="4.4" ry="2.0" fill="#777777"/><ellipse cx="1503" cy="1361" rx="3.9" ry="2.7" fill="#5e5e5e"/><ellipse cx="1638" cy="1301" rx="1.6" ry="1.3" fill="#5f5f5f"/><ellipse cx="1482" cy="1351" rx="3.5" ry="1.2" fill="#5e5e5e"/><ellipse cx="1571" cy="1310" rx="2.0" ry="2.3" fill="#606060"/><ellipse cx="1712" cy="1328" rx="3.7" ry="1.9" fill="#797979"/><ellipse cx="1677" cy="1314" rx="2.4" ry="2.5" fill="#5d5d5d"/><ellipse cx="1529" cy="1363" rx="2.6" ry="2.5" fill="#767676"/><ellipse cx="1643" cy="1361" rx="1.7" ry="1.4" fill="#767676"/><ellipse cx="1507" cy="1337" rx="4.3" ry="1.2" fill="#767676"/><ellipse cx="1483" cy="1302" rx="3.6" ry="1.8" fill="#737373"/><ellipse cx="1560" cy="1361" rx="3.8" ry="2.7" fill="#5f5f5f"/><ellipse cx="1541" cy="1300" rx="1.7" ry="2.8" fill="#767676"/><ellipse cx="1687" cy="1303" rx="2.0" ry="1.6" fill="#5e5e5e"/><ellipse cx="1643" cy="1339" rx="3.2" ry="1.2" fill="#626262"/><ellipse cx="1582" cy="1300" rx="3.9" ry="2.9" fill="#737373"/><g filter="url(#bl18)"></g><path d="M1478.3 1296.0 L1482.3 1296.1 L1486.3 1295.9 L1490.3 1295.8 L1494.3 1295.7 L1498.3 1295.9 L1502.3 1296.1 L1506.3 1296.1 L1510.3 1295.9 L1514.3 1295.9 L1518.3 1296.1 L1522.3 1296.0 L1526.3 1295.9 L1530.3 1295.8 L1534.3 1296.0 L1538.3 1295.9 L1542.3 1295.8 L1546.3 1295.9 L1550.3 1296.0 L1554.3 1295.9 L1558.3 1295.8 L1562.3 1296.1 L1566.3 1296.4 L1570.3 1296.3 L1574.3 1296.1 L1578.3 1296.1 L1582.3 1296.2 L1586.3 1296.0 L1590.3 1295.9 L1594.3 1295.8 L1598.3 1295.7 L1602.3 1295.7 L1606.3 1295.8 L1610.3 1296.1 L1614.3 1296.2 L1618.3 1296.0 L1622.3 1295.8 L1626.3 1296.1 L1630.3 1296.5 L1634.3 1296.4 L1638.3 1295.9 L1642.3 1296.1 L1646.3 1296.0 L1650.3 1295.9 L1654.3 1295.9 L1658.3 1295.8 L1662.3 1295.9 L1666.3 1295.8 L1670.3 1295.8 L1674.3 1296.0 L1678.3 1296.3 L1682.3 1295.9 L1686.3 1295.9 L1690.3 1296.2 L1694.3 1296.2 L1698.3 1296.2 L1702.3 1295.7 L1706.3 1295.9 L1710.3 1295.8 L1714.3 1295.7 L1718.3 1295.8 L1722.3 1296.0 L1726.3 1296.0 L1730.3 1295.8 L1734.3 1296.1 L1738.3 1296.2 L1742.3 1296.3 L1746.3 1296.0 L1750.3 1295.9 L1754.3 1296.1 L1758.3 1296.1 L1762.3 1296.1 L1766.3 1295.8 L1770.3 1295.9 L1774.3 1295.8 L1778.3 1295.8 L1782.3 1295.9 L1786.3 1296.0 L1790.3 1296.1 L1794.3 1296.0 L1798.3 1296.0 L1802.3 1296.2 Q1809.0 1296.0 1809.0 1304.0 L1809.0 1364.4 Q1809.0 1372.4 1802.3 1371.9 L1802.3 1371.9 L1798.3 1372.0 L1794.3 1372.2 L1790.3 1372.3 L1786.3 1372.2 L1782.3 1372.2 L1778.3 1372.2 L1774.3 1372.6 L1770.3 1372.5 L1766.3 1372.5 L1762.3 1372.5 L1758.3 1372.8 L1754.3 1372.8 L1750.3 1372.6 L1746.3 1372.4 L1742.3 1372.4 L1738.3 1372.5 L1734.3 1372.1 L1730.3 1371.9 L1726.3 1372.2 L1722.3 1372.3 L1718.3 1372.4 L1714.3 1372.5 L1710.3 1372.3 L1706.3 1372.5 L1702.3 1372.5 L1698.3 1372.3 L1694.3 1372.2 L1690.3 1372.3 L1686.3 1372.7 L1682.3 1372.6 L1678.3 1372.3 L1674.3 1372.3 L1670.3 1372.4 L1666.3 1372.3 L1662.3 1372.2 L1658.3 1371.9 L1654.3 1372.2 L1650.3 1372.7 L1646.3 1372.7 L1642.3 1372.6 L1638.3 1372.8 L1634.3 1372.9 L1630.3 1372.7 L1626.3 1372.5 L1622.3 1372.3 L1618.3 1372.5 L1614.3 1372.7 L1610.3 1372.3 L1606.3 1372.0 L1602.3 1372.1 L1598.3 1372.1 L1594.3 1372.0 L1590.3 1371.8 L1586.3 1371.8 L1582.3 1372.4 L1578.3 1372.6 L1574.3 1372.6 L1570.3 1372.6 L1566.3 1372.8 L1562.3 1373.2 L1558.3 1372.8 L1554.3 1372.6 L1550.3 1372.6 L1546.3 1372.8 L1542.3 1372.6 L1538.3 1372.1 L1534.3 1372.1 L1530.3 1372.2 L1526.3 1372.1 L1522.3 1371.8 L1518.3 1371.6 L1514.3 1371.8 L1510.3 1372.3 L1506.3 1372.5 L1502.3 1372.5 L1498.3 1372.5 L1494.3 1373.0 L1490.3 1372.9 L1486.3 1372.6 L1482.3 1372.6 L1478.3 1372.6 L1472.3 1372.6 L1472.3 1296.0Z" fill="none" stroke="#484848" stroke-width="10" stroke-opacity="0.7"/></g></g><path d="M1478.3 1296.0 L1482.3 1296.1 L1486.3 1295.9 L1490.3 1295.8 L1494.3 1295.7 L1498.3 1295.9 L1502.3 1296.1 L1506.3 1296.1 L1510.3 1295.9 L1514.3 1295.9 L1518.3 1296.1 L1522.3 1296.0 L1526.3 1295.9 L1530.3 1295.8 L1534.3 1296.0 L1538.3 1295.9 L1542.3 1295.8 L1546.3 1295.9 L1550.3 1296.0 L1554.3 1295.9 L1558.3 1295.8 L1562.3 1296.1 L1566.3 1296.4 L1570.3 1296.3 L1574.3 1296.1 L1578.3 1296.1 L1582.3 1296.2 L1586.3 1296.0 L1590.3 1295.9 L1594.3 1295.8 L1598.3 1295.7 L1602.3 1295.7 L1606.3 1295.8 L1610.3 1296.1 L1614.3 1296.2 L1618.3 1296.0 L1622.3 1295.8 L1626.3 1296.1 L1630.3 1296.5 L1634.3 1296.4 L1638.3 1295.9 L1642.3 1296.1 L1646.3 1296.0 L1650.3 1295.9 L1654.3 1295.9 L1658.3 1295.8 L1662.3 1295.9 L1666.3 1295.8 L1670.3 1295.8 L1674.3 1296.0 L1678.3 1296.3 L1682.3 1295.9 L1686.3 1295.9 L1690.3 1296.2 L1694.3 1296.2 L1698.3 1296.2 L1702.3 1295.7 L1706.3 1295.9 L1710.3 1295.8 L1714.3 1295.7 L1718.3 1295.8 L1722.3 1296.0 L1726.3 1296.0 L1730.3 1295.8 L1734.3 1296.1 L1738.3 1296.2 L1742.3 1296.3 L1746.3 1296.0 L1750.3 1295.9 L1754.3 1296.1 L1758.3 1296.1 L1762.3 1296.1 L1766.3 1295.8 L1770.3 1295.9 L1774.3 1295.8 L1778.3 1295.8 L1782.3 1295.9 L1786.3 1296.0 L1790.3 1296.1 L1794.3 1296.0 L1798.3 1296.0 L1802.3 1296.2 Q1809.0 1296.0 1809.0 1304.0 L1809.0 1364.4 Q1809.0 1372.4 1802.3 1371.9 L1802.3 1371.9 L1798.3 1372.0 L1794.3 1372.2 L1790.3 1372.3 L1786.3 1372.2 L1782.3 1372.2 L1778.3 1372.2 L1774.3 1372.6 L1770.3 1372.5 L1766.3 1372.5 L1762.3 1372.5 L1758.3 1372.8 L1754.3 1372.8 L1750.3 1372.6 L1746.3 1372.4 L1742.3 1372.4 L1738.3 1372.5 L1734.3 1372.1 L1730.3 1371.9 L1726.3 1372.2 L1722.3 1372.3 L1718.3 1372.4 L1714.3 1372.5 L1710.3 1372.3 L1706.3 1372.5 L1702.3 1372.5 L1698.3 1372.3 L1694.3 1372.2 L1690.3 1372.3 L1686.3 1372.7 L1682.3 1372.6 L1678.3 1372.3 L1674.3 1372.3 L1670.3 1372.4 L1666.3 1372.3 L1662.3 1372.2 L1658.3 1371.9 L1654.3 1372.2 L1650.3 1372.7 L1646.3 1372.7 L1642.3 1372.6 L1638.3 1372.8 L1634.3 1372.9 L1630.3 1372.7 L1626.3 1372.5 L1622.3 1372.3 L1618.3 1372.5 L1614.3 1372.7 L1610.3 1372.3 L1606.3 1372.0 L1602.3 1372.1 L1598.3 1372.1 L1594.3 1372.0 L1590.3 1371.8 L1586.3 1371.8 L1582.3 1372.4 L1578.3 1372.6 L1574.3 1372.6 L1570.3 1372.6 L1566.3 1372.8 L1562.3 1373.2 L1558.3 1372.8 L1554.3 1372.6 L1550.3 1372.6 L1546.3 1372.8 L1542.3 1372.6 L1538.3 1372.1 L1534.3 1372.1 L1530.3 1372.2 L1526.3 1372.1 L1522.3 1371.8 L1518.3 1371.6 L1514.3 1371.8 L1510.3 1372.3 L1506.3 1372.5 L1502.3 1372.5 L1498.3 1372.5 L1494.3 1373.0 L1490.3 1372.9 L1486.3 1372.6 L1482.3 1372.6 L1478.3 1372.6 L1472.3 1372.6 L1472.3 1296.0Z" fill="none" stroke="#d8d8d8" stroke-width="2.4" filter="url(#bl07)"/></g></g>
<rect x="337.2" y="982" width="6.6" height="457" fill="#000"/>
<polygon points="340.5,965.3 350,983.8 331,983.8" fill="#000"/>
<rect x="340.7" y="1438.2" width="1613" height="6.5" fill="#000"/>
<polygon points="1971.1,1441.5 1953,1432.2 1953,1450.8" fill="#000"/>
<text x="312" y="1090.0" text-anchor="end" font-size="49.5">3.9 min</text>
<text x="312" y="1225.6" text-anchor="end" font-size="49.5">2.8 min</text>
<text x="312" y="1361.7" text-anchor="end" font-size="49.5">1.9 min</text>
<text transform="translate(144,1212) rotate(-90)" text-anchor="middle" font-size="49.5">Growth time</text>
<text x="639.0" y="1498.5" text-anchor="middle" font-size="49.5">100 nm</text>
<text x="1165.8" y="1498.5" text-anchor="middle" font-size="49.5">160 nm</text>
<text x="1691.0" y="1498.5" text-anchor="middle" font-size="49.5">240 nm</text>
<text x="1157.5" y="1566.5" text-anchor="middle" font-size="49.5">Nominal Width</text>
</svg></body></html>
